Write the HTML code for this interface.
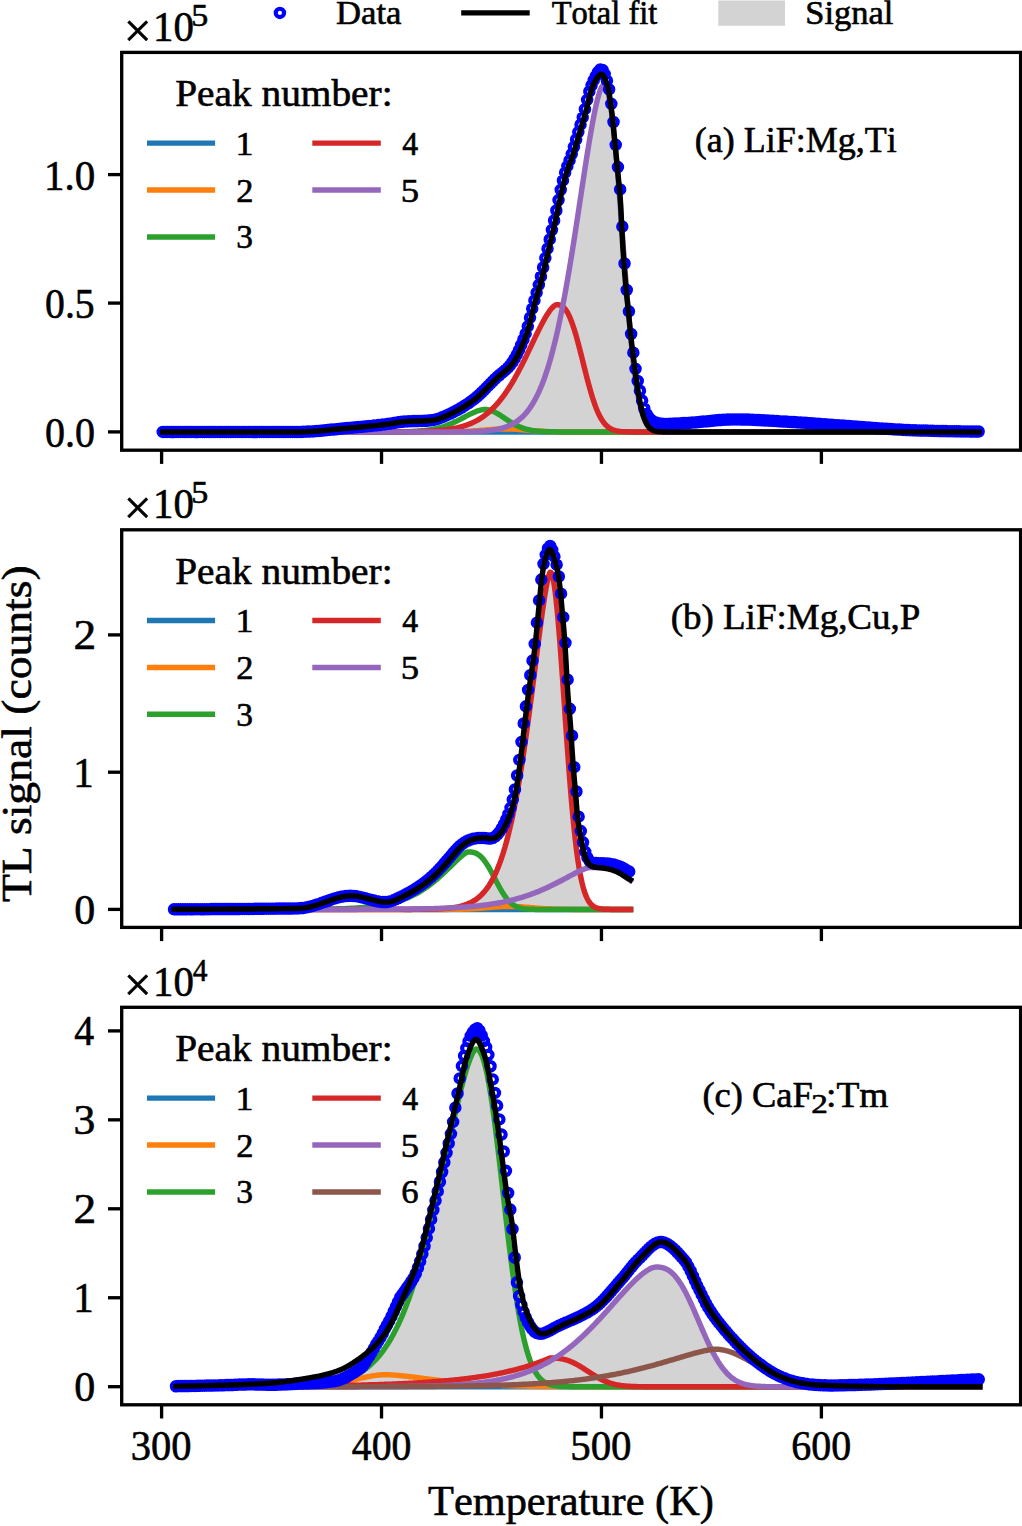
<!DOCTYPE html><html><head><meta charset="utf-8"><style>html,body{margin:0;padding:0;background:#fff;width:1022px;height:1526px;overflow:hidden;position:relative}</style></head><body><svg width="1022" height="1526" viewBox="0 0 1022 1526" style="position:absolute;left:0;top:0;font-family:'Liberation Serif',serif;font-kerning:none">
<style>text{stroke:#000;stroke-width:0.6px;stroke-linejoin:round}</style>
<rect width="1022" height="1526" fill="#fff"/>
<clipPath id="clipa"><rect x="121.7" y="52.4" width="898.9" height="397.8"/></clipPath>
<g clip-path="url(#clipa)">
<path d="M162.7,431.9 L163.7,431.9 L164.7,431.9 L165.7,431.9 L166.7,431.9 L167.7,431.9 L168.7,431.9 L169.7,431.9 L170.7,431.9 L171.7,431.9 L172.7,431.9 L173.7,431.9 L174.7,431.9 L175.7,431.9 L176.7,431.9 L177.7,431.9 L178.7,431.9 L179.7,431.9 L180.7,431.9 L181.7,431.9 L182.7,431.9 L183.7,431.9 L184.7,431.9 L185.7,431.9 L186.7,431.9 L187.7,431.9 L188.7,431.9 L189.7,431.9 L190.7,431.9 L191.7,431.9 L192.7,431.9 L193.7,431.9 L194.7,431.9 L195.7,431.9 L196.7,431.9 L197.7,431.9 L198.7,431.9 L199.7,431.9 L200.7,431.9 L201.7,431.9 L202.7,431.9 L203.7,431.9 L204.7,431.9 L205.7,431.9 L206.7,431.9 L207.7,431.9 L208.7,431.9 L209.7,431.9 L210.7,431.9 L211.7,431.9 L212.7,431.9 L213.7,431.9 L214.7,431.9 L215.7,431.9 L216.7,431.9 L217.7,431.9 L218.7,431.9 L219.7,431.9 L220.7,431.9 L221.7,431.9 L222.7,431.9 L223.7,431.9 L224.7,431.9 L225.7,431.9 L226.7,431.9 L227.7,431.9 L228.7,431.9 L229.7,431.9 L230.7,431.9 L231.7,431.9 L232.7,431.9 L233.7,431.9 L234.7,431.9 L235.7,431.9 L236.7,431.9 L237.7,431.9 L238.7,431.9 L239.7,431.9 L240.7,431.9 L241.7,431.9 L242.7,431.9 L243.7,431.9 L244.7,431.9 L245.7,431.9 L246.7,431.9 L247.7,431.9 L248.7,431.9 L249.7,431.9 L250.7,431.9 L251.7,431.9 L252.7,431.9 L253.7,431.9 L254.7,431.9 L255.7,431.9 L256.7,431.9 L257.7,431.9 L258.7,431.9 L259.7,431.9 L260.7,431.9 L261.7,431.9 L262.7,431.9 L263.7,431.9 L264.7,431.9 L265.7,431.9 L266.7,431.9 L267.7,431.9 L268.7,431.9 L269.7,431.9 L270.7,431.9 L271.7,431.9 L272.7,431.9 L273.7,431.9 L274.7,431.9 L275.7,431.9 L276.7,431.9 L277.7,431.9 L278.7,431.9 L279.7,431.9 L280.7,431.9 L281.7,431.9 L282.7,431.9 L283.7,431.9 L284.7,431.9 L285.7,431.9 L286.7,431.9 L287.7,431.9 L288.7,431.9 L289.7,431.9 L290.7,431.9 L291.7,431.9 L292.7,431.9 L293.7,431.9 L294.7,431.9 L295.7,431.9 L296.7,431.9 L297.7,431.9 L298.7,431.9 L299.7,431.9 L300.7,431.9 L301.7,431.9 L302.7,431.9 L303.7,431.9 L304.7,431.9 L305.7,431.9 L306.7,431.9 L307.7,431.9 L308.7,431.9 L309.7,431.9 L310.7,431.9 L311.7,431.9 L312.7,431.9 L313.7,431.9 L314.7,431.9 L315.7,431.9 L316.7,431.9 L317.7,431.9 L318.7,431.9 L319.7,431.9 L320.7,431.9 L321.7,431.9 L322.7,431.9 L323.7,431.9 L324.7,431.9 L325.7,431.9 L326.7,431.9 L327.7,431.9 L328.7,431.9 L329.7,431.9 L330.7,431.9 L331.7,431.9 L332.7,431.9 L333.7,431.9 L334.7,431.9 L335.7,431.9 L336.7,431.9 L337.7,431.9 L338.7,431.9 L339.7,431.9 L340.7,431.9 L341.7,431.9 L342.7,431.9 L343.7,431.9 L344.7,431.9 L345.7,431.9 L346.7,431.9 L347.7,431.9 L348.7,431.9 L349.7,431.9 L350.7,431.9 L351.7,431.9 L352.7,431.9 L353.7,431.9 L354.7,431.9 L355.7,431.9 L356.7,431.9 L357.7,431.9 L358.7,431.9 L359.7,431.9 L360.7,431.9 L361.7,431.9 L362.7,431.9 L363.7,431.9 L364.7,431.9 L365.7,431.9 L366.7,431.9 L367.7,431.9 L368.7,431.9 L369.7,431.9 L370.7,431.9 L371.7,431.9 L372.7,431.9 L373.7,431.9 L374.7,431.9 L375.7,431.9 L376.7,431.9 L377.7,431.9 L378.7,431.9 L379.7,431.9 L380.7,431.9 L381.7,431.9 L382.7,431.9 L383.7,431.9 L384.7,431.9 L385.7,431.9 L386.7,431.9 L387.7,431.9 L388.7,431.9 L389.7,431.8 L390.7,431.8 L391.7,431.8 L392.7,431.8 L393.7,431.8 L394.7,431.8 L395.7,431.8 L396.7,431.8 L397.7,431.8 L398.7,431.8 L399.7,431.8 L400.7,431.8 L401.7,431.8 L402.7,431.8 L403.7,431.8 L404.7,431.8 L405.7,431.7 L406.7,431.7 L407.7,431.7 L408.7,431.7 L409.7,431.7 L410.7,431.7 L411.7,431.7 L412.7,431.6 L413.7,431.6 L414.7,431.6 L415.7,431.6 L416.7,431.6 L417.7,431.5 L418.7,431.5 L419.7,431.5 L420.7,431.5 L421.7,431.4 L422.7,431.4 L423.7,431.4 L424.7,431.3 L425.7,431.3 L426.7,431.2 L427.7,431.2 L428.7,431.1 L429.7,431.1 L430.7,431.0 L431.7,431.0 L432.7,430.9 L433.7,430.9 L434.7,430.8 L435.7,430.7 L436.7,430.7 L437.7,430.6 L438.7,430.5 L439.7,430.4 L440.7,430.3 L441.7,430.2 L442.7,430.1 L443.7,430.0 L444.7,429.9 L445.7,429.8 L446.7,429.6 L447.7,429.5 L448.7,429.3 L449.7,429.2 L450.7,429.0 L451.7,428.9 L452.7,428.7 L453.7,428.5 L454.7,428.3 L455.7,428.1 L456.7,427.9 L457.7,427.7 L458.7,427.4 L459.7,427.2 L460.7,426.9 L461.7,426.6 L462.7,426.3 L463.7,426.0 L464.7,425.7 L465.7,425.4 L466.7,425.0 L467.7,424.7 L468.7,424.3 L469.7,423.9 L470.7,423.5 L471.7,423.1 L472.7,422.6 L473.7,422.1 L474.7,421.6 L475.7,421.1 L476.7,420.6 L477.7,420.0 L478.7,419.5 L479.7,418.9 L480.7,418.2 L481.7,417.6 L482.7,416.9 L483.7,416.2 L484.7,415.5 L485.7,414.7 L486.7,413.9 L487.7,413.1 L488.7,412.2 L489.7,411.4 L490.7,410.5 L491.7,409.5 L492.7,408.5 L493.7,407.5 L494.7,406.5 L495.7,405.4 L496.7,404.3 L497.7,403.2 L498.7,402.0 L499.7,400.8 L500.7,399.5 L501.7,398.3 L502.7,396.9 L503.7,395.6 L504.7,394.2 L505.7,392.8 L506.7,391.3 L507.7,389.8 L508.7,388.3 L509.7,386.7 L510.7,385.1 L511.7,383.5 L512.7,381.8 L513.7,380.1 L514.7,378.3 L515.7,376.5 L516.7,374.7 L517.7,372.9 L518.7,371.0 L519.7,369.1 L520.7,367.2 L521.7,365.2 L522.7,363.2 L523.7,361.2 L524.7,359.2 L525.7,357.2 L526.7,355.1 L527.7,353.0 L528.7,350.9 L529.7,348.9 L530.7,346.8 L531.7,344.6 L532.7,342.5 L533.7,340.4 L534.7,338.3 L535.7,336.2 L536.7,334.2 L537.7,332.1 L538.7,330.1 L539.7,328.1 L540.7,326.1 L541.7,324.2 L542.7,322.3 L543.7,320.4 L544.7,318.6 L545.7,316.9 L546.7,315.2 L547.7,313.7 L548.7,312.2 L549.7,310.7 L550.7,309.4 L551.7,308.2 L552.7,307.2 L553.7,306.2 L554.7,305.5 L555.7,304.9 L556.7,304.7 L557.7,304.7 L558.7,304.8 L559.7,305.0 L560.7,305.4 L561.7,305.9 L562.7,306.6 L563.7,307.4 L564.7,308.5 L565.7,309.7 L566.7,311.2 L567.7,312.9 L568.7,314.9 L569.7,317.0 L570.7,319.4 L571.7,322.0 L572.7,324.8 L573.7,327.8 L574.7,330.9 L575.7,334.3 L576.7,337.8 L577.7,341.4 L578.7,345.2 L579.7,349.0 L580.7,353.0 L581.7,356.9 L582.7,360.9 L583.7,365.0 L584.7,369.0 L585.7,372.9 L586.7,376.9 L587.7,380.7 L588.7,384.5 L589.7,388.1 L590.7,391.6 L591.7,395.0 L592.7,398.2 L593.7,401.2 L594.7,404.1 L595.7,406.9 L596.7,409.4 L597.7,411.8 L598.7,414.0 L599.7,416.0 L600.7,417.9 L601.7,419.6 L602.7,421.1 L603.7,422.5 L604.7,423.7 L605.7,424.9 L606.7,425.9 L607.7,426.7 L608.7,427.5 L609.7,428.2 L610.7,428.8 L611.7,429.3 L612.7,429.7 L613.7,430.1 L614.7,430.4 L615.7,430.7 L616.7,430.9 L617.7,431.1 L618.7,431.2 L619.7,431.4 L620.7,431.5 L621.7,431.6 L622.7,431.6 L623.7,431.7 L624.7,431.7 L625.7,431.8 L626.7,431.8 L627.7,431.8 L628.7,431.8 L629.7,431.9 L630.7,431.9 L631.7,431.9 L632.7,431.9 L633.7,431.9 L634.7,431.9 L635.7,431.9 L636.7,431.9 L637.7,431.9 L638.7,431.9 L639.7,431.9 L640.7,431.9 L641.7,431.9 L642.7,431.9 L643.7,431.9 L644.7,431.9 L645.7,431.9 L646.7,431.9 L647.7,431.9 L648.7,431.9 L649.7,431.9 L650.7,431.9 L651.7,431.9 L652.7,431.9 L653.7,431.9 L654.7,431.9 L655.7,431.9 L656.7,431.9 L657.7,431.9 L658.7,431.9 L659.7,431.9 L660.7,431.9 L661.7,431.9 L662.7,431.9 L663.7,431.9 L664.7,431.9 L665.7,431.9 L666.7,431.9 L667.7,431.9 L668.7,431.9 L669.7,431.9 L670.7,431.9 L671.7,431.9 L672.7,431.9 L673.7,431.9 L674.7,431.9 L675.7,431.9 L676.7,431.9 L677.7,431.9 L678.7,431.9 L679.7,431.9 L680.7,431.9 L681.7,431.9 L682.7,431.9 L683.7,431.9 L684.7,431.9 L685.7,431.9 L686.7,431.9 L687.7,431.9 L688.7,431.9 L689.7,431.9 L690.7,431.9 L691.7,431.9 L692.7,431.9 L693.7,431.9 L694.7,431.9 L695.7,431.9 L696.7,431.9 L697.7,431.9 L698.7,431.9 L699.7,431.9 L700.7,431.9 L701.7,431.9 L702.7,431.9 L703.7,431.9 L704.7,431.9 L705.7,431.9 L706.7,431.9 L707.7,431.9 L708.7,431.9 L709.7,431.9 L710.7,431.9 L711.7,431.9 L712.7,431.9 L713.7,431.9 L714.7,431.9 L715.7,431.9 L716.7,431.9 L717.7,431.9 L718.7,431.9 L719.7,431.9 L720.7,431.9 L721.7,431.9 L722.7,431.9 L723.7,431.9 L724.7,431.9 L725.7,431.9 L726.7,431.9 L727.7,431.9 L728.7,431.9 L729.7,431.9 L730.7,431.9 L731.7,431.9 L732.7,431.9 L733.7,431.9 L734.7,431.9 L735.7,431.9 L736.7,431.9 L737.7,431.9 L738.7,431.9 L739.7,431.9 L740.7,431.9 L741.7,431.9 L742.7,431.9 L743.7,431.9 L744.7,431.9 L745.7,431.9 L746.7,431.9 L747.7,431.9 L748.7,431.9 L749.7,431.9 L750.7,431.9 L751.7,431.9 L752.7,431.9 L753.7,431.9 L754.7,431.9 L755.7,431.9 L756.7,431.9 L757.7,431.9 L758.7,431.9 L759.7,431.9 L760.7,431.9 L761.7,431.9 L762.7,431.9 L763.7,431.9 L764.7,431.9 L765.7,431.9 L766.7,431.9 L767.7,431.9 L768.7,431.9 L769.7,431.9 L770.7,431.9 L771.7,431.9 L772.7,431.9 L773.7,431.9 L774.7,431.9 L775.7,431.9 L776.7,431.9 L777.7,431.9 L778.7,431.9 L779.7,431.9 L780.7,431.9 L781.7,431.9 L782.7,431.9 L783.7,431.9 L784.7,431.9 L785.7,431.9 L786.7,431.9 L787.7,431.9 L788.7,431.9 L789.7,431.9 L790.7,431.9 L791.7,431.9 L792.7,431.9 L793.7,431.9 L794.7,431.9 L795.7,431.9 L796.7,431.9 L797.7,431.9 L798.7,431.9 L799.7,431.9 L800.7,431.9 L801.7,431.9 L802.7,431.9 L803.7,431.9 L804.7,431.9 L805.7,431.9 L806.7,431.9 L807.7,431.9 L808.7,431.9 L809.7,431.9 L810.7,431.9 L811.7,431.9 L812.7,431.9 L813.7,431.9 L814.7,431.9 L815.7,431.9 L816.7,431.9 L817.7,431.9 L818.7,431.9 L819.7,431.9 L820.7,431.9 L821.7,431.9 L822.7,431.9 L823.7,431.9 L824.7,431.9 L825.7,431.9 L826.7,431.9 L827.7,431.9 L828.7,431.9 L829.7,431.9 L830.7,431.9 L831.7,431.9 L832.7,431.9 L833.7,431.9 L834.7,431.9 L835.7,431.9 L836.7,431.9 L837.7,431.9 L838.7,431.9 L839.7,431.9 L840.7,431.9 L841.7,431.9 L842.7,431.9 L843.7,431.9 L844.7,431.9 L845.7,431.9 L846.7,431.9 L847.7,431.9 L848.7,431.9 L849.7,431.9 L850.7,431.9 L851.7,431.9 L852.7,431.9 L853.7,431.9 L854.7,431.9 L855.7,431.9 L856.7,431.9 L857.7,431.9 L858.7,431.9 L859.7,431.9 L860.7,431.9 L861.7,431.9 L862.7,431.9 L863.7,431.9 L864.7,431.9 L865.7,431.9 L866.7,431.9 L867.7,431.9 L868.7,431.9 L869.7,431.9 L870.7,431.9 L871.7,431.9 L872.7,431.9 L873.7,431.9 L874.7,431.9 L875.7,431.9 L876.7,431.9 L877.7,431.9 L878.7,431.9 L879.7,431.9 L880.7,431.9 L881.7,431.9 L882.7,431.9 L883.7,431.9 L884.7,431.9 L885.7,431.9 L886.7,431.9 L887.7,431.9 L888.7,431.9 L889.7,431.9 L890.7,431.9 L891.7,431.9 L892.7,431.9 L893.7,431.9 L894.7,431.9 L895.7,431.9 L896.7,431.9 L897.7,431.9 L898.7,431.9 L899.7,431.9 L900.7,431.9 L901.7,431.9 L902.7,431.9 L903.7,431.9 L904.7,431.9 L905.7,431.9 L906.7,431.9 L907.7,431.9 L908.7,431.9 L909.7,431.9 L910.7,431.9 L911.7,431.9 L912.7,431.9 L913.7,431.9 L914.7,431.9 L915.7,431.9 L916.7,431.9 L917.7,431.9 L918.7,431.9 L919.7,431.9 L920.7,431.9 L921.7,431.9 L922.7,431.9 L923.7,431.9 L924.7,431.9 L925.7,431.9 L926.7,431.9 L927.7,431.9 L928.7,431.9 L929.7,431.9 L930.7,431.9 L931.7,431.9 L932.7,431.9 L933.7,431.9 L934.7,431.9 L935.7,431.9 L936.7,431.9 L937.7,431.9 L938.7,431.9 L939.7,431.9 L940.7,431.9 L941.7,431.9 L942.7,431.9 L943.7,431.9 L944.7,431.9 L945.7,431.9 L946.7,431.9 L947.7,431.9 L948.7,431.9 L949.7,431.9 L950.7,431.9 L951.7,431.9 L952.7,431.9 L953.7,431.9 L954.7,431.9 L955.7,431.9 L956.7,431.9 L957.7,431.9 L958.7,431.9 L959.7,431.9 L960.7,431.9 L961.7,431.9 L962.7,431.9 L963.7,431.9 L964.7,431.9 L965.7,431.9 L966.7,431.9 L967.7,431.9 L968.7,431.9 L969.7,431.9 L970.7,431.9 L971.7,431.9 L972.7,431.9 L973.7,431.9 L974.7,431.9 L975.7,431.9 L976.7,431.9 L977.7,431.9 L978.7,431.9 L979.0,431.9 L979.0,431.9 L162.7,431.9 Z" fill="#d3d3d3" stroke="none"/>
<path d="M162.7,431.9 L163.7,431.9 L164.7,431.9 L165.7,431.9 L166.7,431.9 L167.7,431.9 L168.7,431.9 L169.7,431.9 L170.7,431.9 L171.7,431.9 L172.7,431.9 L173.7,431.9 L174.7,431.9 L175.7,431.9 L176.7,431.9 L177.7,431.9 L178.7,431.9 L179.7,431.9 L180.7,431.9 L181.7,431.9 L182.7,431.9 L183.7,431.9 L184.7,431.9 L185.7,431.9 L186.7,431.9 L187.7,431.9 L188.7,431.9 L189.7,431.9 L190.7,431.9 L191.7,431.9 L192.7,431.9 L193.7,431.9 L194.7,431.9 L195.7,431.9 L196.7,431.9 L197.7,431.9 L198.7,431.9 L199.7,431.9 L200.7,431.9 L201.7,431.9 L202.7,431.9 L203.7,431.9 L204.7,431.9 L205.7,431.9 L206.7,431.9 L207.7,431.9 L208.7,431.9 L209.7,431.9 L210.7,431.9 L211.7,431.9 L212.7,431.9 L213.7,431.9 L214.7,431.9 L215.7,431.9 L216.7,431.9 L217.7,431.9 L218.7,431.9 L219.7,431.9 L220.7,431.9 L221.7,431.9 L222.7,431.9 L223.7,431.9 L224.7,431.9 L225.7,431.9 L226.7,431.9 L227.7,431.9 L228.7,431.9 L229.7,431.9 L230.7,431.9 L231.7,431.9 L232.7,431.9 L233.7,431.9 L234.7,431.9 L235.7,431.9 L236.7,431.9 L237.7,431.9 L238.7,431.9 L239.7,431.9 L240.7,431.9 L241.7,431.9 L242.7,431.9 L243.7,431.9 L244.7,431.9 L245.7,431.9 L246.7,431.9 L247.7,431.9 L248.7,431.9 L249.7,431.9 L250.7,431.9 L251.7,431.9 L252.7,431.9 L253.7,431.9 L254.7,431.9 L255.7,431.9 L256.7,431.9 L257.7,431.9 L258.7,431.9 L259.7,431.9 L260.7,431.9 L261.7,431.9 L262.7,431.9 L263.7,431.9 L264.7,431.9 L265.7,431.9 L266.7,431.9 L267.7,431.9 L268.7,431.9 L269.7,431.9 L270.7,431.9 L271.7,431.9 L272.7,431.9 L273.7,431.9 L274.7,431.9 L275.7,431.9 L276.7,431.9 L277.7,431.9 L278.7,431.9 L279.7,431.9 L280.7,431.9 L281.7,431.9 L282.7,431.9 L283.7,431.9 L284.7,431.9 L285.7,431.9 L286.7,431.9 L287.7,431.9 L288.7,431.9 L289.7,431.9 L290.7,431.9 L291.7,431.9 L292.7,431.9 L293.7,431.9 L294.7,431.9 L295.7,431.9 L296.7,431.9 L297.7,431.9 L298.7,431.9 L299.7,431.9 L300.7,431.9 L301.7,431.9 L302.7,431.9 L303.7,431.9 L304.7,431.9 L305.7,431.9 L306.7,431.9 L307.7,431.9 L308.7,431.9 L309.7,431.9 L310.7,431.9 L311.7,431.9 L312.7,431.9 L313.7,431.9 L314.7,431.9 L315.7,431.9 L316.7,431.9 L317.7,431.9 L318.7,431.9 L319.7,431.9 L320.7,431.9 L321.7,431.9 L322.7,431.9 L323.7,431.9 L324.7,431.9 L325.7,431.9 L326.7,431.9 L327.7,431.9 L328.7,431.9 L329.7,431.9 L330.7,431.9 L331.7,431.9 L332.7,431.9 L333.7,431.9 L334.7,431.9 L335.7,431.9 L336.7,431.9 L337.7,431.9 L338.7,431.9 L339.7,431.9 L340.7,431.9 L341.7,431.9 L342.7,431.9 L343.7,431.9 L344.7,431.9 L345.7,431.9 L346.7,431.9 L347.7,431.9 L348.7,431.9 L349.7,431.9 L350.7,431.9 L351.7,431.9 L352.7,431.9 L353.7,431.9 L354.7,431.9 L355.7,431.9 L356.7,431.9 L357.7,431.9 L358.7,431.9 L359.7,431.9 L360.7,431.9 L361.7,431.9 L362.7,431.9 L363.7,431.9 L364.7,431.9 L365.7,431.9 L366.7,431.9 L367.7,431.9 L368.7,431.9 L369.7,431.9 L370.7,431.9 L371.7,431.9 L372.7,431.9 L373.7,431.9 L374.7,431.9 L375.7,431.9 L376.7,431.9 L377.7,431.9 L378.7,431.9 L379.7,431.9 L380.7,431.9 L381.7,431.9 L382.7,431.9 L383.7,431.9 L384.7,431.9 L385.7,431.9 L386.7,431.9 L387.7,431.9 L388.7,431.9 L389.7,431.9 L390.7,431.9 L391.7,431.9 L392.7,431.9 L393.7,431.9 L394.7,431.9 L395.7,431.9 L396.7,431.9 L397.7,431.9 L398.7,431.9 L399.7,431.9 L400.7,431.9 L401.7,431.9 L402.7,431.9 L403.7,431.9 L404.7,431.9 L405.7,431.9 L406.7,431.9 L407.7,431.9 L408.7,431.9 L409.7,431.9 L410.7,431.9 L411.7,431.9 L412.7,431.9 L413.7,431.9 L414.7,431.9 L415.7,431.9 L416.7,431.9 L417.7,431.9 L418.7,431.9 L419.7,431.9 L420.7,431.9 L421.7,431.9 L422.7,431.9 L423.7,431.9 L424.7,431.9 L425.7,431.9 L426.7,431.9 L427.7,431.9 L428.7,431.9 L429.7,431.9 L430.7,431.9 L431.7,431.9 L432.7,431.9 L433.7,431.9 L434.7,431.9 L435.7,431.9 L436.7,431.9 L437.7,431.9 L438.7,431.9 L439.7,431.9 L440.7,431.9 L441.7,431.9 L442.7,431.9 L443.7,431.9 L444.7,431.9 L445.7,431.9 L446.7,431.9 L447.7,431.9 L448.7,431.9 L449.7,431.9 L450.7,431.9 L451.7,431.8 L452.7,431.8 L453.7,431.8 L454.7,431.8 L455.7,431.8 L456.7,431.8 L457.7,431.8 L458.7,431.8 L459.7,431.8 L460.7,431.8 L461.7,431.8 L462.7,431.8 L463.7,431.7 L464.7,431.7 L465.7,431.7 L466.7,431.7 L467.7,431.7 L468.7,431.6 L469.7,431.6 L470.7,431.6 L471.7,431.6 L472.7,431.5 L473.7,431.5 L474.7,431.5 L475.7,431.4 L476.7,431.4 L477.7,431.4 L478.7,431.3 L479.7,431.3 L480.7,431.2 L481.7,431.1 L482.7,431.1 L483.7,431.0 L484.7,430.9 L485.7,430.8 L486.7,430.8 L487.7,430.7 L488.7,430.6 L489.7,430.4 L490.7,430.3 L491.7,430.2 L492.7,430.1 L493.7,429.9 L494.7,429.8 L495.7,429.6 L496.7,429.4 L497.7,429.2 L498.7,429.0 L499.7,428.8 L500.7,428.5 L501.7,428.3 L502.7,428.0 L503.7,427.7 L504.7,427.4 L505.7,427.0 L506.7,426.7 L507.7,426.3 L508.7,425.9 L509.7,425.4 L510.7,425.0 L511.7,424.5 L512.7,424.0 L513.7,423.4 L514.7,422.8 L515.7,422.2 L516.7,421.5 L517.7,420.8 L518.7,420.0 L519.7,419.2 L520.7,418.4 L521.7,417.5 L522.7,416.6 L523.7,415.6 L524.7,414.5 L525.7,413.4 L526.7,412.2 L527.7,411.0 L528.7,409.6 L529.7,408.3 L530.7,406.8 L531.7,405.3 L532.7,403.7 L533.7,402.0 L534.7,400.2 L535.7,398.4 L536.7,396.4 L537.7,394.4 L538.7,392.3 L539.7,390.0 L540.7,387.7 L541.7,385.3 L542.7,382.7 L543.7,380.1 L544.7,377.3 L545.7,374.4 L546.7,371.4 L547.7,368.3 L548.7,365.0 L549.7,361.7 L550.7,358.2 L551.7,354.6 L552.7,350.8 L553.7,346.9 L554.7,342.9 L555.7,338.8 L556.7,334.5 L557.7,330.1 L558.7,325.5 L559.7,320.8 L560.7,316.0 L561.7,311.0 L562.7,306.0 L563.7,300.7 L564.7,295.4 L565.7,289.9 L566.7,284.3 L567.7,278.6 L568.7,272.8 L569.7,266.9 L570.7,260.9 L571.7,254.8 L572.7,248.5 L573.7,242.2 L574.7,235.9 L575.7,229.4 L576.7,222.9 L577.7,216.4 L578.7,209.8 L579.7,203.2 L580.7,196.6 L581.7,190.0 L582.7,183.4 L583.7,176.9 L584.7,170.3 L585.7,163.9 L586.7,157.5 L587.7,151.2 L588.7,145.1 L589.7,139.0 L590.7,133.2 L591.7,127.5 L592.7,122.0 L593.7,116.8 L594.7,111.8 L595.7,107.1 L596.7,102.7 L597.7,98.7 L598.7,95.0 L599.7,91.8 L600.7,89.1 L601.7,87.0 L602.7,85.6 L603.7,85.2 L604.7,85.6 L605.7,86.8 L606.7,88.7 L607.7,91.7 L608.7,95.5 L609.7,100.4 L610.7,106.4 L611.7,113.3 L612.7,121.2 L613.7,130.1 L614.7,139.8 L615.7,150.4 L616.7,161.7 L617.7,173.6 L618.7,186.1 L619.7,199.0 L620.7,212.1 L621.7,225.5 L622.7,239.0 L623.7,252.4 L624.7,265.7 L625.7,278.8 L626.7,291.5 L627.7,303.8 L628.7,315.6 L629.7,326.9 L630.7,337.5 L631.7,347.6 L632.7,356.9 L633.7,365.6 L634.7,373.6 L635.7,380.9 L636.7,387.5 L637.7,393.5 L638.7,398.9 L639.7,403.6 L640.7,407.9 L641.7,411.6 L642.7,414.8 L643.7,417.6 L644.7,420.0 L645.7,422.1 L646.7,423.8 L647.7,425.3 L648.7,426.6 L649.7,427.6 L650.7,428.5 L651.7,429.2 L652.7,429.7 L653.7,430.2 L654.7,430.6 L655.7,430.9 L656.7,431.1 L657.7,431.3 L658.7,431.4 L659.7,431.5 L660.7,431.6 L661.7,431.7 L662.7,431.8 L663.7,431.8 L664.7,431.8 L665.7,431.8 L666.7,431.9 L667.7,431.9 L668.7,431.9 L669.7,431.9 L670.7,431.9 L671.7,431.9 L672.7,431.9 L673.7,431.9 L674.7,431.9 L675.7,431.9 L676.7,431.9 L677.7,431.9 L678.7,431.9 L679.7,431.9 L680.7,431.9 L681.7,431.9 L682.7,431.9 L683.7,431.9 L684.7,431.9 L685.7,431.9 L686.7,431.9 L687.7,431.9 L688.7,431.9 L689.7,431.9 L690.7,431.9 L691.7,431.9 L692.7,431.9 L693.7,431.9 L694.7,431.9 L695.7,431.9 L696.7,431.9 L697.7,431.9 L698.7,431.9 L699.7,431.9 L700.7,431.9 L701.7,431.9 L702.7,431.9 L703.7,431.9 L704.7,431.9 L705.7,431.9 L706.7,431.9 L707.7,431.9 L708.7,431.9 L709.7,431.9 L710.7,431.9 L711.7,431.9 L712.7,431.9 L713.7,431.9 L714.7,431.9 L715.7,431.9 L716.7,431.9 L717.7,431.9 L718.7,431.9 L719.7,431.9 L720.7,431.9 L721.7,431.9 L722.7,431.9 L723.7,431.9 L724.7,431.9 L725.7,431.9 L726.7,431.9 L727.7,431.9 L728.7,431.9 L729.7,431.9 L730.7,431.9 L731.7,431.9 L732.7,431.9 L733.7,431.9 L734.7,431.9 L735.7,431.9 L736.7,431.9 L737.7,431.9 L738.7,431.9 L739.7,431.9 L740.7,431.9 L741.7,431.9 L742.7,431.9 L743.7,431.9 L744.7,431.9 L745.7,431.9 L746.7,431.9 L747.7,431.9 L748.7,431.9 L749.7,431.9 L750.7,431.9 L751.7,431.9 L752.7,431.9 L753.7,431.9 L754.7,431.9 L755.7,431.9 L756.7,431.9 L757.7,431.9 L758.7,431.9 L759.7,431.9 L760.7,431.9 L761.7,431.9 L762.7,431.9 L763.7,431.9 L764.7,431.9 L765.7,431.9 L766.7,431.9 L767.7,431.9 L768.7,431.9 L769.7,431.9 L770.7,431.9 L771.7,431.9 L772.7,431.9 L773.7,431.9 L774.7,431.9 L775.7,431.9 L776.7,431.9 L777.7,431.9 L778.7,431.9 L779.7,431.9 L780.7,431.9 L781.7,431.9 L782.7,431.9 L783.7,431.9 L784.7,431.9 L785.7,431.9 L786.7,431.9 L787.7,431.9 L788.7,431.9 L789.7,431.9 L790.7,431.9 L791.7,431.9 L792.7,431.9 L793.7,431.9 L794.7,431.9 L795.7,431.9 L796.7,431.9 L797.7,431.9 L798.7,431.9 L799.7,431.9 L800.7,431.9 L801.7,431.9 L802.7,431.9 L803.7,431.9 L804.7,431.9 L805.7,431.9 L806.7,431.9 L807.7,431.9 L808.7,431.9 L809.7,431.9 L810.7,431.9 L811.7,431.9 L812.7,431.9 L813.7,431.9 L814.7,431.9 L815.7,431.9 L816.7,431.9 L817.7,431.9 L818.7,431.9 L819.7,431.9 L820.7,431.9 L821.7,431.9 L822.7,431.9 L823.7,431.9 L824.7,431.9 L825.7,431.9 L826.7,431.9 L827.7,431.9 L828.7,431.9 L829.7,431.9 L830.7,431.9 L831.7,431.9 L832.7,431.9 L833.7,431.9 L834.7,431.9 L835.7,431.9 L836.7,431.9 L837.7,431.9 L838.7,431.9 L839.7,431.9 L840.7,431.9 L841.7,431.9 L842.7,431.9 L843.7,431.9 L844.7,431.9 L845.7,431.9 L846.7,431.9 L847.7,431.9 L848.7,431.9 L849.7,431.9 L850.7,431.9 L851.7,431.9 L852.7,431.9 L853.7,431.9 L854.7,431.9 L855.7,431.9 L856.7,431.9 L857.7,431.9 L858.7,431.9 L859.7,431.9 L860.7,431.9 L861.7,431.9 L862.7,431.9 L863.7,431.9 L864.7,431.9 L865.7,431.9 L866.7,431.9 L867.7,431.9 L868.7,431.9 L869.7,431.9 L870.7,431.9 L871.7,431.9 L872.7,431.9 L873.7,431.9 L874.7,431.9 L875.7,431.9 L876.7,431.9 L877.7,431.9 L878.7,431.9 L879.7,431.9 L880.7,431.9 L881.7,431.9 L882.7,431.9 L883.7,431.9 L884.7,431.9 L885.7,431.9 L886.7,431.9 L887.7,431.9 L888.7,431.9 L889.7,431.9 L890.7,431.9 L891.7,431.9 L892.7,431.9 L893.7,431.9 L894.7,431.9 L895.7,431.9 L896.7,431.9 L897.7,431.9 L898.7,431.9 L899.7,431.9 L900.7,431.9 L901.7,431.9 L902.7,431.9 L903.7,431.9 L904.7,431.9 L905.7,431.9 L906.7,431.9 L907.7,431.9 L908.7,431.9 L909.7,431.9 L910.7,431.9 L911.7,431.9 L912.7,431.9 L913.7,431.9 L914.7,431.9 L915.7,431.9 L916.7,431.9 L917.7,431.9 L918.7,431.9 L919.7,431.9 L920.7,431.9 L921.7,431.9 L922.7,431.9 L923.7,431.9 L924.7,431.9 L925.7,431.9 L926.7,431.9 L927.7,431.9 L928.7,431.9 L929.7,431.9 L930.7,431.9 L931.7,431.9 L932.7,431.9 L933.7,431.9 L934.7,431.9 L935.7,431.9 L936.7,431.9 L937.7,431.9 L938.7,431.9 L939.7,431.9 L940.7,431.9 L941.7,431.9 L942.7,431.9 L943.7,431.9 L944.7,431.9 L945.7,431.9 L946.7,431.9 L947.7,431.9 L948.7,431.9 L949.7,431.9 L950.7,431.9 L951.7,431.9 L952.7,431.9 L953.7,431.9 L954.7,431.9 L955.7,431.9 L956.7,431.9 L957.7,431.9 L958.7,431.9 L959.7,431.9 L960.7,431.9 L961.7,431.9 L962.7,431.9 L963.7,431.9 L964.7,431.9 L965.7,431.9 L966.7,431.9 L967.7,431.9 L968.7,431.9 L969.7,431.9 L970.7,431.9 L971.7,431.9 L972.7,431.9 L973.7,431.9 L974.7,431.9 L975.7,431.9 L976.7,431.9 L977.7,431.9 L978.7,431.9 L979.0,431.9 L979.0,431.9 L162.7,431.9 Z" fill="#d3d3d3" stroke="none"/>
<path d="M162.7,431.9 L163.7,431.9 L164.7,431.9 L165.7,431.9 L166.7,431.9 L167.7,431.9 L168.7,431.9 L169.7,431.9 L170.7,431.9 L171.7,431.9 L172.7,431.9 L173.7,431.9 L174.7,431.9 L175.7,431.9 L176.7,431.9 L177.7,431.9 L178.7,431.9 L179.7,431.9 L180.7,431.9 L181.7,431.9 L182.7,431.9 L183.7,431.9 L184.7,431.9 L185.7,431.9 L186.7,431.9 L187.7,431.9 L188.7,431.9 L189.7,431.9 L190.7,431.9 L191.7,431.9 L192.7,431.9 L193.7,431.9 L194.7,431.9 L195.7,431.9 L196.7,431.9 L197.7,431.9 L198.7,431.9 L199.7,431.9 L200.7,431.9 L201.7,431.9 L202.7,431.9 L203.7,431.9 L204.7,431.9 L205.7,431.9 L206.7,431.9 L207.7,431.9 L208.7,431.9 L209.7,431.9 L210.7,431.9 L211.7,431.9 L212.7,431.9 L213.7,431.9 L214.7,431.9 L215.7,431.9 L216.7,431.9 L217.7,431.9 L218.7,431.9 L219.7,431.9 L220.7,431.9 L221.7,431.9 L222.7,431.9 L223.7,431.9 L224.7,431.9 L225.7,431.9 L226.7,431.9 L227.7,431.9 L228.7,431.9 L229.7,431.9 L230.7,431.9 L231.7,431.9 L232.7,431.9 L233.7,431.9 L234.7,431.9 L235.7,431.9 L236.7,431.9 L237.7,431.9 L238.7,431.9 L239.7,431.9 L240.7,431.9 L241.7,431.9 L242.7,431.9 L243.7,431.9 L244.7,431.9 L245.7,431.9 L246.7,431.9 L247.7,431.9 L248.7,431.9 L249.7,431.9 L250.7,431.9 L251.7,431.9 L252.7,431.9 L253.7,431.9 L254.7,431.9 L255.7,431.9 L256.7,431.9 L257.7,431.9 L258.7,431.9 L259.7,431.9 L260.7,431.9 L261.7,431.9 L262.7,431.9 L263.7,431.9 L264.7,431.9 L265.7,431.9 L266.7,431.9 L267.7,431.9 L268.7,431.9 L269.7,431.9 L270.7,431.9 L271.7,431.9 L272.7,431.9 L273.7,431.9 L274.7,431.9 L275.7,431.9 L276.7,431.9 L277.7,431.9 L278.7,431.9 L279.7,431.9 L280.7,431.9 L281.7,431.9 L282.7,431.9 L283.7,431.9 L284.7,431.9 L285.7,431.9 L286.7,431.9 L287.7,431.9 L288.7,431.9 L289.7,431.9 L290.7,431.9 L291.7,431.9 L292.7,431.9 L293.7,431.9 L294.7,431.9 L295.7,431.9 L296.7,431.9 L297.7,431.9 L298.7,431.9 L299.7,431.9 L300.7,431.9 L301.7,431.9 L302.7,431.9 L303.7,431.9 L304.7,431.9 L305.7,431.9 L306.7,431.9 L307.7,431.9 L308.7,431.9 L309.7,431.9 L310.7,431.9 L311.7,431.9 L312.7,431.9 L313.7,431.9 L314.7,431.9 L315.7,431.9 L316.7,431.9 L317.7,431.9 L318.7,431.9 L319.7,431.9 L320.7,431.9 L321.7,431.9 L322.7,431.9 L323.7,431.9 L324.7,431.9 L325.7,431.9 L326.7,431.9 L327.7,431.9 L328.7,431.9 L329.7,431.9 L330.7,431.9 L331.7,431.9 L332.7,431.9 L333.7,431.9 L334.7,431.9 L335.7,431.9 L336.7,431.9 L337.7,431.9 L338.7,431.9 L339.7,431.9 L340.7,431.9 L341.7,431.9 L342.7,431.9 L343.7,431.9 L344.7,431.9 L345.7,431.9 L346.7,431.9 L347.7,431.9 L348.7,431.9 L349.7,431.9 L350.7,431.9 L351.7,431.9 L352.7,431.9 L353.7,431.9 L354.7,431.9 L355.7,431.9 L356.7,431.9 L357.7,431.9 L358.7,431.9 L359.7,431.9 L360.7,431.9 L361.7,431.9 L362.7,431.9 L363.7,431.9 L364.7,431.9 L365.7,431.9 L366.7,431.9 L367.7,431.9 L368.7,431.9 L369.7,431.9 L370.7,431.9 L371.7,431.9 L372.7,431.9 L373.7,431.9 L374.7,431.9 L375.7,431.9 L376.7,431.9 L377.7,431.9 L378.7,431.9 L379.7,431.9 L380.7,431.9 L381.7,431.9 L382.7,431.9 L383.7,431.9 L384.7,431.9 L385.7,431.9 L386.7,431.9 L387.7,431.9 L388.7,431.9 L389.7,431.9 L390.7,431.9 L391.7,431.9 L392.7,431.9 L393.7,431.9 L394.7,431.9 L395.7,431.9 L396.7,431.9 L397.7,431.9 L398.7,431.9 L399.7,431.9 L400.7,431.9 L401.7,431.9 L402.7,431.9 L403.7,431.9 L404.7,431.9 L405.7,431.9 L406.7,431.9 L407.7,431.9 L408.7,431.9 L409.7,431.9 L410.7,431.9 L411.7,431.9 L412.7,431.9 L413.7,431.9 L414.7,431.9 L415.7,431.9 L416.7,431.9 L417.7,431.9 L418.7,431.9 L419.7,431.9 L420.7,431.9 L421.7,431.9 L422.7,431.9 L423.7,431.9 L424.7,431.9 L425.7,431.9 L426.7,431.9 L427.7,431.9 L428.7,431.9 L429.7,431.9 L430.7,431.9 L431.7,431.9 L432.7,431.9 L433.7,431.9 L434.7,431.9 L435.7,431.9 L436.7,431.9 L437.7,431.9 L438.7,431.9 L439.7,431.9 L440.7,431.9 L441.7,431.9 L442.7,431.9 L443.7,431.9 L444.7,431.9 L445.7,431.9 L446.7,431.9 L447.7,431.9 L448.7,431.9 L449.7,431.9 L450.7,431.9 L451.7,431.9 L452.7,431.9 L453.7,431.9 L454.7,431.9 L455.7,431.9 L456.7,431.9 L457.7,431.9 L458.7,431.9 L459.7,431.9 L460.7,431.9 L461.7,431.9 L462.7,431.9 L463.7,431.9 L464.7,431.9 L465.7,431.9 L466.7,431.9 L467.7,431.9 L468.7,431.9 L469.7,431.9 L470.7,431.9 L471.7,431.9 L472.7,431.9 L473.7,431.9 L474.7,431.9 L475.7,431.9 L476.7,431.9 L477.7,431.9 L478.7,431.9 L479.7,431.9 L480.7,431.9 L481.7,431.9 L482.7,431.9 L483.7,431.9 L484.7,431.9 L485.7,431.9 L486.7,431.9 L487.7,431.9 L488.7,431.9 L489.7,431.9 L490.7,431.9 L491.7,431.9 L492.7,431.9 L493.7,431.9 L494.7,431.9 L495.7,431.9 L496.7,431.9 L497.7,431.9 L498.7,431.9 L499.7,431.9 L500.7,431.9 L501.7,431.9 L502.7,431.9 L503.7,431.9 L504.7,431.9 L505.7,431.9 L506.7,431.9 L507.7,431.9 L508.7,431.9 L509.7,431.9 L510.7,431.9 L511.7,431.9 L512.7,431.9 L513.7,431.9 L514.7,431.9 L515.7,431.9 L516.7,431.9 L517.7,431.9 L518.7,431.9 L519.7,431.9 L520.7,431.9 L521.7,431.9 L522.7,431.9 L523.7,431.9 L524.7,431.9 L525.7,431.9 L526.7,431.9 L527.7,431.9 L528.7,431.9 L529.7,431.9 L530.7,431.9 L531.7,431.9 L532.7,431.9 L533.7,431.9 L534.7,431.9 L535.7,431.9 L536.7,431.9 L537.7,431.9 L538.7,431.9 L539.7,431.9 L540.7,431.9 L541.7,431.9 L542.7,431.9 L543.7,431.9 L544.7,431.9 L545.7,431.9 L546.7,431.9 L547.7,431.9 L548.7,431.9 L549.7,431.9 L550.7,431.9 L551.7,431.9 L552.7,431.9 L553.7,431.9 L554.7,431.9 L555.7,431.9 L556.7,431.9 L557.7,431.9 L558.7,431.9 L559.7,431.9 L560.7,431.9 L561.7,431.9 L562.7,431.9 L563.7,431.9 L564.7,431.9 L565.7,431.9 L566.7,431.9 L567.7,431.9 L568.7,431.9 L569.7,431.9 L570.7,431.9 L571.7,431.9 L572.7,431.9 L573.7,431.9 L574.7,431.9 L575.7,431.9 L576.7,431.9 L577.7,431.9 L578.7,431.9 L579.7,431.9 L580.7,431.9 L581.7,431.9 L582.7,431.9 L583.7,431.9 L584.7,431.9 L585.7,431.9 L586.7,431.9 L587.7,431.9 L588.7,431.9 L589.7,431.9 L590.7,431.9 L591.7,431.9 L592.7,431.9 L593.7,431.9 L594.7,431.9 L595.7,431.9 L596.7,431.9 L597.7,431.9 L598.7,431.9 L599.7,431.9 L600.7,431.9 L601.7,431.9 L602.7,431.9 L603.7,431.9 L604.7,431.9 L605.7,431.9 L606.7,431.9 L607.7,431.9 L608.7,431.9 L609.7,431.9 L610.7,431.9 L611.7,431.9 L612.7,431.9 L613.7,431.9 L614.7,431.9 L615.7,431.9 L616.7,431.9 L617.7,431.9 L618.7,431.9 L619.7,431.9 L620.7,431.9 L621.7,431.9 L622.7,431.9 L623.7,431.9 L624.7,431.9 L625.7,431.9 L626.7,431.9 L627.7,431.9 L628.7,431.9 L629.7,431.9 L630.7,431.9 L631.7,431.9 L632.7,431.9 L633.7,431.9 L634.7,431.9 L635.7,431.9 L636.7,431.9 L637.7,431.9 L638.7,431.9 L639.7,431.9 L640.7,431.9 L641.7,431.9 L642.7,431.9 L643.7,431.9 L644.7,431.9 L645.7,431.9 L646.7,431.9 L647.7,431.9 L648.7,431.9 L649.7,431.9 L650.7,431.9 L651.7,431.9 L652.7,431.9 L653.7,431.9 L654.7,431.9 L655.7,431.9 L656.7,431.9 L657.7,431.9 L658.7,431.9 L659.7,431.9 L660.7,431.9 L661.7,431.9 L662.7,431.9 L663.7,431.9 L664.7,431.9 L665.7,431.9 L666.7,431.9 L667.7,431.9 L668.7,431.9 L669.7,431.9 L670.7,431.9 L671.7,431.9 L672.7,431.9 L673.7,431.9 L674.7,431.9 L675.7,431.9 L676.7,431.9 L677.7,431.9 L678.7,431.9 L679.7,431.9 L680.7,431.9 L681.7,431.9 L682.7,431.9 L683.7,431.9 L684.7,431.9 L685.7,431.9 L686.7,431.9 L687.7,431.9 L688.7,431.9 L689.7,431.9 L690.7,431.9 L691.7,431.9 L692.7,431.9 L693.7,431.9 L694.7,431.9 L695.7,431.9 L696.7,431.9 L697.7,431.9 L698.7,431.9 L699.7,431.9 L700.7,431.9 L701.7,431.9 L702.7,431.9 L703.7,431.9 L704.7,431.9 L705.7,431.9 L706.7,431.9 L707.7,431.9 L708.7,431.9 L709.7,431.9 L710.7,431.9 L711.7,431.9 L712.7,431.9 L713.7,431.9 L714.7,431.9 L715.7,431.9 L716.7,431.9 L717.7,431.9 L718.7,431.9 L719.7,431.9 L720.7,431.9 L721.7,431.9 L722.7,431.9 L723.7,431.9 L724.7,431.9 L725.7,431.9 L726.7,431.9 L727.7,431.9 L728.7,431.9 L729.7,431.9 L730.7,431.9 L731.7,431.9 L732.7,431.9 L733.7,431.9 L734.7,431.9 L735.7,431.9 L736.7,431.9 L737.7,431.9 L738.7,431.9 L739.7,431.9 L740.7,431.9 L741.7,431.9 L742.7,431.9 L743.7,431.9 L744.7,431.9 L745.7,431.9 L746.7,431.9 L747.7,431.9 L748.7,431.9 L749.7,431.9 L750.7,431.9 L751.7,431.9 L752.7,431.9 L753.7,431.9 L754.7,431.9 L755.7,431.9 L756.7,431.9 L757.7,431.9 L758.7,431.9 L759.7,431.9 L760.7,431.9 L761.7,431.9 L762.7,431.9 L763.7,431.9 L764.7,431.9 L765.7,431.9 L766.7,431.9 L767.7,431.9 L768.7,431.9 L769.7,431.9 L770.7,431.9 L771.7,431.9 L772.7,431.9 L773.7,431.9 L774.7,431.9 L775.7,431.9 L776.7,431.9 L777.7,431.9 L778.7,431.9 L779.7,431.9 L780.7,431.9 L781.7,431.9 L782.7,431.9 L783.7,431.9 L784.7,431.9 L785.7,431.9 L786.7,431.9 L787.7,431.9 L788.7,431.9 L789.7,431.9 L790.7,431.9 L791.7,431.9 L792.7,431.9 L793.7,431.9 L794.7,431.9 L795.7,431.9 L796.7,431.9 L797.7,431.9 L798.7,431.9 L799.7,431.9 L800.7,431.9 L801.7,431.9 L802.7,431.9 L803.7,431.9 L804.7,431.9 L805.7,431.9 L806.7,431.9 L807.7,431.9 L808.7,431.9 L809.7,431.9 L810.7,431.9 L811.7,431.9 L812.7,431.9 L813.7,431.9 L814.7,431.9 L815.7,431.9 L816.7,431.9 L817.7,431.9 L818.7,431.9 L819.7,431.9 L820.7,431.9 L821.7,431.9 L822.7,431.9 L823.7,431.9 L824.7,431.9 L825.7,431.9 L826.7,431.9 L827.7,431.9 L828.7,431.9 L829.7,431.9 L830.7,431.9 L831.7,431.9 L832.7,431.9 L833.7,431.9 L834.7,431.9 L835.7,431.9 L836.7,431.9 L837.7,431.9 L838.7,431.9 L839.7,431.9 L840.7,431.9 L841.7,431.9 L842.7,431.9 L843.7,431.9 L844.7,431.9 L845.7,431.9 L846.7,431.9 L847.7,431.9 L848.7,431.9 L849.7,431.9 L850.7,431.9 L851.7,431.9 L852.7,431.9 L853.7,431.9 L854.7,431.9 L855.7,431.9 L856.7,431.9 L857.7,431.9 L858.7,431.9 L859.7,431.9 L860.7,431.9 L861.7,431.9 L862.7,431.9 L863.7,431.9 L864.7,431.9 L865.7,431.9 L866.7,431.9 L867.7,431.9 L868.7,431.9 L869.7,431.9 L870.7,431.9 L871.7,431.9 L872.7,431.9 L873.7,431.9 L874.7,431.9 L875.7,431.9 L876.7,431.9 L877.7,431.9 L878.7,431.9 L879.7,431.9 L880.7,431.9 L881.7,431.9 L882.7,431.9 L883.7,431.9 L884.7,431.9 L885.7,431.9 L886.7,431.9 L887.7,431.9 L888.7,431.9 L889.7,431.9 L890.7,431.9 L891.7,431.9 L892.7,431.9 L893.7,431.9 L894.7,431.9 L895.7,431.9 L896.7,431.9 L897.7,431.9 L898.7,431.9 L899.7,431.9 L900.7,431.9 L901.7,431.9 L902.7,431.9 L903.7,431.9 L904.7,431.9 L905.7,431.9 L906.7,431.9 L907.7,431.9 L908.7,431.9 L909.7,431.9 L910.7,431.9 L911.7,431.9 L912.7,431.9 L913.7,431.9 L914.7,431.9 L915.7,431.9 L916.7,431.9 L917.7,431.9 L918.7,431.9 L919.7,431.9 L920.7,431.9 L921.7,431.9 L922.7,431.9 L923.7,431.9 L924.7,431.9 L925.7,431.9 L926.7,431.9 L927.7,431.9 L928.7,431.9 L929.7,431.9 L930.7,431.9 L931.7,431.9 L932.7,431.9 L933.7,431.9 L934.7,431.9 L935.7,431.9 L936.7,431.9 L937.7,431.9 L938.7,431.9 L939.7,431.9 L940.7,431.9 L941.7,431.9 L942.7,431.9 L943.7,431.9 L944.7,431.9 L945.7,431.9 L946.7,431.9 L947.7,431.9 L948.7,431.9 L949.7,431.9 L950.7,431.9 L951.7,431.9 L952.7,431.9 L953.7,431.9 L954.7,431.9 L955.7,431.9 L956.7,431.9 L957.7,431.9 L958.7,431.9 L959.7,431.9 L960.7,431.9 L961.7,431.9 L962.7,431.9 L963.7,431.9 L964.7,431.9 L965.7,431.9 L966.7,431.9 L967.7,431.9 L968.7,431.9 L969.7,431.9 L970.7,431.9 L971.7,431.9 L972.7,431.9 L973.7,431.9 L974.7,431.9 L975.7,431.9 L976.7,431.9 L977.7,431.9 L978.7,431.9 L979.0,431.9" fill="none" stroke="#1f77b4" stroke-width="5.45" stroke-linejoin="round" stroke-linecap="square"/>
<path d="M162.7,431.9 L163.7,431.9 L164.7,431.9 L165.7,431.9 L166.7,431.9 L167.7,431.9 L168.7,431.9 L169.7,431.9 L170.7,431.9 L171.7,431.9 L172.7,431.9 L173.7,431.9 L174.7,431.9 L175.7,431.9 L176.7,431.9 L177.7,431.9 L178.7,431.9 L179.7,431.9 L180.7,431.9 L181.7,431.9 L182.7,431.9 L183.7,431.9 L184.7,431.9 L185.7,431.9 L186.7,431.9 L187.7,431.9 L188.7,431.9 L189.7,431.9 L190.7,431.9 L191.7,431.9 L192.7,431.9 L193.7,431.9 L194.7,431.9 L195.7,431.9 L196.7,431.9 L197.7,431.9 L198.7,431.9 L199.7,431.9 L200.7,431.9 L201.7,431.9 L202.7,431.9 L203.7,431.9 L204.7,431.9 L205.7,431.9 L206.7,431.9 L207.7,431.9 L208.7,431.9 L209.7,431.9 L210.7,431.9 L211.7,431.9 L212.7,431.9 L213.7,431.9 L214.7,431.9 L215.7,431.9 L216.7,431.9 L217.7,431.9 L218.7,431.9 L219.7,431.9 L220.7,431.9 L221.7,431.9 L222.7,431.9 L223.7,431.9 L224.7,431.9 L225.7,431.9 L226.7,431.9 L227.7,431.9 L228.7,431.9 L229.7,431.9 L230.7,431.9 L231.7,431.9 L232.7,431.9 L233.7,431.9 L234.7,431.9 L235.7,431.9 L236.7,431.9 L237.7,431.9 L238.7,431.9 L239.7,431.9 L240.7,431.9 L241.7,431.9 L242.7,431.9 L243.7,431.9 L244.7,431.9 L245.7,431.9 L246.7,431.9 L247.7,431.9 L248.7,431.9 L249.7,431.9 L250.7,431.9 L251.7,431.9 L252.7,431.9 L253.7,431.9 L254.7,431.9 L255.7,431.9 L256.7,431.9 L257.7,431.9 L258.7,431.9 L259.7,431.9 L260.7,431.9 L261.7,431.9 L262.7,431.9 L263.7,431.9 L264.7,431.9 L265.7,431.9 L266.7,431.9 L267.7,431.9 L268.7,431.9 L269.7,431.9 L270.7,431.9 L271.7,431.9 L272.7,431.9 L273.7,431.9 L274.7,431.9 L275.7,431.9 L276.7,431.9 L277.7,431.9 L278.7,431.9 L279.7,431.9 L280.7,431.9 L281.7,431.9 L282.7,431.9 L283.7,431.9 L284.7,431.9 L285.7,431.9 L286.7,431.9 L287.7,431.9 L288.7,431.9 L289.7,431.9 L290.7,431.9 L291.7,431.9 L292.7,431.9 L293.7,431.9 L294.7,431.9 L295.7,431.9 L296.7,431.9 L297.7,431.9 L298.7,431.9 L299.7,431.9 L300.7,431.9 L301.7,431.9 L302.7,431.9 L303.7,431.9 L304.7,431.9 L305.7,431.9 L306.7,431.9 L307.7,431.9 L308.7,431.9 L309.7,431.9 L310.7,431.9 L311.7,431.9 L312.7,431.9 L313.7,431.9 L314.7,431.9 L315.7,431.9 L316.7,431.9 L317.7,431.9 L318.7,431.9 L319.7,431.9 L320.7,431.9 L321.7,431.9 L322.7,431.9 L323.7,431.9 L324.7,431.9 L325.7,431.9 L326.7,431.9 L327.7,431.9 L328.7,431.9 L329.7,431.9 L330.7,431.9 L331.7,431.9 L332.7,431.9 L333.7,431.9 L334.7,431.9 L335.7,431.9 L336.7,431.9 L337.7,431.9 L338.7,431.9 L339.7,431.9 L340.7,431.9 L341.7,431.9 L342.7,431.9 L343.7,431.9 L344.7,431.9 L345.7,431.9 L346.7,431.9 L347.7,431.9 L348.7,431.9 L349.7,431.9 L350.7,431.9 L351.7,431.9 L352.7,431.9 L353.7,431.9 L354.7,431.9 L355.7,431.9 L356.7,431.9 L357.7,431.9 L358.7,431.9 L359.7,431.9 L360.7,431.9 L361.7,431.9 L362.7,431.9 L363.7,431.9 L364.7,431.9 L365.7,431.9 L366.7,431.9 L367.7,431.9 L368.7,431.9 L369.7,431.9 L370.7,431.9 L371.7,431.9 L372.7,431.9 L373.7,431.9 L374.7,431.9 L375.7,431.9 L376.7,431.9 L377.7,431.9 L378.7,431.9 L379.7,431.9 L380.7,431.9 L381.7,431.9 L382.7,431.9 L383.7,431.9 L384.7,431.9 L385.7,431.9 L386.7,431.9 L387.7,431.9 L388.7,431.9 L389.7,431.9 L390.7,431.9 L391.7,431.9 L392.7,431.9 L393.7,431.9 L394.7,431.9 L395.7,431.9 L396.7,431.9 L397.7,431.9 L398.7,431.9 L399.7,431.9 L400.7,431.9 L401.7,431.9 L402.7,431.9 L403.7,431.9 L404.7,431.9 L405.7,431.9 L406.7,431.9 L407.7,431.9 L408.7,431.9 L409.7,431.9 L410.7,431.9 L411.7,431.9 L412.7,431.9 L413.7,431.9 L414.7,431.9 L415.7,431.9 L416.7,431.9 L417.7,431.9 L418.7,431.9 L419.7,431.9 L420.7,431.9 L421.7,431.9 L422.7,431.9 L423.7,431.9 L424.7,431.9 L425.7,431.9 L426.7,431.9 L427.7,431.9 L428.7,431.9 L429.7,431.9 L430.7,431.9 L431.7,431.9 L432.7,431.9 L433.7,431.9 L434.7,431.9 L435.7,431.9 L436.7,431.9 L437.7,431.9 L438.7,431.9 L439.7,431.9 L440.7,431.9 L441.7,431.9 L442.7,431.9 L443.7,431.9 L444.7,431.8 L445.7,431.8 L446.7,431.8 L447.7,431.8 L448.7,431.8 L449.7,431.8 L450.7,431.8 L451.7,431.8 L452.7,431.8 L453.7,431.7 L454.7,431.7 L455.7,431.7 L456.7,431.7 L457.7,431.6 L458.7,431.6 L459.7,431.6 L460.7,431.6 L461.7,431.5 L462.7,431.5 L463.7,431.4 L464.7,431.4 L465.7,431.4 L466.7,431.3 L467.7,431.3 L468.7,431.2 L469.7,431.1 L470.7,431.1 L471.7,431.0 L472.7,431.0 L473.7,430.9 L474.7,430.8 L475.7,430.7 L476.7,430.7 L477.7,430.6 L478.7,430.5 L479.7,430.4 L480.7,430.3 L481.7,430.3 L482.7,430.2 L483.7,430.1 L484.7,430.0 L485.7,429.9 L486.7,429.8 L487.7,429.7 L488.7,429.7 L489.7,429.6 L490.7,429.5 L491.7,429.4 L492.7,429.4 L493.7,429.3 L494.7,429.2 L495.7,429.2 L496.7,429.1 L497.7,429.1 L498.7,429.0 L499.7,429.0 L500.7,429.0 L501.7,428.9 L502.7,428.9 L503.7,428.9 L504.7,428.9 L505.7,428.9 L506.7,428.9 L507.7,428.9 L508.7,428.9 L509.7,429.0 L510.7,429.0 L511.7,429.0 L512.7,429.1 L513.7,429.1 L514.7,429.2 L515.7,429.3 L516.7,429.3 L517.7,429.4 L518.7,429.5 L519.7,429.5 L520.7,429.6 L521.7,429.7 L522.7,429.8 L523.7,429.9 L524.7,429.9 L525.7,430.0 L526.7,430.1 L527.7,430.2 L528.7,430.3 L529.7,430.4 L530.7,430.5 L531.7,430.5 L532.7,430.6 L533.7,430.7 L534.7,430.8 L535.7,430.8 L536.7,430.9 L537.7,431.0 L538.7,431.0 L539.7,431.1 L540.7,431.2 L541.7,431.2 L542.7,431.3 L543.7,431.3 L544.7,431.4 L545.7,431.4 L546.7,431.5 L547.7,431.5 L548.7,431.5 L549.7,431.6 L550.7,431.6 L551.7,431.6 L552.7,431.7 L553.7,431.7 L554.7,431.7 L555.7,431.7 L556.7,431.7 L557.7,431.8 L558.7,431.8 L559.7,431.8 L560.7,431.8 L561.7,431.8 L562.7,431.8 L563.7,431.8 L564.7,431.8 L565.7,431.8 L566.7,431.9 L567.7,431.9 L568.7,431.9 L569.7,431.9 L570.7,431.9 L571.7,431.9 L572.7,431.9 L573.7,431.9 L574.7,431.9 L575.7,431.9 L576.7,431.9 L577.7,431.9 L578.7,431.9 L579.7,431.9 L580.7,431.9 L581.7,431.9 L582.7,431.9 L583.7,431.9 L584.7,431.9 L585.7,431.9 L586.7,431.9 L587.7,431.9 L588.7,431.9 L589.7,431.9 L590.7,431.9 L591.7,431.9 L592.7,431.9 L593.7,431.9 L594.7,431.9 L595.7,431.9 L596.7,431.9 L597.7,431.9 L598.7,431.9 L599.7,431.9 L600.7,431.9 L601.7,431.9 L602.7,431.9 L603.7,431.9 L604.7,431.9 L605.7,431.9 L606.7,431.9 L607.7,431.9 L608.7,431.9 L609.7,431.9 L610.7,431.9 L611.7,431.9 L612.7,431.9 L613.7,431.9 L614.7,431.9 L615.7,431.9 L616.7,431.9 L617.7,431.9 L618.7,431.9 L619.7,431.9 L620.7,431.9 L621.7,431.9 L622.7,431.9 L623.7,431.9 L624.7,431.9 L625.7,431.9 L626.7,431.9 L627.7,431.9 L628.7,431.9 L629.7,431.9 L630.7,431.9 L631.7,431.9 L632.7,431.9 L633.7,431.9 L634.7,431.9 L635.7,431.9 L636.7,431.9 L637.7,431.9 L638.7,431.9 L639.7,431.9 L640.7,431.9 L641.7,431.9 L642.7,431.9 L643.7,431.9 L644.7,431.9 L645.7,431.9 L646.7,431.9 L647.7,431.9 L648.7,431.9 L649.7,431.9 L650.7,431.9 L651.7,431.9 L652.7,431.9 L653.7,431.9 L654.7,431.9 L655.7,431.9 L656.7,431.9 L657.7,431.9 L658.7,431.9 L659.7,431.9 L660.7,431.9 L661.7,431.9 L662.7,431.9 L663.7,431.9 L664.7,431.9 L665.7,431.9 L666.7,431.9 L667.7,431.9 L668.7,431.9 L669.7,431.9 L670.7,431.9 L671.7,431.9 L672.7,431.9 L673.7,431.9 L674.7,431.9 L675.7,431.9 L676.7,431.9 L677.7,431.9 L678.7,431.9 L679.7,431.9 L680.7,431.9 L681.7,431.9 L682.7,431.9 L683.7,431.9 L684.7,431.9 L685.7,431.9 L686.7,431.9 L687.7,431.9 L688.7,431.9 L689.7,431.9 L690.7,431.9 L691.7,431.9 L692.7,431.9 L693.7,431.9 L694.7,431.9 L695.7,431.9 L696.7,431.9 L697.7,431.9 L698.7,431.9 L699.7,431.9 L700.7,431.9 L701.7,431.9 L702.7,431.9 L703.7,431.9 L704.7,431.9 L705.7,431.9 L706.7,431.9 L707.7,431.9 L708.7,431.9 L709.7,431.9 L710.7,431.9 L711.7,431.9 L712.7,431.9 L713.7,431.9 L714.7,431.9 L715.7,431.9 L716.7,431.9 L717.7,431.9 L718.7,431.9 L719.7,431.9 L720.7,431.9 L721.7,431.9 L722.7,431.9 L723.7,431.9 L724.7,431.9 L725.7,431.9 L726.7,431.9 L727.7,431.9 L728.7,431.9 L729.7,431.9 L730.7,431.9 L731.7,431.9 L732.7,431.9 L733.7,431.9 L734.7,431.9 L735.7,431.9 L736.7,431.9 L737.7,431.9 L738.7,431.9 L739.7,431.9 L740.7,431.9 L741.7,431.9 L742.7,431.9 L743.7,431.9 L744.7,431.9 L745.7,431.9 L746.7,431.9 L747.7,431.9 L748.7,431.9 L749.7,431.9 L750.7,431.9 L751.7,431.9 L752.7,431.9 L753.7,431.9 L754.7,431.9 L755.7,431.9 L756.7,431.9 L757.7,431.9 L758.7,431.9 L759.7,431.9 L760.7,431.9 L761.7,431.9 L762.7,431.9 L763.7,431.9 L764.7,431.9 L765.7,431.9 L766.7,431.9 L767.7,431.9 L768.7,431.9 L769.7,431.9 L770.7,431.9 L771.7,431.9 L772.7,431.9 L773.7,431.9 L774.7,431.9 L775.7,431.9 L776.7,431.9 L777.7,431.9 L778.7,431.9 L779.7,431.9 L780.7,431.9 L781.7,431.9 L782.7,431.9 L783.7,431.9 L784.7,431.9 L785.7,431.9 L786.7,431.9 L787.7,431.9 L788.7,431.9 L789.7,431.9 L790.7,431.9 L791.7,431.9 L792.7,431.9 L793.7,431.9 L794.7,431.9 L795.7,431.9 L796.7,431.9 L797.7,431.9 L798.7,431.9 L799.7,431.9 L800.7,431.9 L801.7,431.9 L802.7,431.9 L803.7,431.9 L804.7,431.9 L805.7,431.9 L806.7,431.9 L807.7,431.9 L808.7,431.9 L809.7,431.9 L810.7,431.9 L811.7,431.9 L812.7,431.9 L813.7,431.9 L814.7,431.9 L815.7,431.9 L816.7,431.9 L817.7,431.9 L818.7,431.9 L819.7,431.9 L820.7,431.9 L821.7,431.9 L822.7,431.9 L823.7,431.9 L824.7,431.9 L825.7,431.9 L826.7,431.9 L827.7,431.9 L828.7,431.9 L829.7,431.9 L830.7,431.9 L831.7,431.9 L832.7,431.9 L833.7,431.9 L834.7,431.9 L835.7,431.9 L836.7,431.9 L837.7,431.9 L838.7,431.9 L839.7,431.9 L840.7,431.9 L841.7,431.9 L842.7,431.9 L843.7,431.9 L844.7,431.9 L845.7,431.9 L846.7,431.9 L847.7,431.9 L848.7,431.9 L849.7,431.9 L850.7,431.9 L851.7,431.9 L852.7,431.9 L853.7,431.9 L854.7,431.9 L855.7,431.9 L856.7,431.9 L857.7,431.9 L858.7,431.9 L859.7,431.9 L860.7,431.9 L861.7,431.9 L862.7,431.9 L863.7,431.9 L864.7,431.9 L865.7,431.9 L866.7,431.9 L867.7,431.9 L868.7,431.9 L869.7,431.9 L870.7,431.9 L871.7,431.9 L872.7,431.9 L873.7,431.9 L874.7,431.9 L875.7,431.9 L876.7,431.9 L877.7,431.9 L878.7,431.9 L879.7,431.9 L880.7,431.9 L881.7,431.9 L882.7,431.9 L883.7,431.9 L884.7,431.9 L885.7,431.9 L886.7,431.9 L887.7,431.9 L888.7,431.9 L889.7,431.9 L890.7,431.9 L891.7,431.9 L892.7,431.9 L893.7,431.9 L894.7,431.9 L895.7,431.9 L896.7,431.9 L897.7,431.9 L898.7,431.9 L899.7,431.9 L900.7,431.9 L901.7,431.9 L902.7,431.9 L903.7,431.9 L904.7,431.9 L905.7,431.9 L906.7,431.9 L907.7,431.9 L908.7,431.9 L909.7,431.9 L910.7,431.9 L911.7,431.9 L912.7,431.9 L913.7,431.9 L914.7,431.9 L915.7,431.9 L916.7,431.9 L917.7,431.9 L918.7,431.9 L919.7,431.9 L920.7,431.9 L921.7,431.9 L922.7,431.9 L923.7,431.9 L924.7,431.9 L925.7,431.9 L926.7,431.9 L927.7,431.9 L928.7,431.9 L929.7,431.9 L930.7,431.9 L931.7,431.9 L932.7,431.9 L933.7,431.9 L934.7,431.9 L935.7,431.9 L936.7,431.9 L937.7,431.9 L938.7,431.9 L939.7,431.9 L940.7,431.9 L941.7,431.9 L942.7,431.9 L943.7,431.9 L944.7,431.9 L945.7,431.9 L946.7,431.9 L947.7,431.9 L948.7,431.9 L949.7,431.9 L950.7,431.9 L951.7,431.9 L952.7,431.9 L953.7,431.9 L954.7,431.9 L955.7,431.9 L956.7,431.9 L957.7,431.9 L958.7,431.9 L959.7,431.9 L960.7,431.9 L961.7,431.9 L962.7,431.9 L963.7,431.9 L964.7,431.9 L965.7,431.9 L966.7,431.9 L967.7,431.9 L968.7,431.9 L969.7,431.9 L970.7,431.9 L971.7,431.9 L972.7,431.9 L973.7,431.9 L974.7,431.9 L975.7,431.9 L976.7,431.9 L977.7,431.9 L978.7,431.9 L979.0,431.9" fill="none" stroke="#ff7f0e" stroke-width="5.45" stroke-linejoin="round" stroke-linecap="square"/>
<path d="M162.7,431.9 L163.7,431.9 L164.7,431.9 L165.7,431.9 L166.7,431.9 L167.7,431.9 L168.7,431.9 L169.7,431.9 L170.7,431.9 L171.7,431.9 L172.7,431.9 L173.7,431.9 L174.7,431.9 L175.7,431.9 L176.7,431.9 L177.7,431.9 L178.7,431.9 L179.7,431.9 L180.7,431.9 L181.7,431.9 L182.7,431.9 L183.7,431.9 L184.7,431.9 L185.7,431.9 L186.7,431.9 L187.7,431.9 L188.7,431.9 L189.7,431.9 L190.7,431.9 L191.7,431.9 L192.7,431.9 L193.7,431.9 L194.7,431.9 L195.7,431.9 L196.7,431.9 L197.7,431.9 L198.7,431.9 L199.7,431.9 L200.7,431.9 L201.7,431.9 L202.7,431.9 L203.7,431.9 L204.7,431.9 L205.7,431.9 L206.7,431.9 L207.7,431.9 L208.7,431.9 L209.7,431.9 L210.7,431.9 L211.7,431.9 L212.7,431.9 L213.7,431.9 L214.7,431.9 L215.7,431.9 L216.7,431.9 L217.7,431.9 L218.7,431.9 L219.7,431.9 L220.7,431.9 L221.7,431.9 L222.7,431.9 L223.7,431.9 L224.7,431.9 L225.7,431.9 L226.7,431.9 L227.7,431.9 L228.7,431.9 L229.7,431.9 L230.7,431.9 L231.7,431.9 L232.7,431.9 L233.7,431.9 L234.7,431.9 L235.7,431.9 L236.7,431.9 L237.7,431.9 L238.7,431.9 L239.7,431.9 L240.7,431.9 L241.7,431.9 L242.7,431.9 L243.7,431.9 L244.7,431.9 L245.7,431.9 L246.7,431.9 L247.7,431.9 L248.7,431.9 L249.7,431.9 L250.7,431.9 L251.7,431.9 L252.7,431.9 L253.7,431.9 L254.7,431.9 L255.7,431.9 L256.7,431.9 L257.7,431.9 L258.7,431.9 L259.7,431.9 L260.7,431.9 L261.7,431.9 L262.7,431.9 L263.7,431.9 L264.7,431.9 L265.7,431.9 L266.7,431.9 L267.7,431.9 L268.7,431.9 L269.7,431.9 L270.7,431.9 L271.7,431.9 L272.7,431.9 L273.7,431.9 L274.7,431.9 L275.7,431.9 L276.7,431.9 L277.7,431.9 L278.7,431.9 L279.7,431.9 L280.7,431.9 L281.7,431.9 L282.7,431.9 L283.7,431.9 L284.7,431.9 L285.7,431.9 L286.7,431.9 L287.7,431.9 L288.7,431.9 L289.7,431.9 L290.7,431.9 L291.7,431.9 L292.7,431.9 L293.7,431.9 L294.7,431.9 L295.7,431.9 L296.7,431.9 L297.7,431.9 L298.7,431.9 L299.7,431.9 L300.7,431.9 L301.7,431.9 L302.7,431.9 L303.7,431.9 L304.7,431.9 L305.7,431.9 L306.7,431.9 L307.7,431.9 L308.7,431.9 L309.7,431.9 L310.7,431.9 L311.7,431.9 L312.7,431.9 L313.7,431.9 L314.7,431.9 L315.7,431.9 L316.7,431.9 L317.7,431.9 L318.7,431.9 L319.7,431.9 L320.7,431.9 L321.7,431.9 L322.7,431.9 L323.7,431.9 L324.7,431.9 L325.7,431.9 L326.7,431.9 L327.7,431.9 L328.7,431.9 L329.7,431.9 L330.7,431.9 L331.7,431.9 L332.7,431.9 L333.7,431.9 L334.7,431.9 L335.7,431.9 L336.7,431.9 L337.7,431.9 L338.7,431.9 L339.7,431.9 L340.7,431.9 L341.7,431.9 L342.7,431.9 L343.7,431.9 L344.7,431.9 L345.7,431.9 L346.7,431.9 L347.7,431.9 L348.7,431.9 L349.7,431.9 L350.7,431.9 L351.7,431.9 L352.7,431.9 L353.7,431.9 L354.7,431.9 L355.7,431.9 L356.7,431.9 L357.7,431.9 L358.7,431.9 L359.7,431.9 L360.7,431.9 L361.7,431.9 L362.7,431.9 L363.7,431.9 L364.7,431.9 L365.7,431.9 L366.7,431.9 L367.7,431.9 L368.7,431.9 L369.7,431.9 L370.7,431.9 L371.7,431.9 L372.7,431.9 L373.7,431.9 L374.7,431.9 L375.7,431.9 L376.7,431.9 L377.7,431.9 L378.7,431.9 L379.7,431.9 L380.7,431.9 L381.7,431.9 L382.7,431.9 L383.7,431.9 L384.7,431.9 L385.7,431.9 L386.7,431.9 L387.7,431.9 L388.7,431.9 L389.7,431.9 L390.7,431.8 L391.7,431.8 L392.7,431.8 L393.7,431.8 L394.7,431.8 L395.7,431.8 L396.7,431.8 L397.7,431.8 L398.7,431.8 L399.7,431.8 L400.7,431.7 L401.7,431.7 L402.7,431.7 L403.7,431.7 L404.7,431.7 L405.7,431.6 L406.7,431.6 L407.7,431.6 L408.7,431.6 L409.7,431.5 L410.7,431.5 L411.7,431.4 L412.7,431.4 L413.7,431.3 L414.7,431.3 L415.7,431.2 L416.7,431.2 L417.7,431.1 L418.7,431.0 L419.7,431.0 L420.7,430.9 L421.7,430.8 L422.7,430.7 L423.7,430.6 L424.7,430.5 L425.7,430.4 L426.7,430.2 L427.7,430.1 L428.7,430.0 L429.7,429.8 L430.7,429.6 L431.7,429.5 L432.7,429.3 L433.7,429.1 L434.7,428.9 L435.7,428.7 L436.7,428.4 L437.7,428.2 L438.7,427.9 L439.7,427.7 L440.7,427.4 L441.7,427.1 L442.7,426.8 L443.7,426.5 L444.7,426.1 L445.7,425.8 L446.7,425.4 L447.7,425.0 L448.7,424.6 L449.7,424.2 L450.7,423.8 L451.7,423.4 L452.7,423.0 L453.7,422.5 L454.7,422.0 L455.7,421.6 L456.7,421.1 L457.7,420.6 L458.7,420.1 L459.7,419.6 L460.7,419.1 L461.7,418.5 L462.7,418.0 L463.7,417.5 L464.7,417.0 L465.7,416.4 L466.7,415.9 L467.7,415.4 L468.7,414.9 L469.7,414.4 L470.7,413.9 L471.7,413.4 L472.7,413.0 L473.7,412.5 L474.7,412.1 L475.7,411.7 L476.7,411.3 L477.7,410.9 L478.7,410.6 L479.7,410.3 L480.7,410.0 L481.7,409.8 L482.7,409.6 L483.7,409.5 L484.7,409.4 L485.7,409.4 L486.7,409.5 L487.7,409.6 L488.7,409.8 L489.7,410.0 L490.7,410.4 L491.7,410.7 L492.7,411.1 L493.7,411.6 L494.7,412.0 L495.7,412.6 L496.7,413.1 L497.7,413.7 L498.7,414.3 L499.7,414.9 L500.7,415.6 L501.7,416.3 L502.7,416.9 L503.7,417.6 L504.7,418.3 L505.7,418.9 L506.7,419.6 L507.7,420.3 L508.7,420.9 L509.7,421.6 L510.7,422.2 L511.7,422.8 L512.7,423.4 L513.7,423.9 L514.7,424.5 L515.7,425.0 L516.7,425.5 L517.7,426.0 L518.7,426.5 L519.7,426.9 L520.7,427.3 L521.7,427.7 L522.7,428.0 L523.7,428.4 L524.7,428.7 L525.7,429.0 L526.7,429.3 L527.7,429.5 L528.7,429.7 L529.7,430.0 L530.7,430.1 L531.7,430.3 L532.7,430.5 L533.7,430.6 L534.7,430.8 L535.7,430.9 L536.7,431.0 L537.7,431.1 L538.7,431.2 L539.7,431.3 L540.7,431.4 L541.7,431.4 L542.7,431.5 L543.7,431.5 L544.7,431.6 L545.7,431.6 L546.7,431.7 L547.7,431.7 L548.7,431.7 L549.7,431.7 L550.7,431.8 L551.7,431.8 L552.7,431.8 L553.7,431.8 L554.7,431.8 L555.7,431.8 L556.7,431.8 L557.7,431.9 L558.7,431.9 L559.7,431.9 L560.7,431.9 L561.7,431.9 L562.7,431.9 L563.7,431.9 L564.7,431.9 L565.7,431.9 L566.7,431.9 L567.7,431.9 L568.7,431.9 L569.7,431.9 L570.7,431.9 L571.7,431.9 L572.7,431.9 L573.7,431.9 L574.7,431.9 L575.7,431.9 L576.7,431.9 L577.7,431.9 L578.7,431.9 L579.7,431.9 L580.7,431.9 L581.7,431.9 L582.7,431.9 L583.7,431.9 L584.7,431.9 L585.7,431.9 L586.7,431.9 L587.7,431.9 L588.7,431.9 L589.7,431.9 L590.7,431.9 L591.7,431.9 L592.7,431.9 L593.7,431.9 L594.7,431.9 L595.7,431.9 L596.7,431.9 L597.7,431.9 L598.7,431.9 L599.7,431.9 L600.7,431.9 L601.7,431.9 L602.7,431.9 L603.7,431.9 L604.7,431.9 L605.7,431.9 L606.7,431.9 L607.7,431.9 L608.7,431.9 L609.7,431.9 L610.7,431.9 L611.7,431.9 L612.7,431.9 L613.7,431.9 L614.7,431.9 L615.7,431.9 L616.7,431.9 L617.7,431.9 L618.7,431.9 L619.7,431.9 L620.7,431.9 L621.7,431.9 L622.7,431.9 L623.7,431.9 L624.7,431.9 L625.7,431.9 L626.7,431.9 L627.7,431.9 L628.7,431.9 L629.7,431.9 L630.7,431.9 L631.7,431.9 L632.7,431.9 L633.7,431.9 L634.7,431.9 L635.7,431.9 L636.7,431.9 L637.7,431.9 L638.7,431.9 L639.7,431.9 L640.7,431.9 L641.7,431.9 L642.7,431.9 L643.7,431.9 L644.7,431.9 L645.7,431.9 L646.7,431.9 L647.7,431.9 L648.7,431.9 L649.7,431.9 L650.7,431.9 L651.7,431.9 L652.7,431.9 L653.7,431.9 L654.7,431.9 L655.7,431.9 L656.7,431.9 L657.7,431.9 L658.7,431.9 L659.7,431.9 L660.7,431.9 L661.7,431.9 L662.7,431.9 L663.7,431.9 L664.7,431.9 L665.7,431.9 L666.7,431.9 L667.7,431.9 L668.7,431.9 L669.7,431.9 L670.7,431.9 L671.7,431.9 L672.7,431.9 L673.7,431.9 L674.7,431.9 L675.7,431.9 L676.7,431.9 L677.7,431.9 L678.7,431.9 L679.7,431.9 L680.7,431.9 L681.7,431.9 L682.7,431.9 L683.7,431.9 L684.7,431.9 L685.7,431.9 L686.7,431.9 L687.7,431.9 L688.7,431.9 L689.7,431.9 L690.7,431.9 L691.7,431.9 L692.7,431.9 L693.7,431.9 L694.7,431.9 L695.7,431.9 L696.7,431.9 L697.7,431.9 L698.7,431.9 L699.7,431.9 L700.7,431.9 L701.7,431.9 L702.7,431.9 L703.7,431.9 L704.7,431.9 L705.7,431.9 L706.7,431.9 L707.7,431.9 L708.7,431.9 L709.7,431.9 L710.7,431.9 L711.7,431.9 L712.7,431.9 L713.7,431.9 L714.7,431.9 L715.7,431.9 L716.7,431.9 L717.7,431.9 L718.7,431.9 L719.7,431.9 L720.7,431.9 L721.7,431.9 L722.7,431.9 L723.7,431.9 L724.7,431.9 L725.7,431.9 L726.7,431.9 L727.7,431.9 L728.7,431.9 L729.7,431.9 L730.7,431.9 L731.7,431.9 L732.7,431.9 L733.7,431.9 L734.7,431.9 L735.7,431.9 L736.7,431.9 L737.7,431.9 L738.7,431.9 L739.7,431.9 L740.7,431.9 L741.7,431.9 L742.7,431.9 L743.7,431.9 L744.7,431.9 L745.7,431.9 L746.7,431.9 L747.7,431.9 L748.7,431.9 L749.7,431.9 L750.7,431.9 L751.7,431.9 L752.7,431.9 L753.7,431.9 L754.7,431.9 L755.7,431.9 L756.7,431.9 L757.7,431.9 L758.7,431.9 L759.7,431.9 L760.7,431.9 L761.7,431.9 L762.7,431.9 L763.7,431.9 L764.7,431.9 L765.7,431.9 L766.7,431.9 L767.7,431.9 L768.7,431.9 L769.7,431.9 L770.7,431.9 L771.7,431.9 L772.7,431.9 L773.7,431.9 L774.7,431.9 L775.7,431.9 L776.7,431.9 L777.7,431.9 L778.7,431.9 L779.7,431.9 L780.7,431.9 L781.7,431.9 L782.7,431.9 L783.7,431.9 L784.7,431.9 L785.7,431.9 L786.7,431.9 L787.7,431.9 L788.7,431.9 L789.7,431.9 L790.7,431.9 L791.7,431.9 L792.7,431.9 L793.7,431.9 L794.7,431.9 L795.7,431.9 L796.7,431.9 L797.7,431.9 L798.7,431.9 L799.7,431.9 L800.7,431.9 L801.7,431.9 L802.7,431.9 L803.7,431.9 L804.7,431.9 L805.7,431.9 L806.7,431.9 L807.7,431.9 L808.7,431.9 L809.7,431.9 L810.7,431.9 L811.7,431.9 L812.7,431.9 L813.7,431.9 L814.7,431.9 L815.7,431.9 L816.7,431.9 L817.7,431.9 L818.7,431.9 L819.7,431.9 L820.7,431.9 L821.7,431.9 L822.7,431.9 L823.7,431.9 L824.7,431.9 L825.7,431.9 L826.7,431.9 L827.7,431.9 L828.7,431.9 L829.7,431.9 L830.7,431.9 L831.7,431.9 L832.7,431.9 L833.7,431.9 L834.7,431.9 L835.7,431.9 L836.7,431.9 L837.7,431.9 L838.7,431.9 L839.7,431.9 L840.7,431.9 L841.7,431.9 L842.7,431.9 L843.7,431.9 L844.7,431.9 L845.7,431.9 L846.7,431.9 L847.7,431.9 L848.7,431.9 L849.7,431.9 L850.7,431.9 L851.7,431.9 L852.7,431.9 L853.7,431.9 L854.7,431.9 L855.7,431.9 L856.7,431.9 L857.7,431.9 L858.7,431.9 L859.7,431.9 L860.7,431.9 L861.7,431.9 L862.7,431.9 L863.7,431.9 L864.7,431.9 L865.7,431.9 L866.7,431.9 L867.7,431.9 L868.7,431.9 L869.7,431.9 L870.7,431.9 L871.7,431.9 L872.7,431.9 L873.7,431.9 L874.7,431.9 L875.7,431.9 L876.7,431.9 L877.7,431.9 L878.7,431.9 L879.7,431.9 L880.7,431.9 L881.7,431.9 L882.7,431.9 L883.7,431.9 L884.7,431.9 L885.7,431.9 L886.7,431.9 L887.7,431.9 L888.7,431.9 L889.7,431.9 L890.7,431.9 L891.7,431.9 L892.7,431.9 L893.7,431.9 L894.7,431.9 L895.7,431.9 L896.7,431.9 L897.7,431.9 L898.7,431.9 L899.7,431.9 L900.7,431.9 L901.7,431.9 L902.7,431.9 L903.7,431.9 L904.7,431.9 L905.7,431.9 L906.7,431.9 L907.7,431.9 L908.7,431.9 L909.7,431.9 L910.7,431.9 L911.7,431.9 L912.7,431.9 L913.7,431.9 L914.7,431.9 L915.7,431.9 L916.7,431.9 L917.7,431.9 L918.7,431.9 L919.7,431.9 L920.7,431.9 L921.7,431.9 L922.7,431.9 L923.7,431.9 L924.7,431.9 L925.7,431.9 L926.7,431.9 L927.7,431.9 L928.7,431.9 L929.7,431.9 L930.7,431.9 L931.7,431.9 L932.7,431.9 L933.7,431.9 L934.7,431.9 L935.7,431.9 L936.7,431.9 L937.7,431.9 L938.7,431.9 L939.7,431.9 L940.7,431.9 L941.7,431.9 L942.7,431.9 L943.7,431.9 L944.7,431.9 L945.7,431.9 L946.7,431.9 L947.7,431.9 L948.7,431.9 L949.7,431.9 L950.7,431.9 L951.7,431.9 L952.7,431.9 L953.7,431.9 L954.7,431.9 L955.7,431.9 L956.7,431.9 L957.7,431.9 L958.7,431.9 L959.7,431.9 L960.7,431.9 L961.7,431.9 L962.7,431.9 L963.7,431.9 L964.7,431.9 L965.7,431.9 L966.7,431.9 L967.7,431.9 L968.7,431.9 L969.7,431.9 L970.7,431.9 L971.7,431.9 L972.7,431.9 L973.7,431.9 L974.7,431.9 L975.7,431.9 L976.7,431.9 L977.7,431.9 L978.7,431.9 L979.0,431.9" fill="none" stroke="#2ca02c" stroke-width="5.45" stroke-linejoin="round" stroke-linecap="square"/>
<path d="M162.7,431.9 L163.7,431.9 L164.7,431.9 L165.7,431.9 L166.7,431.9 L167.7,431.9 L168.7,431.9 L169.7,431.9 L170.7,431.9 L171.7,431.9 L172.7,431.9 L173.7,431.9 L174.7,431.9 L175.7,431.9 L176.7,431.9 L177.7,431.9 L178.7,431.9 L179.7,431.9 L180.7,431.9 L181.7,431.9 L182.7,431.9 L183.7,431.9 L184.7,431.9 L185.7,431.9 L186.7,431.9 L187.7,431.9 L188.7,431.9 L189.7,431.9 L190.7,431.9 L191.7,431.9 L192.7,431.9 L193.7,431.9 L194.7,431.9 L195.7,431.9 L196.7,431.9 L197.7,431.9 L198.7,431.9 L199.7,431.9 L200.7,431.9 L201.7,431.9 L202.7,431.9 L203.7,431.9 L204.7,431.9 L205.7,431.9 L206.7,431.9 L207.7,431.9 L208.7,431.9 L209.7,431.9 L210.7,431.9 L211.7,431.9 L212.7,431.9 L213.7,431.9 L214.7,431.9 L215.7,431.9 L216.7,431.9 L217.7,431.9 L218.7,431.9 L219.7,431.9 L220.7,431.9 L221.7,431.9 L222.7,431.9 L223.7,431.9 L224.7,431.9 L225.7,431.9 L226.7,431.9 L227.7,431.9 L228.7,431.9 L229.7,431.9 L230.7,431.9 L231.7,431.9 L232.7,431.9 L233.7,431.9 L234.7,431.9 L235.7,431.9 L236.7,431.9 L237.7,431.9 L238.7,431.9 L239.7,431.9 L240.7,431.9 L241.7,431.9 L242.7,431.9 L243.7,431.9 L244.7,431.9 L245.7,431.9 L246.7,431.9 L247.7,431.9 L248.7,431.9 L249.7,431.9 L250.7,431.9 L251.7,431.9 L252.7,431.9 L253.7,431.9 L254.7,431.9 L255.7,431.9 L256.7,431.9 L257.7,431.9 L258.7,431.9 L259.7,431.9 L260.7,431.9 L261.7,431.9 L262.7,431.9 L263.7,431.9 L264.7,431.9 L265.7,431.9 L266.7,431.9 L267.7,431.9 L268.7,431.9 L269.7,431.9 L270.7,431.9 L271.7,431.9 L272.7,431.9 L273.7,431.9 L274.7,431.9 L275.7,431.9 L276.7,431.9 L277.7,431.9 L278.7,431.9 L279.7,431.9 L280.7,431.9 L281.7,431.9 L282.7,431.9 L283.7,431.9 L284.7,431.9 L285.7,431.9 L286.7,431.9 L287.7,431.9 L288.7,431.9 L289.7,431.9 L290.7,431.9 L291.7,431.9 L292.7,431.9 L293.7,431.9 L294.7,431.9 L295.7,431.9 L296.7,431.9 L297.7,431.9 L298.7,431.9 L299.7,431.9 L300.7,431.9 L301.7,431.9 L302.7,431.9 L303.7,431.9 L304.7,431.9 L305.7,431.9 L306.7,431.9 L307.7,431.9 L308.7,431.9 L309.7,431.9 L310.7,431.9 L311.7,431.9 L312.7,431.9 L313.7,431.9 L314.7,431.9 L315.7,431.9 L316.7,431.9 L317.7,431.9 L318.7,431.9 L319.7,431.9 L320.7,431.9 L321.7,431.9 L322.7,431.9 L323.7,431.9 L324.7,431.9 L325.7,431.9 L326.7,431.9 L327.7,431.9 L328.7,431.9 L329.7,431.9 L330.7,431.9 L331.7,431.9 L332.7,431.9 L333.7,431.9 L334.7,431.9 L335.7,431.9 L336.7,431.9 L337.7,431.9 L338.7,431.9 L339.7,431.9 L340.7,431.9 L341.7,431.9 L342.7,431.9 L343.7,431.9 L344.7,431.9 L345.7,431.9 L346.7,431.9 L347.7,431.9 L348.7,431.9 L349.7,431.9 L350.7,431.9 L351.7,431.9 L352.7,431.9 L353.7,431.9 L354.7,431.9 L355.7,431.9 L356.7,431.9 L357.7,431.9 L358.7,431.9 L359.7,431.9 L360.7,431.9 L361.7,431.9 L362.7,431.9 L363.7,431.9 L364.7,431.9 L365.7,431.9 L366.7,431.9 L367.7,431.9 L368.7,431.9 L369.7,431.9 L370.7,431.9 L371.7,431.9 L372.7,431.9 L373.7,431.9 L374.7,431.9 L375.7,431.9 L376.7,431.9 L377.7,431.9 L378.7,431.9 L379.7,431.9 L380.7,431.9 L381.7,431.9 L382.7,431.9 L383.7,431.9 L384.7,431.9 L385.7,431.9 L386.7,431.9 L387.7,431.9 L388.7,431.9 L389.7,431.8 L390.7,431.8 L391.7,431.8 L392.7,431.8 L393.7,431.8 L394.7,431.8 L395.7,431.8 L396.7,431.8 L397.7,431.8 L398.7,431.8 L399.7,431.8 L400.7,431.8 L401.7,431.8 L402.7,431.8 L403.7,431.8 L404.7,431.8 L405.7,431.7 L406.7,431.7 L407.7,431.7 L408.7,431.7 L409.7,431.7 L410.7,431.7 L411.7,431.7 L412.7,431.6 L413.7,431.6 L414.7,431.6 L415.7,431.6 L416.7,431.6 L417.7,431.5 L418.7,431.5 L419.7,431.5 L420.7,431.5 L421.7,431.4 L422.7,431.4 L423.7,431.4 L424.7,431.3 L425.7,431.3 L426.7,431.2 L427.7,431.2 L428.7,431.1 L429.7,431.1 L430.7,431.0 L431.7,431.0 L432.7,430.9 L433.7,430.9 L434.7,430.8 L435.7,430.7 L436.7,430.7 L437.7,430.6 L438.7,430.5 L439.7,430.4 L440.7,430.3 L441.7,430.2 L442.7,430.1 L443.7,430.0 L444.7,429.9 L445.7,429.8 L446.7,429.6 L447.7,429.5 L448.7,429.3 L449.7,429.2 L450.7,429.0 L451.7,428.9 L452.7,428.7 L453.7,428.5 L454.7,428.3 L455.7,428.1 L456.7,427.9 L457.7,427.7 L458.7,427.4 L459.7,427.2 L460.7,426.9 L461.7,426.6 L462.7,426.3 L463.7,426.0 L464.7,425.7 L465.7,425.4 L466.7,425.0 L467.7,424.7 L468.7,424.3 L469.7,423.9 L470.7,423.5 L471.7,423.1 L472.7,422.6 L473.7,422.1 L474.7,421.6 L475.7,421.1 L476.7,420.6 L477.7,420.0 L478.7,419.5 L479.7,418.9 L480.7,418.2 L481.7,417.6 L482.7,416.9 L483.7,416.2 L484.7,415.5 L485.7,414.7 L486.7,413.9 L487.7,413.1 L488.7,412.2 L489.7,411.4 L490.7,410.5 L491.7,409.5 L492.7,408.5 L493.7,407.5 L494.7,406.5 L495.7,405.4 L496.7,404.3 L497.7,403.2 L498.7,402.0 L499.7,400.8 L500.7,399.5 L501.7,398.3 L502.7,396.9 L503.7,395.6 L504.7,394.2 L505.7,392.8 L506.7,391.3 L507.7,389.8 L508.7,388.3 L509.7,386.7 L510.7,385.1 L511.7,383.5 L512.7,381.8 L513.7,380.1 L514.7,378.3 L515.7,376.5 L516.7,374.7 L517.7,372.9 L518.7,371.0 L519.7,369.1 L520.7,367.2 L521.7,365.2 L522.7,363.2 L523.7,361.2 L524.7,359.2 L525.7,357.2 L526.7,355.1 L527.7,353.0 L528.7,350.9 L529.7,348.9 L530.7,346.8 L531.7,344.6 L532.7,342.5 L533.7,340.4 L534.7,338.3 L535.7,336.2 L536.7,334.2 L537.7,332.1 L538.7,330.1 L539.7,328.1 L540.7,326.1 L541.7,324.2 L542.7,322.3 L543.7,320.4 L544.7,318.6 L545.7,316.9 L546.7,315.2 L547.7,313.7 L548.7,312.2 L549.7,310.7 L550.7,309.4 L551.7,308.2 L552.7,307.2 L553.7,306.2 L554.7,305.5 L555.7,304.9 L556.7,304.7 L557.7,304.7 L558.7,304.8 L559.7,305.0 L560.7,305.4 L561.7,305.9 L562.7,306.6 L563.7,307.4 L564.7,308.5 L565.7,309.7 L566.7,311.2 L567.7,312.9 L568.7,314.9 L569.7,317.0 L570.7,319.4 L571.7,322.0 L572.7,324.8 L573.7,327.8 L574.7,330.9 L575.7,334.3 L576.7,337.8 L577.7,341.4 L578.7,345.2 L579.7,349.0 L580.7,353.0 L581.7,356.9 L582.7,360.9 L583.7,365.0 L584.7,369.0 L585.7,372.9 L586.7,376.9 L587.7,380.7 L588.7,384.5 L589.7,388.1 L590.7,391.6 L591.7,395.0 L592.7,398.2 L593.7,401.2 L594.7,404.1 L595.7,406.9 L596.7,409.4 L597.7,411.8 L598.7,414.0 L599.7,416.0 L600.7,417.9 L601.7,419.6 L602.7,421.1 L603.7,422.5 L604.7,423.7 L605.7,424.9 L606.7,425.9 L607.7,426.7 L608.7,427.5 L609.7,428.2 L610.7,428.8 L611.7,429.3 L612.7,429.7 L613.7,430.1 L614.7,430.4 L615.7,430.7 L616.7,430.9 L617.7,431.1 L618.7,431.2 L619.7,431.4 L620.7,431.5 L621.7,431.6 L622.7,431.6 L623.7,431.7 L624.7,431.7 L625.7,431.8 L626.7,431.8 L627.7,431.8 L628.7,431.8 L629.7,431.9 L630.7,431.9 L631.7,431.9 L632.7,431.9 L633.7,431.9 L634.7,431.9 L635.7,431.9 L636.7,431.9 L637.7,431.9 L638.7,431.9 L639.7,431.9 L640.7,431.9 L641.7,431.9 L642.7,431.9 L643.7,431.9 L644.7,431.9 L645.7,431.9 L646.7,431.9 L647.7,431.9 L648.7,431.9 L649.7,431.9 L650.7,431.9 L651.7,431.9 L652.7,431.9 L653.7,431.9 L654.7,431.9 L655.7,431.9 L656.7,431.9 L657.7,431.9 L658.7,431.9 L659.7,431.9 L660.7,431.9 L661.7,431.9 L662.7,431.9 L663.7,431.9 L664.7,431.9 L665.7,431.9 L666.7,431.9 L667.7,431.9 L668.7,431.9 L669.7,431.9 L670.7,431.9 L671.7,431.9 L672.7,431.9 L673.7,431.9 L674.7,431.9 L675.7,431.9 L676.7,431.9 L677.7,431.9 L678.7,431.9 L679.7,431.9 L680.7,431.9 L681.7,431.9 L682.7,431.9 L683.7,431.9 L684.7,431.9 L685.7,431.9 L686.7,431.9 L687.7,431.9 L688.7,431.9 L689.7,431.9 L690.7,431.9 L691.7,431.9 L692.7,431.9 L693.7,431.9 L694.7,431.9 L695.7,431.9 L696.7,431.9 L697.7,431.9 L698.7,431.9 L699.7,431.9 L700.7,431.9 L701.7,431.9 L702.7,431.9 L703.7,431.9 L704.7,431.9 L705.7,431.9 L706.7,431.9 L707.7,431.9 L708.7,431.9 L709.7,431.9 L710.7,431.9 L711.7,431.9 L712.7,431.9 L713.7,431.9 L714.7,431.9 L715.7,431.9 L716.7,431.9 L717.7,431.9 L718.7,431.9 L719.7,431.9 L720.7,431.9 L721.7,431.9 L722.7,431.9 L723.7,431.9 L724.7,431.9 L725.7,431.9 L726.7,431.9 L727.7,431.9 L728.7,431.9 L729.7,431.9 L730.7,431.9 L731.7,431.9 L732.7,431.9 L733.7,431.9 L734.7,431.9 L735.7,431.9 L736.7,431.9 L737.7,431.9 L738.7,431.9 L739.7,431.9 L740.7,431.9 L741.7,431.9 L742.7,431.9 L743.7,431.9 L744.7,431.9 L745.7,431.9 L746.7,431.9 L747.7,431.9 L748.7,431.9 L749.7,431.9 L750.7,431.9 L751.7,431.9 L752.7,431.9 L753.7,431.9 L754.7,431.9 L755.7,431.9 L756.7,431.9 L757.7,431.9 L758.7,431.9 L759.7,431.9 L760.7,431.9 L761.7,431.9 L762.7,431.9 L763.7,431.9 L764.7,431.9 L765.7,431.9 L766.7,431.9 L767.7,431.9 L768.7,431.9 L769.7,431.9 L770.7,431.9 L771.7,431.9 L772.7,431.9 L773.7,431.9 L774.7,431.9 L775.7,431.9 L776.7,431.9 L777.7,431.9 L778.7,431.9 L779.7,431.9 L780.7,431.9 L781.7,431.9 L782.7,431.9 L783.7,431.9 L784.7,431.9 L785.7,431.9 L786.7,431.9 L787.7,431.9 L788.7,431.9 L789.7,431.9 L790.7,431.9 L791.7,431.9 L792.7,431.9 L793.7,431.9 L794.7,431.9 L795.7,431.9 L796.7,431.9 L797.7,431.9 L798.7,431.9 L799.7,431.9 L800.7,431.9 L801.7,431.9 L802.7,431.9 L803.7,431.9 L804.7,431.9 L805.7,431.9 L806.7,431.9 L807.7,431.9 L808.7,431.9 L809.7,431.9 L810.7,431.9 L811.7,431.9 L812.7,431.9 L813.7,431.9 L814.7,431.9 L815.7,431.9 L816.7,431.9 L817.7,431.9 L818.7,431.9 L819.7,431.9 L820.7,431.9 L821.7,431.9 L822.7,431.9 L823.7,431.9 L824.7,431.9 L825.7,431.9 L826.7,431.9 L827.7,431.9 L828.7,431.9 L829.7,431.9 L830.7,431.9 L831.7,431.9 L832.7,431.9 L833.7,431.9 L834.7,431.9 L835.7,431.9 L836.7,431.9 L837.7,431.9 L838.7,431.9 L839.7,431.9 L840.7,431.9 L841.7,431.9 L842.7,431.9 L843.7,431.9 L844.7,431.9 L845.7,431.9 L846.7,431.9 L847.7,431.9 L848.7,431.9 L849.7,431.9 L850.7,431.9 L851.7,431.9 L852.7,431.9 L853.7,431.9 L854.7,431.9 L855.7,431.9 L856.7,431.9 L857.7,431.9 L858.7,431.9 L859.7,431.9 L860.7,431.9 L861.7,431.9 L862.7,431.9 L863.7,431.9 L864.7,431.9 L865.7,431.9 L866.7,431.9 L867.7,431.9 L868.7,431.9 L869.7,431.9 L870.7,431.9 L871.7,431.9 L872.7,431.9 L873.7,431.9 L874.7,431.9 L875.7,431.9 L876.7,431.9 L877.7,431.9 L878.7,431.9 L879.7,431.9 L880.7,431.9 L881.7,431.9 L882.7,431.9 L883.7,431.9 L884.7,431.9 L885.7,431.9 L886.7,431.9 L887.7,431.9 L888.7,431.9 L889.7,431.9 L890.7,431.9 L891.7,431.9 L892.7,431.9 L893.7,431.9 L894.7,431.9 L895.7,431.9 L896.7,431.9 L897.7,431.9 L898.7,431.9 L899.7,431.9 L900.7,431.9 L901.7,431.9 L902.7,431.9 L903.7,431.9 L904.7,431.9 L905.7,431.9 L906.7,431.9 L907.7,431.9 L908.7,431.9 L909.7,431.9 L910.7,431.9 L911.7,431.9 L912.7,431.9 L913.7,431.9 L914.7,431.9 L915.7,431.9 L916.7,431.9 L917.7,431.9 L918.7,431.9 L919.7,431.9 L920.7,431.9 L921.7,431.9 L922.7,431.9 L923.7,431.9 L924.7,431.9 L925.7,431.9 L926.7,431.9 L927.7,431.9 L928.7,431.9 L929.7,431.9 L930.7,431.9 L931.7,431.9 L932.7,431.9 L933.7,431.9 L934.7,431.9 L935.7,431.9 L936.7,431.9 L937.7,431.9 L938.7,431.9 L939.7,431.9 L940.7,431.9 L941.7,431.9 L942.7,431.9 L943.7,431.9 L944.7,431.9 L945.7,431.9 L946.7,431.9 L947.7,431.9 L948.7,431.9 L949.7,431.9 L950.7,431.9 L951.7,431.9 L952.7,431.9 L953.7,431.9 L954.7,431.9 L955.7,431.9 L956.7,431.9 L957.7,431.9 L958.7,431.9 L959.7,431.9 L960.7,431.9 L961.7,431.9 L962.7,431.9 L963.7,431.9 L964.7,431.9 L965.7,431.9 L966.7,431.9 L967.7,431.9 L968.7,431.9 L969.7,431.9 L970.7,431.9 L971.7,431.9 L972.7,431.9 L973.7,431.9 L974.7,431.9 L975.7,431.9 L976.7,431.9 L977.7,431.9 L978.7,431.9 L979.0,431.9" fill="none" stroke="#d62728" stroke-width="5.45" stroke-linejoin="round" stroke-linecap="square"/>
<path d="M162.7,431.9 L163.7,431.9 L164.7,431.9 L165.7,431.9 L166.7,431.9 L167.7,431.9 L168.7,431.9 L169.7,431.9 L170.7,431.9 L171.7,431.9 L172.7,431.9 L173.7,431.9 L174.7,431.9 L175.7,431.9 L176.7,431.9 L177.7,431.9 L178.7,431.9 L179.7,431.9 L180.7,431.9 L181.7,431.9 L182.7,431.9 L183.7,431.9 L184.7,431.9 L185.7,431.9 L186.7,431.9 L187.7,431.9 L188.7,431.9 L189.7,431.9 L190.7,431.9 L191.7,431.9 L192.7,431.9 L193.7,431.9 L194.7,431.9 L195.7,431.9 L196.7,431.9 L197.7,431.9 L198.7,431.9 L199.7,431.9 L200.7,431.9 L201.7,431.9 L202.7,431.9 L203.7,431.9 L204.7,431.9 L205.7,431.9 L206.7,431.9 L207.7,431.9 L208.7,431.9 L209.7,431.9 L210.7,431.9 L211.7,431.9 L212.7,431.9 L213.7,431.9 L214.7,431.9 L215.7,431.9 L216.7,431.9 L217.7,431.9 L218.7,431.9 L219.7,431.9 L220.7,431.9 L221.7,431.9 L222.7,431.9 L223.7,431.9 L224.7,431.9 L225.7,431.9 L226.7,431.9 L227.7,431.9 L228.7,431.9 L229.7,431.9 L230.7,431.9 L231.7,431.9 L232.7,431.9 L233.7,431.9 L234.7,431.9 L235.7,431.9 L236.7,431.9 L237.7,431.9 L238.7,431.9 L239.7,431.9 L240.7,431.9 L241.7,431.9 L242.7,431.9 L243.7,431.9 L244.7,431.9 L245.7,431.9 L246.7,431.9 L247.7,431.9 L248.7,431.9 L249.7,431.9 L250.7,431.9 L251.7,431.9 L252.7,431.9 L253.7,431.9 L254.7,431.9 L255.7,431.9 L256.7,431.9 L257.7,431.9 L258.7,431.9 L259.7,431.9 L260.7,431.9 L261.7,431.9 L262.7,431.9 L263.7,431.9 L264.7,431.9 L265.7,431.9 L266.7,431.9 L267.7,431.9 L268.7,431.9 L269.7,431.9 L270.7,431.9 L271.7,431.9 L272.7,431.9 L273.7,431.9 L274.7,431.9 L275.7,431.9 L276.7,431.9 L277.7,431.9 L278.7,431.9 L279.7,431.9 L280.7,431.9 L281.7,431.9 L282.7,431.9 L283.7,431.9 L284.7,431.9 L285.7,431.9 L286.7,431.9 L287.7,431.9 L288.7,431.9 L289.7,431.9 L290.7,431.9 L291.7,431.9 L292.7,431.9 L293.7,431.9 L294.7,431.9 L295.7,431.9 L296.7,431.9 L297.7,431.9 L298.7,431.9 L299.7,431.9 L300.7,431.9 L301.7,431.9 L302.7,431.9 L303.7,431.9 L304.7,431.9 L305.7,431.9 L306.7,431.9 L307.7,431.9 L308.7,431.9 L309.7,431.9 L310.7,431.9 L311.7,431.9 L312.7,431.9 L313.7,431.9 L314.7,431.9 L315.7,431.9 L316.7,431.9 L317.7,431.9 L318.7,431.9 L319.7,431.9 L320.7,431.9 L321.7,431.9 L322.7,431.9 L323.7,431.9 L324.7,431.9 L325.7,431.9 L326.7,431.9 L327.7,431.9 L328.7,431.9 L329.7,431.9 L330.7,431.9 L331.7,431.9 L332.7,431.9 L333.7,431.9 L334.7,431.9 L335.7,431.9 L336.7,431.9 L337.7,431.9 L338.7,431.9 L339.7,431.9 L340.7,431.9 L341.7,431.9 L342.7,431.9 L343.7,431.9 L344.7,431.9 L345.7,431.9 L346.7,431.9 L347.7,431.9 L348.7,431.9 L349.7,431.9 L350.7,431.9 L351.7,431.9 L352.7,431.9 L353.7,431.9 L354.7,431.9 L355.7,431.9 L356.7,431.9 L357.7,431.9 L358.7,431.9 L359.7,431.9 L360.7,431.9 L361.7,431.9 L362.7,431.9 L363.7,431.9 L364.7,431.9 L365.7,431.9 L366.7,431.9 L367.7,431.9 L368.7,431.9 L369.7,431.9 L370.7,431.9 L371.7,431.9 L372.7,431.9 L373.7,431.9 L374.7,431.9 L375.7,431.9 L376.7,431.9 L377.7,431.9 L378.7,431.9 L379.7,431.9 L380.7,431.9 L381.7,431.9 L382.7,431.9 L383.7,431.9 L384.7,431.9 L385.7,431.9 L386.7,431.9 L387.7,431.9 L388.7,431.9 L389.7,431.9 L390.7,431.9 L391.7,431.9 L392.7,431.9 L393.7,431.9 L394.7,431.9 L395.7,431.9 L396.7,431.9 L397.7,431.9 L398.7,431.9 L399.7,431.9 L400.7,431.9 L401.7,431.9 L402.7,431.9 L403.7,431.9 L404.7,431.9 L405.7,431.9 L406.7,431.9 L407.7,431.9 L408.7,431.9 L409.7,431.9 L410.7,431.9 L411.7,431.9 L412.7,431.9 L413.7,431.9 L414.7,431.9 L415.7,431.9 L416.7,431.9 L417.7,431.9 L418.7,431.9 L419.7,431.9 L420.7,431.9 L421.7,431.9 L422.7,431.9 L423.7,431.9 L424.7,431.9 L425.7,431.9 L426.7,431.9 L427.7,431.9 L428.7,431.9 L429.7,431.9 L430.7,431.9 L431.7,431.9 L432.7,431.9 L433.7,431.9 L434.7,431.9 L435.7,431.9 L436.7,431.9 L437.7,431.9 L438.7,431.9 L439.7,431.9 L440.7,431.9 L441.7,431.9 L442.7,431.9 L443.7,431.9 L444.7,431.9 L445.7,431.9 L446.7,431.9 L447.7,431.9 L448.7,431.9 L449.7,431.9 L450.7,431.9 L451.7,431.8 L452.7,431.8 L453.7,431.8 L454.7,431.8 L455.7,431.8 L456.7,431.8 L457.7,431.8 L458.7,431.8 L459.7,431.8 L460.7,431.8 L461.7,431.8 L462.7,431.8 L463.7,431.7 L464.7,431.7 L465.7,431.7 L466.7,431.7 L467.7,431.7 L468.7,431.6 L469.7,431.6 L470.7,431.6 L471.7,431.6 L472.7,431.5 L473.7,431.5 L474.7,431.5 L475.7,431.4 L476.7,431.4 L477.7,431.4 L478.7,431.3 L479.7,431.3 L480.7,431.2 L481.7,431.1 L482.7,431.1 L483.7,431.0 L484.7,430.9 L485.7,430.8 L486.7,430.8 L487.7,430.7 L488.7,430.6 L489.7,430.4 L490.7,430.3 L491.7,430.2 L492.7,430.1 L493.7,429.9 L494.7,429.8 L495.7,429.6 L496.7,429.4 L497.7,429.2 L498.7,429.0 L499.7,428.8 L500.7,428.5 L501.7,428.3 L502.7,428.0 L503.7,427.7 L504.7,427.4 L505.7,427.0 L506.7,426.7 L507.7,426.3 L508.7,425.9 L509.7,425.4 L510.7,425.0 L511.7,424.5 L512.7,424.0 L513.7,423.4 L514.7,422.8 L515.7,422.2 L516.7,421.5 L517.7,420.8 L518.7,420.0 L519.7,419.2 L520.7,418.4 L521.7,417.5 L522.7,416.6 L523.7,415.6 L524.7,414.5 L525.7,413.4 L526.7,412.2 L527.7,411.0 L528.7,409.6 L529.7,408.3 L530.7,406.8 L531.7,405.3 L532.7,403.7 L533.7,402.0 L534.7,400.2 L535.7,398.4 L536.7,396.4 L537.7,394.4 L538.7,392.3 L539.7,390.0 L540.7,387.7 L541.7,385.3 L542.7,382.7 L543.7,380.1 L544.7,377.3 L545.7,374.4 L546.7,371.4 L547.7,368.3 L548.7,365.0 L549.7,361.7 L550.7,358.2 L551.7,354.6 L552.7,350.8 L553.7,346.9 L554.7,342.9 L555.7,338.8 L556.7,334.5 L557.7,330.1 L558.7,325.5 L559.7,320.8 L560.7,316.0 L561.7,311.0 L562.7,306.0 L563.7,300.7 L564.7,295.4 L565.7,289.9 L566.7,284.3 L567.7,278.6 L568.7,272.8 L569.7,266.9 L570.7,260.9 L571.7,254.8 L572.7,248.5 L573.7,242.2 L574.7,235.9 L575.7,229.4 L576.7,222.9 L577.7,216.4 L578.7,209.8 L579.7,203.2 L580.7,196.6 L581.7,190.0 L582.7,183.4 L583.7,176.9 L584.7,170.3 L585.7,163.9 L586.7,157.5 L587.7,151.2 L588.7,145.1 L589.7,139.0 L590.7,133.2 L591.7,127.5 L592.7,122.0 L593.7,116.8 L594.7,111.8 L595.7,107.1 L596.7,102.7 L597.7,98.7 L598.7,95.0 L599.7,91.8 L600.7,89.1 L601.7,87.0 L602.7,85.6 L603.7,85.2 L604.7,85.6 L605.7,86.8 L606.7,88.7 L607.7,91.7 L608.7,95.5 L609.7,100.4 L610.7,106.4 L611.7,113.3 L612.7,121.2 L613.7,130.1 L614.7,139.8 L615.7,150.4 L616.7,161.7 L617.7,173.6 L618.7,186.1 L619.7,199.0 L620.7,212.1 L621.7,225.5 L622.7,239.0 L623.7,252.4 L624.7,265.7 L625.7,278.8 L626.7,291.5 L627.7,303.8 L628.7,315.6 L629.7,326.9 L630.7,337.5 L631.7,347.6 L632.7,356.9 L633.7,365.6 L634.7,373.6 L635.7,380.9 L636.7,387.5 L637.7,393.5 L638.7,398.9 L639.7,403.6 L640.7,407.9 L641.7,411.6 L642.7,414.8 L643.7,417.6 L644.7,420.0 L645.7,422.1 L646.7,423.8 L647.7,425.3 L648.7,426.6 L649.7,427.6 L650.7,428.5 L651.7,429.2 L652.7,429.7 L653.7,430.2 L654.7,430.6 L655.7,430.9 L656.7,431.1 L657.7,431.3 L658.7,431.4 L659.7,431.5 L660.7,431.6 L661.7,431.7 L662.7,431.8 L663.7,431.8 L664.7,431.8 L665.7,431.8 L666.7,431.9 L667.7,431.9 L668.7,431.9 L669.7,431.9 L670.7,431.9 L671.7,431.9 L672.7,431.9 L673.7,431.9 L674.7,431.9 L675.7,431.9 L676.7,431.9 L677.7,431.9 L678.7,431.9 L679.7,431.9 L680.7,431.9 L681.7,431.9 L682.7,431.9 L683.7,431.9 L684.7,431.9 L685.7,431.9 L686.7,431.9 L687.7,431.9 L688.7,431.9 L689.7,431.9 L690.7,431.9 L691.7,431.9 L692.7,431.9 L693.7,431.9 L694.7,431.9 L695.7,431.9 L696.7,431.9 L697.7,431.9 L698.7,431.9 L699.7,431.9 L700.7,431.9 L701.7,431.9 L702.7,431.9 L703.7,431.9 L704.7,431.9 L705.7,431.9 L706.7,431.9 L707.7,431.9 L708.7,431.9 L709.7,431.9 L710.7,431.9 L711.7,431.9 L712.7,431.9 L713.7,431.9 L714.7,431.9 L715.7,431.9 L716.7,431.9 L717.7,431.9 L718.7,431.9 L719.7,431.9 L720.7,431.9 L721.7,431.9 L722.7,431.9 L723.7,431.9 L724.7,431.9 L725.7,431.9 L726.7,431.9 L727.7,431.9 L728.7,431.9 L729.7,431.9 L730.7,431.9 L731.7,431.9 L732.7,431.9 L733.7,431.9 L734.7,431.9 L735.7,431.9 L736.7,431.9 L737.7,431.9 L738.7,431.9 L739.7,431.9 L740.7,431.9 L741.7,431.9 L742.7,431.9 L743.7,431.9 L744.7,431.9 L745.7,431.9 L746.7,431.9 L747.7,431.9 L748.7,431.9 L749.7,431.9 L750.7,431.9 L751.7,431.9 L752.7,431.9 L753.7,431.9 L754.7,431.9 L755.7,431.9 L756.7,431.9 L757.7,431.9 L758.7,431.9 L759.7,431.9 L760.7,431.9 L761.7,431.9 L762.7,431.9 L763.7,431.9 L764.7,431.9 L765.7,431.9 L766.7,431.9 L767.7,431.9 L768.7,431.9 L769.7,431.9 L770.7,431.9 L771.7,431.9 L772.7,431.9 L773.7,431.9 L774.7,431.9 L775.7,431.9 L776.7,431.9 L777.7,431.9 L778.7,431.9 L779.7,431.9 L780.7,431.9 L781.7,431.9 L782.7,431.9 L783.7,431.9 L784.7,431.9 L785.7,431.9 L786.7,431.9 L787.7,431.9 L788.7,431.9 L789.7,431.9 L790.7,431.9 L791.7,431.9 L792.7,431.9 L793.7,431.9 L794.7,431.9 L795.7,431.9 L796.7,431.9 L797.7,431.9 L798.7,431.9 L799.7,431.9 L800.7,431.9 L801.7,431.9 L802.7,431.9 L803.7,431.9 L804.7,431.9 L805.7,431.9 L806.7,431.9 L807.7,431.9 L808.7,431.9 L809.7,431.9 L810.7,431.9 L811.7,431.9 L812.7,431.9 L813.7,431.9 L814.7,431.9 L815.7,431.9 L816.7,431.9 L817.7,431.9 L818.7,431.9 L819.7,431.9 L820.7,431.9 L821.7,431.9 L822.7,431.9 L823.7,431.9 L824.7,431.9 L825.7,431.9 L826.7,431.9 L827.7,431.9 L828.7,431.9 L829.7,431.9 L830.7,431.9 L831.7,431.9 L832.7,431.9 L833.7,431.9 L834.7,431.9 L835.7,431.9 L836.7,431.9 L837.7,431.9 L838.7,431.9 L839.7,431.9 L840.7,431.9 L841.7,431.9 L842.7,431.9 L843.7,431.9 L844.7,431.9 L845.7,431.9 L846.7,431.9 L847.7,431.9 L848.7,431.9 L849.7,431.9 L850.7,431.9 L851.7,431.9 L852.7,431.9 L853.7,431.9 L854.7,431.9 L855.7,431.9 L856.7,431.9 L857.7,431.9 L858.7,431.9 L859.7,431.9 L860.7,431.9 L861.7,431.9 L862.7,431.9 L863.7,431.9 L864.7,431.9 L865.7,431.9 L866.7,431.9 L867.7,431.9 L868.7,431.9 L869.7,431.9 L870.7,431.9 L871.7,431.9 L872.7,431.9 L873.7,431.9 L874.7,431.9 L875.7,431.9 L876.7,431.9 L877.7,431.9 L878.7,431.9 L879.7,431.9 L880.7,431.9 L881.7,431.9 L882.7,431.9 L883.7,431.9 L884.7,431.9 L885.7,431.9 L886.7,431.9 L887.7,431.9 L888.7,431.9 L889.7,431.9 L890.7,431.9 L891.7,431.9 L892.7,431.9 L893.7,431.9 L894.7,431.9 L895.7,431.9 L896.7,431.9 L897.7,431.9 L898.7,431.9 L899.7,431.9 L900.7,431.9 L901.7,431.9 L902.7,431.9 L903.7,431.9 L904.7,431.9 L905.7,431.9 L906.7,431.9 L907.7,431.9 L908.7,431.9 L909.7,431.9 L910.7,431.9 L911.7,431.9 L912.7,431.9 L913.7,431.9 L914.7,431.9 L915.7,431.9 L916.7,431.9 L917.7,431.9 L918.7,431.9 L919.7,431.9 L920.7,431.9 L921.7,431.9 L922.7,431.9 L923.7,431.9 L924.7,431.9 L925.7,431.9 L926.7,431.9 L927.7,431.9 L928.7,431.9 L929.7,431.9 L930.7,431.9 L931.7,431.9 L932.7,431.9 L933.7,431.9 L934.7,431.9 L935.7,431.9 L936.7,431.9 L937.7,431.9 L938.7,431.9 L939.7,431.9 L940.7,431.9 L941.7,431.9 L942.7,431.9 L943.7,431.9 L944.7,431.9 L945.7,431.9 L946.7,431.9 L947.7,431.9 L948.7,431.9 L949.7,431.9 L950.7,431.9 L951.7,431.9 L952.7,431.9 L953.7,431.9 L954.7,431.9 L955.7,431.9 L956.7,431.9 L957.7,431.9 L958.7,431.9 L959.7,431.9 L960.7,431.9 L961.7,431.9 L962.7,431.9 L963.7,431.9 L964.7,431.9 L965.7,431.9 L966.7,431.9 L967.7,431.9 L968.7,431.9 L969.7,431.9 L970.7,431.9 L971.7,431.9 L972.7,431.9 L973.7,431.9 L974.7,431.9 L975.7,431.9 L976.7,431.9 L977.7,431.9 L978.7,431.9 L979.0,431.9" fill="none" stroke="#9467bd" stroke-width="5.45" stroke-linejoin="round" stroke-linecap="square"/>
<path d="M166.9,431.9a4.17,4.17 0 1,0 -8.34,0a4.17,4.17 0 1,0 8.34,0M169.1,431.9a4.17,4.17 0 1,0 -8.34,0a4.17,4.17 0 1,0 8.34,0M171.3,431.9a4.17,4.17 0 1,0 -8.34,0a4.17,4.17 0 1,0 8.34,0M173.5,431.9a4.17,4.17 0 1,0 -8.34,0a4.17,4.17 0 1,0 8.34,0M175.7,431.9a4.17,4.17 0 1,0 -8.34,0a4.17,4.17 0 1,0 8.34,0M177.9,431.9a4.17,4.17 0 1,0 -8.34,0a4.17,4.17 0 1,0 8.34,0M180.1,431.9a4.17,4.17 0 1,0 -8.34,0a4.17,4.17 0 1,0 8.34,0M182.3,431.9a4.17,4.17 0 1,0 -8.34,0a4.17,4.17 0 1,0 8.34,0M184.5,431.9a4.17,4.17 0 1,0 -8.34,0a4.17,4.17 0 1,0 8.34,0M186.7,431.9a4.17,4.17 0 1,0 -8.34,0a4.17,4.17 0 1,0 8.34,0M188.9,431.9a4.17,4.17 0 1,0 -8.34,0a4.17,4.17 0 1,0 8.34,0M191.1,431.9a4.17,4.17 0 1,0 -8.34,0a4.17,4.17 0 1,0 8.34,0M193.3,431.9a4.17,4.17 0 1,0 -8.34,0a4.17,4.17 0 1,0 8.34,0M195.5,431.9a4.17,4.17 0 1,0 -8.34,0a4.17,4.17 0 1,0 8.34,0M197.7,431.9a4.17,4.17 0 1,0 -8.34,0a4.17,4.17 0 1,0 8.34,0M199.9,431.9a4.17,4.17 0 1,0 -8.34,0a4.17,4.17 0 1,0 8.34,0M202.1,431.9a4.17,4.17 0 1,0 -8.34,0a4.17,4.17 0 1,0 8.34,0M204.3,431.9a4.17,4.17 0 1,0 -8.34,0a4.17,4.17 0 1,0 8.34,0M206.5,431.9a4.17,4.17 0 1,0 -8.34,0a4.17,4.17 0 1,0 8.34,0M208.7,431.9a4.17,4.17 0 1,0 -8.34,0a4.17,4.17 0 1,0 8.34,0M210.9,431.9a4.17,4.17 0 1,0 -8.34,0a4.17,4.17 0 1,0 8.34,0M213.1,431.9a4.17,4.17 0 1,0 -8.34,0a4.17,4.17 0 1,0 8.34,0M215.3,431.9a4.17,4.17 0 1,0 -8.34,0a4.17,4.17 0 1,0 8.34,0M217.5,431.9a4.17,4.17 0 1,0 -8.34,0a4.17,4.17 0 1,0 8.34,0M219.7,431.9a4.17,4.17 0 1,0 -8.34,0a4.17,4.17 0 1,0 8.34,0M221.9,431.9a4.17,4.17 0 1,0 -8.34,0a4.17,4.17 0 1,0 8.34,0M224.1,431.9a4.17,4.17 0 1,0 -8.34,0a4.17,4.17 0 1,0 8.34,0M226.3,431.9a4.17,4.17 0 1,0 -8.34,0a4.17,4.17 0 1,0 8.34,0M228.5,431.9a4.17,4.17 0 1,0 -8.34,0a4.17,4.17 0 1,0 8.34,0M230.6,431.9a4.17,4.17 0 1,0 -8.34,0a4.17,4.17 0 1,0 8.34,0M232.8,431.9a4.17,4.17 0 1,0 -8.34,0a4.17,4.17 0 1,0 8.34,0M235.0,431.9a4.17,4.17 0 1,0 -8.34,0a4.17,4.17 0 1,0 8.34,0M237.2,431.9a4.17,4.17 0 1,0 -8.34,0a4.17,4.17 0 1,0 8.34,0M239.4,431.9a4.17,4.17 0 1,0 -8.34,0a4.17,4.17 0 1,0 8.34,0M241.6,431.9a4.17,4.17 0 1,0 -8.34,0a4.17,4.17 0 1,0 8.34,0M243.8,431.9a4.17,4.17 0 1,0 -8.34,0a4.17,4.17 0 1,0 8.34,0M246.0,431.9a4.17,4.17 0 1,0 -8.34,0a4.17,4.17 0 1,0 8.34,0M248.2,431.9a4.17,4.17 0 1,0 -8.34,0a4.17,4.17 0 1,0 8.34,0M250.4,431.9a4.17,4.17 0 1,0 -8.34,0a4.17,4.17 0 1,0 8.34,0M252.6,431.9a4.17,4.17 0 1,0 -8.34,0a4.17,4.17 0 1,0 8.34,0M254.8,431.9a4.17,4.17 0 1,0 -8.34,0a4.17,4.17 0 1,0 8.34,0M257.0,431.9a4.17,4.17 0 1,0 -8.34,0a4.17,4.17 0 1,0 8.34,0M259.2,431.9a4.17,4.17 0 1,0 -8.34,0a4.17,4.17 0 1,0 8.34,0M261.4,431.9a4.17,4.17 0 1,0 -8.34,0a4.17,4.17 0 1,0 8.34,0M263.6,431.9a4.17,4.17 0 1,0 -8.34,0a4.17,4.17 0 1,0 8.34,0M265.8,431.9a4.17,4.17 0 1,0 -8.34,0a4.17,4.17 0 1,0 8.34,0M268.0,431.9a4.17,4.17 0 1,0 -8.34,0a4.17,4.17 0 1,0 8.34,0M270.2,431.9a4.17,4.17 0 1,0 -8.34,0a4.17,4.17 0 1,0 8.34,0M272.4,431.9a4.17,4.17 0 1,0 -8.34,0a4.17,4.17 0 1,0 8.34,0M274.6,431.9a4.17,4.17 0 1,0 -8.34,0a4.17,4.17 0 1,0 8.34,0M276.8,431.9a4.17,4.17 0 1,0 -8.34,0a4.17,4.17 0 1,0 8.34,0M279.0,431.9a4.17,4.17 0 1,0 -8.34,0a4.17,4.17 0 1,0 8.34,0M281.2,431.9a4.17,4.17 0 1,0 -8.34,0a4.17,4.17 0 1,0 8.34,0M283.4,431.9a4.17,4.17 0 1,0 -8.34,0a4.17,4.17 0 1,0 8.34,0M285.6,431.9a4.17,4.17 0 1,0 -8.34,0a4.17,4.17 0 1,0 8.34,0M287.8,431.9a4.17,4.17 0 1,0 -8.34,0a4.17,4.17 0 1,0 8.34,0M290.0,431.9a4.17,4.17 0 1,0 -8.34,0a4.17,4.17 0 1,0 8.34,0M292.2,431.9a4.17,4.17 0 1,0 -8.34,0a4.17,4.17 0 1,0 8.34,0M294.4,431.9a4.17,4.17 0 1,0 -8.34,0a4.17,4.17 0 1,0 8.34,0M296.6,431.9a4.17,4.17 0 1,0 -8.34,0a4.17,4.17 0 1,0 8.34,0M298.8,431.9a4.17,4.17 0 1,0 -8.34,0a4.17,4.17 0 1,0 8.34,0M301.0,431.9a4.17,4.17 0 1,0 -8.34,0a4.17,4.17 0 1,0 8.34,0M303.2,431.9a4.17,4.17 0 1,0 -8.34,0a4.17,4.17 0 1,0 8.34,0M305.4,431.9a4.17,4.17 0 1,0 -8.34,0a4.17,4.17 0 1,0 8.34,0M307.6,431.8a4.17,4.17 0 1,0 -8.34,0a4.17,4.17 0 1,0 8.34,0M309.8,431.7a4.17,4.17 0 1,0 -8.34,0a4.17,4.17 0 1,0 8.34,0M312.0,431.6a4.17,4.17 0 1,0 -8.34,0a4.17,4.17 0 1,0 8.34,0M314.2,431.5a4.17,4.17 0 1,0 -8.34,0a4.17,4.17 0 1,0 8.34,0M316.4,431.4a4.17,4.17 0 1,0 -8.34,0a4.17,4.17 0 1,0 8.34,0M318.6,431.2a4.17,4.17 0 1,0 -8.34,0a4.17,4.17 0 1,0 8.34,0M320.8,431.1a4.17,4.17 0 1,0 -8.34,0a4.17,4.17 0 1,0 8.34,0M323.0,430.9a4.17,4.17 0 1,0 -8.34,0a4.17,4.17 0 1,0 8.34,0M325.2,430.7a4.17,4.17 0 1,0 -8.34,0a4.17,4.17 0 1,0 8.34,0M327.4,430.5a4.17,4.17 0 1,0 -8.34,0a4.17,4.17 0 1,0 8.34,0M329.6,430.3a4.17,4.17 0 1,0 -8.34,0a4.17,4.17 0 1,0 8.34,0M331.8,430.1a4.17,4.17 0 1,0 -8.34,0a4.17,4.17 0 1,0 8.34,0M334.0,429.8a4.17,4.17 0 1,0 -8.34,0a4.17,4.17 0 1,0 8.34,0M336.2,429.6a4.17,4.17 0 1,0 -8.34,0a4.17,4.17 0 1,0 8.34,0M338.4,429.4a4.17,4.17 0 1,0 -8.34,0a4.17,4.17 0 1,0 8.34,0M340.6,429.2a4.17,4.17 0 1,0 -8.34,0a4.17,4.17 0 1,0 8.34,0M342.8,428.9a4.17,4.17 0 1,0 -8.34,0a4.17,4.17 0 1,0 8.34,0M345.0,428.7a4.17,4.17 0 1,0 -8.34,0a4.17,4.17 0 1,0 8.34,0M347.2,428.5a4.17,4.17 0 1,0 -8.34,0a4.17,4.17 0 1,0 8.34,0M349.4,428.3a4.17,4.17 0 1,0 -8.34,0a4.17,4.17 0 1,0 8.34,0M351.6,428.1a4.17,4.17 0 1,0 -8.34,0a4.17,4.17 0 1,0 8.34,0M353.8,427.9a4.17,4.17 0 1,0 -8.34,0a4.17,4.17 0 1,0 8.34,0M356.0,427.7a4.17,4.17 0 1,0 -8.34,0a4.17,4.17 0 1,0 8.34,0M358.2,427.5a4.17,4.17 0 1,0 -8.34,0a4.17,4.17 0 1,0 8.34,0M360.4,427.3a4.17,4.17 0 1,0 -8.34,0a4.17,4.17 0 1,0 8.34,0M362.6,427.1a4.17,4.17 0 1,0 -8.34,0a4.17,4.17 0 1,0 8.34,0M364.8,426.9a4.17,4.17 0 1,0 -8.34,0a4.17,4.17 0 1,0 8.34,0M367.0,426.7a4.17,4.17 0 1,0 -8.34,0a4.17,4.17 0 1,0 8.34,0M369.2,426.5a4.17,4.17 0 1,0 -8.34,0a4.17,4.17 0 1,0 8.34,0M371.4,426.3a4.17,4.17 0 1,0 -8.34,0a4.17,4.17 0 1,0 8.34,0M373.6,426.1a4.17,4.17 0 1,0 -8.34,0a4.17,4.17 0 1,0 8.34,0M375.8,425.9a4.17,4.17 0 1,0 -8.34,0a4.17,4.17 0 1,0 8.34,0M378.0,425.6a4.17,4.17 0 1,0 -8.34,0a4.17,4.17 0 1,0 8.34,0M380.2,425.4a4.17,4.17 0 1,0 -8.34,0a4.17,4.17 0 1,0 8.34,0M382.4,425.1a4.17,4.17 0 1,0 -8.34,0a4.17,4.17 0 1,0 8.34,0M384.6,424.9a4.17,4.17 0 1,0 -8.34,0a4.17,4.17 0 1,0 8.34,0M386.8,424.6a4.17,4.17 0 1,0 -8.34,0a4.17,4.17 0 1,0 8.34,0M389.0,424.4a4.17,4.17 0 1,0 -8.34,0a4.17,4.17 0 1,0 8.34,0M391.2,424.1a4.17,4.17 0 1,0 -8.34,0a4.17,4.17 0 1,0 8.34,0M393.4,423.8a4.17,4.17 0 1,0 -8.34,0a4.17,4.17 0 1,0 8.34,0M395.6,423.4a4.17,4.17 0 1,0 -8.34,0a4.17,4.17 0 1,0 8.34,0M397.8,423.0a4.17,4.17 0 1,0 -8.34,0a4.17,4.17 0 1,0 8.34,0M400.0,422.7a4.17,4.17 0 1,0 -8.34,0a4.17,4.17 0 1,0 8.34,0M402.2,422.3a4.17,4.17 0 1,0 -8.34,0a4.17,4.17 0 1,0 8.34,0M404.4,422.0a4.17,4.17 0 1,0 -8.34,0a4.17,4.17 0 1,0 8.34,0M406.6,421.7a4.17,4.17 0 1,0 -8.34,0a4.17,4.17 0 1,0 8.34,0M408.8,421.5a4.17,4.17 0 1,0 -8.34,0a4.17,4.17 0 1,0 8.34,0M411.0,421.4a4.17,4.17 0 1,0 -8.34,0a4.17,4.17 0 1,0 8.34,0M413.2,421.2a4.17,4.17 0 1,0 -8.34,0a4.17,4.17 0 1,0 8.34,0M415.4,421.2a4.17,4.17 0 1,0 -8.34,0a4.17,4.17 0 1,0 8.34,0M417.6,421.1a4.17,4.17 0 1,0 -8.34,0a4.17,4.17 0 1,0 8.34,0M419.8,421.0a4.17,4.17 0 1,0 -8.34,0a4.17,4.17 0 1,0 8.34,0M422.0,421.0a4.17,4.17 0 1,0 -8.34,0a4.17,4.17 0 1,0 8.34,0M424.2,420.9a4.17,4.17 0 1,0 -8.34,0a4.17,4.17 0 1,0 8.34,0M426.4,420.9a4.17,4.17 0 1,0 -8.34,0a4.17,4.17 0 1,0 8.34,0M428.6,420.8a4.17,4.17 0 1,0 -8.34,0a4.17,4.17 0 1,0 8.34,0M430.8,420.7a4.17,4.17 0 1,0 -8.34,0a4.17,4.17 0 1,0 8.34,0M433.0,420.5a4.17,4.17 0 1,0 -8.34,0a4.17,4.17 0 1,0 8.34,0M435.2,420.3a4.17,4.17 0 1,0 -8.34,0a4.17,4.17 0 1,0 8.34,0M437.4,420.0a4.17,4.17 0 1,0 -8.34,0a4.17,4.17 0 1,0 8.34,0M439.6,419.5a4.17,4.17 0 1,0 -8.34,0a4.17,4.17 0 1,0 8.34,0M441.8,418.9a4.17,4.17 0 1,0 -8.34,0a4.17,4.17 0 1,0 8.34,0M444.0,418.2a4.17,4.17 0 1,0 -8.34,0a4.17,4.17 0 1,0 8.34,0M446.2,417.3a4.17,4.17 0 1,0 -8.34,0a4.17,4.17 0 1,0 8.34,0M448.4,416.4a4.17,4.17 0 1,0 -8.34,0a4.17,4.17 0 1,0 8.34,0M450.6,415.4a4.17,4.17 0 1,0 -8.34,0a4.17,4.17 0 1,0 8.34,0M452.8,414.4a4.17,4.17 0 1,0 -8.34,0a4.17,4.17 0 1,0 8.34,0M455.0,413.4a4.17,4.17 0 1,0 -8.34,0a4.17,4.17 0 1,0 8.34,0M457.2,412.3a4.17,4.17 0 1,0 -8.34,0a4.17,4.17 0 1,0 8.34,0M459.4,411.2a4.17,4.17 0 1,0 -8.34,0a4.17,4.17 0 1,0 8.34,0M461.6,410.0a4.17,4.17 0 1,0 -8.34,0a4.17,4.17 0 1,0 8.34,0M463.8,408.8a4.17,4.17 0 1,0 -8.34,0a4.17,4.17 0 1,0 8.34,0M466.0,407.5a4.17,4.17 0 1,0 -8.34,0a4.17,4.17 0 1,0 8.34,0M468.2,406.1a4.17,4.17 0 1,0 -8.34,0a4.17,4.17 0 1,0 8.34,0M470.4,404.7a4.17,4.17 0 1,0 -8.34,0a4.17,4.17 0 1,0 8.34,0M472.6,403.3a4.17,4.17 0 1,0 -8.34,0a4.17,4.17 0 1,0 8.34,0M474.8,401.7a4.17,4.17 0 1,0 -8.34,0a4.17,4.17 0 1,0 8.34,0M477.0,400.1a4.17,4.17 0 1,0 -8.34,0a4.17,4.17 0 1,0 8.34,0M479.2,398.4a4.17,4.17 0 1,0 -8.34,0a4.17,4.17 0 1,0 8.34,0M481.4,396.5a4.17,4.17 0 1,0 -8.34,0a4.17,4.17 0 1,0 8.34,0M483.6,394.6a4.17,4.17 0 1,0 -8.34,0a4.17,4.17 0 1,0 8.34,0M485.8,392.5a4.17,4.17 0 1,0 -8.34,0a4.17,4.17 0 1,0 8.34,0M488.0,390.3a4.17,4.17 0 1,0 -8.34,0a4.17,4.17 0 1,0 8.34,0M490.2,388.1a4.17,4.17 0 1,0 -8.34,0a4.17,4.17 0 1,0 8.34,0M492.4,385.8a4.17,4.17 0 1,0 -8.34,0a4.17,4.17 0 1,0 8.34,0M494.6,383.6a4.17,4.17 0 1,0 -8.34,0a4.17,4.17 0 1,0 8.34,0M496.8,381.3a4.17,4.17 0 1,0 -8.34,0a4.17,4.17 0 1,0 8.34,0M499.0,379.2a4.17,4.17 0 1,0 -8.34,0a4.17,4.17 0 1,0 8.34,0M501.2,377.1a4.17,4.17 0 1,0 -8.34,0a4.17,4.17 0 1,0 8.34,0M503.4,375.2a4.17,4.17 0 1,0 -8.34,0a4.17,4.17 0 1,0 8.34,0M505.6,373.4a4.17,4.17 0 1,0 -8.34,0a4.17,4.17 0 1,0 8.34,0M507.8,371.6a4.17,4.17 0 1,0 -8.34,0a4.17,4.17 0 1,0 8.34,0M510.0,369.7a4.17,4.17 0 1,0 -8.34,0a4.17,4.17 0 1,0 8.34,0M512.2,367.6a4.17,4.17 0 1,0 -8.34,0a4.17,4.17 0 1,0 8.34,0M514.4,365.1a4.17,4.17 0 1,0 -8.34,0a4.17,4.17 0 1,0 8.34,0M516.6,362.2a4.17,4.17 0 1,0 -8.34,0a4.17,4.17 0 1,0 8.34,0M518.8,358.7a4.17,4.17 0 1,0 -8.34,0a4.17,4.17 0 1,0 8.34,0M521.0,354.6a4.17,4.17 0 1,0 -8.34,0a4.17,4.17 0 1,0 8.34,0M523.2,350.1a4.17,4.17 0 1,0 -8.34,0a4.17,4.17 0 1,0 8.34,0M525.4,345.0a4.17,4.17 0 1,0 -8.34,0a4.17,4.17 0 1,0 8.34,0M527.6,339.5a4.17,4.17 0 1,0 -8.34,0a4.17,4.17 0 1,0 8.34,0M529.8,333.7a4.17,4.17 0 1,0 -8.34,0a4.17,4.17 0 1,0 8.34,0M532.0,326.3a4.17,4.17 0 1,0 -8.34,0a4.17,4.17 0 1,0 8.34,0M534.2,317.6a4.17,4.17 0 1,0 -8.34,0a4.17,4.17 0 1,0 8.34,0M536.4,308.6a4.17,4.17 0 1,0 -8.34,0a4.17,4.17 0 1,0 8.34,0M538.6,300.4a4.17,4.17 0 1,0 -8.34,0a4.17,4.17 0 1,0 8.34,0M540.8,292.6a4.17,4.17 0 1,0 -8.34,0a4.17,4.17 0 1,0 8.34,0M543.0,284.8a4.17,4.17 0 1,0 -8.34,0a4.17,4.17 0 1,0 8.34,0M545.1,276.5a4.17,4.17 0 1,0 -8.34,0a4.17,4.17 0 1,0 8.34,0M547.3,267.5a4.17,4.17 0 1,0 -8.34,0a4.17,4.17 0 1,0 8.34,0M549.5,258.1a4.17,4.17 0 1,0 -8.34,0a4.17,4.17 0 1,0 8.34,0M551.7,248.7a4.17,4.17 0 1,0 -8.34,0a4.17,4.17 0 1,0 8.34,0M553.9,239.4a4.17,4.17 0 1,0 -8.34,0a4.17,4.17 0 1,0 8.34,0M556.1,230.0a4.17,4.17 0 1,0 -8.34,0a4.17,4.17 0 1,0 8.34,0M558.3,220.5a4.17,4.17 0 1,0 -8.34,0a4.17,4.17 0 1,0 8.34,0M560.5,210.5a4.17,4.17 0 1,0 -8.34,0a4.17,4.17 0 1,0 8.34,0M562.7,200.1a4.17,4.17 0 1,0 -8.34,0a4.17,4.17 0 1,0 8.34,0M564.9,189.8a4.17,4.17 0 1,0 -8.34,0a4.17,4.17 0 1,0 8.34,0M567.1,180.4a4.17,4.17 0 1,0 -8.34,0a4.17,4.17 0 1,0 8.34,0M569.3,172.6a4.17,4.17 0 1,0 -8.34,0a4.17,4.17 0 1,0 8.34,0M571.5,166.2a4.17,4.17 0 1,0 -8.34,0a4.17,4.17 0 1,0 8.34,0M573.7,160.4a4.17,4.17 0 1,0 -8.34,0a4.17,4.17 0 1,0 8.34,0M575.9,154.1a4.17,4.17 0 1,0 -8.34,0a4.17,4.17 0 1,0 8.34,0M578.1,147.0a4.17,4.17 0 1,0 -8.34,0a4.17,4.17 0 1,0 8.34,0M580.3,139.5a4.17,4.17 0 1,0 -8.34,0a4.17,4.17 0 1,0 8.34,0M582.5,132.1a4.17,4.17 0 1,0 -8.34,0a4.17,4.17 0 1,0 8.34,0M584.7,124.7a4.17,4.17 0 1,0 -8.34,0a4.17,4.17 0 1,0 8.34,0M586.9,117.3a4.17,4.17 0 1,0 -8.34,0a4.17,4.17 0 1,0 8.34,0M589.1,109.2a4.17,4.17 0 1,0 -8.34,0a4.17,4.17 0 1,0 8.34,0M591.3,99.8a4.17,4.17 0 1,0 -8.34,0a4.17,4.17 0 1,0 8.34,0M593.5,91.5a4.17,4.17 0 1,0 -8.34,0a4.17,4.17 0 1,0 8.34,0M595.7,85.5a4.17,4.17 0 1,0 -8.34,0a4.17,4.17 0 1,0 8.34,0M597.9,80.2a4.17,4.17 0 1,0 -8.34,0a4.17,4.17 0 1,0 8.34,0M600.1,75.8a4.17,4.17 0 1,0 -8.34,0a4.17,4.17 0 1,0 8.34,0M602.3,71.9a4.17,4.17 0 1,0 -8.34,0a4.17,4.17 0 1,0 8.34,0M604.5,69.5a4.17,4.17 0 1,0 -8.34,0a4.17,4.17 0 1,0 8.34,0M606.7,69.9a4.17,4.17 0 1,0 -8.34,0a4.17,4.17 0 1,0 8.34,0M608.9,74.1a4.17,4.17 0 1,0 -8.34,0a4.17,4.17 0 1,0 8.34,0M611.1,80.7a4.17,4.17 0 1,0 -8.34,0a4.17,4.17 0 1,0 8.34,0M613.3,89.3a4.17,4.17 0 1,0 -8.34,0a4.17,4.17 0 1,0 8.34,0M615.5,103.8a4.17,4.17 0 1,0 -8.34,0a4.17,4.17 0 1,0 8.34,0M617.7,122.0a4.17,4.17 0 1,0 -8.34,0a4.17,4.17 0 1,0 8.34,0M619.9,144.8a4.17,4.17 0 1,0 -8.34,0a4.17,4.17 0 1,0 8.34,0M622.1,167.1a4.17,4.17 0 1,0 -8.34,0a4.17,4.17 0 1,0 8.34,0M624.3,189.4a4.17,4.17 0 1,0 -8.34,0a4.17,4.17 0 1,0 8.34,0M626.5,226.6a4.17,4.17 0 1,0 -8.34,0a4.17,4.17 0 1,0 8.34,0M628.7,263.5a4.17,4.17 0 1,0 -8.34,0a4.17,4.17 0 1,0 8.34,0M630.9,290.0a4.17,4.17 0 1,0 -8.34,0a4.17,4.17 0 1,0 8.34,0M633.1,311.3a4.17,4.17 0 1,0 -8.34,0a4.17,4.17 0 1,0 8.34,0M635.3,334.0a4.17,4.17 0 1,0 -8.34,0a4.17,4.17 0 1,0 8.34,0M637.5,352.7a4.17,4.17 0 1,0 -8.34,0a4.17,4.17 0 1,0 8.34,0M639.7,368.8a4.17,4.17 0 1,0 -8.34,0a4.17,4.17 0 1,0 8.34,0M641.9,380.9a4.17,4.17 0 1,0 -8.34,0a4.17,4.17 0 1,0 8.34,0M644.1,390.7a4.17,4.17 0 1,0 -8.34,0a4.17,4.17 0 1,0 8.34,0M646.3,400.6a4.17,4.17 0 1,0 -8.34,0a4.17,4.17 0 1,0 8.34,0M648.5,408.4a4.17,4.17 0 1,0 -8.34,0a4.17,4.17 0 1,0 8.34,0M650.7,413.9a4.17,4.17 0 1,0 -8.34,0a4.17,4.17 0 1,0 8.34,0M652.9,417.5a4.17,4.17 0 1,0 -8.34,0a4.17,4.17 0 1,0 8.34,0M655.1,419.8a4.17,4.17 0 1,0 -8.34,0a4.17,4.17 0 1,0 8.34,0M657.3,421.3a4.17,4.17 0 1,0 -8.34,0a4.17,4.17 0 1,0 8.34,0M659.5,422.3a4.17,4.17 0 1,0 -8.34,0a4.17,4.17 0 1,0 8.34,0M661.7,423.0a4.17,4.17 0 1,0 -8.34,0a4.17,4.17 0 1,0 8.34,0M663.9,423.4a4.17,4.17 0 1,0 -8.34,0a4.17,4.17 0 1,0 8.34,0M666.1,423.7a4.17,4.17 0 1,0 -8.34,0a4.17,4.17 0 1,0 8.34,0M668.3,423.9a4.17,4.17 0 1,0 -8.34,0a4.17,4.17 0 1,0 8.34,0M670.5,423.9a4.17,4.17 0 1,0 -8.34,0a4.17,4.17 0 1,0 8.34,0M672.7,423.9a4.17,4.17 0 1,0 -8.34,0a4.17,4.17 0 1,0 8.34,0M674.9,423.8a4.17,4.17 0 1,0 -8.34,0a4.17,4.17 0 1,0 8.34,0M677.1,423.7a4.17,4.17 0 1,0 -8.34,0a4.17,4.17 0 1,0 8.34,0M679.3,423.6a4.17,4.17 0 1,0 -8.34,0a4.17,4.17 0 1,0 8.34,0M681.5,423.5a4.17,4.17 0 1,0 -8.34,0a4.17,4.17 0 1,0 8.34,0M683.7,423.4a4.17,4.17 0 1,0 -8.34,0a4.17,4.17 0 1,0 8.34,0M685.9,423.3a4.17,4.17 0 1,0 -8.34,0a4.17,4.17 0 1,0 8.34,0M688.1,423.1a4.17,4.17 0 1,0 -8.34,0a4.17,4.17 0 1,0 8.34,0M690.3,423.0a4.17,4.17 0 1,0 -8.34,0a4.17,4.17 0 1,0 8.34,0M692.5,422.9a4.17,4.17 0 1,0 -8.34,0a4.17,4.17 0 1,0 8.34,0M694.7,422.7a4.17,4.17 0 1,0 -8.34,0a4.17,4.17 0 1,0 8.34,0M696.9,422.6a4.17,4.17 0 1,0 -8.34,0a4.17,4.17 0 1,0 8.34,0M699.1,422.4a4.17,4.17 0 1,0 -8.34,0a4.17,4.17 0 1,0 8.34,0M701.3,422.2a4.17,4.17 0 1,0 -8.34,0a4.17,4.17 0 1,0 8.34,0M703.5,422.0a4.17,4.17 0 1,0 -8.34,0a4.17,4.17 0 1,0 8.34,0M705.7,421.8a4.17,4.17 0 1,0 -8.34,0a4.17,4.17 0 1,0 8.34,0M707.9,421.6a4.17,4.17 0 1,0 -8.34,0a4.17,4.17 0 1,0 8.34,0M710.1,421.4a4.17,4.17 0 1,0 -8.34,0a4.17,4.17 0 1,0 8.34,0M712.3,421.2a4.17,4.17 0 1,0 -8.34,0a4.17,4.17 0 1,0 8.34,0M714.5,421.0a4.17,4.17 0 1,0 -8.34,0a4.17,4.17 0 1,0 8.34,0M716.7,420.7a4.17,4.17 0 1,0 -8.34,0a4.17,4.17 0 1,0 8.34,0M718.9,420.5a4.17,4.17 0 1,0 -8.34,0a4.17,4.17 0 1,0 8.34,0M721.1,420.3a4.17,4.17 0 1,0 -8.34,0a4.17,4.17 0 1,0 8.34,0M723.3,420.1a4.17,4.17 0 1,0 -8.34,0a4.17,4.17 0 1,0 8.34,0M725.5,420.0a4.17,4.17 0 1,0 -8.34,0a4.17,4.17 0 1,0 8.34,0M727.7,419.8a4.17,4.17 0 1,0 -8.34,0a4.17,4.17 0 1,0 8.34,0M729.9,419.7a4.17,4.17 0 1,0 -8.34,0a4.17,4.17 0 1,0 8.34,0M732.1,419.6a4.17,4.17 0 1,0 -8.34,0a4.17,4.17 0 1,0 8.34,0M734.3,419.5a4.17,4.17 0 1,0 -8.34,0a4.17,4.17 0 1,0 8.34,0M736.5,419.4a4.17,4.17 0 1,0 -8.34,0a4.17,4.17 0 1,0 8.34,0M738.7,419.4a4.17,4.17 0 1,0 -8.34,0a4.17,4.17 0 1,0 8.34,0M740.9,419.4a4.17,4.17 0 1,0 -8.34,0a4.17,4.17 0 1,0 8.34,0M743.1,419.4a4.17,4.17 0 1,0 -8.34,0a4.17,4.17 0 1,0 8.34,0M745.3,419.5a4.17,4.17 0 1,0 -8.34,0a4.17,4.17 0 1,0 8.34,0M747.5,419.5a4.17,4.17 0 1,0 -8.34,0a4.17,4.17 0 1,0 8.34,0M749.7,419.5a4.17,4.17 0 1,0 -8.34,0a4.17,4.17 0 1,0 8.34,0M751.9,419.6a4.17,4.17 0 1,0 -8.34,0a4.17,4.17 0 1,0 8.34,0M754.1,419.7a4.17,4.17 0 1,0 -8.34,0a4.17,4.17 0 1,0 8.34,0M756.3,419.8a4.17,4.17 0 1,0 -8.34,0a4.17,4.17 0 1,0 8.34,0M758.5,419.9a4.17,4.17 0 1,0 -8.34,0a4.17,4.17 0 1,0 8.34,0M760.7,420.0a4.17,4.17 0 1,0 -8.34,0a4.17,4.17 0 1,0 8.34,0M762.9,420.1a4.17,4.17 0 1,0 -8.34,0a4.17,4.17 0 1,0 8.34,0M765.1,420.2a4.17,4.17 0 1,0 -8.34,0a4.17,4.17 0 1,0 8.34,0M767.3,420.3a4.17,4.17 0 1,0 -8.34,0a4.17,4.17 0 1,0 8.34,0M769.5,420.4a4.17,4.17 0 1,0 -8.34,0a4.17,4.17 0 1,0 8.34,0M771.7,420.5a4.17,4.17 0 1,0 -8.34,0a4.17,4.17 0 1,0 8.34,0M773.9,420.7a4.17,4.17 0 1,0 -8.34,0a4.17,4.17 0 1,0 8.34,0M776.1,420.8a4.17,4.17 0 1,0 -8.34,0a4.17,4.17 0 1,0 8.34,0M778.3,420.9a4.17,4.17 0 1,0 -8.34,0a4.17,4.17 0 1,0 8.34,0M780.5,421.1a4.17,4.17 0 1,0 -8.34,0a4.17,4.17 0 1,0 8.34,0M782.7,421.2a4.17,4.17 0 1,0 -8.34,0a4.17,4.17 0 1,0 8.34,0M784.9,421.4a4.17,4.17 0 1,0 -8.34,0a4.17,4.17 0 1,0 8.34,0M787.1,421.5a4.17,4.17 0 1,0 -8.34,0a4.17,4.17 0 1,0 8.34,0M789.3,421.6a4.17,4.17 0 1,0 -8.34,0a4.17,4.17 0 1,0 8.34,0M791.5,421.7a4.17,4.17 0 1,0 -8.34,0a4.17,4.17 0 1,0 8.34,0M793.7,421.9a4.17,4.17 0 1,0 -8.34,0a4.17,4.17 0 1,0 8.34,0M795.9,422.0a4.17,4.17 0 1,0 -8.34,0a4.17,4.17 0 1,0 8.34,0M798.1,422.1a4.17,4.17 0 1,0 -8.34,0a4.17,4.17 0 1,0 8.34,0M800.3,422.3a4.17,4.17 0 1,0 -8.34,0a4.17,4.17 0 1,0 8.34,0M802.5,422.4a4.17,4.17 0 1,0 -8.34,0a4.17,4.17 0 1,0 8.34,0M804.7,422.5a4.17,4.17 0 1,0 -8.34,0a4.17,4.17 0 1,0 8.34,0M806.9,422.7a4.17,4.17 0 1,0 -8.34,0a4.17,4.17 0 1,0 8.34,0M809.1,422.8a4.17,4.17 0 1,0 -8.34,0a4.17,4.17 0 1,0 8.34,0M811.3,423.0a4.17,4.17 0 1,0 -8.34,0a4.17,4.17 0 1,0 8.34,0M813.5,423.2a4.17,4.17 0 1,0 -8.34,0a4.17,4.17 0 1,0 8.34,0M815.7,423.3a4.17,4.17 0 1,0 -8.34,0a4.17,4.17 0 1,0 8.34,0M817.9,423.5a4.17,4.17 0 1,0 -8.34,0a4.17,4.17 0 1,0 8.34,0M820.1,423.7a4.17,4.17 0 1,0 -8.34,0a4.17,4.17 0 1,0 8.34,0M822.3,423.8a4.17,4.17 0 1,0 -8.34,0a4.17,4.17 0 1,0 8.34,0M824.5,424.0a4.17,4.17 0 1,0 -8.34,0a4.17,4.17 0 1,0 8.34,0M826.7,424.2a4.17,4.17 0 1,0 -8.34,0a4.17,4.17 0 1,0 8.34,0M828.9,424.3a4.17,4.17 0 1,0 -8.34,0a4.17,4.17 0 1,0 8.34,0M831.1,424.5a4.17,4.17 0 1,0 -8.34,0a4.17,4.17 0 1,0 8.34,0M833.3,424.7a4.17,4.17 0 1,0 -8.34,0a4.17,4.17 0 1,0 8.34,0M835.5,424.8a4.17,4.17 0 1,0 -8.34,0a4.17,4.17 0 1,0 8.34,0M837.7,425.0a4.17,4.17 0 1,0 -8.34,0a4.17,4.17 0 1,0 8.34,0M839.9,425.2a4.17,4.17 0 1,0 -8.34,0a4.17,4.17 0 1,0 8.34,0M842.1,425.3a4.17,4.17 0 1,0 -8.34,0a4.17,4.17 0 1,0 8.34,0M844.3,425.5a4.17,4.17 0 1,0 -8.34,0a4.17,4.17 0 1,0 8.34,0M846.5,425.6a4.17,4.17 0 1,0 -8.34,0a4.17,4.17 0 1,0 8.34,0M848.7,425.8a4.17,4.17 0 1,0 -8.34,0a4.17,4.17 0 1,0 8.34,0M850.9,426.0a4.17,4.17 0 1,0 -8.34,0a4.17,4.17 0 1,0 8.34,0M853.1,426.1a4.17,4.17 0 1,0 -8.34,0a4.17,4.17 0 1,0 8.34,0M855.3,426.3a4.17,4.17 0 1,0 -8.34,0a4.17,4.17 0 1,0 8.34,0M857.5,426.5a4.17,4.17 0 1,0 -8.34,0a4.17,4.17 0 1,0 8.34,0M859.6,426.6a4.17,4.17 0 1,0 -8.34,0a4.17,4.17 0 1,0 8.34,0M861.8,426.8a4.17,4.17 0 1,0 -8.34,0a4.17,4.17 0 1,0 8.34,0M864.0,427.0a4.17,4.17 0 1,0 -8.34,0a4.17,4.17 0 1,0 8.34,0M866.2,427.1a4.17,4.17 0 1,0 -8.34,0a4.17,4.17 0 1,0 8.34,0M868.4,427.3a4.17,4.17 0 1,0 -8.34,0a4.17,4.17 0 1,0 8.34,0M870.6,427.5a4.17,4.17 0 1,0 -8.34,0a4.17,4.17 0 1,0 8.34,0M872.8,427.6a4.17,4.17 0 1,0 -8.34,0a4.17,4.17 0 1,0 8.34,0M875.0,427.8a4.17,4.17 0 1,0 -8.34,0a4.17,4.17 0 1,0 8.34,0M877.2,427.9a4.17,4.17 0 1,0 -8.34,0a4.17,4.17 0 1,0 8.34,0M879.4,428.1a4.17,4.17 0 1,0 -8.34,0a4.17,4.17 0 1,0 8.34,0M881.6,428.2a4.17,4.17 0 1,0 -8.34,0a4.17,4.17 0 1,0 8.34,0M883.8,428.4a4.17,4.17 0 1,0 -8.34,0a4.17,4.17 0 1,0 8.34,0M886.0,428.5a4.17,4.17 0 1,0 -8.34,0a4.17,4.17 0 1,0 8.34,0M888.2,428.7a4.17,4.17 0 1,0 -8.34,0a4.17,4.17 0 1,0 8.34,0M890.4,428.8a4.17,4.17 0 1,0 -8.34,0a4.17,4.17 0 1,0 8.34,0M892.6,428.9a4.17,4.17 0 1,0 -8.34,0a4.17,4.17 0 1,0 8.34,0M894.8,429.1a4.17,4.17 0 1,0 -8.34,0a4.17,4.17 0 1,0 8.34,0M897.0,429.2a4.17,4.17 0 1,0 -8.34,0a4.17,4.17 0 1,0 8.34,0M899.2,429.4a4.17,4.17 0 1,0 -8.34,0a4.17,4.17 0 1,0 8.34,0M901.4,429.5a4.17,4.17 0 1,0 -8.34,0a4.17,4.17 0 1,0 8.34,0M903.6,429.6a4.17,4.17 0 1,0 -8.34,0a4.17,4.17 0 1,0 8.34,0M905.8,429.7a4.17,4.17 0 1,0 -8.34,0a4.17,4.17 0 1,0 8.34,0M908.0,429.9a4.17,4.17 0 1,0 -8.34,0a4.17,4.17 0 1,0 8.34,0M910.2,430.0a4.17,4.17 0 1,0 -8.34,0a4.17,4.17 0 1,0 8.34,0M912.4,430.1a4.17,4.17 0 1,0 -8.34,0a4.17,4.17 0 1,0 8.34,0M914.6,430.2a4.17,4.17 0 1,0 -8.34,0a4.17,4.17 0 1,0 8.34,0M916.8,430.3a4.17,4.17 0 1,0 -8.34,0a4.17,4.17 0 1,0 8.34,0M919.0,430.3a4.17,4.17 0 1,0 -8.34,0a4.17,4.17 0 1,0 8.34,0M921.2,430.4a4.17,4.17 0 1,0 -8.34,0a4.17,4.17 0 1,0 8.34,0M923.4,430.5a4.17,4.17 0 1,0 -8.34,0a4.17,4.17 0 1,0 8.34,0M925.6,430.5a4.17,4.17 0 1,0 -8.34,0a4.17,4.17 0 1,0 8.34,0M927.8,430.6a4.17,4.17 0 1,0 -8.34,0a4.17,4.17 0 1,0 8.34,0M930.0,430.6a4.17,4.17 0 1,0 -8.34,0a4.17,4.17 0 1,0 8.34,0M932.2,430.7a4.17,4.17 0 1,0 -8.34,0a4.17,4.17 0 1,0 8.34,0M934.4,430.8a4.17,4.17 0 1,0 -8.34,0a4.17,4.17 0 1,0 8.34,0M936.6,430.8a4.17,4.17 0 1,0 -8.34,0a4.17,4.17 0 1,0 8.34,0M938.8,430.9a4.17,4.17 0 1,0 -8.34,0a4.17,4.17 0 1,0 8.34,0M941.0,430.9a4.17,4.17 0 1,0 -8.34,0a4.17,4.17 0 1,0 8.34,0M943.2,431.0a4.17,4.17 0 1,0 -8.34,0a4.17,4.17 0 1,0 8.34,0M945.4,431.0a4.17,4.17 0 1,0 -8.34,0a4.17,4.17 0 1,0 8.34,0M947.6,431.1a4.17,4.17 0 1,0 -8.34,0a4.17,4.17 0 1,0 8.34,0M949.8,431.1a4.17,4.17 0 1,0 -8.34,0a4.17,4.17 0 1,0 8.34,0M952.0,431.2a4.17,4.17 0 1,0 -8.34,0a4.17,4.17 0 1,0 8.34,0M954.2,431.2a4.17,4.17 0 1,0 -8.34,0a4.17,4.17 0 1,0 8.34,0M956.4,431.2a4.17,4.17 0 1,0 -8.34,0a4.17,4.17 0 1,0 8.34,0M958.6,431.3a4.17,4.17 0 1,0 -8.34,0a4.17,4.17 0 1,0 8.34,0M960.8,431.3a4.17,4.17 0 1,0 -8.34,0a4.17,4.17 0 1,0 8.34,0M963.0,431.3a4.17,4.17 0 1,0 -8.34,0a4.17,4.17 0 1,0 8.34,0M965.2,431.4a4.17,4.17 0 1,0 -8.34,0a4.17,4.17 0 1,0 8.34,0M967.4,431.4a4.17,4.17 0 1,0 -8.34,0a4.17,4.17 0 1,0 8.34,0M969.6,431.4a4.17,4.17 0 1,0 -8.34,0a4.17,4.17 0 1,0 8.34,0M971.8,431.4a4.17,4.17 0 1,0 -8.34,0a4.17,4.17 0 1,0 8.34,0M974.0,431.5a4.17,4.17 0 1,0 -8.34,0a4.17,4.17 0 1,0 8.34,0M976.2,431.5a4.17,4.17 0 1,0 -8.34,0a4.17,4.17 0 1,0 8.34,0M978.4,431.5a4.17,4.17 0 1,0 -8.34,0a4.17,4.17 0 1,0 8.34,0M980.6,431.5a4.17,4.17 0 1,0 -8.34,0a4.17,4.17 0 1,0 8.34,0M982.8,431.5a4.17,4.17 0 1,0 -8.34,0a4.17,4.17 0 1,0 8.34,0" fill="none" stroke="#0000ff" stroke-width="4.17"/>
<path d="M162.7,431.9 L163.7,431.9 L164.7,431.9 L165.7,431.9 L166.7,431.9 L167.7,431.9 L168.7,431.9 L169.7,431.9 L170.7,431.9 L171.7,431.9 L172.7,431.9 L173.7,431.9 L174.7,431.9 L175.7,431.9 L176.7,431.9 L177.7,431.9 L178.7,431.9 L179.7,431.9 L180.7,431.9 L181.7,431.9 L182.7,431.9 L183.7,431.9 L184.7,431.9 L185.7,431.9 L186.7,431.9 L187.7,431.9 L188.7,431.9 L189.7,431.9 L190.7,431.9 L191.7,431.9 L192.7,431.9 L193.7,431.9 L194.7,431.9 L195.7,431.9 L196.7,431.9 L197.7,431.9 L198.7,431.9 L199.7,431.9 L200.7,431.9 L201.7,431.9 L202.7,431.9 L203.7,431.9 L204.7,431.9 L205.7,431.9 L206.7,431.9 L207.7,431.9 L208.7,431.9 L209.7,431.9 L210.7,431.9 L211.7,431.9 L212.7,431.9 L213.7,431.9 L214.7,431.9 L215.7,431.9 L216.7,431.9 L217.7,431.9 L218.7,431.9 L219.7,431.9 L220.7,431.9 L221.7,431.9 L222.7,431.9 L223.7,431.9 L224.7,431.9 L225.7,431.9 L226.7,431.9 L227.7,431.9 L228.7,431.9 L229.7,431.9 L230.7,431.9 L231.7,431.9 L232.7,431.9 L233.7,431.9 L234.7,431.9 L235.7,431.9 L236.7,431.9 L237.7,431.9 L238.7,431.9 L239.7,431.9 L240.7,431.9 L241.7,431.9 L242.7,431.9 L243.7,431.9 L244.7,431.9 L245.7,431.9 L246.7,431.9 L247.7,431.9 L248.7,431.9 L249.7,431.9 L250.7,431.9 L251.7,431.9 L252.7,431.9 L253.7,431.9 L254.7,431.9 L255.7,431.9 L256.7,431.9 L257.7,431.9 L258.7,431.9 L259.7,431.9 L260.7,431.9 L261.7,431.9 L262.7,431.9 L263.7,431.9 L264.7,431.9 L265.7,431.9 L266.7,431.9 L267.7,431.9 L268.7,431.9 L269.7,431.9 L270.7,431.9 L271.7,431.9 L272.7,431.9 L273.7,431.9 L274.7,431.9 L275.7,431.9 L276.7,431.9 L277.7,431.9 L278.7,431.9 L279.7,431.9 L280.7,431.9 L281.7,431.9 L282.7,431.9 L283.7,431.9 L284.7,431.9 L285.7,431.9 L286.7,431.9 L287.7,431.9 L288.7,431.9 L289.7,431.9 L290.7,431.9 L291.7,431.9 L292.7,431.9 L293.7,431.9 L294.7,431.9 L295.7,431.9 L296.7,431.9 L297.7,431.9 L298.7,431.9 L299.7,431.9 L300.7,431.9 L301.7,431.9 L302.7,431.8 L303.7,431.8 L304.7,431.8 L305.7,431.8 L306.7,431.7 L307.7,431.7 L308.7,431.6 L309.7,431.6 L310.7,431.5 L311.7,431.5 L312.7,431.4 L313.7,431.3 L314.7,431.3 L315.7,431.2 L316.7,431.1 L317.7,431.0 L318.7,431.0 L319.7,430.9 L320.7,430.8 L321.7,430.7 L322.7,430.6 L323.7,430.5 L324.7,430.4 L325.7,430.3 L326.7,430.2 L327.7,430.1 L328.7,430.0 L329.7,429.9 L330.7,429.8 L331.7,429.7 L332.7,429.6 L333.7,429.5 L334.7,429.4 L335.7,429.3 L336.7,429.2 L337.7,429.1 L338.7,429.0 L339.7,428.9 L340.7,428.8 L341.7,428.7 L342.7,428.6 L343.7,428.5 L344.7,428.4 L345.7,428.4 L346.7,428.3 L347.7,428.2 L348.7,428.1 L349.7,428.0 L350.7,427.9 L351.7,427.8 L352.7,427.7 L353.7,427.6 L354.7,427.6 L355.7,427.5 L356.7,427.4 L357.7,427.3 L358.7,427.2 L359.7,427.1 L360.7,427.0 L361.7,426.9 L362.7,426.8 L363.7,426.7 L364.7,426.6 L365.7,426.5 L366.7,426.4 L367.7,426.3 L368.7,426.2 L369.7,426.1 L370.7,426.0 L371.7,425.9 L372.7,425.8 L373.7,425.7 L374.7,425.6 L375.7,425.5 L376.7,425.4 L377.7,425.3 L378.7,425.2 L379.7,425.1 L380.7,425.0 L381.7,424.8 L382.7,424.7 L383.7,424.6 L384.7,424.5 L385.7,424.4 L386.7,424.2 L387.7,424.1 L388.7,423.9 L389.7,423.8 L390.7,423.6 L391.7,423.5 L392.7,423.3 L393.7,423.2 L394.7,423.0 L395.7,422.8 L396.7,422.7 L397.7,422.5 L398.7,422.3 L399.7,422.2 L400.7,422.0 L401.7,421.9 L402.7,421.8 L403.7,421.7 L404.7,421.6 L405.7,421.5 L406.7,421.4 L407.7,421.4 L408.7,421.3 L409.7,421.3 L410.7,421.2 L411.7,421.2 L412.7,421.1 L413.7,421.1 L414.7,421.1 L415.7,421.1 L416.7,421.0 L417.7,421.0 L418.7,421.0 L419.7,421.0 L420.7,420.9 L421.7,420.9 L422.7,420.9 L423.7,420.8 L424.7,420.8 L425.7,420.8 L426.7,420.7 L427.7,420.7 L428.7,420.6 L429.7,420.5 L430.7,420.4 L431.7,420.3 L432.7,420.2 L433.7,420.1 L434.7,419.9 L435.7,419.7 L436.7,419.4 L437.7,419.1 L438.7,418.8 L439.7,418.5 L440.7,418.2 L441.7,417.8 L442.7,417.4 L443.7,417.0 L444.7,416.6 L445.7,416.1 L446.7,415.7 L447.7,415.3 L448.7,414.8 L449.7,414.4 L450.7,413.9 L451.7,413.4 L452.7,412.9 L453.7,412.4 L454.7,411.9 L455.7,411.4 L456.7,410.9 L457.7,410.3 L458.7,409.8 L459.7,409.2 L460.7,408.7 L461.7,408.1 L462.7,407.5 L463.7,406.9 L464.7,406.3 L465.7,405.6 L466.7,405.0 L467.7,404.4 L468.7,403.7 L469.7,403.0 L470.7,402.3 L471.7,401.6 L472.7,400.9 L473.7,400.2 L474.7,399.4 L475.7,398.6 L476.7,397.8 L477.7,396.9 L478.7,396.1 L479.7,395.2 L480.7,394.3 L481.7,393.3 L482.7,392.4 L483.7,391.4 L484.7,390.4 L485.7,389.4 L486.7,388.4 L487.7,387.3 L488.7,386.3 L489.7,385.3 L490.7,384.2 L491.7,383.2 L492.7,382.2 L493.7,381.2 L494.7,380.2 L495.7,379.3 L496.7,378.3 L497.7,377.4 L498.7,376.5 L499.7,375.6 L500.7,374.8 L501.7,374.0 L502.7,373.2 L503.7,372.3 L504.7,371.5 L505.7,370.7 L506.7,369.8 L507.7,368.9 L508.7,368.0 L509.7,366.9 L510.7,365.8 L511.7,364.6 L512.7,363.3 L513.7,361.8 L514.7,360.3 L515.7,358.6 L516.7,356.9 L517.7,355.0 L518.7,353.0 L519.7,350.9 L520.7,348.7 L521.7,346.4 L522.7,344.0 L523.7,341.6 L524.7,339.1 L525.7,336.5 L526.7,333.8 L527.7,330.7 L528.7,327.2 L529.7,323.4 L530.7,319.4 L531.7,315.3 L532.7,311.3 L533.7,307.3 L534.7,303.5 L535.7,299.9 L536.7,296.4 L537.7,292.9 L538.7,289.4 L539.7,285.9 L540.7,282.2 L541.7,278.5 L542.7,274.5 L543.7,270.5 L544.7,266.3 L545.7,262.0 L546.7,257.8 L547.7,253.5 L548.7,249.3 L549.7,245.1 L550.7,240.9 L551.7,236.7 L552.7,232.4 L553.7,228.2 L554.7,223.9 L555.7,219.6 L556.7,215.1 L557.7,210.5 L558.7,205.8 L559.7,201.0 L560.7,196.3 L561.7,191.6 L562.7,187.2 L563.7,182.9 L564.7,178.9 L565.7,175.3 L566.7,172.1 L567.7,169.1 L568.7,166.3 L569.7,163.7 L570.7,161.1 L571.7,158.4 L572.7,155.5 L573.7,152.4 L574.7,149.2 L575.7,145.9 L576.7,142.6 L577.7,139.2 L578.7,135.8 L579.7,132.4 L580.7,129.1 L581.7,125.8 L582.7,122.5 L583.7,119.1 L584.7,115.6 L585.7,112.0 L586.7,108.1 L587.7,103.8 L588.7,99.6 L589.7,95.6 L590.7,92.0 L591.7,89.0 L592.7,86.2 L593.7,83.7 L594.7,81.7 L595.7,80.1 L596.7,78.5 L597.7,77.1 L598.7,75.9 L599.7,74.9 L600.7,74.3 L601.7,74.3 L602.7,74.9 L603.7,76.2 L604.7,78.1 L605.7,80.5 L606.7,83.2 L607.7,86.2 L608.7,90.5 L609.7,96.6 L610.7,103.8 L611.7,111.6 L612.7,120.3 L613.7,130.4 L614.7,140.8 L615.7,150.9 L616.7,160.9 L617.7,171.2 L618.7,181.3 L619.7,191.4 L620.7,205.1 L621.7,225.9 L622.7,245.1 L623.7,260.0 L624.7,273.2 L625.7,285.0 L626.7,295.4 L627.7,304.8 L628.7,314.3 L629.7,324.6 L630.7,334.9 L631.7,343.8 L632.7,351.8 L633.7,359.6 L634.7,367.4 L635.7,375.0 L636.7,382.2 L637.7,388.8 L638.7,394.9 L639.7,400.4 L640.7,405.3 L641.7,409.7 L642.7,413.5 L643.7,416.8 L644.7,419.6 L645.7,422.0 L646.7,424.0 L647.7,425.6 L648.7,427.0 L649.7,428.1 L650.7,428.9 L651.7,429.6 L652.7,430.2 L653.7,430.6 L654.7,430.9 L655.7,431.2 L656.7,431.4 L657.7,431.5 L658.7,431.6 L659.7,431.7 L660.7,431.8 L661.7,431.8 L662.7,431.9 L663.7,431.9 L664.7,431.9 L665.7,431.9 L666.7,431.9 L667.7,431.9 L668.7,431.9 L669.7,431.9 L670.7,431.9 L671.7,431.9 L672.7,431.9 L673.7,431.9 L674.7,431.9 L675.7,431.9 L676.7,431.9 L677.7,431.9 L678.7,431.9 L679.7,431.9 L680.7,431.9 L681.7,431.9 L682.7,431.9 L683.7,431.9 L684.7,431.9 L685.7,431.9 L686.7,431.9 L687.7,431.9 L688.7,431.9 L689.7,431.9 L690.7,431.9 L691.7,431.9 L692.7,431.9 L693.7,431.9 L694.7,431.9 L695.7,431.9 L696.7,431.9 L697.7,431.9 L698.7,431.9 L699.7,431.9 L700.7,431.9 L701.7,431.9 L702.7,431.9 L703.7,431.9 L704.7,431.9 L705.7,431.9 L706.7,431.9 L707.7,431.9 L708.7,431.9 L709.7,431.9 L710.7,431.9 L711.7,431.9 L712.7,431.9 L713.7,431.9 L714.7,431.9 L715.7,431.9 L716.7,431.9 L717.7,431.9 L718.7,431.9 L719.7,431.9 L720.7,431.9 L721.7,431.9 L722.7,431.9 L723.7,431.9 L724.7,431.9 L725.7,431.9 L726.7,431.9 L727.7,431.9 L728.7,431.9 L729.7,431.9 L730.7,431.9 L731.7,431.9 L732.7,431.9 L733.7,431.9 L734.7,431.9 L735.7,431.9 L736.7,431.9 L737.7,431.9 L738.7,431.9 L739.7,431.9 L740.7,431.9 L741.7,431.9 L742.7,431.9 L743.7,431.9 L744.7,431.9 L745.7,431.9 L746.7,431.9 L747.7,431.9 L748.7,431.9 L749.7,431.9 L750.7,431.9 L751.7,431.9 L752.7,431.9 L753.7,431.9 L754.7,431.9 L755.7,431.9 L756.7,431.9 L757.7,431.9 L758.7,431.9 L759.7,431.9 L760.7,431.9 L761.7,431.9 L762.7,431.9 L763.7,431.9 L764.7,431.9 L765.7,431.9 L766.7,431.9 L767.7,431.9 L768.7,431.9 L769.7,431.9 L770.7,431.9 L771.7,431.9 L772.7,431.9 L773.7,431.9 L774.7,431.9 L775.7,431.9 L776.7,431.9 L777.7,431.9 L778.7,431.9 L779.7,431.9 L780.7,431.9 L781.7,431.9 L782.7,431.9 L783.7,431.9 L784.7,431.9 L785.7,431.9 L786.7,431.9 L787.7,431.9 L788.7,431.9 L789.7,431.9 L790.7,431.9 L791.7,431.9 L792.7,431.9 L793.7,431.9 L794.7,431.9 L795.7,431.9 L796.7,431.9 L797.7,431.9 L798.7,431.9 L799.7,431.9 L800.7,431.9 L801.7,431.9 L802.7,431.9 L803.7,431.9 L804.7,431.9 L805.7,431.9 L806.7,431.9 L807.7,431.9 L808.7,431.9 L809.7,431.9 L810.7,431.9 L811.7,431.9 L812.7,431.9 L813.7,431.9 L814.7,431.9 L815.7,431.9 L816.7,431.9 L817.7,431.9 L818.7,431.9 L819.7,431.9 L820.7,431.9 L821.7,431.9 L822.7,431.9 L823.7,431.9 L824.7,431.9 L825.7,431.9 L826.7,431.9 L827.7,431.9 L828.7,431.9 L829.7,431.9 L830.7,431.9 L831.7,431.9 L832.7,431.9 L833.7,431.9 L834.7,431.9 L835.7,431.9 L836.7,431.9 L837.7,431.9 L838.7,431.9 L839.7,431.9 L840.7,431.9 L841.7,431.9 L842.7,431.9 L843.7,431.9 L844.7,431.9 L845.7,431.9 L846.7,431.9 L847.7,431.9 L848.7,431.9 L849.7,431.9 L850.7,431.9 L851.7,431.9 L852.7,431.9 L853.7,431.9 L854.7,431.9 L855.7,431.9 L856.7,431.9 L857.7,431.9 L858.7,431.9 L859.7,431.9 L860.7,431.9 L861.7,431.9 L862.7,431.9 L863.7,431.9 L864.7,431.9 L865.7,431.9 L866.7,431.9 L867.7,431.9 L868.7,431.9 L869.7,431.9 L870.7,431.9 L871.7,431.9 L872.7,431.9 L873.7,431.9 L874.7,431.9 L875.7,431.9 L876.7,431.9 L877.7,431.9 L878.7,431.9 L879.7,431.9 L880.7,431.9 L881.7,431.9 L882.7,431.9 L883.7,431.9 L884.7,431.9 L885.7,431.9 L886.7,431.9 L887.7,431.9 L888.7,431.9 L889.7,431.9 L890.7,431.9 L891.7,431.9 L892.7,431.9 L893.7,431.9 L894.7,431.9 L895.7,431.9 L896.7,431.9 L897.7,431.9 L898.7,431.9 L899.7,431.9 L900.7,431.9 L901.7,431.9 L902.7,431.9 L903.7,431.9 L904.7,431.9 L905.7,431.9 L906.7,431.9 L907.7,431.9 L908.7,431.9 L909.7,431.9 L910.7,431.9 L911.7,431.9 L912.7,431.9 L913.7,431.9 L914.7,431.9 L915.7,431.9 L916.7,431.9 L917.7,431.9 L918.7,431.9 L919.7,431.9 L920.7,431.9 L921.7,431.9 L922.7,431.9 L923.7,431.9 L924.7,431.9 L925.7,431.9 L926.7,431.9 L927.7,431.9 L928.7,431.9 L929.7,431.9 L930.7,431.9 L931.7,431.9 L932.7,431.9 L933.7,431.9 L934.7,431.9 L935.7,431.9 L936.7,431.9 L937.7,431.9 L938.7,431.9 L939.7,431.9 L940.7,431.9 L941.7,431.9 L942.7,431.9 L943.7,431.9 L944.7,431.9 L945.7,431.9 L946.7,431.9 L947.7,431.9 L948.7,431.9 L949.7,431.9 L950.7,431.9 L951.7,431.9 L952.7,431.9 L953.7,431.9 L954.7,431.9 L955.7,431.9 L956.7,431.9 L957.7,431.9 L958.7,431.9 L959.7,431.9 L960.7,431.9 L961.7,431.9 L962.7,431.9 L963.7,431.9 L964.7,431.9 L965.7,431.9 L966.7,431.9 L967.7,431.9 L968.7,431.9 L969.7,431.9 L970.7,431.9 L971.7,431.9 L972.7,431.9 L973.7,431.9 L974.7,431.9 L975.7,431.9 L976.7,431.9 L977.7,431.9 L978.7,431.9 L979.0,431.9" fill="none" stroke="#000" stroke-width="5.45" stroke-linejoin="round" stroke-linecap="square"/>
</g>
<rect x="121.7" y="52.4" width="898.9" height="397.8" fill="none" stroke="#000" stroke-width="3.33"/>
<line x1="161.60" y1="450.20" x2="161.60" y2="463.90" stroke="#000" stroke-width="3.33"/>
<line x1="381.53" y1="450.20" x2="381.53" y2="463.90" stroke="#000" stroke-width="3.33"/>
<line x1="601.46" y1="450.20" x2="601.46" y2="463.90" stroke="#000" stroke-width="3.33"/>
<line x1="821.39" y1="450.20" x2="821.39" y2="463.90" stroke="#000" stroke-width="3.33"/>
<clipPath id="clipb"><rect x="121.7" y="529.8" width="898.9" height="397.6"/></clipPath>
<g clip-path="url(#clipb)">
<path d="M174.0,909.4 L175.0,909.4 L176.0,909.4 L177.0,909.4 L178.0,909.4 L179.0,909.4 L180.0,909.4 L181.0,909.4 L182.0,909.4 L183.0,909.4 L184.0,909.4 L185.0,909.4 L186.0,909.4 L187.0,909.4 L188.0,909.4 L189.0,909.4 L190.0,909.4 L191.0,909.4 L192.0,909.4 L193.0,909.4 L194.0,909.4 L195.0,909.4 L196.0,909.4 L197.0,909.4 L198.0,909.4 L199.0,909.4 L200.0,909.4 L201.0,909.4 L202.0,909.4 L203.0,909.4 L204.0,909.4 L205.0,909.4 L206.0,909.4 L207.0,909.4 L208.0,909.4 L209.0,909.4 L210.0,909.4 L211.0,909.4 L212.0,909.4 L213.0,909.4 L214.0,909.4 L215.0,909.4 L216.0,909.4 L217.0,909.4 L218.0,909.4 L219.0,909.4 L220.0,909.4 L221.0,909.4 L222.0,909.4 L223.0,909.4 L224.0,909.4 L225.0,909.4 L226.0,909.4 L227.0,909.4 L228.0,909.4 L229.0,909.4 L230.0,909.4 L231.0,909.4 L232.0,909.4 L233.0,909.4 L234.0,909.4 L235.0,909.4 L236.0,909.4 L237.0,909.4 L238.0,909.4 L239.0,909.4 L240.0,909.4 L241.0,909.4 L242.0,909.4 L243.0,909.4 L244.0,909.4 L245.0,909.4 L246.0,909.4 L247.0,909.4 L248.0,909.4 L249.0,909.4 L250.0,909.4 L251.0,909.4 L252.0,909.4 L253.0,909.4 L254.0,909.4 L255.0,909.4 L256.0,909.4 L257.0,909.4 L258.0,909.4 L259.0,909.4 L260.0,909.4 L261.0,909.4 L262.0,909.4 L263.0,909.4 L264.0,909.4 L265.0,909.4 L266.0,909.4 L267.0,909.4 L268.0,909.4 L269.0,909.4 L270.0,909.4 L271.0,909.4 L272.0,909.4 L273.0,909.4 L274.0,909.4 L275.0,909.4 L276.0,909.4 L277.0,909.4 L278.0,909.4 L279.0,909.4 L280.0,909.4 L281.0,909.4 L282.0,909.4 L283.0,909.4 L284.0,909.4 L285.0,909.4 L286.0,909.4 L287.0,909.4 L288.0,909.4 L289.0,909.4 L290.0,909.4 L291.0,909.4 L292.0,909.4 L293.0,909.4 L294.0,909.4 L295.0,909.4 L296.0,909.4 L297.0,909.4 L298.0,909.4 L299.0,909.4 L300.0,909.4 L301.0,909.4 L302.0,909.4 L303.0,909.4 L304.0,909.4 L305.0,909.4 L306.0,909.4 L307.0,909.4 L308.0,909.4 L309.0,909.4 L310.0,909.4 L311.0,909.4 L312.0,909.4 L313.0,909.4 L314.0,909.4 L315.0,909.4 L316.0,909.4 L317.0,909.4 L318.0,909.4 L319.0,909.4 L320.0,909.4 L321.0,909.4 L322.0,909.4 L323.0,909.4 L324.0,909.4 L325.0,909.4 L326.0,909.4 L327.0,909.4 L328.0,909.4 L329.0,909.4 L330.0,909.4 L331.0,909.4 L332.0,909.4 L333.0,909.4 L334.0,909.4 L335.0,909.4 L336.0,909.4 L337.0,909.4 L338.0,909.4 L339.0,909.4 L340.0,909.4 L341.0,909.4 L342.0,909.4 L343.0,909.4 L344.0,909.4 L345.0,909.4 L346.0,909.4 L347.0,909.4 L348.0,909.4 L349.0,909.4 L350.0,909.4 L351.0,909.4 L352.0,909.4 L353.0,909.4 L354.0,909.4 L355.0,909.4 L356.0,909.4 L357.0,909.4 L358.0,909.4 L359.0,909.4 L360.0,909.4 L361.0,909.4 L362.0,909.4 L363.0,909.4 L364.0,909.4 L365.0,909.4 L366.0,909.4 L367.0,909.4 L368.0,909.4 L369.0,909.4 L370.0,909.4 L371.0,909.4 L372.0,909.4 L373.0,909.4 L374.0,909.4 L375.0,909.4 L376.0,909.4 L377.0,909.4 L378.0,909.4 L379.0,909.4 L380.0,909.4 L381.0,909.4 L382.0,909.4 L383.0,909.4 L384.0,909.4 L385.0,909.4 L386.0,909.4 L387.0,909.4 L388.0,909.4 L389.0,909.4 L390.0,909.4 L391.0,909.4 L392.0,909.4 L393.0,909.4 L394.0,909.4 L395.0,909.4 L396.0,909.4 L397.0,909.4 L398.0,909.4 L399.0,909.4 L400.0,909.4 L401.0,909.4 L402.0,909.4 L403.0,909.4 L404.0,909.4 L405.0,909.4 L406.0,909.4 L407.0,909.4 L408.0,909.4 L409.0,909.4 L410.0,909.4 L411.0,909.4 L412.0,909.4 L413.0,909.3 L414.0,909.3 L415.0,909.3 L416.0,909.3 L417.0,909.3 L418.0,909.3 L419.0,909.3 L420.0,909.3 L421.0,909.3 L422.0,909.3 L423.0,909.3 L424.0,909.3 L425.0,909.2 L426.0,909.2 L427.0,909.2 L428.0,909.2 L429.0,909.2 L430.0,909.1 L431.0,909.1 L432.0,909.1 L433.0,909.1 L434.0,909.0 L435.0,909.0 L436.0,909.0 L437.0,908.9 L438.0,908.9 L439.0,908.8 L440.0,908.8 L441.0,908.7 L442.0,908.7 L443.0,908.6 L444.0,908.6 L445.0,908.5 L446.0,908.4 L447.0,908.3 L448.0,908.2 L449.0,908.1 L450.0,908.0 L451.0,907.9 L452.0,907.8 L453.0,907.6 L454.0,907.5 L455.0,907.3 L456.0,907.1 L457.0,907.0 L458.0,906.8 L459.0,906.6 L460.0,906.3 L461.0,906.1 L462.0,905.8 L463.0,905.5 L464.0,905.2 L465.0,904.9 L466.0,904.5 L467.0,904.2 L468.0,903.8 L469.0,903.3 L470.0,902.9 L471.0,902.4 L472.0,901.9 L473.0,901.3 L474.0,900.7 L475.0,900.1 L476.0,899.4 L477.0,898.7 L478.0,897.9 L479.0,897.1 L480.0,896.2 L481.0,895.2 L482.0,894.3 L483.0,893.2 L484.0,892.1 L485.0,890.9 L486.0,889.6 L487.0,888.3 L488.0,886.9 L489.0,885.4 L490.0,883.8 L491.0,882.2 L492.0,880.4 L493.0,878.5 L494.0,876.6 L495.0,874.5 L496.0,872.3 L497.0,870.0 L498.0,867.6 L499.0,865.1 L500.0,862.4 L501.0,859.6 L502.0,856.6 L503.0,853.6 L504.0,850.3 L505.0,847.0 L506.0,843.4 L507.0,839.7 L508.0,835.9 L509.0,831.9 L510.0,827.7 L511.0,823.3 L512.0,818.8 L513.0,814.1 L514.0,809.2 L515.0,804.1 L516.0,798.9 L517.0,793.4 L518.0,787.8 L519.0,782.0 L520.0,776.0 L521.0,769.9 L522.0,763.5 L523.0,757.0 L524.0,750.3 L525.0,743.5 L526.0,736.5 L527.0,729.4 L528.0,722.1 L529.0,714.7 L530.0,707.1 L531.0,699.5 L532.0,691.8 L533.0,684.0 L534.0,676.1 L535.0,668.3 L536.0,660.4 L537.0,652.5 L538.0,644.7 L539.0,636.9 L540.0,629.3 L541.0,621.8 L542.0,614.6 L543.0,607.5 L544.0,600.8 L545.0,594.4 L546.0,588.5 L547.0,583.2 L548.0,578.5 L549.0,574.7 L550.0,572.2 L551.0,572.4 L552.0,574.5 L553.0,578.3 L554.0,583.7 L555.0,590.6 L556.0,599.0 L557.0,608.6 L558.0,619.4 L559.0,631.2 L560.0,643.9 L561.0,657.3 L562.0,671.2 L563.0,685.4 L564.0,699.9 L565.0,714.4 L566.0,728.8 L567.0,743.0 L568.0,756.9 L569.0,770.3 L570.0,783.1 L571.0,795.4 L572.0,806.9 L573.0,817.8 L574.0,827.9 L575.0,837.3 L576.0,845.9 L577.0,853.8 L578.0,860.9 L579.0,867.3 L580.0,873.1 L581.0,878.2 L582.0,882.7 L583.0,886.7 L584.0,890.2 L585.0,893.3 L586.0,895.9 L587.0,898.1 L588.0,900.1 L589.0,901.7 L590.0,903.1 L591.0,904.2 L592.0,905.2 L593.0,906.0 L594.0,906.7 L595.0,907.2 L596.0,907.7 L597.0,908.0 L598.0,908.3 L599.0,908.5 L600.0,908.7 L601.0,908.9 L602.0,909.0 L603.0,909.1 L604.0,909.2 L605.0,909.2 L606.0,909.3 L607.0,909.3 L608.0,909.3 L609.0,909.3 L610.0,909.4 L611.0,909.4 L612.0,909.4 L613.0,909.4 L614.0,909.4 L615.0,909.4 L616.0,909.4 L617.0,909.4 L618.0,909.4 L619.0,909.4 L620.0,909.4 L621.0,909.4 L622.0,909.4 L623.0,909.4 L624.0,909.4 L625.0,909.4 L626.0,909.4 L627.0,909.4 L628.0,909.4 L629.0,909.4 L630.0,909.4 L630.5,909.4 L630.5,909.4 L174.0,909.4 Z" fill="#d3d3d3" stroke="none"/>
<path d="M174.0,909.4 L175.0,909.4 L176.0,909.4 L177.0,909.4 L178.0,909.4 L179.0,909.4 L180.0,909.4 L181.0,909.4 L182.0,909.4 L183.0,909.4 L184.0,909.4 L185.0,909.4 L186.0,909.4 L187.0,909.4 L188.0,909.4 L189.0,909.4 L190.0,909.4 L191.0,909.4 L192.0,909.4 L193.0,909.4 L194.0,909.4 L195.0,909.4 L196.0,909.4 L197.0,909.4 L198.0,909.4 L199.0,909.4 L200.0,909.4 L201.0,909.4 L202.0,909.4 L203.0,909.4 L204.0,909.4 L205.0,909.4 L206.0,909.4 L207.0,909.4 L208.0,909.4 L209.0,909.4 L210.0,909.4 L211.0,909.4 L212.0,909.4 L213.0,909.4 L214.0,909.4 L215.0,909.4 L216.0,909.4 L217.0,909.4 L218.0,909.4 L219.0,909.4 L220.0,909.4 L221.0,909.4 L222.0,909.4 L223.0,909.4 L224.0,909.4 L225.0,909.4 L226.0,909.4 L227.0,909.4 L228.0,909.4 L229.0,909.4 L230.0,909.4 L231.0,909.4 L232.0,909.4 L233.0,909.4 L234.0,909.4 L235.0,909.4 L236.0,909.4 L237.0,909.4 L238.0,909.4 L239.0,909.4 L240.0,909.4 L241.0,909.4 L242.0,909.4 L243.0,909.4 L244.0,909.4 L245.0,909.4 L246.0,909.4 L247.0,909.4 L248.0,909.4 L249.0,909.4 L250.0,909.4 L251.0,909.4 L252.0,909.4 L253.0,909.4 L254.0,909.4 L255.0,909.4 L256.0,909.4 L257.0,909.4 L258.0,909.4 L259.0,909.4 L260.0,909.4 L261.0,909.4 L262.0,909.4 L263.0,909.4 L264.0,909.4 L265.0,909.4 L266.0,909.4 L267.0,909.4 L268.0,909.4 L269.0,909.4 L270.0,909.4 L271.0,909.4 L272.0,909.4 L273.0,909.4 L274.0,909.4 L275.0,909.4 L276.0,909.4 L277.0,909.4 L278.0,909.4 L279.0,909.4 L280.0,909.4 L281.0,909.3 L282.0,909.3 L283.0,909.3 L284.0,909.3 L285.0,909.3 L286.0,909.3 L287.0,909.3 L288.0,909.3 L289.0,909.2 L290.0,909.2 L291.0,909.2 L292.0,909.1 L293.0,909.1 L294.0,909.1 L295.0,909.0 L296.0,909.0 L297.0,908.9 L298.0,908.9 L299.0,908.8 L300.0,908.7 L301.0,908.6 L302.0,908.5 L303.0,908.4 L304.0,908.3 L305.0,908.2 L306.0,908.1 L307.0,907.9 L308.0,907.8 L309.0,907.6 L310.0,907.4 L311.0,907.3 L312.0,907.1 L313.0,906.8 L314.0,906.6 L315.0,906.4 L316.0,906.1 L317.0,905.9 L318.0,905.6 L319.0,905.3 L320.0,905.0 L321.0,904.6 L322.0,904.3 L323.0,904.0 L324.0,903.6 L325.0,903.3 L326.0,902.9 L327.0,902.5 L328.0,902.1 L329.0,901.7 L330.0,901.3 L331.0,900.9 L332.0,900.5 L333.0,900.2 L334.0,899.8 L335.0,899.4 L336.0,899.0 L337.0,898.6 L338.0,898.3 L339.0,898.0 L340.0,897.6 L341.0,897.3 L342.0,897.0 L343.0,896.8 L344.0,896.5 L345.0,896.3 L346.0,896.1 L347.0,896.0 L348.0,895.8 L349.0,895.7 L350.0,895.7 L351.0,895.6 L352.0,895.6 L353.0,895.6 L354.0,895.7 L355.0,895.9 L356.0,896.1 L357.0,896.3 L358.0,896.6 L359.0,897.0 L360.0,897.4 L361.0,897.8 L362.0,898.3 L363.0,898.7 L364.0,899.3 L365.0,899.8 L366.0,900.3 L367.0,900.9 L368.0,901.4 L369.0,902.0 L370.0,902.5 L371.0,903.0 L372.0,903.5 L373.0,904.0 L374.0,904.5 L375.0,904.9 L376.0,905.4 L377.0,905.8 L378.0,906.2 L379.0,906.5 L380.0,906.8 L381.0,907.1 L382.0,907.4 L383.0,907.6 L384.0,907.9 L385.0,908.1 L386.0,908.2 L387.0,908.4 L388.0,908.5 L389.0,908.7 L390.0,908.8 L391.0,908.9 L392.0,908.9 L393.0,909.0 L394.0,909.1 L395.0,909.1 L396.0,909.2 L397.0,909.2 L398.0,909.3 L399.0,909.3 L400.0,909.3 L401.0,909.3 L402.0,909.3 L403.0,909.3 L404.0,909.4 L405.0,909.4 L406.0,909.4 L407.0,909.4 L408.0,909.4 L409.0,909.4 L410.0,909.4 L411.0,909.4 L412.0,909.4 L413.0,909.4 L414.0,909.4 L415.0,909.4 L416.0,909.4 L417.0,909.4 L418.0,909.4 L419.0,909.4 L420.0,909.4 L421.0,909.4 L422.0,909.4 L423.0,909.4 L424.0,909.4 L425.0,909.4 L426.0,909.4 L427.0,909.4 L428.0,909.4 L429.0,909.4 L430.0,909.4 L431.0,909.4 L432.0,909.4 L433.0,909.4 L434.0,909.4 L435.0,909.4 L436.0,909.4 L437.0,909.4 L438.0,909.4 L439.0,909.4 L440.0,909.4 L441.0,909.4 L442.0,909.4 L443.0,909.4 L444.0,909.4 L445.0,909.4 L446.0,909.4 L447.0,909.4 L448.0,909.4 L449.0,909.4 L450.0,909.4 L451.0,909.4 L452.0,909.4 L453.0,909.4 L454.0,909.4 L455.0,909.4 L456.0,909.4 L457.0,909.4 L458.0,909.4 L459.0,909.4 L460.0,909.4 L461.0,909.4 L462.0,909.4 L463.0,909.4 L464.0,909.4 L465.0,909.4 L466.0,909.4 L467.0,909.4 L468.0,909.4 L469.0,909.4 L470.0,909.4 L471.0,909.4 L472.0,909.4 L473.0,909.4 L474.0,909.4 L475.0,909.4 L476.0,909.4 L477.0,909.4 L478.0,909.4 L479.0,909.4 L480.0,909.4 L481.0,909.4 L482.0,909.4 L483.0,909.4 L484.0,909.4 L485.0,909.4 L486.0,909.4 L487.0,909.4 L488.0,909.4 L489.0,909.4 L490.0,909.4 L491.0,909.4 L492.0,909.4 L493.0,909.4 L494.0,909.4 L495.0,909.4 L496.0,909.4 L497.0,909.4 L498.0,909.4 L499.0,909.4 L500.0,909.4 L501.0,909.4 L502.0,909.4 L503.0,909.4 L504.0,909.4 L505.0,909.4 L506.0,909.4 L507.0,909.4 L508.0,909.4 L509.0,909.4 L510.0,909.4 L511.0,909.4 L512.0,909.4 L513.0,909.4 L514.0,909.4 L515.0,909.4 L516.0,909.4 L517.0,909.4 L518.0,909.4 L519.0,909.4 L520.0,909.4 L521.0,909.4 L522.0,909.4 L523.0,909.4 L524.0,909.4 L525.0,909.4 L526.0,909.4 L527.0,909.4 L528.0,909.4 L529.0,909.4 L530.0,909.4 L531.0,909.4 L532.0,909.4 L533.0,909.4 L534.0,909.4 L535.0,909.4 L536.0,909.4 L537.0,909.4 L538.0,909.4 L539.0,909.4 L540.0,909.4 L541.0,909.4 L542.0,909.4 L543.0,909.4 L544.0,909.4 L545.0,909.4 L546.0,909.4 L547.0,909.4 L548.0,909.4 L549.0,909.4 L550.0,909.4 L551.0,909.4 L552.0,909.4 L553.0,909.4 L554.0,909.4 L555.0,909.4 L556.0,909.4 L557.0,909.4 L558.0,909.4 L559.0,909.4 L560.0,909.4 L561.0,909.4 L562.0,909.4 L563.0,909.4 L564.0,909.4 L565.0,909.4 L566.0,909.4 L567.0,909.4 L568.0,909.4 L569.0,909.4 L570.0,909.4 L571.0,909.4 L572.0,909.4 L573.0,909.4 L574.0,909.4 L575.0,909.4 L576.0,909.4 L577.0,909.4 L578.0,909.4 L579.0,909.4 L580.0,909.4 L581.0,909.4 L582.0,909.4 L583.0,909.4 L584.0,909.4 L585.0,909.4 L586.0,909.4 L587.0,909.4 L588.0,909.4 L589.0,909.4 L590.0,909.4 L591.0,909.4 L592.0,909.4 L593.0,909.4 L594.0,909.4 L595.0,909.4 L596.0,909.4 L597.0,909.4 L598.0,909.4 L599.0,909.4 L600.0,909.4 L601.0,909.4 L602.0,909.4 L603.0,909.4 L604.0,909.4 L605.0,909.4 L606.0,909.4 L607.0,909.4 L608.0,909.4 L609.0,909.4 L610.0,909.4 L611.0,909.4 L612.0,909.4 L613.0,909.4 L614.0,909.4 L615.0,909.4 L616.0,909.4 L617.0,909.4 L618.0,909.4 L619.0,909.4 L620.0,909.4 L621.0,909.4 L622.0,909.4 L623.0,909.4 L624.0,909.4 L625.0,909.4 L626.0,909.4 L627.0,909.4 L628.0,909.4 L629.0,909.4 L630.0,909.4 L630.5,909.4" fill="none" stroke="#1f77b4" stroke-width="5.45" stroke-linejoin="round" stroke-linecap="square"/>
<path d="M174.0,909.4 L175.0,909.4 L176.0,909.4 L177.0,909.4 L178.0,909.4 L179.0,909.4 L180.0,909.4 L181.0,909.4 L182.0,909.4 L183.0,909.4 L184.0,909.4 L185.0,909.4 L186.0,909.4 L187.0,909.4 L188.0,909.4 L189.0,909.4 L190.0,909.4 L191.0,909.4 L192.0,909.4 L193.0,909.4 L194.0,909.4 L195.0,909.4 L196.0,909.4 L197.0,909.4 L198.0,909.4 L199.0,909.4 L200.0,909.4 L201.0,909.4 L202.0,909.4 L203.0,909.4 L204.0,909.4 L205.0,909.4 L206.0,909.4 L207.0,909.4 L208.0,909.4 L209.0,909.4 L210.0,909.4 L211.0,909.4 L212.0,909.4 L213.0,909.4 L214.0,909.4 L215.0,909.4 L216.0,909.4 L217.0,909.4 L218.0,909.4 L219.0,909.4 L220.0,909.4 L221.0,909.4 L222.0,909.4 L223.0,909.4 L224.0,909.4 L225.0,909.4 L226.0,909.4 L227.0,909.4 L228.0,909.4 L229.0,909.4 L230.0,909.4 L231.0,909.4 L232.0,909.4 L233.0,909.4 L234.0,909.4 L235.0,909.4 L236.0,909.4 L237.0,909.4 L238.0,909.4 L239.0,909.4 L240.0,909.4 L241.0,909.4 L242.0,909.4 L243.0,909.4 L244.0,909.4 L245.0,909.4 L246.0,909.4 L247.0,909.4 L248.0,909.4 L249.0,909.4 L250.0,909.4 L251.0,909.4 L252.0,909.4 L253.0,909.4 L254.0,909.4 L255.0,909.4 L256.0,909.4 L257.0,909.4 L258.0,909.4 L259.0,909.4 L260.0,909.4 L261.0,909.4 L262.0,909.4 L263.0,909.4 L264.0,909.4 L265.0,909.4 L266.0,909.4 L267.0,909.4 L268.0,909.4 L269.0,909.4 L270.0,909.4 L271.0,909.4 L272.0,909.4 L273.0,909.4 L274.0,909.4 L275.0,909.4 L276.0,909.4 L277.0,909.4 L278.0,909.4 L279.0,909.4 L280.0,909.4 L281.0,909.4 L282.0,909.4 L283.0,909.4 L284.0,909.4 L285.0,909.4 L286.0,909.4 L287.0,909.4 L288.0,909.4 L289.0,909.4 L290.0,909.4 L291.0,909.4 L292.0,909.4 L293.0,909.4 L294.0,909.4 L295.0,909.4 L296.0,909.4 L297.0,909.4 L298.0,909.4 L299.0,909.4 L300.0,909.4 L301.0,909.4 L302.0,909.4 L303.0,909.4 L304.0,909.4 L305.0,909.4 L306.0,909.4 L307.0,909.4 L308.0,909.4 L309.0,909.4 L310.0,909.4 L311.0,909.4 L312.0,909.4 L313.0,909.4 L314.0,909.4 L315.0,909.4 L316.0,909.4 L317.0,909.4 L318.0,909.4 L319.0,909.4 L320.0,909.4 L321.0,909.4 L322.0,909.4 L323.0,909.4 L324.0,909.4 L325.0,909.4 L326.0,909.4 L327.0,909.4 L328.0,909.4 L329.0,909.4 L330.0,909.4 L331.0,909.4 L332.0,909.4 L333.0,909.4 L334.0,909.4 L335.0,909.4 L336.0,909.4 L337.0,909.4 L338.0,909.4 L339.0,909.4 L340.0,909.4 L341.0,909.4 L342.0,909.4 L343.0,909.4 L344.0,909.4 L345.0,909.4 L346.0,909.4 L347.0,909.4 L348.0,909.4 L349.0,909.4 L350.0,909.4 L351.0,909.4 L352.0,909.4 L353.0,909.4 L354.0,909.4 L355.0,909.4 L356.0,909.4 L357.0,909.4 L358.0,909.4 L359.0,909.4 L360.0,909.4 L361.0,909.4 L362.0,909.4 L363.0,909.4 L364.0,909.4 L365.0,909.4 L366.0,909.4 L367.0,909.4 L368.0,909.4 L369.0,909.4 L370.0,909.4 L371.0,909.4 L372.0,909.4 L373.0,909.4 L374.0,909.4 L375.0,909.4 L376.0,909.4 L377.0,909.4 L378.0,909.4 L379.0,909.4 L380.0,909.4 L381.0,909.4 L382.0,909.4 L383.0,909.4 L384.0,909.4 L385.0,909.4 L386.0,909.4 L387.0,909.4 L388.0,909.4 L389.0,909.4 L390.0,909.4 L391.0,909.4 L392.0,909.4 L393.0,909.4 L394.0,909.4 L395.0,909.4 L396.0,909.4 L397.0,909.4 L398.0,909.4 L399.0,909.4 L400.0,909.4 L401.0,909.4 L402.0,909.4 L403.0,909.4 L404.0,909.4 L405.0,909.4 L406.0,909.4 L407.0,909.4 L408.0,909.4 L409.0,909.4 L410.0,909.4 L411.0,909.4 L412.0,909.4 L413.0,909.4 L414.0,909.4 L415.0,909.4 L416.0,909.4 L417.0,909.4 L418.0,909.4 L419.0,909.4 L420.0,909.4 L421.0,909.4 L422.0,909.4 L423.0,909.4 L424.0,909.4 L425.0,909.4 L426.0,909.4 L427.0,909.4 L428.0,909.4 L429.0,909.4 L430.0,909.4 L431.0,909.4 L432.0,909.4 L433.0,909.4 L434.0,909.4 L435.0,909.4 L436.0,909.4 L437.0,909.4 L438.0,909.4 L439.0,909.4 L440.0,909.4 L441.0,909.4 L442.0,909.4 L443.0,909.4 L444.0,909.4 L445.0,909.4 L446.0,909.4 L447.0,909.4 L448.0,909.4 L449.0,909.4 L450.0,909.3 L451.0,909.3 L452.0,909.3 L453.0,909.3 L454.0,909.3 L455.0,909.3 L456.0,909.3 L457.0,909.3 L458.0,909.3 L459.0,909.2 L460.0,909.2 L461.0,909.2 L462.0,909.2 L463.0,909.1 L464.0,909.1 L465.0,909.1 L466.0,909.0 L467.0,909.0 L468.0,909.0 L469.0,908.9 L470.0,908.9 L471.0,908.8 L472.0,908.8 L473.0,908.7 L474.0,908.7 L475.0,908.6 L476.0,908.6 L477.0,908.5 L478.0,908.4 L479.0,908.4 L480.0,908.3 L481.0,908.2 L482.0,908.1 L483.0,908.1 L484.0,908.0 L485.0,907.9 L486.0,907.8 L487.0,907.7 L488.0,907.6 L489.0,907.6 L490.0,907.5 L491.0,907.4 L492.0,907.3 L493.0,907.2 L494.0,907.1 L495.0,907.1 L496.0,907.0 L497.0,906.9 L498.0,906.8 L499.0,906.8 L500.0,906.7 L501.0,906.7 L502.0,906.6 L503.0,906.6 L504.0,906.5 L505.0,906.5 L506.0,906.5 L507.0,906.4 L508.0,906.4 L509.0,906.4 L510.0,906.4 L511.0,906.4 L512.0,906.4 L513.0,906.4 L514.0,906.5 L515.0,906.5 L516.0,906.5 L517.0,906.6 L518.0,906.6 L519.0,906.7 L520.0,906.7 L521.0,906.8 L522.0,906.8 L523.0,906.9 L524.0,907.0 L525.0,907.1 L526.0,907.1 L527.0,907.2 L528.0,907.3 L529.0,907.4 L530.0,907.5 L531.0,907.6 L532.0,907.6 L533.0,907.7 L534.0,907.8 L535.0,907.9 L536.0,908.0 L537.0,908.1 L538.0,908.1 L539.0,908.2 L540.0,908.3 L541.0,908.4 L542.0,908.4 L543.0,908.5 L544.0,908.6 L545.0,908.6 L546.0,908.7 L547.0,908.7 L548.0,908.8 L549.0,908.8 L550.0,908.9 L551.0,908.9 L552.0,909.0 L553.0,909.0 L554.0,909.0 L555.0,909.1 L556.0,909.1 L557.0,909.1 L558.0,909.2 L559.0,909.2 L560.0,909.2 L561.0,909.2 L562.0,909.3 L563.0,909.3 L564.0,909.3 L565.0,909.3 L566.0,909.3 L567.0,909.3 L568.0,909.3 L569.0,909.3 L570.0,909.3 L571.0,909.4 L572.0,909.4 L573.0,909.4 L574.0,909.4 L575.0,909.4 L576.0,909.4 L577.0,909.4 L578.0,909.4 L579.0,909.4 L580.0,909.4 L581.0,909.4 L582.0,909.4 L583.0,909.4 L584.0,909.4 L585.0,909.4 L586.0,909.4 L587.0,909.4 L588.0,909.4 L589.0,909.4 L590.0,909.4 L591.0,909.4 L592.0,909.4 L593.0,909.4 L594.0,909.4 L595.0,909.4 L596.0,909.4 L597.0,909.4 L598.0,909.4 L599.0,909.4 L600.0,909.4 L601.0,909.4 L602.0,909.4 L603.0,909.4 L604.0,909.4 L605.0,909.4 L606.0,909.4 L607.0,909.4 L608.0,909.4 L609.0,909.4 L610.0,909.4 L611.0,909.4 L612.0,909.4 L613.0,909.4 L614.0,909.4 L615.0,909.4 L616.0,909.4 L617.0,909.4 L618.0,909.4 L619.0,909.4 L620.0,909.4 L621.0,909.4 L622.0,909.4 L623.0,909.4 L624.0,909.4 L625.0,909.4 L626.0,909.4 L627.0,909.4 L628.0,909.4 L629.0,909.4 L630.0,909.4 L630.5,909.4" fill="none" stroke="#ff7f0e" stroke-width="5.45" stroke-linejoin="round" stroke-linecap="square"/>
<path d="M174.0,909.4 L175.0,909.4 L176.0,909.4 L177.0,909.4 L178.0,909.4 L179.0,909.4 L180.0,909.4 L181.0,909.4 L182.0,909.4 L183.0,909.4 L184.0,909.4 L185.0,909.4 L186.0,909.4 L187.0,909.4 L188.0,909.4 L189.0,909.4 L190.0,909.4 L191.0,909.4 L192.0,909.4 L193.0,909.4 L194.0,909.4 L195.0,909.4 L196.0,909.4 L197.0,909.4 L198.0,909.4 L199.0,909.4 L200.0,909.4 L201.0,909.4 L202.0,909.4 L203.0,909.4 L204.0,909.4 L205.0,909.4 L206.0,909.4 L207.0,909.4 L208.0,909.4 L209.0,909.4 L210.0,909.4 L211.0,909.4 L212.0,909.4 L213.0,909.4 L214.0,909.4 L215.0,909.4 L216.0,909.4 L217.0,909.4 L218.0,909.4 L219.0,909.4 L220.0,909.4 L221.0,909.4 L222.0,909.4 L223.0,909.4 L224.0,909.4 L225.0,909.4 L226.0,909.4 L227.0,909.4 L228.0,909.4 L229.0,909.4 L230.0,909.4 L231.0,909.4 L232.0,909.4 L233.0,909.4 L234.0,909.4 L235.0,909.4 L236.0,909.4 L237.0,909.4 L238.0,909.4 L239.0,909.4 L240.0,909.4 L241.0,909.4 L242.0,909.4 L243.0,909.4 L244.0,909.4 L245.0,909.4 L246.0,909.4 L247.0,909.4 L248.0,909.4 L249.0,909.4 L250.0,909.4 L251.0,909.4 L252.0,909.4 L253.0,909.4 L254.0,909.4 L255.0,909.4 L256.0,909.4 L257.0,909.4 L258.0,909.4 L259.0,909.4 L260.0,909.4 L261.0,909.4 L262.0,909.4 L263.0,909.4 L264.0,909.4 L265.0,909.4 L266.0,909.4 L267.0,909.4 L268.0,909.4 L269.0,909.4 L270.0,909.4 L271.0,909.4 L272.0,909.4 L273.0,909.4 L274.0,909.4 L275.0,909.4 L276.0,909.4 L277.0,909.4 L278.0,909.4 L279.0,909.4 L280.0,909.4 L281.0,909.4 L282.0,909.4 L283.0,909.4 L284.0,909.4 L285.0,909.4 L286.0,909.4 L287.0,909.4 L288.0,909.4 L289.0,909.4 L290.0,909.4 L291.0,909.3 L292.0,909.3 L293.0,909.3 L294.0,909.3 L295.0,909.3 L296.0,909.3 L297.0,909.3 L298.0,909.3 L299.0,909.3 L300.0,909.3 L301.0,909.3 L302.0,909.3 L303.0,909.3 L304.0,909.3 L305.0,909.3 L306.0,909.3 L307.0,909.3 L308.0,909.3 L309.0,909.3 L310.0,909.3 L311.0,909.2 L312.0,909.2 L313.0,909.2 L314.0,909.2 L315.0,909.2 L316.0,909.2 L317.0,909.2 L318.0,909.2 L319.0,909.2 L320.0,909.2 L321.0,909.1 L322.0,909.1 L323.0,909.1 L324.0,909.1 L325.0,909.1 L326.0,909.1 L327.0,909.1 L328.0,909.0 L329.0,909.0 L330.0,909.0 L331.0,909.0 L332.0,909.0 L333.0,908.9 L334.0,908.9 L335.0,908.9 L336.0,908.9 L337.0,908.8 L338.0,908.8 L339.0,908.8 L340.0,908.8 L341.0,908.7 L342.0,908.7 L343.0,908.7 L344.0,908.6 L345.0,908.6 L346.0,908.5 L347.0,908.5 L348.0,908.5 L349.0,908.4 L350.0,908.4 L351.0,908.3 L352.0,908.3 L353.0,908.2 L354.0,908.1 L355.0,908.1 L356.0,908.0 L357.0,908.0 L358.0,907.9 L359.0,907.8 L360.0,907.8 L361.0,907.7 L362.0,907.6 L363.0,907.5 L364.0,907.4 L365.0,907.3 L366.0,907.2 L367.0,907.1 L368.0,907.0 L369.0,906.9 L370.0,906.8 L371.0,906.7 L372.0,906.6 L373.0,906.5 L374.0,906.3 L375.0,906.2 L376.0,906.1 L377.0,905.9 L378.0,905.8 L379.0,905.6 L380.0,905.5 L381.0,905.3 L382.0,905.1 L383.0,904.9 L384.0,904.8 L385.0,904.6 L386.0,904.4 L387.0,904.1 L388.0,903.9 L389.0,903.7 L390.0,903.5 L391.0,903.2 L392.0,903.0 L393.0,902.7 L394.0,902.5 L395.0,902.2 L396.0,901.9 L397.0,901.6 L398.0,901.3 L399.0,901.0 L400.0,900.6 L401.0,900.3 L402.0,900.0 L403.0,899.6 L404.0,899.2 L405.0,898.8 L406.0,898.4 L407.0,898.0 L408.0,897.6 L409.0,897.2 L410.0,896.7 L411.0,896.3 L412.0,895.8 L413.0,895.3 L414.0,894.8 L415.0,894.3 L416.0,893.8 L417.0,893.2 L418.0,892.7 L419.0,892.1 L420.0,891.5 L421.0,890.9 L422.0,890.3 L423.0,889.6 L424.0,889.0 L425.0,888.3 L426.0,887.6 L427.0,886.9 L428.0,886.2 L429.0,885.5 L430.0,884.7 L431.0,884.0 L432.0,883.2 L433.0,882.4 L434.0,881.6 L435.0,880.8 L436.0,879.9 L437.0,879.1 L438.0,878.2 L439.0,877.3 L440.0,876.4 L441.0,875.5 L442.0,874.6 L443.0,873.7 L444.0,872.8 L445.0,871.8 L446.0,870.8 L447.0,869.9 L448.0,868.9 L449.0,867.9 L450.0,867.0 L451.0,866.0 L452.0,865.0 L453.0,864.0 L454.0,863.0 L455.0,862.1 L456.0,861.1 L457.0,860.1 L458.0,859.2 L459.0,858.3 L460.0,857.4 L461.0,856.5 L462.0,855.7 L463.0,854.9 L464.0,854.1 L465.0,853.4 L466.0,852.8 L467.0,852.3 L468.0,851.9 L469.0,851.9 L470.0,852.0 L471.0,852.0 L472.0,852.2 L473.0,852.3 L474.0,852.6 L475.0,852.9 L476.0,853.3 L477.0,853.8 L478.0,854.4 L479.0,855.1 L480.0,855.9 L481.0,856.8 L482.0,857.8 L483.0,858.9 L484.0,860.2 L485.0,861.5 L486.0,862.9 L487.0,864.4 L488.0,866.0 L489.0,867.7 L490.0,869.5 L491.0,871.3 L492.0,873.1 L493.0,875.0 L494.0,876.9 L495.0,878.8 L496.0,880.8 L497.0,882.7 L498.0,884.5 L499.0,886.4 L500.0,888.2 L501.0,890.0 L502.0,891.6 L503.0,893.3 L504.0,894.8 L505.0,896.2 L506.0,897.6 L507.0,898.9 L508.0,900.1 L509.0,901.2 L510.0,902.2 L511.0,903.1 L512.0,903.9 L513.0,904.7 L514.0,905.3 L515.0,905.9 L516.0,906.5 L517.0,906.9 L518.0,907.3 L519.0,907.7 L520.0,908.0 L521.0,908.2 L522.0,908.4 L523.0,908.6 L524.0,908.8 L525.0,908.9 L526.0,909.0 L527.0,909.1 L528.0,909.1 L529.0,909.2 L530.0,909.2 L531.0,909.3 L532.0,909.3 L533.0,909.3 L534.0,909.3 L535.0,909.4 L536.0,909.4 L537.0,909.4 L538.0,909.4 L539.0,909.4 L540.0,909.4 L541.0,909.4 L542.0,909.4 L543.0,909.4 L544.0,909.4 L545.0,909.4 L546.0,909.4 L547.0,909.4 L548.0,909.4 L549.0,909.4 L550.0,909.4 L551.0,909.4 L552.0,909.4 L553.0,909.4 L554.0,909.4 L555.0,909.4 L556.0,909.4 L557.0,909.4 L558.0,909.4 L559.0,909.4 L560.0,909.4 L561.0,909.4 L562.0,909.4 L563.0,909.4 L564.0,909.4 L565.0,909.4 L566.0,909.4 L567.0,909.4 L568.0,909.4 L569.0,909.4 L570.0,909.4 L571.0,909.4 L572.0,909.4 L573.0,909.4 L574.0,909.4 L575.0,909.4 L576.0,909.4 L577.0,909.4 L578.0,909.4 L579.0,909.4 L580.0,909.4 L581.0,909.4 L582.0,909.4 L583.0,909.4 L584.0,909.4 L585.0,909.4 L586.0,909.4 L587.0,909.4 L588.0,909.4 L589.0,909.4 L590.0,909.4 L591.0,909.4 L592.0,909.4 L593.0,909.4 L594.0,909.4 L595.0,909.4 L596.0,909.4 L597.0,909.4 L598.0,909.4 L599.0,909.4 L600.0,909.4 L601.0,909.4 L602.0,909.4 L603.0,909.4 L604.0,909.4 L605.0,909.4 L606.0,909.4 L607.0,909.4 L608.0,909.4 L609.0,909.4 L610.0,909.4 L611.0,909.4 L612.0,909.4 L613.0,909.4 L614.0,909.4 L615.0,909.4 L616.0,909.4 L617.0,909.4 L618.0,909.4 L619.0,909.4 L620.0,909.4 L621.0,909.4 L622.0,909.4 L623.0,909.4 L624.0,909.4 L625.0,909.4 L626.0,909.4 L627.0,909.4 L628.0,909.4 L629.0,909.4 L630.0,909.4 L630.5,909.4" fill="none" stroke="#2ca02c" stroke-width="5.45" stroke-linejoin="round" stroke-linecap="square"/>
<path d="M174.0,909.4 L175.0,909.4 L176.0,909.4 L177.0,909.4 L178.0,909.4 L179.0,909.4 L180.0,909.4 L181.0,909.4 L182.0,909.4 L183.0,909.4 L184.0,909.4 L185.0,909.4 L186.0,909.4 L187.0,909.4 L188.0,909.4 L189.0,909.4 L190.0,909.4 L191.0,909.4 L192.0,909.4 L193.0,909.4 L194.0,909.4 L195.0,909.4 L196.0,909.4 L197.0,909.4 L198.0,909.4 L199.0,909.4 L200.0,909.4 L201.0,909.4 L202.0,909.4 L203.0,909.4 L204.0,909.4 L205.0,909.4 L206.0,909.4 L207.0,909.4 L208.0,909.4 L209.0,909.4 L210.0,909.4 L211.0,909.4 L212.0,909.4 L213.0,909.4 L214.0,909.4 L215.0,909.4 L216.0,909.4 L217.0,909.4 L218.0,909.4 L219.0,909.4 L220.0,909.4 L221.0,909.4 L222.0,909.4 L223.0,909.4 L224.0,909.4 L225.0,909.4 L226.0,909.4 L227.0,909.4 L228.0,909.4 L229.0,909.4 L230.0,909.4 L231.0,909.4 L232.0,909.4 L233.0,909.4 L234.0,909.4 L235.0,909.4 L236.0,909.4 L237.0,909.4 L238.0,909.4 L239.0,909.4 L240.0,909.4 L241.0,909.4 L242.0,909.4 L243.0,909.4 L244.0,909.4 L245.0,909.4 L246.0,909.4 L247.0,909.4 L248.0,909.4 L249.0,909.4 L250.0,909.4 L251.0,909.4 L252.0,909.4 L253.0,909.4 L254.0,909.4 L255.0,909.4 L256.0,909.4 L257.0,909.4 L258.0,909.4 L259.0,909.4 L260.0,909.4 L261.0,909.4 L262.0,909.4 L263.0,909.4 L264.0,909.4 L265.0,909.4 L266.0,909.4 L267.0,909.4 L268.0,909.4 L269.0,909.4 L270.0,909.4 L271.0,909.4 L272.0,909.4 L273.0,909.4 L274.0,909.4 L275.0,909.4 L276.0,909.4 L277.0,909.4 L278.0,909.4 L279.0,909.4 L280.0,909.4 L281.0,909.4 L282.0,909.4 L283.0,909.4 L284.0,909.4 L285.0,909.4 L286.0,909.4 L287.0,909.4 L288.0,909.4 L289.0,909.4 L290.0,909.4 L291.0,909.4 L292.0,909.4 L293.0,909.4 L294.0,909.4 L295.0,909.4 L296.0,909.4 L297.0,909.4 L298.0,909.4 L299.0,909.4 L300.0,909.4 L301.0,909.4 L302.0,909.4 L303.0,909.4 L304.0,909.4 L305.0,909.4 L306.0,909.4 L307.0,909.4 L308.0,909.4 L309.0,909.4 L310.0,909.4 L311.0,909.4 L312.0,909.4 L313.0,909.4 L314.0,909.4 L315.0,909.4 L316.0,909.4 L317.0,909.4 L318.0,909.4 L319.0,909.4 L320.0,909.4 L321.0,909.4 L322.0,909.4 L323.0,909.4 L324.0,909.4 L325.0,909.4 L326.0,909.4 L327.0,909.4 L328.0,909.4 L329.0,909.4 L330.0,909.4 L331.0,909.4 L332.0,909.4 L333.0,909.4 L334.0,909.4 L335.0,909.4 L336.0,909.4 L337.0,909.4 L338.0,909.4 L339.0,909.4 L340.0,909.4 L341.0,909.4 L342.0,909.4 L343.0,909.4 L344.0,909.4 L345.0,909.4 L346.0,909.4 L347.0,909.4 L348.0,909.4 L349.0,909.4 L350.0,909.4 L351.0,909.4 L352.0,909.4 L353.0,909.4 L354.0,909.4 L355.0,909.4 L356.0,909.4 L357.0,909.4 L358.0,909.4 L359.0,909.4 L360.0,909.4 L361.0,909.4 L362.0,909.4 L363.0,909.4 L364.0,909.4 L365.0,909.4 L366.0,909.4 L367.0,909.4 L368.0,909.4 L369.0,909.4 L370.0,909.4 L371.0,909.4 L372.0,909.4 L373.0,909.4 L374.0,909.4 L375.0,909.4 L376.0,909.4 L377.0,909.4 L378.0,909.4 L379.0,909.4 L380.0,909.4 L381.0,909.4 L382.0,909.4 L383.0,909.4 L384.0,909.4 L385.0,909.4 L386.0,909.4 L387.0,909.4 L388.0,909.4 L389.0,909.4 L390.0,909.4 L391.0,909.4 L392.0,909.4 L393.0,909.4 L394.0,909.4 L395.0,909.4 L396.0,909.4 L397.0,909.4 L398.0,909.4 L399.0,909.4 L400.0,909.4 L401.0,909.4 L402.0,909.4 L403.0,909.4 L404.0,909.4 L405.0,909.4 L406.0,909.4 L407.0,909.4 L408.0,909.4 L409.0,909.4 L410.0,909.4 L411.0,909.4 L412.0,909.4 L413.0,909.3 L414.0,909.3 L415.0,909.3 L416.0,909.3 L417.0,909.3 L418.0,909.3 L419.0,909.3 L420.0,909.3 L421.0,909.3 L422.0,909.3 L423.0,909.3 L424.0,909.3 L425.0,909.2 L426.0,909.2 L427.0,909.2 L428.0,909.2 L429.0,909.2 L430.0,909.1 L431.0,909.1 L432.0,909.1 L433.0,909.1 L434.0,909.0 L435.0,909.0 L436.0,909.0 L437.0,908.9 L438.0,908.9 L439.0,908.8 L440.0,908.8 L441.0,908.7 L442.0,908.7 L443.0,908.6 L444.0,908.6 L445.0,908.5 L446.0,908.4 L447.0,908.3 L448.0,908.2 L449.0,908.1 L450.0,908.0 L451.0,907.9 L452.0,907.8 L453.0,907.6 L454.0,907.5 L455.0,907.3 L456.0,907.1 L457.0,907.0 L458.0,906.8 L459.0,906.6 L460.0,906.3 L461.0,906.1 L462.0,905.8 L463.0,905.5 L464.0,905.2 L465.0,904.9 L466.0,904.5 L467.0,904.2 L468.0,903.8 L469.0,903.3 L470.0,902.9 L471.0,902.4 L472.0,901.9 L473.0,901.3 L474.0,900.7 L475.0,900.1 L476.0,899.4 L477.0,898.7 L478.0,897.9 L479.0,897.1 L480.0,896.2 L481.0,895.2 L482.0,894.3 L483.0,893.2 L484.0,892.1 L485.0,890.9 L486.0,889.6 L487.0,888.3 L488.0,886.9 L489.0,885.4 L490.0,883.8 L491.0,882.2 L492.0,880.4 L493.0,878.5 L494.0,876.6 L495.0,874.5 L496.0,872.3 L497.0,870.0 L498.0,867.6 L499.0,865.1 L500.0,862.4 L501.0,859.6 L502.0,856.6 L503.0,853.6 L504.0,850.3 L505.0,847.0 L506.0,843.4 L507.0,839.7 L508.0,835.9 L509.0,831.9 L510.0,827.7 L511.0,823.3 L512.0,818.8 L513.0,814.1 L514.0,809.2 L515.0,804.1 L516.0,798.9 L517.0,793.4 L518.0,787.8 L519.0,782.0 L520.0,776.0 L521.0,769.9 L522.0,763.5 L523.0,757.0 L524.0,750.3 L525.0,743.5 L526.0,736.5 L527.0,729.4 L528.0,722.1 L529.0,714.7 L530.0,707.1 L531.0,699.5 L532.0,691.8 L533.0,684.0 L534.0,676.1 L535.0,668.3 L536.0,660.4 L537.0,652.5 L538.0,644.7 L539.0,636.9 L540.0,629.3 L541.0,621.8 L542.0,614.6 L543.0,607.5 L544.0,600.8 L545.0,594.4 L546.0,588.5 L547.0,583.2 L548.0,578.5 L549.0,574.7 L550.0,572.2 L551.0,572.4 L552.0,574.5 L553.0,578.3 L554.0,583.7 L555.0,590.6 L556.0,599.0 L557.0,608.6 L558.0,619.4 L559.0,631.2 L560.0,643.9 L561.0,657.3 L562.0,671.2 L563.0,685.4 L564.0,699.9 L565.0,714.4 L566.0,728.8 L567.0,743.0 L568.0,756.9 L569.0,770.3 L570.0,783.1 L571.0,795.4 L572.0,806.9 L573.0,817.8 L574.0,827.9 L575.0,837.3 L576.0,845.9 L577.0,853.8 L578.0,860.9 L579.0,867.3 L580.0,873.1 L581.0,878.2 L582.0,882.7 L583.0,886.7 L584.0,890.2 L585.0,893.3 L586.0,895.9 L587.0,898.1 L588.0,900.1 L589.0,901.7 L590.0,903.1 L591.0,904.2 L592.0,905.2 L593.0,906.0 L594.0,906.7 L595.0,907.2 L596.0,907.7 L597.0,908.0 L598.0,908.3 L599.0,908.5 L600.0,908.7 L601.0,908.9 L602.0,909.0 L603.0,909.1 L604.0,909.2 L605.0,909.2 L606.0,909.3 L607.0,909.3 L608.0,909.3 L609.0,909.3 L610.0,909.4 L611.0,909.4 L612.0,909.4 L613.0,909.4 L614.0,909.4 L615.0,909.4 L616.0,909.4 L617.0,909.4 L618.0,909.4 L619.0,909.4 L620.0,909.4 L621.0,909.4 L622.0,909.4 L623.0,909.4 L624.0,909.4 L625.0,909.4 L626.0,909.4 L627.0,909.4 L628.0,909.4 L629.0,909.4 L630.0,909.4 L630.5,909.4" fill="none" stroke="#d62728" stroke-width="5.45" stroke-linejoin="round" stroke-linecap="square"/>
<path d="M174.0,909.4 L175.0,909.4 L176.0,909.4 L177.0,909.4 L178.0,909.4 L179.0,909.4 L180.0,909.4 L181.0,909.4 L182.0,909.4 L183.0,909.4 L184.0,909.4 L185.0,909.4 L186.0,909.4 L187.0,909.4 L188.0,909.4 L189.0,909.4 L190.0,909.4 L191.0,909.4 L192.0,909.4 L193.0,909.4 L194.0,909.4 L195.0,909.4 L196.0,909.4 L197.0,909.4 L198.0,909.4 L199.0,909.4 L200.0,909.4 L201.0,909.4 L202.0,909.4 L203.0,909.4 L204.0,909.4 L205.0,909.4 L206.0,909.4 L207.0,909.4 L208.0,909.4 L209.0,909.4 L210.0,909.4 L211.0,909.4 L212.0,909.4 L213.0,909.4 L214.0,909.4 L215.0,909.4 L216.0,909.4 L217.0,909.4 L218.0,909.4 L219.0,909.4 L220.0,909.4 L221.0,909.4 L222.0,909.4 L223.0,909.4 L224.0,909.4 L225.0,909.4 L226.0,909.4 L227.0,909.4 L228.0,909.4 L229.0,909.4 L230.0,909.4 L231.0,909.4 L232.0,909.4 L233.0,909.4 L234.0,909.4 L235.0,909.4 L236.0,909.4 L237.0,909.4 L238.0,909.4 L239.0,909.4 L240.0,909.4 L241.0,909.4 L242.0,909.4 L243.0,909.4 L244.0,909.4 L245.0,909.4 L246.0,909.4 L247.0,909.4 L248.0,909.4 L249.0,909.4 L250.0,909.4 L251.0,909.4 L252.0,909.4 L253.0,909.4 L254.0,909.4 L255.0,909.4 L256.0,909.4 L257.0,909.4 L258.0,909.4 L259.0,909.4 L260.0,909.4 L261.0,909.4 L262.0,909.4 L263.0,909.4 L264.0,909.4 L265.0,909.4 L266.0,909.4 L267.0,909.4 L268.0,909.4 L269.0,909.4 L270.0,909.4 L271.0,909.4 L272.0,909.4 L273.0,909.4 L274.0,909.4 L275.0,909.4 L276.0,909.4 L277.0,909.4 L278.0,909.4 L279.0,909.4 L280.0,909.4 L281.0,909.4 L282.0,909.4 L283.0,909.4 L284.0,909.4 L285.0,909.4 L286.0,909.4 L287.0,909.4 L288.0,909.4 L289.0,909.4 L290.0,909.4 L291.0,909.4 L292.0,909.4 L293.0,909.4 L294.0,909.4 L295.0,909.4 L296.0,909.4 L297.0,909.4 L298.0,909.4 L299.0,909.4 L300.0,909.4 L301.0,909.4 L302.0,909.4 L303.0,909.4 L304.0,909.4 L305.0,909.4 L306.0,909.4 L307.0,909.4 L308.0,909.4 L309.0,909.4 L310.0,909.4 L311.0,909.4 L312.0,909.4 L313.0,909.4 L314.0,909.4 L315.0,909.4 L316.0,909.4 L317.0,909.4 L318.0,909.4 L319.0,909.4 L320.0,909.4 L321.0,909.4 L322.0,909.4 L323.0,909.4 L324.0,909.4 L325.0,909.4 L326.0,909.4 L327.0,909.4 L328.0,909.4 L329.0,909.4 L330.0,909.4 L331.0,909.4 L332.0,909.4 L333.0,909.4 L334.0,909.4 L335.0,909.4 L336.0,909.4 L337.0,909.4 L338.0,909.4 L339.0,909.4 L340.0,909.4 L341.0,909.4 L342.0,909.4 L343.0,909.4 L344.0,909.4 L345.0,909.4 L346.0,909.4 L347.0,909.4 L348.0,909.4 L349.0,909.4 L350.0,909.4 L351.0,909.4 L352.0,909.4 L353.0,909.4 L354.0,909.4 L355.0,909.4 L356.0,909.4 L357.0,909.4 L358.0,909.4 L359.0,909.3 L360.0,909.3 L361.0,909.3 L362.0,909.3 L363.0,909.3 L364.0,909.3 L365.0,909.3 L366.0,909.3 L367.0,909.3 L368.0,909.3 L369.0,909.3 L370.0,909.3 L371.0,909.3 L372.0,909.3 L373.0,909.3 L374.0,909.3 L375.0,909.3 L376.0,909.3 L377.0,909.3 L378.0,909.3 L379.0,909.3 L380.0,909.3 L381.0,909.3 L382.0,909.3 L383.0,909.3 L384.0,909.3 L385.0,909.3 L386.0,909.3 L387.0,909.2 L388.0,909.2 L389.0,909.2 L390.0,909.2 L391.0,909.2 L392.0,909.2 L393.0,909.2 L394.0,909.2 L395.0,909.2 L396.0,909.2 L397.0,909.2 L398.0,909.2 L399.0,909.2 L400.0,909.1 L401.0,909.1 L402.0,909.1 L403.0,909.1 L404.0,909.1 L405.0,909.1 L406.0,909.1 L407.0,909.1 L408.0,909.1 L409.0,909.1 L410.0,909.0 L411.0,909.0 L412.0,909.0 L413.0,909.0 L414.0,909.0 L415.0,909.0 L416.0,909.0 L417.0,908.9 L418.0,908.9 L419.0,908.9 L420.0,908.9 L421.0,908.9 L422.0,908.8 L423.0,908.8 L424.0,908.8 L425.0,908.8 L426.0,908.8 L427.0,908.7 L428.0,908.7 L429.0,908.7 L430.0,908.7 L431.0,908.6 L432.0,908.6 L433.0,908.6 L434.0,908.6 L435.0,908.5 L436.0,908.5 L437.0,908.5 L438.0,908.4 L439.0,908.4 L440.0,908.4 L441.0,908.3 L442.0,908.3 L443.0,908.2 L444.0,908.2 L445.0,908.2 L446.0,908.1 L447.0,908.1 L448.0,908.0 L449.0,908.0 L450.0,907.9 L451.0,907.9 L452.0,907.8 L453.0,907.8 L454.0,907.7 L455.0,907.7 L456.0,907.6 L457.0,907.6 L458.0,907.5 L459.0,907.4 L460.0,907.4 L461.0,907.3 L462.0,907.2 L463.0,907.2 L464.0,907.1 L465.0,907.0 L466.0,907.0 L467.0,906.9 L468.0,906.8 L469.0,906.7 L470.0,906.6 L471.0,906.5 L472.0,906.5 L473.0,906.4 L474.0,906.3 L475.0,906.2 L476.0,906.1 L477.0,906.0 L478.0,905.9 L479.0,905.7 L480.0,905.6 L481.0,905.5 L482.0,905.4 L483.0,905.3 L484.0,905.2 L485.0,905.0 L486.0,904.9 L487.0,904.8 L488.0,904.6 L489.0,904.5 L490.0,904.3 L491.0,904.2 L492.0,904.0 L493.0,903.9 L494.0,903.7 L495.0,903.5 L496.0,903.4 L497.0,903.2 L498.0,903.0 L499.0,902.8 L500.0,902.7 L501.0,902.5 L502.0,902.3 L503.0,902.1 L504.0,901.9 L505.0,901.6 L506.0,901.4 L507.0,901.2 L508.0,901.0 L509.0,900.8 L510.0,900.5 L511.0,900.3 L512.0,900.0 L513.0,899.8 L514.0,899.5 L515.0,899.3 L516.0,899.0 L517.0,898.7 L518.0,898.4 L519.0,898.2 L520.0,897.9 L521.0,897.6 L522.0,897.3 L523.0,897.0 L524.0,896.6 L525.0,896.3 L526.0,896.0 L527.0,895.7 L528.0,895.3 L529.0,895.0 L530.0,894.6 L531.0,894.3 L532.0,893.9 L533.0,893.5 L534.0,893.1 L535.0,892.8 L536.0,892.4 L537.0,892.0 L538.0,891.6 L539.0,891.2 L540.0,890.7 L541.0,890.3 L542.0,889.9 L543.0,889.5 L544.0,889.0 L545.0,888.6 L546.0,888.1 L547.0,887.7 L548.0,887.2 L549.0,886.7 L550.0,886.2 L551.0,885.8 L552.0,885.3 L553.0,884.8 L554.0,884.3 L555.0,883.8 L556.0,883.3 L557.0,882.8 L558.0,882.3 L559.0,881.8 L560.0,881.2 L561.0,880.7 L562.0,880.2 L563.0,879.7 L564.0,879.1 L565.0,878.6 L566.0,878.1 L567.0,877.5 L568.0,877.0 L569.0,876.5 L570.0,875.9 L571.0,875.4 L572.0,874.9 L573.0,874.4 L574.0,873.8 L575.0,873.3 L576.0,872.8 L577.0,872.3 L578.0,871.8 L579.0,871.3 L580.0,870.9 L581.0,870.4 L582.0,869.9 L583.0,869.5 L584.0,869.1 L585.0,868.7 L586.0,868.4 L587.0,868.0 L588.0,867.8 L589.0,867.5 L590.0,867.5 L591.0,867.5 L592.0,867.5 L593.0,867.5 L594.0,867.5 L595.0,867.5 L596.0,867.5 L597.0,867.5 L598.0,867.6 L599.0,867.6 L600.0,867.7 L601.0,867.7 L602.0,867.8 L603.0,867.9 L604.0,868.0 L605.0,868.2 L606.0,868.3 L607.0,868.5 L608.0,868.7 L609.0,868.9 L610.0,869.1 L611.0,869.4 L612.0,869.7 L613.0,870.0 L614.0,870.4 L615.0,870.7 L616.0,871.1 L617.0,871.6 L618.0,872.0 L619.0,872.5 L620.0,873.1 L621.0,873.6 L622.0,874.2 L623.0,874.9 L624.0,875.5 L625.0,876.2 L626.0,876.9 L627.0,877.6 L628.0,878.4 L629.0,879.2 L630.0,880.0 L630.5,880.4" fill="none" stroke="#9467bd" stroke-width="5.45" stroke-linejoin="round" stroke-linecap="square"/>
<path d="M178.2,909.3a4.17,4.17 0 1,0 -8.34,0a4.17,4.17 0 1,0 8.34,0M180.4,909.3a4.17,4.17 0 1,0 -8.34,0a4.17,4.17 0 1,0 8.34,0M182.6,909.3a4.17,4.17 0 1,0 -8.34,0a4.17,4.17 0 1,0 8.34,0M184.8,909.3a4.17,4.17 0 1,0 -8.34,0a4.17,4.17 0 1,0 8.34,0M187.0,909.3a4.17,4.17 0 1,0 -8.34,0a4.17,4.17 0 1,0 8.34,0M189.2,909.3a4.17,4.17 0 1,0 -8.34,0a4.17,4.17 0 1,0 8.34,0M191.4,909.3a4.17,4.17 0 1,0 -8.34,0a4.17,4.17 0 1,0 8.34,0M193.6,909.2a4.17,4.17 0 1,0 -8.34,0a4.17,4.17 0 1,0 8.34,0M195.8,909.2a4.17,4.17 0 1,0 -8.34,0a4.17,4.17 0 1,0 8.34,0M198.0,909.2a4.17,4.17 0 1,0 -8.34,0a4.17,4.17 0 1,0 8.34,0M200.2,909.2a4.17,4.17 0 1,0 -8.34,0a4.17,4.17 0 1,0 8.34,0M202.4,909.2a4.17,4.17 0 1,0 -8.34,0a4.17,4.17 0 1,0 8.34,0M204.6,909.2a4.17,4.17 0 1,0 -8.34,0a4.17,4.17 0 1,0 8.34,0M206.8,909.2a4.17,4.17 0 1,0 -8.34,0a4.17,4.17 0 1,0 8.34,0M209.0,909.2a4.17,4.17 0 1,0 -8.34,0a4.17,4.17 0 1,0 8.34,0M211.2,909.2a4.17,4.17 0 1,0 -8.34,0a4.17,4.17 0 1,0 8.34,0M213.4,909.2a4.17,4.17 0 1,0 -8.34,0a4.17,4.17 0 1,0 8.34,0M215.6,909.1a4.17,4.17 0 1,0 -8.34,0a4.17,4.17 0 1,0 8.34,0M217.8,909.1a4.17,4.17 0 1,0 -8.34,0a4.17,4.17 0 1,0 8.34,0M220.0,909.1a4.17,4.17 0 1,0 -8.34,0a4.17,4.17 0 1,0 8.34,0M222.2,909.1a4.17,4.17 0 1,0 -8.34,0a4.17,4.17 0 1,0 8.34,0M224.4,909.1a4.17,4.17 0 1,0 -8.34,0a4.17,4.17 0 1,0 8.34,0M226.6,909.1a4.17,4.17 0 1,0 -8.34,0a4.17,4.17 0 1,0 8.34,0M228.8,909.1a4.17,4.17 0 1,0 -8.34,0a4.17,4.17 0 1,0 8.34,0M231.0,909.1a4.17,4.17 0 1,0 -8.34,0a4.17,4.17 0 1,0 8.34,0M233.2,909.0a4.17,4.17 0 1,0 -8.34,0a4.17,4.17 0 1,0 8.34,0M235.4,909.0a4.17,4.17 0 1,0 -8.34,0a4.17,4.17 0 1,0 8.34,0M237.6,909.0a4.17,4.17 0 1,0 -8.34,0a4.17,4.17 0 1,0 8.34,0M239.8,909.0a4.17,4.17 0 1,0 -8.34,0a4.17,4.17 0 1,0 8.34,0M241.9,909.0a4.17,4.17 0 1,0 -8.34,0a4.17,4.17 0 1,0 8.34,0M244.1,909.0a4.17,4.17 0 1,0 -8.34,0a4.17,4.17 0 1,0 8.34,0M246.3,908.9a4.17,4.17 0 1,0 -8.34,0a4.17,4.17 0 1,0 8.34,0M248.5,908.9a4.17,4.17 0 1,0 -8.34,0a4.17,4.17 0 1,0 8.34,0M250.7,908.9a4.17,4.17 0 1,0 -8.34,0a4.17,4.17 0 1,0 8.34,0M252.9,908.9a4.17,4.17 0 1,0 -8.34,0a4.17,4.17 0 1,0 8.34,0M255.1,908.9a4.17,4.17 0 1,0 -8.34,0a4.17,4.17 0 1,0 8.34,0M257.3,908.9a4.17,4.17 0 1,0 -8.34,0a4.17,4.17 0 1,0 8.34,0M259.5,908.8a4.17,4.17 0 1,0 -8.34,0a4.17,4.17 0 1,0 8.34,0M261.7,908.8a4.17,4.17 0 1,0 -8.34,0a4.17,4.17 0 1,0 8.34,0M263.9,908.8a4.17,4.17 0 1,0 -8.34,0a4.17,4.17 0 1,0 8.34,0M266.1,908.8a4.17,4.17 0 1,0 -8.34,0a4.17,4.17 0 1,0 8.34,0M268.3,908.8a4.17,4.17 0 1,0 -8.34,0a4.17,4.17 0 1,0 8.34,0M270.5,908.7a4.17,4.17 0 1,0 -8.34,0a4.17,4.17 0 1,0 8.34,0M272.7,908.7a4.17,4.17 0 1,0 -8.34,0a4.17,4.17 0 1,0 8.34,0M274.9,908.7a4.17,4.17 0 1,0 -8.34,0a4.17,4.17 0 1,0 8.34,0M277.1,908.7a4.17,4.17 0 1,0 -8.34,0a4.17,4.17 0 1,0 8.34,0M279.3,908.7a4.17,4.17 0 1,0 -8.34,0a4.17,4.17 0 1,0 8.34,0M281.5,908.6a4.17,4.17 0 1,0 -8.34,0a4.17,4.17 0 1,0 8.34,0M283.7,908.6a4.17,4.17 0 1,0 -8.34,0a4.17,4.17 0 1,0 8.34,0M285.9,908.6a4.17,4.17 0 1,0 -8.34,0a4.17,4.17 0 1,0 8.34,0M288.1,908.6a4.17,4.17 0 1,0 -8.34,0a4.17,4.17 0 1,0 8.34,0M290.3,908.5a4.17,4.17 0 1,0 -8.34,0a4.17,4.17 0 1,0 8.34,0M292.5,908.5a4.17,4.17 0 1,0 -8.34,0a4.17,4.17 0 1,0 8.34,0M294.7,908.5a4.17,4.17 0 1,0 -8.34,0a4.17,4.17 0 1,0 8.34,0M296.9,908.5a4.17,4.17 0 1,0 -8.34,0a4.17,4.17 0 1,0 8.34,0M299.1,908.4a4.17,4.17 0 1,0 -8.34,0a4.17,4.17 0 1,0 8.34,0M301.3,908.4a4.17,4.17 0 1,0 -8.34,0a4.17,4.17 0 1,0 8.34,0M303.5,908.3a4.17,4.17 0 1,0 -8.34,0a4.17,4.17 0 1,0 8.34,0M305.7,908.1a4.17,4.17 0 1,0 -8.34,0a4.17,4.17 0 1,0 8.34,0M307.9,907.9a4.17,4.17 0 1,0 -8.34,0a4.17,4.17 0 1,0 8.34,0M310.1,907.5a4.17,4.17 0 1,0 -8.34,0a4.17,4.17 0 1,0 8.34,0M312.3,907.1a4.17,4.17 0 1,0 -8.34,0a4.17,4.17 0 1,0 8.34,0M314.5,906.6a4.17,4.17 0 1,0 -8.34,0a4.17,4.17 0 1,0 8.34,0M316.7,906.0a4.17,4.17 0 1,0 -8.34,0a4.17,4.17 0 1,0 8.34,0M318.9,905.3a4.17,4.17 0 1,0 -8.34,0a4.17,4.17 0 1,0 8.34,0M321.1,904.6a4.17,4.17 0 1,0 -8.34,0a4.17,4.17 0 1,0 8.34,0M323.3,903.9a4.17,4.17 0 1,0 -8.34,0a4.17,4.17 0 1,0 8.34,0M325.5,903.1a4.17,4.17 0 1,0 -8.34,0a4.17,4.17 0 1,0 8.34,0M327.7,902.3a4.17,4.17 0 1,0 -8.34,0a4.17,4.17 0 1,0 8.34,0M329.9,901.5a4.17,4.17 0 1,0 -8.34,0a4.17,4.17 0 1,0 8.34,0M332.1,900.7a4.17,4.17 0 1,0 -8.34,0a4.17,4.17 0 1,0 8.34,0M334.3,900.0a4.17,4.17 0 1,0 -8.34,0a4.17,4.17 0 1,0 8.34,0M336.5,899.2a4.17,4.17 0 1,0 -8.34,0a4.17,4.17 0 1,0 8.34,0M338.7,898.5a4.17,4.17 0 1,0 -8.34,0a4.17,4.17 0 1,0 8.34,0M340.9,897.9a4.17,4.17 0 1,0 -8.34,0a4.17,4.17 0 1,0 8.34,0M343.1,897.3a4.17,4.17 0 1,0 -8.34,0a4.17,4.17 0 1,0 8.34,0M345.3,896.8a4.17,4.17 0 1,0 -8.34,0a4.17,4.17 0 1,0 8.34,0M347.5,896.4a4.17,4.17 0 1,0 -8.34,0a4.17,4.17 0 1,0 8.34,0M349.7,896.1a4.17,4.17 0 1,0 -8.34,0a4.17,4.17 0 1,0 8.34,0M351.9,895.9a4.17,4.17 0 1,0 -8.34,0a4.17,4.17 0 1,0 8.34,0M354.1,895.8a4.17,4.17 0 1,0 -8.34,0a4.17,4.17 0 1,0 8.34,0M356.3,895.9a4.17,4.17 0 1,0 -8.34,0a4.17,4.17 0 1,0 8.34,0M358.5,896.0a4.17,4.17 0 1,0 -8.34,0a4.17,4.17 0 1,0 8.34,0M360.7,896.3a4.17,4.17 0 1,0 -8.34,0a4.17,4.17 0 1,0 8.34,0M362.9,896.7a4.17,4.17 0 1,0 -8.34,0a4.17,4.17 0 1,0 8.34,0M365.1,897.2a4.17,4.17 0 1,0 -8.34,0a4.17,4.17 0 1,0 8.34,0M367.3,897.7a4.17,4.17 0 1,0 -8.34,0a4.17,4.17 0 1,0 8.34,0M369.5,898.3a4.17,4.17 0 1,0 -8.34,0a4.17,4.17 0 1,0 8.34,0M371.7,898.9a4.17,4.17 0 1,0 -8.34,0a4.17,4.17 0 1,0 8.34,0M373.9,899.5a4.17,4.17 0 1,0 -8.34,0a4.17,4.17 0 1,0 8.34,0M376.1,900.1a4.17,4.17 0 1,0 -8.34,0a4.17,4.17 0 1,0 8.34,0M378.3,900.6a4.17,4.17 0 1,0 -8.34,0a4.17,4.17 0 1,0 8.34,0M380.5,901.2a4.17,4.17 0 1,0 -8.34,0a4.17,4.17 0 1,0 8.34,0M382.7,901.6a4.17,4.17 0 1,0 -8.34,0a4.17,4.17 0 1,0 8.34,0M384.9,901.9a4.17,4.17 0 1,0 -8.34,0a4.17,4.17 0 1,0 8.34,0M387.1,902.1a4.17,4.17 0 1,0 -8.34,0a4.17,4.17 0 1,0 8.34,0M389.3,902.1a4.17,4.17 0 1,0 -8.34,0a4.17,4.17 0 1,0 8.34,0M391.5,902.0a4.17,4.17 0 1,0 -8.34,0a4.17,4.17 0 1,0 8.34,0M393.7,901.5a4.17,4.17 0 1,0 -8.34,0a4.17,4.17 0 1,0 8.34,0M395.9,900.9a4.17,4.17 0 1,0 -8.34,0a4.17,4.17 0 1,0 8.34,0M398.1,900.1a4.17,4.17 0 1,0 -8.34,0a4.17,4.17 0 1,0 8.34,0M400.3,899.1a4.17,4.17 0 1,0 -8.34,0a4.17,4.17 0 1,0 8.34,0M402.5,898.1a4.17,4.17 0 1,0 -8.34,0a4.17,4.17 0 1,0 8.34,0M404.7,897.0a4.17,4.17 0 1,0 -8.34,0a4.17,4.17 0 1,0 8.34,0M406.9,895.9a4.17,4.17 0 1,0 -8.34,0a4.17,4.17 0 1,0 8.34,0M409.1,894.8a4.17,4.17 0 1,0 -8.34,0a4.17,4.17 0 1,0 8.34,0M411.3,893.6a4.17,4.17 0 1,0 -8.34,0a4.17,4.17 0 1,0 8.34,0M413.5,892.4a4.17,4.17 0 1,0 -8.34,0a4.17,4.17 0 1,0 8.34,0M415.7,891.2a4.17,4.17 0 1,0 -8.34,0a4.17,4.17 0 1,0 8.34,0M417.9,889.9a4.17,4.17 0 1,0 -8.34,0a4.17,4.17 0 1,0 8.34,0M420.1,888.5a4.17,4.17 0 1,0 -8.34,0a4.17,4.17 0 1,0 8.34,0M422.3,887.1a4.17,4.17 0 1,0 -8.34,0a4.17,4.17 0 1,0 8.34,0M424.5,885.6a4.17,4.17 0 1,0 -8.34,0a4.17,4.17 0 1,0 8.34,0M426.7,884.1a4.17,4.17 0 1,0 -8.34,0a4.17,4.17 0 1,0 8.34,0M428.9,882.5a4.17,4.17 0 1,0 -8.34,0a4.17,4.17 0 1,0 8.34,0M431.1,880.7a4.17,4.17 0 1,0 -8.34,0a4.17,4.17 0 1,0 8.34,0M433.3,878.9a4.17,4.17 0 1,0 -8.34,0a4.17,4.17 0 1,0 8.34,0M435.5,877.0a4.17,4.17 0 1,0 -8.34,0a4.17,4.17 0 1,0 8.34,0M437.7,874.9a4.17,4.17 0 1,0 -8.34,0a4.17,4.17 0 1,0 8.34,0M439.9,872.8a4.17,4.17 0 1,0 -8.34,0a4.17,4.17 0 1,0 8.34,0M442.1,870.6a4.17,4.17 0 1,0 -8.34,0a4.17,4.17 0 1,0 8.34,0M444.3,868.2a4.17,4.17 0 1,0 -8.34,0a4.17,4.17 0 1,0 8.34,0M446.5,865.8a4.17,4.17 0 1,0 -8.34,0a4.17,4.17 0 1,0 8.34,0M448.7,863.3a4.17,4.17 0 1,0 -8.34,0a4.17,4.17 0 1,0 8.34,0M450.9,860.8a4.17,4.17 0 1,0 -8.34,0a4.17,4.17 0 1,0 8.34,0M453.1,858.2a4.17,4.17 0 1,0 -8.34,0a4.17,4.17 0 1,0 8.34,0M455.3,855.6a4.17,4.17 0 1,0 -8.34,0a4.17,4.17 0 1,0 8.34,0M457.5,853.0a4.17,4.17 0 1,0 -8.34,0a4.17,4.17 0 1,0 8.34,0M459.7,850.5a4.17,4.17 0 1,0 -8.34,0a4.17,4.17 0 1,0 8.34,0M461.9,848.1a4.17,4.17 0 1,0 -8.34,0a4.17,4.17 0 1,0 8.34,0M464.1,846.0a4.17,4.17 0 1,0 -8.34,0a4.17,4.17 0 1,0 8.34,0M466.3,844.2a4.17,4.17 0 1,0 -8.34,0a4.17,4.17 0 1,0 8.34,0M468.5,842.6a4.17,4.17 0 1,0 -8.34,0a4.17,4.17 0 1,0 8.34,0M470.7,841.3a4.17,4.17 0 1,0 -8.34,0a4.17,4.17 0 1,0 8.34,0M472.9,840.2a4.17,4.17 0 1,0 -8.34,0a4.17,4.17 0 1,0 8.34,0M475.1,839.4a4.17,4.17 0 1,0 -8.34,0a4.17,4.17 0 1,0 8.34,0M477.3,838.8a4.17,4.17 0 1,0 -8.34,0a4.17,4.17 0 1,0 8.34,0M479.5,838.4a4.17,4.17 0 1,0 -8.34,0a4.17,4.17 0 1,0 8.34,0M481.7,838.1a4.17,4.17 0 1,0 -8.34,0a4.17,4.17 0 1,0 8.34,0M483.9,837.9a4.17,4.17 0 1,0 -8.34,0a4.17,4.17 0 1,0 8.34,0M486.1,837.9a4.17,4.17 0 1,0 -8.34,0a4.17,4.17 0 1,0 8.34,0M488.3,837.9a4.17,4.17 0 1,0 -8.34,0a4.17,4.17 0 1,0 8.34,0M490.5,838.2a4.17,4.17 0 1,0 -8.34,0a4.17,4.17 0 1,0 8.34,0M492.7,838.5a4.17,4.17 0 1,0 -8.34,0a4.17,4.17 0 1,0 8.34,0M494.9,838.5a4.17,4.17 0 1,0 -8.34,0a4.17,4.17 0 1,0 8.34,0M497.1,837.8a4.17,4.17 0 1,0 -8.34,0a4.17,4.17 0 1,0 8.34,0M499.3,836.6a4.17,4.17 0 1,0 -8.34,0a4.17,4.17 0 1,0 8.34,0M501.5,834.6a4.17,4.17 0 1,0 -8.34,0a4.17,4.17 0 1,0 8.34,0M503.7,831.9a4.17,4.17 0 1,0 -8.34,0a4.17,4.17 0 1,0 8.34,0M505.9,828.5a4.17,4.17 0 1,0 -8.34,0a4.17,4.17 0 1,0 8.34,0M508.1,824.4a4.17,4.17 0 1,0 -8.34,0a4.17,4.17 0 1,0 8.34,0M510.3,819.6a4.17,4.17 0 1,0 -8.34,0a4.17,4.17 0 1,0 8.34,0M512.5,814.2a4.17,4.17 0 1,0 -8.34,0a4.17,4.17 0 1,0 8.34,0M514.7,807.8a4.17,4.17 0 1,0 -8.34,0a4.17,4.17 0 1,0 8.34,0M516.9,799.6a4.17,4.17 0 1,0 -8.34,0a4.17,4.17 0 1,0 8.34,0M519.1,789.4a4.17,4.17 0 1,0 -8.34,0a4.17,4.17 0 1,0 8.34,0M521.3,775.5a4.17,4.17 0 1,0 -8.34,0a4.17,4.17 0 1,0 8.34,0M523.5,759.9a4.17,4.17 0 1,0 -8.34,0a4.17,4.17 0 1,0 8.34,0M525.7,741.9a4.17,4.17 0 1,0 -8.34,0a4.17,4.17 0 1,0 8.34,0M527.9,723.4a4.17,4.17 0 1,0 -8.34,0a4.17,4.17 0 1,0 8.34,0M530.1,706.3a4.17,4.17 0 1,0 -8.34,0a4.17,4.17 0 1,0 8.34,0M532.3,689.9a4.17,4.17 0 1,0 -8.34,0a4.17,4.17 0 1,0 8.34,0M534.5,675.2a4.17,4.17 0 1,0 -8.34,0a4.17,4.17 0 1,0 8.34,0M536.7,660.6a4.17,4.17 0 1,0 -8.34,0a4.17,4.17 0 1,0 8.34,0M538.9,643.9a4.17,4.17 0 1,0 -8.34,0a4.17,4.17 0 1,0 8.34,0M541.1,622.7a4.17,4.17 0 1,0 -8.34,0a4.17,4.17 0 1,0 8.34,0M543.3,600.4a4.17,4.17 0 1,0 -8.34,0a4.17,4.17 0 1,0 8.34,0M545.5,579.6a4.17,4.17 0 1,0 -8.34,0a4.17,4.17 0 1,0 8.34,0M547.7,563.8a4.17,4.17 0 1,0 -8.34,0a4.17,4.17 0 1,0 8.34,0M549.9,554.8a4.17,4.17 0 1,0 -8.34,0a4.17,4.17 0 1,0 8.34,0M552.1,548.5a4.17,4.17 0 1,0 -8.34,0a4.17,4.17 0 1,0 8.34,0M554.3,546.0a4.17,4.17 0 1,0 -8.34,0a4.17,4.17 0 1,0 8.34,0M556.4,549.9a4.17,4.17 0 1,0 -8.34,0a4.17,4.17 0 1,0 8.34,0M558.6,556.6a4.17,4.17 0 1,0 -8.34,0a4.17,4.17 0 1,0 8.34,0M560.8,564.7a4.17,4.17 0 1,0 -8.34,0a4.17,4.17 0 1,0 8.34,0M563.0,576.5a4.17,4.17 0 1,0 -8.34,0a4.17,4.17 0 1,0 8.34,0M565.2,593.7a4.17,4.17 0 1,0 -8.34,0a4.17,4.17 0 1,0 8.34,0M567.4,617.2a4.17,4.17 0 1,0 -8.34,0a4.17,4.17 0 1,0 8.34,0M569.6,642.8a4.17,4.17 0 1,0 -8.34,0a4.17,4.17 0 1,0 8.34,0M571.8,679.7a4.17,4.17 0 1,0 -8.34,0a4.17,4.17 0 1,0 8.34,0M574.0,708.8a4.17,4.17 0 1,0 -8.34,0a4.17,4.17 0 1,0 8.34,0M576.2,735.7a4.17,4.17 0 1,0 -8.34,0a4.17,4.17 0 1,0 8.34,0M578.4,767.2a4.17,4.17 0 1,0 -8.34,0a4.17,4.17 0 1,0 8.34,0M580.6,791.5a4.17,4.17 0 1,0 -8.34,0a4.17,4.17 0 1,0 8.34,0M582.8,816.7a4.17,4.17 0 1,0 -8.34,0a4.17,4.17 0 1,0 8.34,0M585.0,831.1a4.17,4.17 0 1,0 -8.34,0a4.17,4.17 0 1,0 8.34,0M587.2,842.3a4.17,4.17 0 1,0 -8.34,0a4.17,4.17 0 1,0 8.34,0M589.4,851.8a4.17,4.17 0 1,0 -8.34,0a4.17,4.17 0 1,0 8.34,0M591.6,857.7a4.17,4.17 0 1,0 -8.34,0a4.17,4.17 0 1,0 8.34,0M593.8,861.0a4.17,4.17 0 1,0 -8.34,0a4.17,4.17 0 1,0 8.34,0M596.0,862.7a4.17,4.17 0 1,0 -8.34,0a4.17,4.17 0 1,0 8.34,0M598.2,863.2a4.17,4.17 0 1,0 -8.34,0a4.17,4.17 0 1,0 8.34,0M600.4,863.1a4.17,4.17 0 1,0 -8.34,0a4.17,4.17 0 1,0 8.34,0M602.6,863.2a4.17,4.17 0 1,0 -8.34,0a4.17,4.17 0 1,0 8.34,0M604.8,863.3a4.17,4.17 0 1,0 -8.34,0a4.17,4.17 0 1,0 8.34,0M607.0,863.3a4.17,4.17 0 1,0 -8.34,0a4.17,4.17 0 1,0 8.34,0M609.2,863.4a4.17,4.17 0 1,0 -8.34,0a4.17,4.17 0 1,0 8.34,0M611.4,863.6a4.17,4.17 0 1,0 -8.34,0a4.17,4.17 0 1,0 8.34,0M613.6,863.8a4.17,4.17 0 1,0 -8.34,0a4.17,4.17 0 1,0 8.34,0M615.8,864.2a4.17,4.17 0 1,0 -8.34,0a4.17,4.17 0 1,0 8.34,0M618.0,864.6a4.17,4.17 0 1,0 -8.34,0a4.17,4.17 0 1,0 8.34,0M620.2,865.2a4.17,4.17 0 1,0 -8.34,0a4.17,4.17 0 1,0 8.34,0M622.4,865.9a4.17,4.17 0 1,0 -8.34,0a4.17,4.17 0 1,0 8.34,0M624.6,866.7a4.17,4.17 0 1,0 -8.34,0a4.17,4.17 0 1,0 8.34,0M626.8,867.8a4.17,4.17 0 1,0 -8.34,0a4.17,4.17 0 1,0 8.34,0M629.0,869.1a4.17,4.17 0 1,0 -8.34,0a4.17,4.17 0 1,0 8.34,0M631.2,870.4a4.17,4.17 0 1,0 -8.34,0a4.17,4.17 0 1,0 8.34,0M633.4,871.6a4.17,4.17 0 1,0 -8.34,0a4.17,4.17 0 1,0 8.34,0" fill="none" stroke="#0000ff" stroke-width="4.17"/>
<path d="M174.0,909.3 L175.0,909.3 L176.0,909.3 L177.0,909.3 L178.0,909.3 L179.0,909.3 L180.0,909.3 L181.0,909.3 L182.0,909.3 L183.0,909.3 L184.0,909.3 L185.0,909.3 L186.0,909.3 L187.0,909.3 L188.0,909.3 L189.0,909.2 L190.0,909.2 L191.0,909.2 L192.0,909.2 L193.0,909.2 L194.0,909.2 L195.0,909.2 L196.0,909.2 L197.0,909.2 L198.0,909.2 L199.0,909.2 L200.0,909.2 L201.0,909.2 L202.0,909.2 L203.0,909.2 L204.0,909.2 L205.0,909.2 L206.0,909.2 L207.0,909.2 L208.0,909.2 L209.0,909.2 L210.0,909.2 L211.0,909.1 L212.0,909.1 L213.0,909.1 L214.0,909.1 L215.0,909.1 L216.0,909.1 L217.0,909.1 L218.0,909.1 L219.0,909.1 L220.0,909.1 L221.0,909.1 L222.0,909.1 L223.0,909.1 L224.0,909.1 L225.0,909.1 L226.0,909.1 L227.0,909.1 L228.0,909.1 L229.0,909.0 L230.0,909.0 L231.0,909.0 L232.0,909.0 L233.0,909.0 L234.0,909.0 L235.0,909.0 L236.0,909.0 L237.0,909.0 L238.0,909.0 L239.0,909.0 L240.0,909.0 L241.0,909.0 L242.0,909.0 L243.0,908.9 L244.0,908.9 L245.0,908.9 L246.0,908.9 L247.0,908.9 L248.0,908.9 L249.0,908.9 L250.0,908.9 L251.0,908.9 L252.0,908.9 L253.0,908.9 L254.0,908.9 L255.0,908.9 L256.0,908.8 L257.0,908.8 L258.0,908.8 L259.0,908.8 L260.0,908.8 L261.0,908.8 L262.0,908.8 L263.0,908.8 L264.0,908.8 L265.0,908.8 L266.0,908.8 L267.0,908.7 L268.0,908.7 L269.0,908.7 L270.0,908.7 L271.0,908.7 L272.0,908.7 L273.0,908.7 L274.0,908.7 L275.0,908.7 L276.0,908.7 L277.0,908.7 L278.0,908.6 L279.0,908.6 L280.0,908.6 L281.0,908.6 L282.0,908.6 L283.0,908.6 L284.0,908.6 L285.0,908.6 L286.0,908.6 L287.0,908.5 L288.0,908.5 L289.0,908.5 L290.0,908.5 L291.0,908.5 L292.0,908.5 L293.0,908.5 L294.0,908.5 L295.0,908.4 L296.0,908.4 L297.0,908.4 L298.0,908.4 L299.0,908.3 L300.0,908.3 L301.0,908.2 L302.0,908.2 L303.0,908.1 L304.0,908.0 L305.0,907.8 L306.0,907.7 L307.0,907.5 L308.0,907.4 L309.0,907.2 L310.0,906.9 L311.0,906.7 L312.0,906.5 L313.0,906.2 L314.0,905.9 L315.0,905.6 L316.0,905.3 L317.0,905.0 L318.0,904.7 L319.0,904.3 L320.0,904.0 L321.0,903.7 L322.0,903.3 L323.0,903.0 L324.0,902.6 L325.0,902.2 L326.0,901.9 L327.0,901.5 L328.0,901.2 L329.0,900.8 L330.0,900.5 L331.0,900.1 L332.0,899.8 L333.0,899.4 L334.0,899.1 L335.0,898.8 L336.0,898.5 L337.0,898.2 L338.0,897.9 L339.0,897.6 L340.0,897.4 L341.0,897.1 L342.0,896.9 L343.0,896.7 L344.0,896.5 L345.0,896.4 L346.0,896.2 L347.0,896.1 L348.0,896.0 L349.0,895.9 L350.0,895.9 L351.0,895.8 L352.0,895.8 L353.0,895.8 L354.0,895.9 L355.0,896.0 L356.0,896.1 L357.0,896.2 L358.0,896.3 L359.0,896.5 L360.0,896.7 L361.0,896.9 L362.0,897.1 L363.0,897.3 L364.0,897.6 L365.0,897.8 L366.0,898.1 L367.0,898.3 L368.0,898.6 L369.0,898.9 L370.0,899.2 L371.0,899.4 L372.0,899.7 L373.0,900.0 L374.0,900.2 L375.0,900.5 L376.0,900.7 L377.0,901.0 L378.0,901.2 L379.0,901.4 L380.0,901.6 L381.0,901.7 L382.0,901.9 L383.0,902.0 L384.0,902.1 L385.0,902.1 L386.0,902.1 L387.0,902.1 L388.0,902.1 L389.0,901.9 L390.0,901.8 L391.0,901.6 L392.0,901.3 L393.0,901.0 L394.0,900.7 L395.0,900.3 L396.0,899.9 L397.0,899.4 L398.0,899.0 L399.0,898.5 L400.0,898.0 L401.0,897.5 L402.0,897.1 L403.0,896.6 L404.0,896.1 L405.0,895.6 L406.0,895.0 L407.0,894.5 L408.0,894.0 L409.0,893.5 L410.0,893.0 L411.0,892.4 L412.0,891.8 L413.0,891.3 L414.0,890.7 L415.0,890.1 L416.0,889.5 L417.0,888.9 L418.0,888.3 L419.0,887.6 L420.0,887.0 L421.0,886.3 L422.0,885.6 L423.0,884.9 L424.0,884.2 L425.0,883.5 L426.0,882.8 L427.0,882.0 L428.0,881.2 L429.0,880.4 L430.0,879.6 L431.0,878.8 L432.0,877.9 L433.0,877.0 L434.0,876.1 L435.0,875.2 L436.0,874.2 L437.0,873.2 L438.0,872.2 L439.0,871.2 L440.0,870.2 L441.0,869.2 L442.0,868.1 L443.0,867.0 L444.0,865.9 L445.0,864.8 L446.0,863.7 L447.0,862.5 L448.0,861.4 L449.0,860.2 L450.0,859.0 L451.0,857.9 L452.0,856.7 L453.0,855.5 L454.0,854.3 L455.0,853.1 L456.0,852.0 L457.0,850.8 L458.0,849.7 L459.0,848.7 L460.0,847.7 L461.0,846.7 L462.0,845.8 L463.0,845.0 L464.0,844.2 L465.0,843.4 L466.0,842.8 L467.0,842.1 L468.0,841.5 L469.0,841.0 L470.0,840.5 L471.0,840.0 L472.0,839.6 L473.0,839.3 L474.0,839.0 L475.0,838.8 L476.0,838.6 L477.0,838.4 L478.0,838.3 L479.0,838.1 L480.0,838.0 L481.0,838.0 L482.0,837.9 L483.0,837.9 L484.0,837.9 L485.0,837.9 L486.0,837.9 L487.0,838.0 L488.0,838.2 L489.0,838.4 L490.0,838.5 L491.0,838.6 L492.0,838.6 L493.0,838.5 L494.0,838.2 L495.0,837.8 L496.0,837.3 L497.0,836.6 L498.0,835.8 L499.0,834.9 L500.0,833.8 L501.0,832.6 L502.0,831.2 L503.0,829.6 L504.0,827.8 L505.0,825.9 L506.0,823.8 L507.0,821.6 L508.0,819.3 L509.0,816.8 L510.0,814.1 L511.0,811.2 L512.0,808.0 L513.0,804.4 L514.0,800.4 L515.0,796.1 L516.0,791.1 L517.0,785.1 L518.0,778.4 L519.0,771.2 L520.0,763.8 L521.0,756.1 L522.0,747.5 L523.0,738.6 L524.0,729.7 L525.0,721.3 L526.0,713.1 L527.0,705.1 L528.0,697.2 L529.0,689.7 L530.0,682.5 L531.0,675.7 L532.0,668.9 L533.0,661.9 L534.0,654.5 L535.0,646.5 L536.0,637.4 L537.0,627.0 L538.0,616.5 L539.0,606.0 L540.0,595.2 L541.0,585.3 L542.0,577.1 L543.0,569.6 L544.0,563.6 L545.0,559.6 L546.0,556.3 L547.0,553.5 L548.0,551.2 L549.0,549.8 L550.0,549.4 L551.0,550.3 L552.0,552.1 L553.0,554.6 L554.0,557.6 L555.0,560.7 L556.0,564.2 L557.0,568.5 L558.0,573.8 L559.0,579.9 L560.0,587.5 L561.0,597.6 L562.0,608.9 L563.0,620.1 L564.0,631.7 L565.0,644.8 L566.0,661.6 L567.0,680.3 L568.0,696.1 L569.0,708.0 L570.0,719.1 L571.0,732.7 L572.0,748.8 L573.0,763.4 L574.0,775.6 L575.0,786.9 L576.0,798.6 L577.0,811.4 L578.0,820.8 L579.0,827.4 L580.0,833.2 L581.0,838.4 L582.0,843.7 L583.0,848.7 L584.0,852.8 L585.0,856.2 L586.0,858.9 L587.0,861.1 L588.0,862.8 L589.0,864.1 L590.0,865.1 L591.0,865.9 L592.0,866.4 L593.0,866.8 L594.0,867.0 L595.0,867.2 L596.0,867.4 L597.0,867.5 L598.0,867.6 L599.0,867.6 L600.0,867.7 L601.0,867.8 L602.0,867.9 L603.0,868.1 L604.0,868.2 L605.0,868.3 L606.0,868.5 L607.0,868.7 L608.0,868.9 L609.0,869.1 L610.0,869.4 L611.0,869.7 L612.0,869.9 L613.0,870.3 L614.0,870.6 L615.0,871.0 L616.0,871.4 L617.0,871.8 L618.0,872.3 L619.0,872.8 L620.0,873.4 L621.0,874.0 L622.0,874.6 L623.0,875.3 L624.0,875.9 L625.0,876.6 L626.0,877.2 L627.0,877.9 L628.0,878.5 L629.0,879.0 L630.0,879.5 L630.5,879.8" fill="none" stroke="#000" stroke-width="5.45" stroke-linejoin="round" stroke-linecap="square"/>
</g>
<rect x="121.7" y="529.8" width="898.9" height="397.6" fill="none" stroke="#000" stroke-width="3.33"/>
<line x1="161.60" y1="927.40" x2="161.60" y2="941.10" stroke="#000" stroke-width="3.33"/>
<line x1="381.53" y1="927.40" x2="381.53" y2="941.10" stroke="#000" stroke-width="3.33"/>
<line x1="601.46" y1="927.40" x2="601.46" y2="941.10" stroke="#000" stroke-width="3.33"/>
<line x1="821.39" y1="927.40" x2="821.39" y2="941.10" stroke="#000" stroke-width="3.33"/>
<clipPath id="clipc"><rect x="121.7" y="1007.3" width="898.9" height="397.5"/></clipPath>
<g clip-path="url(#clipc)">
<path d="M176.0,1386.7 L177.0,1386.7 L178.0,1386.7 L179.0,1386.7 L180.0,1386.7 L181.0,1386.7 L182.0,1386.7 L183.0,1386.7 L184.0,1386.7 L185.0,1386.7 L186.0,1386.7 L187.0,1386.7 L188.0,1386.7 L189.0,1386.7 L190.0,1386.7 L191.0,1386.7 L192.0,1386.7 L193.0,1386.7 L194.0,1386.7 L195.0,1386.7 L196.0,1386.7 L197.0,1386.7 L198.0,1386.7 L199.0,1386.7 L200.0,1386.7 L201.0,1386.7 L202.0,1386.7 L203.0,1386.7 L204.0,1386.7 L205.0,1386.7 L206.0,1386.7 L207.0,1386.7 L208.0,1386.7 L209.0,1386.7 L210.0,1386.7 L211.0,1386.7 L212.0,1386.7 L213.0,1386.7 L214.0,1386.7 L215.0,1386.7 L216.0,1386.7 L217.0,1386.7 L218.0,1386.7 L219.0,1386.7 L220.0,1386.7 L221.0,1386.7 L222.0,1386.7 L223.0,1386.7 L224.0,1386.7 L225.0,1386.7 L226.0,1386.7 L227.0,1386.7 L228.0,1386.7 L229.0,1386.7 L230.0,1386.7 L231.0,1386.7 L232.0,1386.7 L233.0,1386.7 L234.0,1386.7 L235.0,1386.7 L236.0,1386.7 L237.0,1386.7 L238.0,1386.7 L239.0,1386.7 L240.0,1386.7 L241.0,1386.7 L242.0,1386.7 L243.0,1386.7 L244.0,1386.7 L245.0,1386.7 L246.0,1386.7 L247.0,1386.7 L248.0,1386.7 L249.0,1386.7 L250.0,1386.7 L251.0,1386.7 L252.0,1386.7 L253.0,1386.7 L254.0,1386.6 L255.0,1386.6 L256.0,1386.6 L257.0,1386.6 L258.0,1386.6 L259.0,1386.6 L260.0,1386.6 L261.0,1386.6 L262.0,1386.6 L263.0,1386.6 L264.0,1386.6 L265.0,1386.6 L266.0,1386.6 L267.0,1386.6 L268.0,1386.6 L269.0,1386.6 L270.0,1386.6 L271.0,1386.6 L272.0,1386.5 L273.0,1386.5 L274.0,1386.5 L275.0,1386.5 L276.0,1386.5 L277.0,1386.5 L278.0,1386.5 L279.0,1386.5 L280.0,1386.5 L281.0,1386.4 L282.0,1386.4 L283.0,1386.4 L284.0,1386.4 L285.0,1386.4 L286.0,1386.4 L287.0,1386.3 L288.0,1386.3 L289.0,1386.3 L290.0,1386.3 L291.0,1386.2 L292.0,1386.2 L293.0,1386.2 L294.0,1386.2 L295.0,1386.1 L296.0,1386.1 L297.0,1386.1 L298.0,1386.0 L299.0,1386.0 L300.0,1386.0 L301.0,1385.9 L302.0,1385.9 L303.0,1385.8 L304.0,1385.8 L305.0,1385.7 L306.0,1385.7 L307.0,1385.6 L308.0,1385.5 L309.0,1385.5 L310.0,1385.4 L311.0,1385.4 L312.0,1385.3 L313.0,1385.2 L314.0,1385.1 L315.0,1385.0 L316.0,1384.9 L317.0,1384.9 L318.0,1384.8 L319.0,1384.7 L320.0,1384.5 L321.0,1384.4 L322.0,1384.3 L323.0,1384.2 L324.0,1384.1 L325.0,1383.9 L326.0,1383.8 L327.0,1383.6 L328.0,1383.5 L329.0,1383.3 L330.0,1383.2 L331.0,1383.0 L332.0,1382.8 L333.0,1382.6 L334.0,1382.4 L335.0,1382.2 L336.0,1382.0 L337.0,1381.7 L338.0,1381.5 L339.0,1381.2 L340.0,1381.0 L341.0,1380.7 L342.0,1380.4 L343.0,1380.1 L344.0,1379.8 L345.0,1379.5 L346.0,1379.1 L347.0,1378.8 L348.0,1378.4 L349.0,1378.0 L350.0,1377.6 L351.0,1377.2 L352.0,1376.7 L353.0,1376.3 L354.0,1375.8 L355.0,1375.3 L356.0,1374.8 L357.0,1374.3 L358.0,1373.7 L359.0,1373.2 L360.0,1372.6 L361.0,1371.9 L362.0,1371.3 L363.0,1370.6 L364.0,1369.9 L365.0,1369.2 L366.0,1368.5 L367.0,1367.7 L368.0,1366.9 L369.0,1366.1 L370.0,1365.2 L371.0,1364.3 L372.0,1363.4 L373.0,1362.4 L374.0,1361.4 L375.0,1360.4 L376.0,1359.3 L377.0,1358.2 L378.0,1357.1 L379.0,1355.9 L380.0,1354.7 L381.0,1353.5 L382.0,1352.2 L383.0,1350.8 L384.0,1349.4 L385.0,1348.0 L386.0,1346.5 L387.0,1345.0 L388.0,1343.5 L389.0,1341.9 L390.0,1340.2 L391.0,1338.5 L392.0,1336.7 L393.0,1334.9 L394.0,1333.0 L395.0,1331.1 L396.0,1329.2 L397.0,1327.1 L398.0,1325.0 L399.0,1322.9 L400.0,1320.7 L401.0,1318.4 L402.0,1316.1 L403.0,1313.7 L404.0,1311.3 L405.0,1308.8 L406.0,1306.2 L407.0,1303.6 L408.0,1300.9 L409.0,1298.2 L410.0,1295.4 L411.0,1292.5 L412.0,1289.6 L413.0,1286.6 L414.0,1283.5 L415.0,1280.3 L416.0,1277.1 L417.0,1273.9 L418.0,1270.6 L419.0,1267.2 L420.0,1263.7 L421.0,1260.2 L422.0,1256.6 L423.0,1253.0 L424.0,1249.3 L425.0,1245.5 L426.0,1241.7 L427.0,1237.8 L428.0,1233.8 L429.0,1229.8 L430.0,1225.8 L431.0,1221.7 L432.0,1217.5 L433.0,1213.3 L434.0,1209.1 L435.0,1204.8 L436.0,1200.5 L437.0,1196.1 L438.0,1191.7 L439.0,1187.2 L440.0,1182.7 L441.0,1178.2 L442.0,1173.7 L443.0,1169.2 L444.0,1164.6 L445.0,1160.0 L446.0,1155.4 L447.0,1150.8 L448.0,1146.3 L449.0,1141.7 L450.0,1137.1 L451.0,1132.6 L452.0,1128.0 L453.0,1123.5 L454.0,1119.1 L455.0,1114.6 L456.0,1110.3 L457.0,1105.9 L458.0,1101.7 L459.0,1097.5 L460.0,1093.4 L461.0,1089.4 L462.0,1085.5 L463.0,1081.6 L464.0,1078.0 L465.0,1074.4 L466.0,1071.0 L467.0,1067.7 L468.0,1064.6 L469.0,1061.7 L470.0,1059.0 L471.0,1056.6 L472.0,1054.3 L473.0,1052.4 L474.0,1050.8 L475.0,1049.6 L476.0,1049.0 L477.0,1049.1 L478.0,1049.6 L479.0,1050.5 L480.0,1051.8 L481.0,1053.5 L482.0,1055.7 L483.0,1058.4 L484.0,1061.6 L485.0,1065.2 L486.0,1069.3 L487.0,1073.8 L488.0,1078.9 L489.0,1084.3 L490.0,1090.2 L491.0,1096.4 L492.0,1103.1 L493.0,1110.0 L494.0,1117.4 L495.0,1125.0 L496.0,1132.8 L497.0,1140.9 L498.0,1149.2 L499.0,1157.6 L500.0,1166.2 L501.0,1174.9 L502.0,1183.6 L503.0,1192.4 L504.0,1201.1 L505.0,1209.8 L506.0,1218.5 L507.0,1227.1 L508.0,1235.5 L509.0,1243.8 L510.0,1251.9 L511.0,1259.8 L512.0,1267.5 L513.0,1275.0 L514.0,1282.2 L515.0,1289.2 L516.0,1295.9 L517.0,1302.4 L518.0,1308.5 L519.0,1314.4 L520.0,1319.9 L521.0,1325.2 L522.0,1330.2 L523.0,1334.9 L524.0,1339.3 L525.0,1343.4 L526.0,1347.3 L527.0,1350.9 L528.0,1354.2 L529.0,1357.3 L530.0,1360.2 L531.0,1362.8 L532.0,1365.3 L533.0,1367.5 L534.0,1369.5 L535.0,1371.4 L536.0,1373.1 L537.0,1374.6 L538.0,1376.0 L539.0,1377.2 L540.0,1378.4 L541.0,1379.4 L542.0,1380.3 L543.0,1381.1 L544.0,1381.8 L545.0,1382.4 L546.0,1383.0 L547.0,1383.5 L548.0,1383.9 L549.0,1384.3 L550.0,1384.6 L551.0,1384.9 L552.0,1385.2 L553.0,1385.4 L554.0,1385.6 L555.0,1385.8 L556.0,1385.9 L557.0,1386.0 L558.0,1386.1 L559.0,1386.2 L560.0,1386.3 L561.0,1386.4 L562.0,1386.4 L563.0,1386.5 L564.0,1386.5 L565.0,1386.5 L566.0,1386.6 L567.0,1386.6 L568.0,1386.6 L569.0,1386.6 L570.0,1386.6 L571.0,1386.7 L572.0,1386.7 L573.0,1386.7 L574.0,1386.7 L575.0,1386.7 L576.0,1386.7 L577.0,1386.7 L578.0,1386.7 L579.0,1386.7 L580.0,1386.7 L581.0,1386.7 L582.0,1386.7 L583.0,1386.7 L584.0,1386.7 L585.0,1386.7 L586.0,1386.7 L587.0,1386.7 L588.0,1386.7 L589.0,1386.7 L590.0,1386.7 L591.0,1386.7 L592.0,1386.7 L593.0,1386.7 L594.0,1386.7 L595.0,1386.7 L596.0,1386.7 L597.0,1386.7 L598.0,1386.7 L599.0,1386.7 L600.0,1386.7 L601.0,1386.7 L602.0,1386.7 L603.0,1386.7 L604.0,1386.7 L605.0,1386.7 L606.0,1386.7 L607.0,1386.7 L608.0,1386.7 L609.0,1386.7 L610.0,1386.7 L611.0,1386.7 L612.0,1386.7 L613.0,1386.7 L614.0,1386.7 L615.0,1386.7 L616.0,1386.7 L617.0,1386.7 L618.0,1386.7 L619.0,1386.7 L620.0,1386.7 L621.0,1386.7 L622.0,1386.7 L623.0,1386.7 L624.0,1386.7 L625.0,1386.7 L626.0,1386.7 L627.0,1386.7 L628.0,1386.7 L629.0,1386.7 L630.0,1386.7 L631.0,1386.7 L632.0,1386.7 L633.0,1386.7 L634.0,1386.7 L635.0,1386.7 L636.0,1386.7 L637.0,1386.7 L638.0,1386.7 L639.0,1386.7 L640.0,1386.7 L641.0,1386.7 L642.0,1386.7 L643.0,1386.7 L644.0,1386.7 L645.0,1386.7 L646.0,1386.7 L647.0,1386.7 L648.0,1386.7 L649.0,1386.7 L650.0,1386.7 L651.0,1386.7 L652.0,1386.7 L653.0,1386.7 L654.0,1386.7 L655.0,1386.7 L656.0,1386.7 L657.0,1386.7 L658.0,1386.7 L659.0,1386.7 L660.0,1386.7 L661.0,1386.7 L662.0,1386.7 L663.0,1386.7 L664.0,1386.7 L665.0,1386.7 L666.0,1386.7 L667.0,1386.7 L668.0,1386.7 L669.0,1386.7 L670.0,1386.7 L671.0,1386.7 L672.0,1386.7 L673.0,1386.7 L674.0,1386.7 L675.0,1386.7 L676.0,1386.7 L677.0,1386.7 L678.0,1386.7 L679.0,1386.7 L680.0,1386.7 L681.0,1386.7 L682.0,1386.7 L683.0,1386.7 L684.0,1386.7 L685.0,1386.7 L686.0,1386.7 L687.0,1386.7 L688.0,1386.7 L689.0,1386.7 L690.0,1386.7 L691.0,1386.7 L692.0,1386.7 L693.0,1386.7 L694.0,1386.7 L695.0,1386.7 L696.0,1386.7 L697.0,1386.7 L698.0,1386.7 L699.0,1386.7 L700.0,1386.7 L701.0,1386.7 L702.0,1386.7 L703.0,1386.7 L704.0,1386.7 L705.0,1386.7 L706.0,1386.7 L707.0,1386.7 L708.0,1386.7 L709.0,1386.7 L710.0,1386.7 L711.0,1386.7 L712.0,1386.7 L713.0,1386.7 L714.0,1386.7 L715.0,1386.7 L716.0,1386.7 L717.0,1386.7 L718.0,1386.7 L719.0,1386.7 L720.0,1386.7 L721.0,1386.7 L722.0,1386.7 L723.0,1386.7 L724.0,1386.7 L725.0,1386.7 L726.0,1386.7 L727.0,1386.7 L728.0,1386.7 L729.0,1386.7 L730.0,1386.7 L731.0,1386.7 L732.0,1386.7 L733.0,1386.7 L734.0,1386.7 L735.0,1386.7 L736.0,1386.7 L737.0,1386.7 L738.0,1386.7 L739.0,1386.7 L740.0,1386.7 L741.0,1386.7 L742.0,1386.7 L743.0,1386.7 L744.0,1386.7 L745.0,1386.7 L746.0,1386.7 L747.0,1386.7 L748.0,1386.7 L749.0,1386.7 L750.0,1386.7 L751.0,1386.7 L752.0,1386.7 L753.0,1386.7 L754.0,1386.7 L755.0,1386.7 L756.0,1386.7 L757.0,1386.7 L758.0,1386.7 L759.0,1386.7 L760.0,1386.7 L761.0,1386.7 L762.0,1386.7 L763.0,1386.7 L764.0,1386.7 L765.0,1386.7 L766.0,1386.7 L767.0,1386.7 L768.0,1386.7 L769.0,1386.7 L770.0,1386.7 L771.0,1386.7 L772.0,1386.7 L773.0,1386.7 L774.0,1386.7 L775.0,1386.7 L776.0,1386.7 L777.0,1386.7 L778.0,1386.7 L779.0,1386.7 L780.0,1386.7 L781.0,1386.7 L782.0,1386.7 L783.0,1386.7 L784.0,1386.7 L785.0,1386.7 L786.0,1386.7 L787.0,1386.7 L788.0,1386.7 L789.0,1386.7 L790.0,1386.7 L791.0,1386.7 L792.0,1386.7 L793.0,1386.7 L794.0,1386.7 L795.0,1386.7 L796.0,1386.7 L797.0,1386.7 L798.0,1386.7 L799.0,1386.7 L800.0,1386.7 L801.0,1386.7 L802.0,1386.7 L803.0,1386.7 L804.0,1386.7 L805.0,1386.7 L806.0,1386.7 L807.0,1386.7 L808.0,1386.7 L809.0,1386.7 L810.0,1386.7 L811.0,1386.7 L812.0,1386.7 L813.0,1386.7 L814.0,1386.7 L815.0,1386.7 L816.0,1386.7 L817.0,1386.7 L818.0,1386.7 L819.0,1386.7 L820.0,1386.7 L821.0,1386.7 L822.0,1386.7 L823.0,1386.7 L824.0,1386.7 L825.0,1386.7 L826.0,1386.7 L827.0,1386.7 L828.0,1386.7 L829.0,1386.7 L830.0,1386.7 L831.0,1386.7 L832.0,1386.7 L833.0,1386.7 L834.0,1386.7 L835.0,1386.7 L836.0,1386.7 L837.0,1386.7 L838.0,1386.7 L839.0,1386.7 L840.0,1386.7 L841.0,1386.7 L842.0,1386.7 L843.0,1386.7 L844.0,1386.7 L845.0,1386.7 L846.0,1386.7 L847.0,1386.7 L848.0,1386.7 L849.0,1386.7 L850.0,1386.7 L851.0,1386.7 L852.0,1386.7 L853.0,1386.7 L854.0,1386.7 L855.0,1386.7 L856.0,1386.7 L857.0,1386.7 L858.0,1386.7 L859.0,1386.7 L860.0,1386.7 L861.0,1386.7 L862.0,1386.7 L863.0,1386.7 L864.0,1386.7 L865.0,1386.7 L866.0,1386.7 L867.0,1386.7 L868.0,1386.7 L869.0,1386.7 L870.0,1386.7 L871.0,1386.7 L872.0,1386.7 L873.0,1386.7 L874.0,1386.7 L875.0,1386.7 L876.0,1386.7 L877.0,1386.7 L878.0,1386.7 L879.0,1386.7 L880.0,1386.7 L881.0,1386.7 L882.0,1386.7 L883.0,1386.7 L884.0,1386.7 L885.0,1386.7 L886.0,1386.7 L887.0,1386.7 L888.0,1386.7 L889.0,1386.7 L890.0,1386.7 L891.0,1386.7 L892.0,1386.7 L893.0,1386.7 L894.0,1386.7 L895.0,1386.7 L896.0,1386.7 L897.0,1386.7 L898.0,1386.7 L899.0,1386.7 L900.0,1386.7 L901.0,1386.7 L902.0,1386.7 L903.0,1386.7 L904.0,1386.7 L905.0,1386.7 L906.0,1386.7 L907.0,1386.7 L908.0,1386.7 L909.0,1386.7 L910.0,1386.7 L911.0,1386.7 L912.0,1386.7 L913.0,1386.7 L914.0,1386.7 L915.0,1386.7 L916.0,1386.7 L917.0,1386.7 L918.0,1386.7 L919.0,1386.7 L920.0,1386.7 L921.0,1386.7 L922.0,1386.7 L923.0,1386.7 L924.0,1386.7 L925.0,1386.7 L926.0,1386.7 L927.0,1386.7 L928.0,1386.7 L929.0,1386.7 L930.0,1386.7 L931.0,1386.7 L932.0,1386.7 L933.0,1386.7 L934.0,1386.7 L935.0,1386.7 L936.0,1386.7 L937.0,1386.7 L938.0,1386.7 L939.0,1386.7 L940.0,1386.7 L941.0,1386.7 L942.0,1386.7 L943.0,1386.7 L944.0,1386.7 L945.0,1386.7 L946.0,1386.7 L947.0,1386.7 L948.0,1386.7 L949.0,1386.7 L950.0,1386.7 L951.0,1386.7 L952.0,1386.7 L953.0,1386.7 L954.0,1386.7 L955.0,1386.7 L956.0,1386.7 L957.0,1386.7 L958.0,1386.7 L959.0,1386.7 L960.0,1386.7 L961.0,1386.7 L962.0,1386.7 L963.0,1386.7 L964.0,1386.7 L965.0,1386.7 L966.0,1386.7 L967.0,1386.7 L968.0,1386.7 L969.0,1386.7 L970.0,1386.7 L971.0,1386.7 L972.0,1386.7 L973.0,1386.7 L974.0,1386.7 L975.0,1386.7 L976.0,1386.7 L977.0,1386.7 L978.0,1386.7 L979.0,1386.7 L979.7,1386.7 L979.7,1386.7 L176.0,1386.7 Z" fill="#d3d3d3" stroke="none"/>
<path d="M176.0,1386.7 L177.0,1386.7 L178.0,1386.7 L179.0,1386.7 L180.0,1386.7 L181.0,1386.7 L182.0,1386.7 L183.0,1386.7 L184.0,1386.7 L185.0,1386.7 L186.0,1386.7 L187.0,1386.7 L188.0,1386.7 L189.0,1386.7 L190.0,1386.7 L191.0,1386.7 L192.0,1386.7 L193.0,1386.7 L194.0,1386.7 L195.0,1386.7 L196.0,1386.7 L197.0,1386.7 L198.0,1386.7 L199.0,1386.7 L200.0,1386.7 L201.0,1386.7 L202.0,1386.7 L203.0,1386.7 L204.0,1386.7 L205.0,1386.7 L206.0,1386.7 L207.0,1386.7 L208.0,1386.7 L209.0,1386.7 L210.0,1386.7 L211.0,1386.7 L212.0,1386.7 L213.0,1386.7 L214.0,1386.7 L215.0,1386.7 L216.0,1386.7 L217.0,1386.7 L218.0,1386.7 L219.0,1386.7 L220.0,1386.7 L221.0,1386.7 L222.0,1386.7 L223.0,1386.7 L224.0,1386.7 L225.0,1386.7 L226.0,1386.7 L227.0,1386.7 L228.0,1386.7 L229.0,1386.7 L230.0,1386.7 L231.0,1386.7 L232.0,1386.7 L233.0,1386.7 L234.0,1386.7 L235.0,1386.7 L236.0,1386.7 L237.0,1386.7 L238.0,1386.7 L239.0,1386.7 L240.0,1386.7 L241.0,1386.7 L242.0,1386.7 L243.0,1386.7 L244.0,1386.7 L245.0,1386.7 L246.0,1386.7 L247.0,1386.7 L248.0,1386.7 L249.0,1386.7 L250.0,1386.7 L251.0,1386.7 L252.0,1386.7 L253.0,1386.7 L254.0,1386.7 L255.0,1386.7 L256.0,1386.7 L257.0,1386.7 L258.0,1386.7 L259.0,1386.7 L260.0,1386.7 L261.0,1386.7 L262.0,1386.7 L263.0,1386.7 L264.0,1386.7 L265.0,1386.7 L266.0,1386.7 L267.0,1386.7 L268.0,1386.7 L269.0,1386.7 L270.0,1386.7 L271.0,1386.7 L272.0,1386.7 L273.0,1386.7 L274.0,1386.7 L275.0,1386.7 L276.0,1386.7 L277.0,1386.7 L278.0,1386.7 L279.0,1386.7 L280.0,1386.7 L281.0,1386.7 L282.0,1386.7 L283.0,1386.7 L284.0,1386.7 L285.0,1386.7 L286.0,1386.7 L287.0,1386.7 L288.0,1386.7 L289.0,1386.7 L290.0,1386.7 L291.0,1386.7 L292.0,1386.7 L293.0,1386.7 L294.0,1386.7 L295.0,1386.7 L296.0,1386.7 L297.0,1386.7 L298.0,1386.7 L299.0,1386.7 L300.0,1386.7 L301.0,1386.7 L302.0,1386.7 L303.0,1386.7 L304.0,1386.7 L305.0,1386.7 L306.0,1386.7 L307.0,1386.7 L308.0,1386.7 L309.0,1386.7 L310.0,1386.7 L311.0,1386.7 L312.0,1386.7 L313.0,1386.7 L314.0,1386.7 L315.0,1386.7 L316.0,1386.7 L317.0,1386.7 L318.0,1386.7 L319.0,1386.7 L320.0,1386.7 L321.0,1386.7 L322.0,1386.7 L323.0,1386.7 L324.0,1386.7 L325.0,1386.7 L326.0,1386.7 L327.0,1386.7 L328.0,1386.7 L329.0,1386.7 L330.0,1386.7 L331.0,1386.7 L332.0,1386.7 L333.0,1386.7 L334.0,1386.7 L335.0,1386.7 L336.0,1386.7 L337.0,1386.7 L338.0,1386.7 L339.0,1386.7 L340.0,1386.7 L341.0,1386.7 L342.0,1386.7 L343.0,1386.7 L344.0,1386.7 L345.0,1386.7 L346.0,1386.7 L347.0,1386.7 L348.0,1386.7 L349.0,1386.7 L350.0,1386.7 L351.0,1386.7 L352.0,1386.7 L353.0,1386.7 L354.0,1386.7 L355.0,1386.7 L356.0,1386.7 L357.0,1386.7 L358.0,1386.7 L359.0,1386.7 L360.0,1386.6 L361.0,1386.6 L362.0,1386.6 L363.0,1386.6 L364.0,1386.6 L365.0,1386.6 L366.0,1386.6 L367.0,1386.6 L368.0,1386.6 L369.0,1386.6 L370.0,1386.6 L371.0,1386.6 L372.0,1386.6 L373.0,1386.6 L374.0,1386.6 L375.0,1386.6 L376.0,1386.6 L377.0,1386.6 L378.0,1386.6 L379.0,1386.6 L380.0,1386.6 L381.0,1386.6 L382.0,1386.6 L383.0,1386.6 L384.0,1386.6 L385.0,1386.6 L386.0,1386.6 L387.0,1386.5 L388.0,1386.5 L389.0,1386.5 L390.0,1386.5 L391.0,1386.5 L392.0,1386.5 L393.0,1386.5 L394.0,1386.5 L395.0,1386.5 L396.0,1386.5 L397.0,1386.5 L398.0,1386.5 L399.0,1386.5 L400.0,1386.4 L401.0,1386.4 L402.0,1386.4 L403.0,1386.4 L404.0,1386.4 L405.0,1386.4 L406.0,1386.4 L407.0,1386.4 L408.0,1386.4 L409.0,1386.3 L410.0,1386.3 L411.0,1386.3 L412.0,1386.3 L413.0,1386.3 L414.0,1386.3 L415.0,1386.3 L416.0,1386.2 L417.0,1386.2 L418.0,1386.2 L419.0,1386.2 L420.0,1386.2 L421.0,1386.2 L422.0,1386.1 L423.0,1386.1 L424.0,1386.1 L425.0,1386.1 L426.0,1386.0 L427.0,1386.0 L428.0,1386.0 L429.0,1386.0 L430.0,1386.0 L431.0,1385.9 L432.0,1385.9 L433.0,1385.9 L434.0,1385.8 L435.0,1385.8 L436.0,1385.8 L437.0,1385.7 L438.0,1385.7 L439.0,1385.7 L440.0,1385.6 L441.0,1385.6 L442.0,1385.6 L443.0,1385.5 L444.0,1385.5 L445.0,1385.4 L446.0,1385.4 L447.0,1385.4 L448.0,1385.3 L449.0,1385.3 L450.0,1385.2 L451.0,1385.2 L452.0,1385.1 L453.0,1385.1 L454.0,1385.0 L455.0,1384.9 L456.0,1384.9 L457.0,1384.8 L458.0,1384.8 L459.0,1384.7 L460.0,1384.6 L461.0,1384.6 L462.0,1384.5 L463.0,1384.4 L464.0,1384.3 L465.0,1384.3 L466.0,1384.2 L467.0,1384.1 L468.0,1384.0 L469.0,1383.9 L470.0,1383.8 L471.0,1383.8 L472.0,1383.7 L473.0,1383.6 L474.0,1383.5 L475.0,1383.4 L476.0,1383.3 L477.0,1383.1 L478.0,1383.0 L479.0,1382.9 L480.0,1382.8 L481.0,1382.7 L482.0,1382.6 L483.0,1382.4 L484.0,1382.3 L485.0,1382.2 L486.0,1382.0 L487.0,1381.9 L488.0,1381.7 L489.0,1381.6 L490.0,1381.4 L491.0,1381.3 L492.0,1381.1 L493.0,1380.9 L494.0,1380.8 L495.0,1380.6 L496.0,1380.4 L497.0,1380.2 L498.0,1380.0 L499.0,1379.9 L500.0,1379.7 L501.0,1379.4 L502.0,1379.2 L503.0,1379.0 L504.0,1378.8 L505.0,1378.6 L506.0,1378.4 L507.0,1378.1 L508.0,1377.9 L509.0,1377.6 L510.0,1377.4 L511.0,1377.1 L512.0,1376.8 L513.0,1376.6 L514.0,1376.3 L515.0,1376.0 L516.0,1375.7 L517.0,1375.4 L518.0,1375.1 L519.0,1374.8 L520.0,1374.5 L521.0,1374.2 L522.0,1373.8 L523.0,1373.5 L524.0,1373.1 L525.0,1372.8 L526.0,1372.4 L527.0,1372.0 L528.0,1371.7 L529.0,1371.3 L530.0,1370.9 L531.0,1370.5 L532.0,1370.1 L533.0,1369.6 L534.0,1369.2 L535.0,1368.8 L536.0,1368.3 L537.0,1367.9 L538.0,1367.4 L539.0,1366.9 L540.0,1366.5 L541.0,1366.0 L542.0,1365.5 L543.0,1364.9 L544.0,1364.4 L545.0,1363.9 L546.0,1363.3 L547.0,1362.8 L548.0,1362.2 L549.0,1361.7 L550.0,1361.1 L551.0,1360.5 L552.0,1359.9 L553.0,1359.3 L554.0,1358.7 L555.0,1358.0 L556.0,1357.4 L557.0,1356.7 L558.0,1356.1 L559.0,1355.4 L560.0,1354.7 L561.0,1354.0 L562.0,1353.3 L563.0,1352.6 L564.0,1351.8 L565.0,1351.1 L566.0,1350.3 L567.0,1349.6 L568.0,1348.8 L569.0,1348.0 L570.0,1347.2 L571.0,1346.4 L572.0,1345.6 L573.0,1344.8 L574.0,1343.9 L575.0,1343.1 L576.0,1342.2 L577.0,1341.3 L578.0,1340.4 L579.0,1339.5 L580.0,1338.6 L581.0,1337.7 L582.0,1336.8 L583.0,1335.9 L584.0,1334.9 L585.0,1334.0 L586.0,1333.0 L587.0,1332.0 L588.0,1331.0 L589.0,1330.0 L590.0,1329.0 L591.0,1328.0 L592.0,1327.0 L593.0,1326.0 L594.0,1324.9 L595.0,1323.9 L596.0,1322.8 L597.0,1321.8 L598.0,1320.7 L599.0,1319.6 L600.0,1318.6 L601.0,1317.5 L602.0,1316.4 L603.0,1315.3 L604.0,1314.2 L605.0,1313.1 L606.0,1312.0 L607.0,1310.9 L608.0,1309.7 L609.0,1308.6 L610.0,1307.5 L611.0,1306.4 L612.0,1305.2 L613.0,1304.1 L614.0,1303.0 L615.0,1301.8 L616.0,1300.7 L617.0,1299.6 L618.0,1298.5 L619.0,1297.3 L620.0,1296.2 L621.0,1295.1 L622.0,1294.0 L623.0,1292.9 L624.0,1291.8 L625.0,1290.7 L626.0,1289.6 L627.0,1288.6 L628.0,1287.5 L629.0,1286.4 L630.0,1285.4 L631.0,1284.4 L632.0,1283.4 L633.0,1282.4 L634.0,1281.4 L635.0,1280.4 L636.0,1279.4 L637.0,1278.5 L638.0,1277.6 L639.0,1276.7 L640.0,1275.8 L641.0,1275.0 L642.0,1274.2 L643.0,1273.4 L644.0,1272.6 L645.0,1271.9 L646.0,1271.2 L647.0,1270.6 L648.0,1269.9 L649.0,1269.4 L650.0,1268.8 L651.0,1268.3 L652.0,1267.9 L653.0,1267.6 L654.0,1267.3 L655.0,1267.1 L656.0,1267.0 L657.0,1267.0 L658.0,1267.0 L659.0,1267.1 L660.0,1267.2 L661.0,1267.4 L662.0,1267.5 L663.0,1267.8 L664.0,1268.1 L665.0,1268.5 L666.0,1268.9 L667.0,1269.4 L668.0,1269.9 L669.0,1270.6 L670.0,1271.3 L671.0,1272.1 L672.0,1272.9 L673.0,1273.9 L674.0,1274.9 L675.0,1276.0 L676.0,1277.2 L677.0,1278.4 L678.0,1279.8 L679.0,1281.2 L680.0,1282.7 L681.0,1284.2 L682.0,1285.9 L683.0,1287.6 L684.0,1289.4 L685.0,1291.2 L686.0,1293.1 L687.0,1295.1 L688.0,1297.1 L689.0,1299.2 L690.0,1301.3 L691.0,1303.5 L692.0,1305.7 L693.0,1308.0 L694.0,1310.2 L695.0,1312.5 L696.0,1314.8 L697.0,1317.2 L698.0,1319.5 L699.0,1321.8 L700.0,1324.2 L701.0,1326.5 L702.0,1328.9 L703.0,1331.2 L704.0,1333.5 L705.0,1335.7 L706.0,1338.0 L707.0,1340.2 L708.0,1342.4 L709.0,1344.5 L710.0,1346.6 L711.0,1348.6 L712.0,1350.6 L713.0,1352.5 L714.0,1354.4 L715.0,1356.2 L716.0,1358.0 L717.0,1359.7 L718.0,1361.4 L719.0,1363.0 L720.0,1364.5 L721.0,1365.9 L722.0,1367.3 L723.0,1368.6 L724.0,1369.9 L725.0,1371.1 L726.0,1372.3 L727.0,1373.3 L728.0,1374.4 L729.0,1375.3 L730.0,1376.2 L731.0,1377.1 L732.0,1377.9 L733.0,1378.6 L734.0,1379.3 L735.0,1380.0 L736.0,1380.6 L737.0,1381.1 L738.0,1381.6 L739.0,1382.1 L740.0,1382.6 L741.0,1383.0 L742.0,1383.3 L743.0,1383.7 L744.0,1384.0 L745.0,1384.3 L746.0,1384.5 L747.0,1384.8 L748.0,1385.0 L749.0,1385.2 L750.0,1385.3 L751.0,1385.5 L752.0,1385.6 L753.0,1385.8 L754.0,1385.9 L755.0,1386.0 L756.0,1386.1 L757.0,1386.2 L758.0,1386.2 L759.0,1386.3 L760.0,1386.3 L761.0,1386.4 L762.0,1386.4 L763.0,1386.5 L764.0,1386.5 L765.0,1386.5 L766.0,1386.6 L767.0,1386.6 L768.0,1386.6 L769.0,1386.6 L770.0,1386.6 L771.0,1386.6 L772.0,1386.6 L773.0,1386.7 L774.0,1386.7 L775.0,1386.7 L776.0,1386.7 L777.0,1386.7 L778.0,1386.7 L779.0,1386.7 L780.0,1386.7 L781.0,1386.7 L782.0,1386.7 L783.0,1386.7 L784.0,1386.7 L785.0,1386.7 L786.0,1386.7 L787.0,1386.7 L788.0,1386.7 L789.0,1386.7 L790.0,1386.7 L791.0,1386.7 L792.0,1386.7 L793.0,1386.7 L794.0,1386.7 L795.0,1386.7 L796.0,1386.7 L797.0,1386.7 L798.0,1386.7 L799.0,1386.7 L800.0,1386.7 L801.0,1386.7 L802.0,1386.7 L803.0,1386.7 L804.0,1386.7 L805.0,1386.7 L806.0,1386.7 L807.0,1386.7 L808.0,1386.7 L809.0,1386.7 L810.0,1386.7 L811.0,1386.7 L812.0,1386.7 L813.0,1386.7 L814.0,1386.7 L815.0,1386.7 L816.0,1386.7 L817.0,1386.7 L818.0,1386.7 L819.0,1386.7 L820.0,1386.7 L821.0,1386.7 L822.0,1386.7 L823.0,1386.7 L824.0,1386.7 L825.0,1386.7 L826.0,1386.7 L827.0,1386.7 L828.0,1386.7 L829.0,1386.7 L830.0,1386.7 L831.0,1386.7 L832.0,1386.7 L833.0,1386.7 L834.0,1386.7 L835.0,1386.7 L836.0,1386.7 L837.0,1386.7 L838.0,1386.7 L839.0,1386.7 L840.0,1386.7 L841.0,1386.7 L842.0,1386.7 L843.0,1386.7 L844.0,1386.7 L845.0,1386.7 L846.0,1386.7 L847.0,1386.7 L848.0,1386.7 L849.0,1386.7 L850.0,1386.7 L851.0,1386.7 L852.0,1386.7 L853.0,1386.7 L854.0,1386.7 L855.0,1386.7 L856.0,1386.7 L857.0,1386.7 L858.0,1386.7 L859.0,1386.7 L860.0,1386.7 L861.0,1386.7 L862.0,1386.7 L863.0,1386.7 L864.0,1386.7 L865.0,1386.7 L866.0,1386.7 L867.0,1386.7 L868.0,1386.7 L869.0,1386.7 L870.0,1386.7 L871.0,1386.7 L872.0,1386.7 L873.0,1386.7 L874.0,1386.7 L875.0,1386.7 L876.0,1386.7 L877.0,1386.7 L878.0,1386.7 L879.0,1386.7 L880.0,1386.7 L881.0,1386.7 L882.0,1386.7 L883.0,1386.7 L884.0,1386.7 L885.0,1386.7 L886.0,1386.7 L887.0,1386.7 L888.0,1386.7 L889.0,1386.7 L890.0,1386.7 L891.0,1386.7 L892.0,1386.7 L893.0,1386.7 L894.0,1386.7 L895.0,1386.7 L896.0,1386.7 L897.0,1386.7 L898.0,1386.7 L899.0,1386.7 L900.0,1386.7 L901.0,1386.7 L902.0,1386.7 L903.0,1386.7 L904.0,1386.7 L905.0,1386.7 L906.0,1386.7 L907.0,1386.7 L908.0,1386.7 L909.0,1386.7 L910.0,1386.7 L911.0,1386.7 L912.0,1386.7 L913.0,1386.7 L914.0,1386.7 L915.0,1386.7 L916.0,1386.7 L917.0,1386.7 L918.0,1386.7 L919.0,1386.7 L920.0,1386.7 L921.0,1386.7 L922.0,1386.7 L923.0,1386.7 L924.0,1386.7 L925.0,1386.7 L926.0,1386.7 L927.0,1386.7 L928.0,1386.7 L929.0,1386.7 L930.0,1386.7 L931.0,1386.7 L932.0,1386.7 L933.0,1386.7 L934.0,1386.7 L935.0,1386.7 L936.0,1386.7 L937.0,1386.7 L938.0,1386.7 L939.0,1386.7 L940.0,1386.7 L941.0,1386.7 L942.0,1386.7 L943.0,1386.7 L944.0,1386.7 L945.0,1386.7 L946.0,1386.7 L947.0,1386.7 L948.0,1386.7 L949.0,1386.7 L950.0,1386.7 L951.0,1386.7 L952.0,1386.7 L953.0,1386.7 L954.0,1386.7 L955.0,1386.7 L956.0,1386.7 L957.0,1386.7 L958.0,1386.7 L959.0,1386.7 L960.0,1386.7 L961.0,1386.7 L962.0,1386.7 L963.0,1386.7 L964.0,1386.7 L965.0,1386.7 L966.0,1386.7 L967.0,1386.7 L968.0,1386.7 L969.0,1386.7 L970.0,1386.7 L971.0,1386.7 L972.0,1386.7 L973.0,1386.7 L974.0,1386.7 L975.0,1386.7 L976.0,1386.7 L977.0,1386.7 L978.0,1386.7 L979.0,1386.7 L979.7,1386.7 L979.7,1386.7 L176.0,1386.7 Z" fill="#d3d3d3" stroke="none"/>
<path d="M176.0,1386.7 L177.0,1386.7 L178.0,1386.7 L179.0,1386.7 L180.0,1386.7 L181.0,1386.7 L182.0,1386.7 L183.0,1386.7 L184.0,1386.7 L185.0,1386.7 L186.0,1386.7 L187.0,1386.7 L188.0,1386.7 L189.0,1386.7 L190.0,1386.7 L191.0,1386.7 L192.0,1386.7 L193.0,1386.7 L194.0,1386.7 L195.0,1386.7 L196.0,1386.7 L197.0,1386.7 L198.0,1386.7 L199.0,1386.7 L200.0,1386.7 L201.0,1386.7 L202.0,1386.7 L203.0,1386.7 L204.0,1386.7 L205.0,1386.7 L206.0,1386.7 L207.0,1386.7 L208.0,1386.7 L209.0,1386.7 L210.0,1386.7 L211.0,1386.7 L212.0,1386.7 L213.0,1386.7 L214.0,1386.7 L215.0,1386.7 L216.0,1386.7 L217.0,1386.7 L218.0,1386.7 L219.0,1386.7 L220.0,1386.7 L221.0,1386.7 L222.0,1386.7 L223.0,1386.7 L224.0,1386.7 L225.0,1386.7 L226.0,1386.7 L227.0,1386.7 L228.0,1386.7 L229.0,1386.7 L230.0,1386.7 L231.0,1386.7 L232.0,1386.7 L233.0,1386.7 L234.0,1386.7 L235.0,1386.7 L236.0,1386.7 L237.0,1386.7 L238.0,1386.7 L239.0,1386.7 L240.0,1386.7 L241.0,1386.7 L242.0,1386.7 L243.0,1386.7 L244.0,1386.7 L245.0,1386.7 L246.0,1386.7 L247.0,1386.7 L248.0,1386.7 L249.0,1386.7 L250.0,1386.7 L251.0,1386.7 L252.0,1386.7 L253.0,1386.7 L254.0,1386.7 L255.0,1386.7 L256.0,1386.7 L257.0,1386.7 L258.0,1386.7 L259.0,1386.7 L260.0,1386.7 L261.0,1386.7 L262.0,1386.7 L263.0,1386.7 L264.0,1386.7 L265.0,1386.7 L266.0,1386.7 L267.0,1386.7 L268.0,1386.7 L269.0,1386.7 L270.0,1386.7 L271.0,1386.7 L272.0,1386.7 L273.0,1386.7 L274.0,1386.7 L275.0,1386.7 L276.0,1386.7 L277.0,1386.7 L278.0,1386.7 L279.0,1386.7 L280.0,1386.7 L281.0,1386.7 L282.0,1386.7 L283.0,1386.7 L284.0,1386.7 L285.0,1386.7 L286.0,1386.7 L287.0,1386.7 L288.0,1386.7 L289.0,1386.7 L290.0,1386.7 L291.0,1386.7 L292.0,1386.7 L293.0,1386.7 L294.0,1386.7 L295.0,1386.7 L296.0,1386.7 L297.0,1386.7 L298.0,1386.7 L299.0,1386.7 L300.0,1386.7 L301.0,1386.7 L302.0,1386.7 L303.0,1386.7 L304.0,1386.7 L305.0,1386.7 L306.0,1386.7 L307.0,1386.7 L308.0,1386.7 L309.0,1386.7 L310.0,1386.7 L311.0,1386.7 L312.0,1386.7 L313.0,1386.7 L314.0,1386.7 L315.0,1386.7 L316.0,1386.7 L317.0,1386.7 L318.0,1386.7 L319.0,1386.7 L320.0,1386.7 L321.0,1386.7 L322.0,1386.7 L323.0,1386.7 L324.0,1386.7 L325.0,1386.7 L326.0,1386.7 L327.0,1386.7 L328.0,1386.7 L329.0,1386.7 L330.0,1386.7 L331.0,1386.7 L332.0,1386.7 L333.0,1386.7 L334.0,1386.7 L335.0,1386.7 L336.0,1386.7 L337.0,1386.7 L338.0,1386.7 L339.0,1386.7 L340.0,1386.7 L341.0,1386.7 L342.0,1386.7 L343.0,1386.7 L344.0,1386.7 L345.0,1386.7 L346.0,1386.7 L347.0,1386.7 L348.0,1386.7 L349.0,1386.7 L350.0,1386.7 L351.0,1386.7 L352.0,1386.7 L353.0,1386.7 L354.0,1386.7 L355.0,1386.7 L356.0,1386.7 L357.0,1386.7 L358.0,1386.7 L359.0,1386.7 L360.0,1386.7 L361.0,1386.7 L362.0,1386.7 L363.0,1386.7 L364.0,1386.7 L365.0,1386.7 L366.0,1386.7 L367.0,1386.7 L368.0,1386.7 L369.0,1386.7 L370.0,1386.7 L371.0,1386.7 L372.0,1386.7 L373.0,1386.7 L374.0,1386.7 L375.0,1386.7 L376.0,1386.7 L377.0,1386.7 L378.0,1386.7 L379.0,1386.7 L380.0,1386.7 L381.0,1386.7 L382.0,1386.7 L383.0,1386.7 L384.0,1386.7 L385.0,1386.7 L386.0,1386.7 L387.0,1386.7 L388.0,1386.7 L389.0,1386.7 L390.0,1386.7 L391.0,1386.7 L392.0,1386.7 L393.0,1386.7 L394.0,1386.7 L395.0,1386.7 L396.0,1386.7 L397.0,1386.7 L398.0,1386.7 L399.0,1386.7 L400.0,1386.7 L401.0,1386.7 L402.0,1386.7 L403.0,1386.7 L404.0,1386.7 L405.0,1386.7 L406.0,1386.7 L407.0,1386.7 L408.0,1386.7 L409.0,1386.7 L410.0,1386.7 L411.0,1386.7 L412.0,1386.7 L413.0,1386.7 L414.0,1386.7 L415.0,1386.7 L416.0,1386.7 L417.0,1386.7 L418.0,1386.7 L419.0,1386.7 L420.0,1386.7 L421.0,1386.7 L422.0,1386.7 L423.0,1386.7 L424.0,1386.7 L425.0,1386.7 L426.0,1386.7 L427.0,1386.7 L428.0,1386.7 L429.0,1386.7 L430.0,1386.7 L431.0,1386.7 L432.0,1386.7 L433.0,1386.7 L434.0,1386.7 L435.0,1386.7 L436.0,1386.7 L437.0,1386.7 L438.0,1386.7 L439.0,1386.7 L440.0,1386.7 L441.0,1386.7 L442.0,1386.7 L443.0,1386.7 L444.0,1386.7 L445.0,1386.7 L446.0,1386.7 L447.0,1386.7 L448.0,1386.7 L449.0,1386.7 L450.0,1386.7 L451.0,1386.7 L452.0,1386.7 L453.0,1386.7 L454.0,1386.7 L455.0,1386.7 L456.0,1386.7 L457.0,1386.7 L458.0,1386.7 L459.0,1386.7 L460.0,1386.7 L461.0,1386.7 L462.0,1386.7 L463.0,1386.7 L464.0,1386.7 L465.0,1386.7 L466.0,1386.7 L467.0,1386.7 L468.0,1386.7 L469.0,1386.7 L470.0,1386.7 L471.0,1386.7 L472.0,1386.7 L473.0,1386.7 L474.0,1386.7 L475.0,1386.7 L476.0,1386.7 L477.0,1386.7 L478.0,1386.7 L479.0,1386.7 L480.0,1386.7 L481.0,1386.7 L482.0,1386.7 L483.0,1386.7 L484.0,1386.7 L485.0,1386.7 L486.0,1386.7 L487.0,1386.7 L488.0,1386.7 L489.0,1386.7 L490.0,1386.7 L491.0,1386.7 L492.0,1386.7 L493.0,1386.7 L494.0,1386.7 L495.0,1386.7 L496.0,1386.7 L497.0,1386.7 L498.0,1386.7 L499.0,1386.7 L500.0,1386.7 L501.0,1386.7 L502.0,1386.7 L503.0,1386.7 L504.0,1386.7 L505.0,1386.7 L506.0,1386.7 L507.0,1386.7 L508.0,1386.7 L509.0,1386.7 L510.0,1386.7 L511.0,1386.7 L512.0,1386.7 L513.0,1386.7 L514.0,1386.7 L515.0,1386.7 L516.0,1386.7 L517.0,1386.7 L518.0,1386.7 L519.0,1386.7 L520.0,1386.7 L521.0,1386.7 L522.0,1386.7 L523.0,1386.7 L524.0,1386.7 L525.0,1386.7 L526.0,1386.7 L527.0,1386.7 L528.0,1386.7 L529.0,1386.7 L530.0,1386.7 L531.0,1386.7 L532.0,1386.7 L533.0,1386.7 L534.0,1386.7 L535.0,1386.7 L536.0,1386.7 L537.0,1386.7 L538.0,1386.7 L539.0,1386.7 L540.0,1386.7 L541.0,1386.7 L542.0,1386.7 L543.0,1386.7 L544.0,1386.7 L545.0,1386.7 L546.0,1386.7 L547.0,1386.7 L548.0,1386.7 L549.0,1386.7 L550.0,1386.7 L551.0,1386.7 L552.0,1386.7 L553.0,1386.7 L554.0,1386.7 L555.0,1386.7 L556.0,1386.7 L557.0,1386.7 L558.0,1386.7 L559.0,1386.7 L560.0,1386.7 L561.0,1386.7 L562.0,1386.7 L563.0,1386.7 L564.0,1386.7 L565.0,1386.7 L566.0,1386.7 L567.0,1386.7 L568.0,1386.7 L569.0,1386.7 L570.0,1386.7 L571.0,1386.7 L572.0,1386.7 L573.0,1386.7 L574.0,1386.7 L575.0,1386.7 L576.0,1386.7 L577.0,1386.7 L578.0,1386.7 L579.0,1386.7 L580.0,1386.7 L581.0,1386.7 L582.0,1386.7 L583.0,1386.7 L584.0,1386.7 L585.0,1386.7 L586.0,1386.7 L587.0,1386.7 L588.0,1386.7 L589.0,1386.7 L590.0,1386.7 L591.0,1386.7 L592.0,1386.7 L593.0,1386.7 L594.0,1386.7 L595.0,1386.7 L596.0,1386.7 L597.0,1386.7 L598.0,1386.7 L599.0,1386.7 L600.0,1386.7 L601.0,1386.7 L602.0,1386.7 L603.0,1386.7 L604.0,1386.7 L605.0,1386.7 L606.0,1386.7 L607.0,1386.7 L608.0,1386.7 L609.0,1386.7 L610.0,1386.7 L611.0,1386.7 L612.0,1386.7 L613.0,1386.7 L614.0,1386.7 L615.0,1386.7 L616.0,1386.7 L617.0,1386.7 L618.0,1386.7 L619.0,1386.7 L620.0,1386.7 L621.0,1386.7 L622.0,1386.7 L623.0,1386.7 L624.0,1386.7 L625.0,1386.7 L626.0,1386.7 L627.0,1386.7 L628.0,1386.7 L629.0,1386.7 L630.0,1386.7 L631.0,1386.7 L632.0,1386.7 L633.0,1386.7 L634.0,1386.7 L635.0,1386.7 L636.0,1386.7 L637.0,1386.7 L638.0,1386.7 L639.0,1386.7 L640.0,1386.7 L641.0,1386.7 L642.0,1386.7 L643.0,1386.7 L644.0,1386.7 L645.0,1386.7 L646.0,1386.7 L647.0,1386.7 L648.0,1386.7 L649.0,1386.7 L650.0,1386.7 L651.0,1386.7 L652.0,1386.7 L653.0,1386.7 L654.0,1386.7 L655.0,1386.7 L656.0,1386.7 L657.0,1386.7 L658.0,1386.7 L659.0,1386.7 L660.0,1386.7 L661.0,1386.7 L662.0,1386.7 L663.0,1386.7 L664.0,1386.7 L665.0,1386.7 L666.0,1386.7 L667.0,1386.7 L668.0,1386.7 L669.0,1386.7 L670.0,1386.7 L671.0,1386.7 L672.0,1386.7 L673.0,1386.7 L674.0,1386.7 L675.0,1386.7 L676.0,1386.7 L677.0,1386.7 L678.0,1386.7 L679.0,1386.7 L680.0,1386.7 L681.0,1386.7 L682.0,1386.7 L683.0,1386.7 L684.0,1386.7 L685.0,1386.7 L686.0,1386.7 L687.0,1386.7 L688.0,1386.7 L689.0,1386.7 L690.0,1386.7 L691.0,1386.7 L692.0,1386.7 L693.0,1386.7 L694.0,1386.7 L695.0,1386.7 L696.0,1386.7 L697.0,1386.7 L698.0,1386.7 L699.0,1386.7 L700.0,1386.7 L701.0,1386.7 L702.0,1386.7 L703.0,1386.7 L704.0,1386.7 L705.0,1386.7 L706.0,1386.7 L707.0,1386.7 L708.0,1386.7 L709.0,1386.7 L710.0,1386.7 L711.0,1386.7 L712.0,1386.7 L713.0,1386.7 L714.0,1386.7 L715.0,1386.7 L716.0,1386.7 L717.0,1386.7 L718.0,1386.7 L719.0,1386.7 L720.0,1386.7 L721.0,1386.7 L722.0,1386.7 L723.0,1386.7 L724.0,1386.7 L725.0,1386.7 L726.0,1386.7 L727.0,1386.7 L728.0,1386.7 L729.0,1386.7 L730.0,1386.7 L731.0,1386.7 L732.0,1386.7 L733.0,1386.7 L734.0,1386.7 L735.0,1386.7 L736.0,1386.7 L737.0,1386.7 L738.0,1386.7 L739.0,1386.7 L740.0,1386.7 L741.0,1386.7 L742.0,1386.7 L743.0,1386.7 L744.0,1386.7 L745.0,1386.7 L746.0,1386.7 L747.0,1386.7 L748.0,1386.7 L749.0,1386.7 L750.0,1386.7 L751.0,1386.7 L752.0,1386.7 L753.0,1386.7 L754.0,1386.7 L755.0,1386.7 L756.0,1386.7 L757.0,1386.7 L758.0,1386.7 L759.0,1386.7 L760.0,1386.7 L761.0,1386.7 L762.0,1386.7 L763.0,1386.7 L764.0,1386.7 L765.0,1386.7 L766.0,1386.7 L767.0,1386.7 L768.0,1386.7 L769.0,1386.7 L770.0,1386.7 L771.0,1386.7 L772.0,1386.7 L773.0,1386.7 L774.0,1386.7 L775.0,1386.7 L776.0,1386.7 L777.0,1386.7 L778.0,1386.7 L779.0,1386.7 L780.0,1386.7 L781.0,1386.7 L782.0,1386.7 L783.0,1386.7 L784.0,1386.7 L785.0,1386.7 L786.0,1386.7 L787.0,1386.7 L788.0,1386.7 L789.0,1386.7 L790.0,1386.7 L791.0,1386.7 L792.0,1386.7 L793.0,1386.7 L794.0,1386.7 L795.0,1386.7 L796.0,1386.7 L797.0,1386.7 L798.0,1386.7 L799.0,1386.7 L800.0,1386.7 L801.0,1386.7 L802.0,1386.7 L803.0,1386.7 L804.0,1386.7 L805.0,1386.7 L806.0,1386.7 L807.0,1386.7 L808.0,1386.7 L809.0,1386.7 L810.0,1386.7 L811.0,1386.7 L812.0,1386.7 L813.0,1386.7 L814.0,1386.7 L815.0,1386.7 L816.0,1386.7 L817.0,1386.7 L818.0,1386.7 L819.0,1386.7 L820.0,1386.7 L821.0,1386.7 L822.0,1386.7 L823.0,1386.7 L824.0,1386.7 L825.0,1386.7 L826.0,1386.7 L827.0,1386.7 L828.0,1386.7 L829.0,1386.7 L830.0,1386.7 L831.0,1386.7 L832.0,1386.7 L833.0,1386.7 L834.0,1386.7 L835.0,1386.7 L836.0,1386.7 L837.0,1386.7 L838.0,1386.7 L839.0,1386.7 L840.0,1386.7 L841.0,1386.7 L842.0,1386.7 L843.0,1386.7 L844.0,1386.7 L845.0,1386.7 L846.0,1386.7 L847.0,1386.7 L848.0,1386.7 L849.0,1386.7 L850.0,1386.7 L851.0,1386.7 L852.0,1386.7 L853.0,1386.7 L854.0,1386.7 L855.0,1386.7 L856.0,1386.7 L857.0,1386.7 L858.0,1386.7 L859.0,1386.7 L860.0,1386.7 L861.0,1386.7 L862.0,1386.7 L863.0,1386.7 L864.0,1386.7 L865.0,1386.7 L866.0,1386.7 L867.0,1386.7 L868.0,1386.7 L869.0,1386.7 L870.0,1386.7 L871.0,1386.7 L872.0,1386.7 L873.0,1386.7 L874.0,1386.7 L875.0,1386.7 L876.0,1386.7 L877.0,1386.7 L878.0,1386.7 L879.0,1386.7 L880.0,1386.7 L881.0,1386.7 L882.0,1386.7 L883.0,1386.7 L884.0,1386.7 L885.0,1386.7 L886.0,1386.7 L887.0,1386.7 L888.0,1386.7 L889.0,1386.7 L890.0,1386.7 L891.0,1386.7 L892.0,1386.7 L893.0,1386.7 L894.0,1386.7 L895.0,1386.7 L896.0,1386.7 L897.0,1386.7 L898.0,1386.7 L899.0,1386.7 L900.0,1386.7 L901.0,1386.7 L902.0,1386.7 L903.0,1386.7 L904.0,1386.7 L905.0,1386.7 L906.0,1386.7 L907.0,1386.7 L908.0,1386.7 L909.0,1386.7 L910.0,1386.7 L911.0,1386.7 L912.0,1386.7 L913.0,1386.7 L914.0,1386.7 L915.0,1386.7 L916.0,1386.7 L917.0,1386.7 L918.0,1386.7 L919.0,1386.7 L920.0,1386.7 L921.0,1386.7 L922.0,1386.7 L923.0,1386.7 L924.0,1386.7 L925.0,1386.7 L926.0,1386.7 L927.0,1386.7 L928.0,1386.7 L929.0,1386.7 L930.0,1386.7 L931.0,1386.7 L932.0,1386.7 L933.0,1386.7 L934.0,1386.7 L935.0,1386.7 L936.0,1386.7 L937.0,1386.7 L938.0,1386.7 L939.0,1386.7 L940.0,1386.7 L941.0,1386.7 L942.0,1386.7 L943.0,1386.7 L944.0,1386.7 L945.0,1386.7 L946.0,1386.7 L947.0,1386.7 L948.0,1386.7 L949.0,1386.7 L950.0,1386.7 L951.0,1386.7 L952.0,1386.7 L953.0,1386.7 L954.0,1386.7 L955.0,1386.7 L956.0,1386.7 L957.0,1386.7 L958.0,1386.7 L959.0,1386.7 L960.0,1386.7 L961.0,1386.7 L962.0,1386.7 L963.0,1386.7 L964.0,1386.7 L965.0,1386.7 L966.0,1386.7 L967.0,1386.7 L968.0,1386.7 L969.0,1386.7 L970.0,1386.7 L971.0,1386.7 L972.0,1386.7 L973.0,1386.7 L974.0,1386.7 L975.0,1386.7 L976.0,1386.7 L977.0,1386.7 L978.0,1386.7 L979.0,1386.7 L979.7,1386.7" fill="none" stroke="#1f77b4" stroke-width="5.45" stroke-linejoin="round" stroke-linecap="square"/>
<path d="M176.0,1386.7 L177.0,1386.7 L178.0,1386.7 L179.0,1386.7 L180.0,1386.7 L181.0,1386.7 L182.0,1386.7 L183.0,1386.7 L184.0,1386.7 L185.0,1386.7 L186.0,1386.7 L187.0,1386.7 L188.0,1386.7 L189.0,1386.7 L190.0,1386.7 L191.0,1386.7 L192.0,1386.7 L193.0,1386.7 L194.0,1386.7 L195.0,1386.7 L196.0,1386.7 L197.0,1386.7 L198.0,1386.7 L199.0,1386.7 L200.0,1386.7 L201.0,1386.7 L202.0,1386.7 L203.0,1386.7 L204.0,1386.7 L205.0,1386.7 L206.0,1386.7 L207.0,1386.7 L208.0,1386.7 L209.0,1386.7 L210.0,1386.7 L211.0,1386.7 L212.0,1386.7 L213.0,1386.7 L214.0,1386.7 L215.0,1386.7 L216.0,1386.7 L217.0,1386.7 L218.0,1386.7 L219.0,1386.7 L220.0,1386.7 L221.0,1386.7 L222.0,1386.7 L223.0,1386.7 L224.0,1386.7 L225.0,1386.7 L226.0,1386.7 L227.0,1386.7 L228.0,1386.7 L229.0,1386.7 L230.0,1386.7 L231.0,1386.7 L232.0,1386.7 L233.0,1386.7 L234.0,1386.7 L235.0,1386.7 L236.0,1386.7 L237.0,1386.7 L238.0,1386.7 L239.0,1386.7 L240.0,1386.7 L241.0,1386.7 L242.0,1386.7 L243.0,1386.7 L244.0,1386.7 L245.0,1386.7 L246.0,1386.7 L247.0,1386.7 L248.0,1386.7 L249.0,1386.7 L250.0,1386.7 L251.0,1386.7 L252.0,1386.7 L253.0,1386.7 L254.0,1386.7 L255.0,1386.7 L256.0,1386.7 L257.0,1386.7 L258.0,1386.7 L259.0,1386.7 L260.0,1386.7 L261.0,1386.7 L262.0,1386.7 L263.0,1386.7 L264.0,1386.7 L265.0,1386.7 L266.0,1386.7 L267.0,1386.7 L268.0,1386.7 L269.0,1386.7 L270.0,1386.7 L271.0,1386.7 L272.0,1386.7 L273.0,1386.7 L274.0,1386.7 L275.0,1386.7 L276.0,1386.7 L277.0,1386.7 L278.0,1386.7 L279.0,1386.7 L280.0,1386.7 L281.0,1386.7 L282.0,1386.7 L283.0,1386.7 L284.0,1386.7 L285.0,1386.6 L286.0,1386.6 L287.0,1386.6 L288.0,1386.6 L289.0,1386.6 L290.0,1386.6 L291.0,1386.6 L292.0,1386.6 L293.0,1386.6 L294.0,1386.6 L295.0,1386.6 L296.0,1386.5 L297.0,1386.5 L298.0,1386.5 L299.0,1386.5 L300.0,1386.5 L301.0,1386.4 L302.0,1386.4 L303.0,1386.4 L304.0,1386.4 L305.0,1386.3 L306.0,1386.3 L307.0,1386.3 L308.0,1386.2 L309.0,1386.2 L310.0,1386.1 L311.0,1386.1 L312.0,1386.0 L313.0,1386.0 L314.0,1385.9 L315.0,1385.9 L316.0,1385.8 L317.0,1385.7 L318.0,1385.7 L319.0,1385.6 L320.0,1385.5 L321.0,1385.4 L322.0,1385.3 L323.0,1385.3 L324.0,1385.2 L325.0,1385.1 L326.0,1384.9 L327.0,1384.8 L328.0,1384.7 L329.0,1384.6 L330.0,1384.5 L331.0,1384.3 L332.0,1384.2 L333.0,1384.0 L334.0,1383.9 L335.0,1383.7 L336.0,1383.6 L337.0,1383.4 L338.0,1383.2 L339.0,1383.0 L340.0,1382.8 L341.0,1382.6 L342.0,1382.4 L343.0,1382.2 L344.0,1382.0 L345.0,1381.8 L346.0,1381.6 L347.0,1381.4 L348.0,1381.2 L349.0,1381.0 L350.0,1380.7 L351.0,1380.5 L352.0,1380.3 L353.0,1380.0 L354.0,1379.8 L355.0,1379.6 L356.0,1379.3 L357.0,1379.1 L358.0,1378.8 L359.0,1378.6 L360.0,1378.4 L361.0,1378.1 L362.0,1377.9 L363.0,1377.7 L364.0,1377.5 L365.0,1377.3 L366.0,1377.0 L367.0,1376.8 L368.0,1376.6 L369.0,1376.5 L370.0,1376.3 L371.0,1376.1 L372.0,1375.9 L373.0,1375.8 L374.0,1375.6 L375.0,1375.5 L376.0,1375.3 L377.0,1375.2 L378.0,1375.1 L379.0,1375.0 L380.0,1374.9 L381.0,1374.9 L382.0,1374.8 L383.0,1374.8 L384.0,1374.7 L385.0,1374.7 L386.0,1374.7 L387.0,1374.7 L388.0,1374.7 L389.0,1374.8 L390.0,1374.8 L391.0,1374.9 L392.0,1374.9 L393.0,1375.0 L394.0,1375.1 L395.0,1375.1 L396.0,1375.2 L397.0,1375.3 L398.0,1375.4 L399.0,1375.5 L400.0,1375.6 L401.0,1375.7 L402.0,1375.8 L403.0,1375.9 L404.0,1376.0 L405.0,1376.1 L406.0,1376.2 L407.0,1376.3 L408.0,1376.4 L409.0,1376.6 L410.0,1376.7 L411.0,1376.8 L412.0,1376.9 L413.0,1377.0 L414.0,1377.2 L415.0,1377.3 L416.0,1377.4 L417.0,1377.5 L418.0,1377.7 L419.0,1377.8 L420.0,1377.9 L421.0,1378.1 L422.0,1378.2 L423.0,1378.3 L424.0,1378.5 L425.0,1378.6 L426.0,1378.7 L427.0,1378.8 L428.0,1379.0 L429.0,1379.1 L430.0,1379.2 L431.0,1379.4 L432.0,1379.5 L433.0,1379.6 L434.0,1379.7 L435.0,1379.9 L436.0,1380.0 L437.0,1380.1 L438.0,1380.2 L439.0,1380.4 L440.0,1380.5 L441.0,1380.6 L442.0,1380.7 L443.0,1380.8 L444.0,1381.0 L445.0,1381.1 L446.0,1381.2 L447.0,1381.3 L448.0,1381.4 L449.0,1381.5 L450.0,1381.6 L451.0,1381.8 L452.0,1381.9 L453.0,1382.0 L454.0,1382.1 L455.0,1382.2 L456.0,1382.3 L457.0,1382.4 L458.0,1382.5 L459.0,1382.6 L460.0,1382.7 L461.0,1382.8 L462.0,1382.9 L463.0,1382.9 L464.0,1383.0 L465.0,1383.1 L466.0,1383.2 L467.0,1383.3 L468.0,1383.4 L469.0,1383.5 L470.0,1383.5 L471.0,1383.6 L472.0,1383.7 L473.0,1383.8 L474.0,1383.8 L475.0,1383.9 L476.0,1384.0 L477.0,1384.1 L478.0,1384.1 L479.0,1384.2 L480.0,1384.3 L481.0,1384.3 L482.0,1384.4 L483.0,1384.5 L484.0,1384.5 L485.0,1384.6 L486.0,1384.6 L487.0,1384.7 L488.0,1384.8 L489.0,1384.8 L490.0,1384.9 L491.0,1384.9 L492.0,1385.0 L493.0,1385.0 L494.0,1385.1 L495.0,1385.1 L496.0,1385.2 L497.0,1385.2 L498.0,1385.2 L499.0,1385.3 L500.0,1385.3 L501.0,1385.4 L502.0,1385.4 L503.0,1385.5 L504.0,1385.5 L505.0,1385.5 L506.0,1385.6 L507.0,1385.6 L508.0,1385.6 L509.0,1385.7 L510.0,1385.7 L511.0,1385.7 L512.0,1385.8 L513.0,1385.8 L514.0,1385.8 L515.0,1385.9 L516.0,1385.9 L517.0,1385.9 L518.0,1385.9 L519.0,1386.0 L520.0,1386.0 L521.0,1386.0 L522.0,1386.0 L523.0,1386.0 L524.0,1386.1 L525.0,1386.1 L526.0,1386.1 L527.0,1386.1 L528.0,1386.2 L529.0,1386.2 L530.0,1386.2 L531.0,1386.2 L532.0,1386.2 L533.0,1386.2 L534.0,1386.3 L535.0,1386.3 L536.0,1386.3 L537.0,1386.3 L538.0,1386.3 L539.0,1386.3 L540.0,1386.3 L541.0,1386.4 L542.0,1386.4 L543.0,1386.4 L544.0,1386.4 L545.0,1386.4 L546.0,1386.4 L547.0,1386.4 L548.0,1386.4 L549.0,1386.4 L550.0,1386.5 L551.0,1386.5 L552.0,1386.5 L553.0,1386.5 L554.0,1386.5 L555.0,1386.5 L556.0,1386.5 L557.0,1386.5 L558.0,1386.5 L559.0,1386.5 L560.0,1386.5 L561.0,1386.5 L562.0,1386.5 L563.0,1386.6 L564.0,1386.6 L565.0,1386.6 L566.0,1386.6 L567.0,1386.6 L568.0,1386.6 L569.0,1386.6 L570.0,1386.6 L571.0,1386.6 L572.0,1386.6 L573.0,1386.6 L574.0,1386.6 L575.0,1386.6 L576.0,1386.6 L577.0,1386.6 L578.0,1386.6 L579.0,1386.6 L580.0,1386.6 L581.0,1386.6 L582.0,1386.6 L583.0,1386.6 L584.0,1386.6 L585.0,1386.6 L586.0,1386.6 L587.0,1386.6 L588.0,1386.6 L589.0,1386.6 L590.0,1386.7 L591.0,1386.7 L592.0,1386.7 L593.0,1386.7 L594.0,1386.7 L595.0,1386.7 L596.0,1386.7 L597.0,1386.7 L598.0,1386.7 L599.0,1386.7 L600.0,1386.7 L601.0,1386.7 L602.0,1386.7 L603.0,1386.7 L604.0,1386.7 L605.0,1386.7 L606.0,1386.7 L607.0,1386.7 L608.0,1386.7 L609.0,1386.7 L610.0,1386.7 L611.0,1386.7 L612.0,1386.7 L613.0,1386.7 L614.0,1386.7 L615.0,1386.7 L616.0,1386.7 L617.0,1386.7 L618.0,1386.7 L619.0,1386.7 L620.0,1386.7 L621.0,1386.7 L622.0,1386.7 L623.0,1386.7 L624.0,1386.7 L625.0,1386.7 L626.0,1386.7 L627.0,1386.7 L628.0,1386.7 L629.0,1386.7 L630.0,1386.7 L631.0,1386.7 L632.0,1386.7 L633.0,1386.7 L634.0,1386.7 L635.0,1386.7 L636.0,1386.7 L637.0,1386.7 L638.0,1386.7 L639.0,1386.7 L640.0,1386.7 L641.0,1386.7 L642.0,1386.7 L643.0,1386.7 L644.0,1386.7 L645.0,1386.7 L646.0,1386.7 L647.0,1386.7 L648.0,1386.7 L649.0,1386.7 L650.0,1386.7 L651.0,1386.7 L652.0,1386.7 L653.0,1386.7 L654.0,1386.7 L655.0,1386.7 L656.0,1386.7 L657.0,1386.7 L658.0,1386.7 L659.0,1386.7 L660.0,1386.7 L661.0,1386.7 L662.0,1386.7 L663.0,1386.7 L664.0,1386.7 L665.0,1386.7 L666.0,1386.7 L667.0,1386.7 L668.0,1386.7 L669.0,1386.7 L670.0,1386.7 L671.0,1386.7 L672.0,1386.7 L673.0,1386.7 L674.0,1386.7 L675.0,1386.7 L676.0,1386.7 L677.0,1386.7 L678.0,1386.7 L679.0,1386.7 L680.0,1386.7 L681.0,1386.7 L682.0,1386.7 L683.0,1386.7 L684.0,1386.7 L685.0,1386.7 L686.0,1386.7 L687.0,1386.7 L688.0,1386.7 L689.0,1386.7 L690.0,1386.7 L691.0,1386.7 L692.0,1386.7 L693.0,1386.7 L694.0,1386.7 L695.0,1386.7 L696.0,1386.7 L697.0,1386.7 L698.0,1386.7 L699.0,1386.7 L700.0,1386.7 L701.0,1386.7 L702.0,1386.7 L703.0,1386.7 L704.0,1386.7 L705.0,1386.7 L706.0,1386.7 L707.0,1386.7 L708.0,1386.7 L709.0,1386.7 L710.0,1386.7 L711.0,1386.7 L712.0,1386.7 L713.0,1386.7 L714.0,1386.7 L715.0,1386.7 L716.0,1386.7 L717.0,1386.7 L718.0,1386.7 L719.0,1386.7 L720.0,1386.7 L721.0,1386.7 L722.0,1386.7 L723.0,1386.7 L724.0,1386.7 L725.0,1386.7 L726.0,1386.7 L727.0,1386.7 L728.0,1386.7 L729.0,1386.7 L730.0,1386.7 L731.0,1386.7 L732.0,1386.7 L733.0,1386.7 L734.0,1386.7 L735.0,1386.7 L736.0,1386.7 L737.0,1386.7 L738.0,1386.7 L739.0,1386.7 L740.0,1386.7 L741.0,1386.7 L742.0,1386.7 L743.0,1386.7 L744.0,1386.7 L745.0,1386.7 L746.0,1386.7 L747.0,1386.7 L748.0,1386.7 L749.0,1386.7 L750.0,1386.7 L751.0,1386.7 L752.0,1386.7 L753.0,1386.7 L754.0,1386.7 L755.0,1386.7 L756.0,1386.7 L757.0,1386.7 L758.0,1386.7 L759.0,1386.7 L760.0,1386.7 L761.0,1386.7 L762.0,1386.7 L763.0,1386.7 L764.0,1386.7 L765.0,1386.7 L766.0,1386.7 L767.0,1386.7 L768.0,1386.7 L769.0,1386.7 L770.0,1386.7 L771.0,1386.7 L772.0,1386.7 L773.0,1386.7 L774.0,1386.7 L775.0,1386.7 L776.0,1386.7 L777.0,1386.7 L778.0,1386.7 L779.0,1386.7 L780.0,1386.7 L781.0,1386.7 L782.0,1386.7 L783.0,1386.7 L784.0,1386.7 L785.0,1386.7 L786.0,1386.7 L787.0,1386.7 L788.0,1386.7 L789.0,1386.7 L790.0,1386.7 L791.0,1386.7 L792.0,1386.7 L793.0,1386.7 L794.0,1386.7 L795.0,1386.7 L796.0,1386.7 L797.0,1386.7 L798.0,1386.7 L799.0,1386.7 L800.0,1386.7 L801.0,1386.7 L802.0,1386.7 L803.0,1386.7 L804.0,1386.7 L805.0,1386.7 L806.0,1386.7 L807.0,1386.7 L808.0,1386.7 L809.0,1386.7 L810.0,1386.7 L811.0,1386.7 L812.0,1386.7 L813.0,1386.7 L814.0,1386.7 L815.0,1386.7 L816.0,1386.7 L817.0,1386.7 L818.0,1386.7 L819.0,1386.7 L820.0,1386.7 L821.0,1386.7 L822.0,1386.7 L823.0,1386.7 L824.0,1386.7 L825.0,1386.7 L826.0,1386.7 L827.0,1386.7 L828.0,1386.7 L829.0,1386.7 L830.0,1386.7 L831.0,1386.7 L832.0,1386.7 L833.0,1386.7 L834.0,1386.7 L835.0,1386.7 L836.0,1386.7 L837.0,1386.7 L838.0,1386.7 L839.0,1386.7 L840.0,1386.7 L841.0,1386.7 L842.0,1386.7 L843.0,1386.7 L844.0,1386.7 L845.0,1386.7 L846.0,1386.7 L847.0,1386.7 L848.0,1386.7 L849.0,1386.7 L850.0,1386.7 L851.0,1386.7 L852.0,1386.7 L853.0,1386.7 L854.0,1386.7 L855.0,1386.7 L856.0,1386.7 L857.0,1386.7 L858.0,1386.7 L859.0,1386.7 L860.0,1386.7 L861.0,1386.7 L862.0,1386.7 L863.0,1386.7 L864.0,1386.7 L865.0,1386.7 L866.0,1386.7 L867.0,1386.7 L868.0,1386.7 L869.0,1386.7 L870.0,1386.7 L871.0,1386.7 L872.0,1386.7 L873.0,1386.7 L874.0,1386.7 L875.0,1386.7 L876.0,1386.7 L877.0,1386.7 L878.0,1386.7 L879.0,1386.7 L880.0,1386.7 L881.0,1386.7 L882.0,1386.7 L883.0,1386.7 L884.0,1386.7 L885.0,1386.7 L886.0,1386.7 L887.0,1386.7 L888.0,1386.7 L889.0,1386.7 L890.0,1386.7 L891.0,1386.7 L892.0,1386.7 L893.0,1386.7 L894.0,1386.7 L895.0,1386.7 L896.0,1386.7 L897.0,1386.7 L898.0,1386.7 L899.0,1386.7 L900.0,1386.7 L901.0,1386.7 L902.0,1386.7 L903.0,1386.7 L904.0,1386.7 L905.0,1386.7 L906.0,1386.7 L907.0,1386.7 L908.0,1386.7 L909.0,1386.7 L910.0,1386.7 L911.0,1386.7 L912.0,1386.7 L913.0,1386.7 L914.0,1386.7 L915.0,1386.7 L916.0,1386.7 L917.0,1386.7 L918.0,1386.7 L919.0,1386.7 L920.0,1386.7 L921.0,1386.7 L922.0,1386.7 L923.0,1386.7 L924.0,1386.7 L925.0,1386.7 L926.0,1386.7 L927.0,1386.7 L928.0,1386.7 L929.0,1386.7 L930.0,1386.7 L931.0,1386.7 L932.0,1386.7 L933.0,1386.7 L934.0,1386.7 L935.0,1386.7 L936.0,1386.7 L937.0,1386.7 L938.0,1386.7 L939.0,1386.7 L940.0,1386.7 L941.0,1386.7 L942.0,1386.7 L943.0,1386.7 L944.0,1386.7 L945.0,1386.7 L946.0,1386.7 L947.0,1386.7 L948.0,1386.7 L949.0,1386.7 L950.0,1386.7 L951.0,1386.7 L952.0,1386.7 L953.0,1386.7 L954.0,1386.7 L955.0,1386.7 L956.0,1386.7 L957.0,1386.7 L958.0,1386.7 L959.0,1386.7 L960.0,1386.7 L961.0,1386.7 L962.0,1386.7 L963.0,1386.7 L964.0,1386.7 L965.0,1386.7 L966.0,1386.7 L967.0,1386.7 L968.0,1386.7 L969.0,1386.7 L970.0,1386.7 L971.0,1386.7 L972.0,1386.7 L973.0,1386.7 L974.0,1386.7 L975.0,1386.7 L976.0,1386.7 L977.0,1386.7 L978.0,1386.7 L979.0,1386.7 L979.7,1386.7" fill="none" stroke="#ff7f0e" stroke-width="5.45" stroke-linejoin="round" stroke-linecap="square"/>
<path d="M176.0,1386.7 L177.0,1386.7 L178.0,1386.7 L179.0,1386.7 L180.0,1386.7 L181.0,1386.7 L182.0,1386.7 L183.0,1386.7 L184.0,1386.7 L185.0,1386.7 L186.0,1386.7 L187.0,1386.7 L188.0,1386.7 L189.0,1386.7 L190.0,1386.7 L191.0,1386.7 L192.0,1386.7 L193.0,1386.7 L194.0,1386.7 L195.0,1386.7 L196.0,1386.7 L197.0,1386.7 L198.0,1386.7 L199.0,1386.7 L200.0,1386.7 L201.0,1386.7 L202.0,1386.7 L203.0,1386.7 L204.0,1386.7 L205.0,1386.7 L206.0,1386.7 L207.0,1386.7 L208.0,1386.7 L209.0,1386.7 L210.0,1386.7 L211.0,1386.7 L212.0,1386.7 L213.0,1386.7 L214.0,1386.7 L215.0,1386.7 L216.0,1386.7 L217.0,1386.7 L218.0,1386.7 L219.0,1386.7 L220.0,1386.7 L221.0,1386.7 L222.0,1386.7 L223.0,1386.7 L224.0,1386.7 L225.0,1386.7 L226.0,1386.7 L227.0,1386.7 L228.0,1386.7 L229.0,1386.7 L230.0,1386.7 L231.0,1386.7 L232.0,1386.7 L233.0,1386.7 L234.0,1386.7 L235.0,1386.7 L236.0,1386.7 L237.0,1386.7 L238.0,1386.7 L239.0,1386.7 L240.0,1386.7 L241.0,1386.7 L242.0,1386.7 L243.0,1386.7 L244.0,1386.7 L245.0,1386.7 L246.0,1386.7 L247.0,1386.7 L248.0,1386.7 L249.0,1386.7 L250.0,1386.7 L251.0,1386.7 L252.0,1386.7 L253.0,1386.7 L254.0,1386.6 L255.0,1386.6 L256.0,1386.6 L257.0,1386.6 L258.0,1386.6 L259.0,1386.6 L260.0,1386.6 L261.0,1386.6 L262.0,1386.6 L263.0,1386.6 L264.0,1386.6 L265.0,1386.6 L266.0,1386.6 L267.0,1386.6 L268.0,1386.6 L269.0,1386.6 L270.0,1386.6 L271.0,1386.6 L272.0,1386.5 L273.0,1386.5 L274.0,1386.5 L275.0,1386.5 L276.0,1386.5 L277.0,1386.5 L278.0,1386.5 L279.0,1386.5 L280.0,1386.5 L281.0,1386.4 L282.0,1386.4 L283.0,1386.4 L284.0,1386.4 L285.0,1386.4 L286.0,1386.4 L287.0,1386.3 L288.0,1386.3 L289.0,1386.3 L290.0,1386.3 L291.0,1386.2 L292.0,1386.2 L293.0,1386.2 L294.0,1386.2 L295.0,1386.1 L296.0,1386.1 L297.0,1386.1 L298.0,1386.0 L299.0,1386.0 L300.0,1386.0 L301.0,1385.9 L302.0,1385.9 L303.0,1385.8 L304.0,1385.8 L305.0,1385.7 L306.0,1385.7 L307.0,1385.6 L308.0,1385.5 L309.0,1385.5 L310.0,1385.4 L311.0,1385.4 L312.0,1385.3 L313.0,1385.2 L314.0,1385.1 L315.0,1385.0 L316.0,1384.9 L317.0,1384.9 L318.0,1384.8 L319.0,1384.7 L320.0,1384.5 L321.0,1384.4 L322.0,1384.3 L323.0,1384.2 L324.0,1384.1 L325.0,1383.9 L326.0,1383.8 L327.0,1383.6 L328.0,1383.5 L329.0,1383.3 L330.0,1383.2 L331.0,1383.0 L332.0,1382.8 L333.0,1382.6 L334.0,1382.4 L335.0,1382.2 L336.0,1382.0 L337.0,1381.7 L338.0,1381.5 L339.0,1381.2 L340.0,1381.0 L341.0,1380.7 L342.0,1380.4 L343.0,1380.1 L344.0,1379.8 L345.0,1379.5 L346.0,1379.1 L347.0,1378.8 L348.0,1378.4 L349.0,1378.0 L350.0,1377.6 L351.0,1377.2 L352.0,1376.7 L353.0,1376.3 L354.0,1375.8 L355.0,1375.3 L356.0,1374.8 L357.0,1374.3 L358.0,1373.7 L359.0,1373.2 L360.0,1372.6 L361.0,1371.9 L362.0,1371.3 L363.0,1370.6 L364.0,1369.9 L365.0,1369.2 L366.0,1368.5 L367.0,1367.7 L368.0,1366.9 L369.0,1366.1 L370.0,1365.2 L371.0,1364.3 L372.0,1363.4 L373.0,1362.4 L374.0,1361.4 L375.0,1360.4 L376.0,1359.3 L377.0,1358.2 L378.0,1357.1 L379.0,1355.9 L380.0,1354.7 L381.0,1353.5 L382.0,1352.2 L383.0,1350.8 L384.0,1349.4 L385.0,1348.0 L386.0,1346.5 L387.0,1345.0 L388.0,1343.5 L389.0,1341.9 L390.0,1340.2 L391.0,1338.5 L392.0,1336.7 L393.0,1334.9 L394.0,1333.0 L395.0,1331.1 L396.0,1329.2 L397.0,1327.1 L398.0,1325.0 L399.0,1322.9 L400.0,1320.7 L401.0,1318.4 L402.0,1316.1 L403.0,1313.7 L404.0,1311.3 L405.0,1308.8 L406.0,1306.2 L407.0,1303.6 L408.0,1300.9 L409.0,1298.2 L410.0,1295.4 L411.0,1292.5 L412.0,1289.6 L413.0,1286.6 L414.0,1283.5 L415.0,1280.3 L416.0,1277.1 L417.0,1273.9 L418.0,1270.6 L419.0,1267.2 L420.0,1263.7 L421.0,1260.2 L422.0,1256.6 L423.0,1253.0 L424.0,1249.3 L425.0,1245.5 L426.0,1241.7 L427.0,1237.8 L428.0,1233.8 L429.0,1229.8 L430.0,1225.8 L431.0,1221.7 L432.0,1217.5 L433.0,1213.3 L434.0,1209.1 L435.0,1204.8 L436.0,1200.5 L437.0,1196.1 L438.0,1191.7 L439.0,1187.2 L440.0,1182.7 L441.0,1178.2 L442.0,1173.7 L443.0,1169.2 L444.0,1164.6 L445.0,1160.0 L446.0,1155.4 L447.0,1150.8 L448.0,1146.3 L449.0,1141.7 L450.0,1137.1 L451.0,1132.6 L452.0,1128.0 L453.0,1123.5 L454.0,1119.1 L455.0,1114.6 L456.0,1110.3 L457.0,1105.9 L458.0,1101.7 L459.0,1097.5 L460.0,1093.4 L461.0,1089.4 L462.0,1085.5 L463.0,1081.6 L464.0,1078.0 L465.0,1074.4 L466.0,1071.0 L467.0,1067.7 L468.0,1064.6 L469.0,1061.7 L470.0,1059.0 L471.0,1056.6 L472.0,1054.3 L473.0,1052.4 L474.0,1050.8 L475.0,1049.6 L476.0,1049.0 L477.0,1049.1 L478.0,1049.6 L479.0,1050.5 L480.0,1051.8 L481.0,1053.5 L482.0,1055.7 L483.0,1058.4 L484.0,1061.6 L485.0,1065.2 L486.0,1069.3 L487.0,1073.8 L488.0,1078.9 L489.0,1084.3 L490.0,1090.2 L491.0,1096.4 L492.0,1103.1 L493.0,1110.0 L494.0,1117.4 L495.0,1125.0 L496.0,1132.8 L497.0,1140.9 L498.0,1149.2 L499.0,1157.6 L500.0,1166.2 L501.0,1174.9 L502.0,1183.6 L503.0,1192.4 L504.0,1201.1 L505.0,1209.8 L506.0,1218.5 L507.0,1227.1 L508.0,1235.5 L509.0,1243.8 L510.0,1251.9 L511.0,1259.8 L512.0,1267.5 L513.0,1275.0 L514.0,1282.2 L515.0,1289.2 L516.0,1295.9 L517.0,1302.4 L518.0,1308.5 L519.0,1314.4 L520.0,1319.9 L521.0,1325.2 L522.0,1330.2 L523.0,1334.9 L524.0,1339.3 L525.0,1343.4 L526.0,1347.3 L527.0,1350.9 L528.0,1354.2 L529.0,1357.3 L530.0,1360.2 L531.0,1362.8 L532.0,1365.3 L533.0,1367.5 L534.0,1369.5 L535.0,1371.4 L536.0,1373.1 L537.0,1374.6 L538.0,1376.0 L539.0,1377.2 L540.0,1378.4 L541.0,1379.4 L542.0,1380.3 L543.0,1381.1 L544.0,1381.8 L545.0,1382.4 L546.0,1383.0 L547.0,1383.5 L548.0,1383.9 L549.0,1384.3 L550.0,1384.6 L551.0,1384.9 L552.0,1385.2 L553.0,1385.4 L554.0,1385.6 L555.0,1385.8 L556.0,1385.9 L557.0,1386.0 L558.0,1386.1 L559.0,1386.2 L560.0,1386.3 L561.0,1386.4 L562.0,1386.4 L563.0,1386.5 L564.0,1386.5 L565.0,1386.5 L566.0,1386.6 L567.0,1386.6 L568.0,1386.6 L569.0,1386.6 L570.0,1386.6 L571.0,1386.7 L572.0,1386.7 L573.0,1386.7 L574.0,1386.7 L575.0,1386.7 L576.0,1386.7 L577.0,1386.7 L578.0,1386.7 L579.0,1386.7 L580.0,1386.7 L581.0,1386.7 L582.0,1386.7 L583.0,1386.7 L584.0,1386.7 L585.0,1386.7 L586.0,1386.7 L587.0,1386.7 L588.0,1386.7 L589.0,1386.7 L590.0,1386.7 L591.0,1386.7 L592.0,1386.7 L593.0,1386.7 L594.0,1386.7 L595.0,1386.7 L596.0,1386.7 L597.0,1386.7 L598.0,1386.7 L599.0,1386.7 L600.0,1386.7 L601.0,1386.7 L602.0,1386.7 L603.0,1386.7 L604.0,1386.7 L605.0,1386.7 L606.0,1386.7 L607.0,1386.7 L608.0,1386.7 L609.0,1386.7 L610.0,1386.7 L611.0,1386.7 L612.0,1386.7 L613.0,1386.7 L614.0,1386.7 L615.0,1386.7 L616.0,1386.7 L617.0,1386.7 L618.0,1386.7 L619.0,1386.7 L620.0,1386.7 L621.0,1386.7 L622.0,1386.7 L623.0,1386.7 L624.0,1386.7 L625.0,1386.7 L626.0,1386.7 L627.0,1386.7 L628.0,1386.7 L629.0,1386.7 L630.0,1386.7 L631.0,1386.7 L632.0,1386.7 L633.0,1386.7 L634.0,1386.7 L635.0,1386.7 L636.0,1386.7 L637.0,1386.7 L638.0,1386.7 L639.0,1386.7 L640.0,1386.7 L641.0,1386.7 L642.0,1386.7 L643.0,1386.7 L644.0,1386.7 L645.0,1386.7 L646.0,1386.7 L647.0,1386.7 L648.0,1386.7 L649.0,1386.7 L650.0,1386.7 L651.0,1386.7 L652.0,1386.7 L653.0,1386.7 L654.0,1386.7 L655.0,1386.7 L656.0,1386.7 L657.0,1386.7 L658.0,1386.7 L659.0,1386.7 L660.0,1386.7 L661.0,1386.7 L662.0,1386.7 L663.0,1386.7 L664.0,1386.7 L665.0,1386.7 L666.0,1386.7 L667.0,1386.7 L668.0,1386.7 L669.0,1386.7 L670.0,1386.7 L671.0,1386.7 L672.0,1386.7 L673.0,1386.7 L674.0,1386.7 L675.0,1386.7 L676.0,1386.7 L677.0,1386.7 L678.0,1386.7 L679.0,1386.7 L680.0,1386.7 L681.0,1386.7 L682.0,1386.7 L683.0,1386.7 L684.0,1386.7 L685.0,1386.7 L686.0,1386.7 L687.0,1386.7 L688.0,1386.7 L689.0,1386.7 L690.0,1386.7 L691.0,1386.7 L692.0,1386.7 L693.0,1386.7 L694.0,1386.7 L695.0,1386.7 L696.0,1386.7 L697.0,1386.7 L698.0,1386.7 L699.0,1386.7 L700.0,1386.7 L701.0,1386.7 L702.0,1386.7 L703.0,1386.7 L704.0,1386.7 L705.0,1386.7 L706.0,1386.7 L707.0,1386.7 L708.0,1386.7 L709.0,1386.7 L710.0,1386.7 L711.0,1386.7 L712.0,1386.7 L713.0,1386.7 L714.0,1386.7 L715.0,1386.7 L716.0,1386.7 L717.0,1386.7 L718.0,1386.7 L719.0,1386.7 L720.0,1386.7 L721.0,1386.7 L722.0,1386.7 L723.0,1386.7 L724.0,1386.7 L725.0,1386.7 L726.0,1386.7 L727.0,1386.7 L728.0,1386.7 L729.0,1386.7 L730.0,1386.7 L731.0,1386.7 L732.0,1386.7 L733.0,1386.7 L734.0,1386.7 L735.0,1386.7 L736.0,1386.7 L737.0,1386.7 L738.0,1386.7 L739.0,1386.7 L740.0,1386.7 L741.0,1386.7 L742.0,1386.7 L743.0,1386.7 L744.0,1386.7 L745.0,1386.7 L746.0,1386.7 L747.0,1386.7 L748.0,1386.7 L749.0,1386.7 L750.0,1386.7 L751.0,1386.7 L752.0,1386.7 L753.0,1386.7 L754.0,1386.7 L755.0,1386.7 L756.0,1386.7 L757.0,1386.7 L758.0,1386.7 L759.0,1386.7 L760.0,1386.7 L761.0,1386.7 L762.0,1386.7 L763.0,1386.7 L764.0,1386.7 L765.0,1386.7 L766.0,1386.7 L767.0,1386.7 L768.0,1386.7 L769.0,1386.7 L770.0,1386.7 L771.0,1386.7 L772.0,1386.7 L773.0,1386.7 L774.0,1386.7 L775.0,1386.7 L776.0,1386.7 L777.0,1386.7 L778.0,1386.7 L779.0,1386.7 L780.0,1386.7 L781.0,1386.7 L782.0,1386.7 L783.0,1386.7 L784.0,1386.7 L785.0,1386.7 L786.0,1386.7 L787.0,1386.7 L788.0,1386.7 L789.0,1386.7 L790.0,1386.7 L791.0,1386.7 L792.0,1386.7 L793.0,1386.7 L794.0,1386.7 L795.0,1386.7 L796.0,1386.7 L797.0,1386.7 L798.0,1386.7 L799.0,1386.7 L800.0,1386.7 L801.0,1386.7 L802.0,1386.7 L803.0,1386.7 L804.0,1386.7 L805.0,1386.7 L806.0,1386.7 L807.0,1386.7 L808.0,1386.7 L809.0,1386.7 L810.0,1386.7 L811.0,1386.7 L812.0,1386.7 L813.0,1386.7 L814.0,1386.7 L815.0,1386.7 L816.0,1386.7 L817.0,1386.7 L818.0,1386.7 L819.0,1386.7 L820.0,1386.7 L821.0,1386.7 L822.0,1386.7 L823.0,1386.7 L824.0,1386.7 L825.0,1386.7 L826.0,1386.7 L827.0,1386.7 L828.0,1386.7 L829.0,1386.7 L830.0,1386.7 L831.0,1386.7 L832.0,1386.7 L833.0,1386.7 L834.0,1386.7 L835.0,1386.7 L836.0,1386.7 L837.0,1386.7 L838.0,1386.7 L839.0,1386.7 L840.0,1386.7 L841.0,1386.7 L842.0,1386.7 L843.0,1386.7 L844.0,1386.7 L845.0,1386.7 L846.0,1386.7 L847.0,1386.7 L848.0,1386.7 L849.0,1386.7 L850.0,1386.7 L851.0,1386.7 L852.0,1386.7 L853.0,1386.7 L854.0,1386.7 L855.0,1386.7 L856.0,1386.7 L857.0,1386.7 L858.0,1386.7 L859.0,1386.7 L860.0,1386.7 L861.0,1386.7 L862.0,1386.7 L863.0,1386.7 L864.0,1386.7 L865.0,1386.7 L866.0,1386.7 L867.0,1386.7 L868.0,1386.7 L869.0,1386.7 L870.0,1386.7 L871.0,1386.7 L872.0,1386.7 L873.0,1386.7 L874.0,1386.7 L875.0,1386.7 L876.0,1386.7 L877.0,1386.7 L878.0,1386.7 L879.0,1386.7 L880.0,1386.7 L881.0,1386.7 L882.0,1386.7 L883.0,1386.7 L884.0,1386.7 L885.0,1386.7 L886.0,1386.7 L887.0,1386.7 L888.0,1386.7 L889.0,1386.7 L890.0,1386.7 L891.0,1386.7 L892.0,1386.7 L893.0,1386.7 L894.0,1386.7 L895.0,1386.7 L896.0,1386.7 L897.0,1386.7 L898.0,1386.7 L899.0,1386.7 L900.0,1386.7 L901.0,1386.7 L902.0,1386.7 L903.0,1386.7 L904.0,1386.7 L905.0,1386.7 L906.0,1386.7 L907.0,1386.7 L908.0,1386.7 L909.0,1386.7 L910.0,1386.7 L911.0,1386.7 L912.0,1386.7 L913.0,1386.7 L914.0,1386.7 L915.0,1386.7 L916.0,1386.7 L917.0,1386.7 L918.0,1386.7 L919.0,1386.7 L920.0,1386.7 L921.0,1386.7 L922.0,1386.7 L923.0,1386.7 L924.0,1386.7 L925.0,1386.7 L926.0,1386.7 L927.0,1386.7 L928.0,1386.7 L929.0,1386.7 L930.0,1386.7 L931.0,1386.7 L932.0,1386.7 L933.0,1386.7 L934.0,1386.7 L935.0,1386.7 L936.0,1386.7 L937.0,1386.7 L938.0,1386.7 L939.0,1386.7 L940.0,1386.7 L941.0,1386.7 L942.0,1386.7 L943.0,1386.7 L944.0,1386.7 L945.0,1386.7 L946.0,1386.7 L947.0,1386.7 L948.0,1386.7 L949.0,1386.7 L950.0,1386.7 L951.0,1386.7 L952.0,1386.7 L953.0,1386.7 L954.0,1386.7 L955.0,1386.7 L956.0,1386.7 L957.0,1386.7 L958.0,1386.7 L959.0,1386.7 L960.0,1386.7 L961.0,1386.7 L962.0,1386.7 L963.0,1386.7 L964.0,1386.7 L965.0,1386.7 L966.0,1386.7 L967.0,1386.7 L968.0,1386.7 L969.0,1386.7 L970.0,1386.7 L971.0,1386.7 L972.0,1386.7 L973.0,1386.7 L974.0,1386.7 L975.0,1386.7 L976.0,1386.7 L977.0,1386.7 L978.0,1386.7 L979.0,1386.7 L979.7,1386.7" fill="none" stroke="#2ca02c" stroke-width="5.45" stroke-linejoin="round" stroke-linecap="square"/>
<path d="M176.0,1386.6 L177.0,1386.6 L178.0,1386.6 L179.0,1386.6 L180.0,1386.6 L181.0,1386.6 L182.0,1386.6 L183.0,1386.6 L184.0,1386.6 L185.0,1386.6 L186.0,1386.6 L187.0,1386.6 L188.0,1386.6 L189.0,1386.6 L190.0,1386.6 L191.0,1386.6 L192.0,1386.6 L193.0,1386.6 L194.0,1386.6 L195.0,1386.6 L196.0,1386.6 L197.0,1386.6 L198.0,1386.6 L199.0,1386.6 L200.0,1386.6 L201.0,1386.6 L202.0,1386.6 L203.0,1386.5 L204.0,1386.5 L205.0,1386.5 L206.0,1386.5 L207.0,1386.5 L208.0,1386.5 L209.0,1386.5 L210.0,1386.5 L211.0,1386.5 L212.0,1386.5 L213.0,1386.5 L214.0,1386.5 L215.0,1386.5 L216.0,1386.5 L217.0,1386.5 L218.0,1386.5 L219.0,1386.5 L220.0,1386.5 L221.0,1386.5 L222.0,1386.5 L223.0,1386.5 L224.0,1386.5 L225.0,1386.5 L226.0,1386.5 L227.0,1386.5 L228.0,1386.5 L229.0,1386.5 L230.0,1386.5 L231.0,1386.5 L232.0,1386.5 L233.0,1386.5 L234.0,1386.5 L235.0,1386.5 L236.0,1386.5 L237.0,1386.4 L238.0,1386.4 L239.0,1386.4 L240.0,1386.4 L241.0,1386.4 L242.0,1386.4 L243.0,1386.4 L244.0,1386.4 L245.0,1386.4 L246.0,1386.4 L247.0,1386.4 L248.0,1386.4 L249.0,1386.4 L250.0,1386.4 L251.0,1386.4 L252.0,1386.4 L253.0,1386.4 L254.0,1386.4 L255.0,1386.4 L256.0,1386.4 L257.0,1386.4 L258.0,1386.4 L259.0,1386.3 L260.0,1386.3 L261.0,1386.3 L262.0,1386.3 L263.0,1386.3 L264.0,1386.3 L265.0,1386.3 L266.0,1386.3 L267.0,1386.3 L268.0,1386.3 L269.0,1386.3 L270.0,1386.3 L271.0,1386.3 L272.0,1386.3 L273.0,1386.3 L274.0,1386.3 L275.0,1386.3 L276.0,1386.2 L277.0,1386.2 L278.0,1386.2 L279.0,1386.2 L280.0,1386.2 L281.0,1386.2 L282.0,1386.2 L283.0,1386.2 L284.0,1386.2 L285.0,1386.2 L286.0,1386.2 L287.0,1386.2 L288.0,1386.2 L289.0,1386.1 L290.0,1386.1 L291.0,1386.1 L292.0,1386.1 L293.0,1386.1 L294.0,1386.1 L295.0,1386.1 L296.0,1386.1 L297.0,1386.1 L298.0,1386.1 L299.0,1386.1 L300.0,1386.0 L301.0,1386.0 L302.0,1386.0 L303.0,1386.0 L304.0,1386.0 L305.0,1386.0 L306.0,1386.0 L307.0,1386.0 L308.0,1386.0 L309.0,1386.0 L310.0,1385.9 L311.0,1385.9 L312.0,1385.9 L313.0,1385.9 L314.0,1385.9 L315.0,1385.9 L316.0,1385.9 L317.0,1385.9 L318.0,1385.8 L319.0,1385.8 L320.0,1385.8 L321.0,1385.8 L322.0,1385.8 L323.0,1385.8 L324.0,1385.8 L325.0,1385.7 L326.0,1385.7 L327.0,1385.7 L328.0,1385.7 L329.0,1385.7 L330.0,1385.7 L331.0,1385.7 L332.0,1385.6 L333.0,1385.6 L334.0,1385.6 L335.0,1385.6 L336.0,1385.6 L337.0,1385.6 L338.0,1385.5 L339.0,1385.5 L340.0,1385.5 L341.0,1385.5 L342.0,1385.5 L343.0,1385.4 L344.0,1385.4 L345.0,1385.4 L346.0,1385.4 L347.0,1385.4 L348.0,1385.4 L349.0,1385.3 L350.0,1385.3 L351.0,1385.3 L352.0,1385.3 L353.0,1385.2 L354.0,1385.2 L355.0,1385.2 L356.0,1385.2 L357.0,1385.2 L358.0,1385.1 L359.0,1385.1 L360.0,1385.1 L361.0,1385.1 L362.0,1385.0 L363.0,1385.0 L364.0,1385.0 L365.0,1385.0 L366.0,1384.9 L367.0,1384.9 L368.0,1384.9 L369.0,1384.8 L370.0,1384.8 L371.0,1384.8 L372.0,1384.8 L373.0,1384.7 L374.0,1384.7 L375.0,1384.7 L376.0,1384.6 L377.0,1384.6 L378.0,1384.6 L379.0,1384.5 L380.0,1384.5 L381.0,1384.5 L382.0,1384.4 L383.0,1384.4 L384.0,1384.4 L385.0,1384.3 L386.0,1384.3 L387.0,1384.3 L388.0,1384.2 L389.0,1384.2 L390.0,1384.2 L391.0,1384.1 L392.0,1384.1 L393.0,1384.0 L394.0,1384.0 L395.0,1383.9 L396.0,1383.9 L397.0,1383.9 L398.0,1383.8 L399.0,1383.8 L400.0,1383.7 L401.0,1383.7 L402.0,1383.6 L403.0,1383.6 L404.0,1383.5 L405.0,1383.5 L406.0,1383.5 L407.0,1383.4 L408.0,1383.4 L409.0,1383.3 L410.0,1383.2 L411.0,1383.2 L412.0,1383.1 L413.0,1383.1 L414.0,1383.0 L415.0,1383.0 L416.0,1382.9 L417.0,1382.9 L418.0,1382.8 L419.0,1382.7 L420.0,1382.7 L421.0,1382.6 L422.0,1382.6 L423.0,1382.5 L424.0,1382.4 L425.0,1382.4 L426.0,1382.3 L427.0,1382.2 L428.0,1382.2 L429.0,1382.1 L430.0,1382.0 L431.0,1382.0 L432.0,1381.9 L433.0,1381.8 L434.0,1381.7 L435.0,1381.7 L436.0,1381.6 L437.0,1381.5 L438.0,1381.4 L439.0,1381.3 L440.0,1381.3 L441.0,1381.2 L442.0,1381.1 L443.0,1381.0 L444.0,1380.9 L445.0,1380.8 L446.0,1380.7 L447.0,1380.7 L448.0,1380.6 L449.0,1380.5 L450.0,1380.4 L451.0,1380.3 L452.0,1380.2 L453.0,1380.1 L454.0,1380.0 L455.0,1379.9 L456.0,1379.8 L457.0,1379.7 L458.0,1379.6 L459.0,1379.5 L460.0,1379.3 L461.0,1379.2 L462.0,1379.1 L463.0,1379.0 L464.0,1378.9 L465.0,1378.8 L466.0,1378.6 L467.0,1378.5 L468.0,1378.4 L469.0,1378.3 L470.0,1378.1 L471.0,1378.0 L472.0,1377.9 L473.0,1377.7 L474.0,1377.6 L475.0,1377.5 L476.0,1377.3 L477.0,1377.2 L478.0,1377.0 L479.0,1376.9 L480.0,1376.7 L481.0,1376.6 L482.0,1376.4 L483.0,1376.3 L484.0,1376.1 L485.0,1376.0 L486.0,1375.8 L487.0,1375.6 L488.0,1375.5 L489.0,1375.3 L490.0,1375.1 L491.0,1374.9 L492.0,1374.8 L493.0,1374.6 L494.0,1374.4 L495.0,1374.2 L496.0,1374.0 L497.0,1373.8 L498.0,1373.6 L499.0,1373.4 L500.0,1373.2 L501.0,1373.0 L502.0,1372.8 L503.0,1372.6 L504.0,1372.4 L505.0,1372.2 L506.0,1371.9 L507.0,1371.7 L508.0,1371.5 L509.0,1371.2 L510.0,1371.0 L511.0,1370.8 L512.0,1370.5 L513.0,1370.3 L514.0,1370.0 L515.0,1369.8 L516.0,1369.5 L517.0,1369.3 L518.0,1369.0 L519.0,1368.7 L520.0,1368.4 L521.0,1368.2 L522.0,1367.9 L523.0,1367.6 L524.0,1367.3 L525.0,1367.0 L526.0,1366.7 L527.0,1366.4 L528.0,1366.1 L529.0,1365.8 L530.0,1365.5 L531.0,1365.1 L532.0,1364.8 L533.0,1364.5 L534.0,1364.1 L535.0,1363.8 L536.0,1363.4 L537.0,1363.1 L538.0,1362.7 L539.0,1362.4 L540.0,1362.0 L541.0,1361.6 L542.0,1361.2 L543.0,1360.8 L544.0,1360.5 L545.0,1360.1 L546.0,1359.6 L547.0,1359.2 L548.0,1358.8 L549.0,1358.4 L550.0,1358.0 L551.0,1358.0 L552.0,1358.0 L553.0,1358.0 L554.0,1358.1 L555.0,1358.1 L556.0,1358.2 L557.0,1358.2 L558.0,1358.3 L559.0,1358.4 L560.0,1358.6 L561.0,1358.7 L562.0,1358.9 L563.0,1359.1 L564.0,1359.3 L565.0,1359.6 L566.0,1359.9 L567.0,1360.2 L568.0,1360.5 L569.0,1360.9 L570.0,1361.2 L571.0,1361.6 L572.0,1362.1 L573.0,1362.5 L574.0,1363.0 L575.0,1363.5 L576.0,1364.0 L577.0,1364.6 L578.0,1365.1 L579.0,1365.7 L580.0,1366.3 L581.0,1366.9 L582.0,1367.5 L583.0,1368.1 L584.0,1368.8 L585.0,1369.4 L586.0,1370.1 L587.0,1370.7 L588.0,1371.4 L589.0,1372.0 L590.0,1372.7 L591.0,1373.3 L592.0,1374.0 L593.0,1374.6 L594.0,1375.2 L595.0,1375.8 L596.0,1376.4 L597.0,1377.0 L598.0,1377.6 L599.0,1378.2 L600.0,1378.7 L601.0,1379.2 L602.0,1379.7 L603.0,1380.2 L604.0,1380.7 L605.0,1381.1 L606.0,1381.5 L607.0,1381.9 L608.0,1382.3 L609.0,1382.7 L610.0,1383.0 L611.0,1383.3 L612.0,1383.6 L613.0,1383.9 L614.0,1384.1 L615.0,1384.4 L616.0,1384.6 L617.0,1384.8 L618.0,1385.0 L619.0,1385.2 L620.0,1385.3 L621.0,1385.5 L622.0,1385.6 L623.0,1385.7 L624.0,1385.9 L625.0,1386.0 L626.0,1386.0 L627.0,1386.1 L628.0,1386.2 L629.0,1386.3 L630.0,1386.3 L631.0,1386.4 L632.0,1386.4 L633.0,1386.4 L634.0,1386.5 L635.0,1386.5 L636.0,1386.5 L637.0,1386.6 L638.0,1386.6 L639.0,1386.6 L640.0,1386.6 L641.0,1386.6 L642.0,1386.6 L643.0,1386.7 L644.0,1386.7 L645.0,1386.7 L646.0,1386.7 L647.0,1386.7 L648.0,1386.7 L649.0,1386.7 L650.0,1386.7 L651.0,1386.7 L652.0,1386.7 L653.0,1386.7 L654.0,1386.7 L655.0,1386.7 L656.0,1386.7 L657.0,1386.7 L658.0,1386.7 L659.0,1386.7 L660.0,1386.7 L661.0,1386.7 L662.0,1386.7 L663.0,1386.7 L664.0,1386.7 L665.0,1386.7 L666.0,1386.7 L667.0,1386.7 L668.0,1386.7 L669.0,1386.7 L670.0,1386.7 L671.0,1386.7 L672.0,1386.7 L673.0,1386.7 L674.0,1386.7 L675.0,1386.7 L676.0,1386.7 L677.0,1386.7 L678.0,1386.7 L679.0,1386.7 L680.0,1386.7 L681.0,1386.7 L682.0,1386.7 L683.0,1386.7 L684.0,1386.7 L685.0,1386.7 L686.0,1386.7 L687.0,1386.7 L688.0,1386.7 L689.0,1386.7 L690.0,1386.7 L691.0,1386.7 L692.0,1386.7 L693.0,1386.7 L694.0,1386.7 L695.0,1386.7 L696.0,1386.7 L697.0,1386.7 L698.0,1386.7 L699.0,1386.7 L700.0,1386.7 L701.0,1386.7 L702.0,1386.7 L703.0,1386.7 L704.0,1386.7 L705.0,1386.7 L706.0,1386.7 L707.0,1386.7 L708.0,1386.7 L709.0,1386.7 L710.0,1386.7 L711.0,1386.7 L712.0,1386.7 L713.0,1386.7 L714.0,1386.7 L715.0,1386.7 L716.0,1386.7 L717.0,1386.7 L718.0,1386.7 L719.0,1386.7 L720.0,1386.7 L721.0,1386.7 L722.0,1386.7 L723.0,1386.7 L724.0,1386.7 L725.0,1386.7 L726.0,1386.7 L727.0,1386.7 L728.0,1386.7 L729.0,1386.7 L730.0,1386.7 L731.0,1386.7 L732.0,1386.7 L733.0,1386.7 L734.0,1386.7 L735.0,1386.7 L736.0,1386.7 L737.0,1386.7 L738.0,1386.7 L739.0,1386.7 L740.0,1386.7 L741.0,1386.7 L742.0,1386.7 L743.0,1386.7 L744.0,1386.7 L745.0,1386.7 L746.0,1386.7 L747.0,1386.7 L748.0,1386.7 L749.0,1386.7 L750.0,1386.7 L751.0,1386.7 L752.0,1386.7 L753.0,1386.7 L754.0,1386.7 L755.0,1386.7 L756.0,1386.7 L757.0,1386.7 L758.0,1386.7 L759.0,1386.7 L760.0,1386.7 L761.0,1386.7 L762.0,1386.7 L763.0,1386.7 L764.0,1386.7 L765.0,1386.7 L766.0,1386.7 L767.0,1386.7 L768.0,1386.7 L769.0,1386.7 L770.0,1386.7 L771.0,1386.7 L772.0,1386.7 L773.0,1386.7 L774.0,1386.7 L775.0,1386.7 L776.0,1386.7 L777.0,1386.7 L778.0,1386.7 L779.0,1386.7 L780.0,1386.7 L781.0,1386.7 L782.0,1386.7 L783.0,1386.7 L784.0,1386.7 L785.0,1386.7 L786.0,1386.7 L787.0,1386.7 L788.0,1386.7 L789.0,1386.7 L790.0,1386.7 L791.0,1386.7 L792.0,1386.7 L793.0,1386.7 L794.0,1386.7 L795.0,1386.7 L796.0,1386.7 L797.0,1386.7 L798.0,1386.7 L799.0,1386.7 L800.0,1386.7 L801.0,1386.7 L802.0,1386.7 L803.0,1386.7 L804.0,1386.7 L805.0,1386.7 L806.0,1386.7 L807.0,1386.7 L808.0,1386.7 L809.0,1386.7 L810.0,1386.7 L811.0,1386.7 L812.0,1386.7 L813.0,1386.7 L814.0,1386.7 L815.0,1386.7 L816.0,1386.7 L817.0,1386.7 L818.0,1386.7 L819.0,1386.7 L820.0,1386.7 L821.0,1386.7 L822.0,1386.7 L823.0,1386.7 L824.0,1386.7 L825.0,1386.7 L826.0,1386.7 L827.0,1386.7 L828.0,1386.7 L829.0,1386.7 L830.0,1386.7 L831.0,1386.7 L832.0,1386.7 L833.0,1386.7 L834.0,1386.7 L835.0,1386.7 L836.0,1386.7 L837.0,1386.7 L838.0,1386.7 L839.0,1386.7 L840.0,1386.7 L841.0,1386.7 L842.0,1386.7 L843.0,1386.7 L844.0,1386.7 L845.0,1386.7 L846.0,1386.7 L847.0,1386.7 L848.0,1386.7 L849.0,1386.7 L850.0,1386.7 L851.0,1386.7 L852.0,1386.7 L853.0,1386.7 L854.0,1386.7 L855.0,1386.7 L856.0,1386.7 L857.0,1386.7 L858.0,1386.7 L859.0,1386.7 L860.0,1386.7 L861.0,1386.7 L862.0,1386.7 L863.0,1386.7 L864.0,1386.7 L865.0,1386.7 L866.0,1386.7 L867.0,1386.7 L868.0,1386.7 L869.0,1386.7 L870.0,1386.7 L871.0,1386.7 L872.0,1386.7 L873.0,1386.7 L874.0,1386.7 L875.0,1386.7 L876.0,1386.7 L877.0,1386.7 L878.0,1386.7 L879.0,1386.7 L880.0,1386.7 L881.0,1386.7 L882.0,1386.7 L883.0,1386.7 L884.0,1386.7 L885.0,1386.7 L886.0,1386.7 L887.0,1386.7 L888.0,1386.7 L889.0,1386.7 L890.0,1386.7 L891.0,1386.7 L892.0,1386.7 L893.0,1386.7 L894.0,1386.7 L895.0,1386.7 L896.0,1386.7 L897.0,1386.7 L898.0,1386.7 L899.0,1386.7 L900.0,1386.7 L901.0,1386.7 L902.0,1386.7 L903.0,1386.7 L904.0,1386.7 L905.0,1386.7 L906.0,1386.7 L907.0,1386.7 L908.0,1386.7 L909.0,1386.7 L910.0,1386.7 L911.0,1386.7 L912.0,1386.7 L913.0,1386.7 L914.0,1386.7 L915.0,1386.7 L916.0,1386.7 L917.0,1386.7 L918.0,1386.7 L919.0,1386.7 L920.0,1386.7 L921.0,1386.7 L922.0,1386.7 L923.0,1386.7 L924.0,1386.7 L925.0,1386.7 L926.0,1386.7 L927.0,1386.7 L928.0,1386.7 L929.0,1386.7 L930.0,1386.7 L931.0,1386.7 L932.0,1386.7 L933.0,1386.7 L934.0,1386.7 L935.0,1386.7 L936.0,1386.7 L937.0,1386.7 L938.0,1386.7 L939.0,1386.7 L940.0,1386.7 L941.0,1386.7 L942.0,1386.7 L943.0,1386.7 L944.0,1386.7 L945.0,1386.7 L946.0,1386.7 L947.0,1386.7 L948.0,1386.7 L949.0,1386.7 L950.0,1386.7 L951.0,1386.7 L952.0,1386.7 L953.0,1386.7 L954.0,1386.7 L955.0,1386.7 L956.0,1386.7 L957.0,1386.7 L958.0,1386.7 L959.0,1386.7 L960.0,1386.7 L961.0,1386.7 L962.0,1386.7 L963.0,1386.7 L964.0,1386.7 L965.0,1386.7 L966.0,1386.7 L967.0,1386.7 L968.0,1386.7 L969.0,1386.7 L970.0,1386.7 L971.0,1386.7 L972.0,1386.7 L973.0,1386.7 L974.0,1386.7 L975.0,1386.7 L976.0,1386.7 L977.0,1386.7 L978.0,1386.7 L979.0,1386.7 L979.7,1386.7" fill="none" stroke="#d62728" stroke-width="5.45" stroke-linejoin="round" stroke-linecap="square"/>
<path d="M176.0,1386.7 L177.0,1386.7 L178.0,1386.7 L179.0,1386.7 L180.0,1386.7 L181.0,1386.7 L182.0,1386.7 L183.0,1386.7 L184.0,1386.7 L185.0,1386.7 L186.0,1386.7 L187.0,1386.7 L188.0,1386.7 L189.0,1386.7 L190.0,1386.7 L191.0,1386.7 L192.0,1386.7 L193.0,1386.7 L194.0,1386.7 L195.0,1386.7 L196.0,1386.7 L197.0,1386.7 L198.0,1386.7 L199.0,1386.7 L200.0,1386.7 L201.0,1386.7 L202.0,1386.7 L203.0,1386.7 L204.0,1386.7 L205.0,1386.7 L206.0,1386.7 L207.0,1386.7 L208.0,1386.7 L209.0,1386.7 L210.0,1386.7 L211.0,1386.7 L212.0,1386.7 L213.0,1386.7 L214.0,1386.7 L215.0,1386.7 L216.0,1386.7 L217.0,1386.7 L218.0,1386.7 L219.0,1386.7 L220.0,1386.7 L221.0,1386.7 L222.0,1386.7 L223.0,1386.7 L224.0,1386.7 L225.0,1386.7 L226.0,1386.7 L227.0,1386.7 L228.0,1386.7 L229.0,1386.7 L230.0,1386.7 L231.0,1386.7 L232.0,1386.7 L233.0,1386.7 L234.0,1386.7 L235.0,1386.7 L236.0,1386.7 L237.0,1386.7 L238.0,1386.7 L239.0,1386.7 L240.0,1386.7 L241.0,1386.7 L242.0,1386.7 L243.0,1386.7 L244.0,1386.7 L245.0,1386.7 L246.0,1386.7 L247.0,1386.7 L248.0,1386.7 L249.0,1386.7 L250.0,1386.7 L251.0,1386.7 L252.0,1386.7 L253.0,1386.7 L254.0,1386.7 L255.0,1386.7 L256.0,1386.7 L257.0,1386.7 L258.0,1386.7 L259.0,1386.7 L260.0,1386.7 L261.0,1386.7 L262.0,1386.7 L263.0,1386.7 L264.0,1386.7 L265.0,1386.7 L266.0,1386.7 L267.0,1386.7 L268.0,1386.7 L269.0,1386.7 L270.0,1386.7 L271.0,1386.7 L272.0,1386.7 L273.0,1386.7 L274.0,1386.7 L275.0,1386.7 L276.0,1386.7 L277.0,1386.7 L278.0,1386.7 L279.0,1386.7 L280.0,1386.7 L281.0,1386.7 L282.0,1386.7 L283.0,1386.7 L284.0,1386.7 L285.0,1386.7 L286.0,1386.7 L287.0,1386.7 L288.0,1386.7 L289.0,1386.7 L290.0,1386.7 L291.0,1386.7 L292.0,1386.7 L293.0,1386.7 L294.0,1386.7 L295.0,1386.7 L296.0,1386.7 L297.0,1386.7 L298.0,1386.7 L299.0,1386.7 L300.0,1386.7 L301.0,1386.7 L302.0,1386.7 L303.0,1386.7 L304.0,1386.7 L305.0,1386.7 L306.0,1386.7 L307.0,1386.7 L308.0,1386.7 L309.0,1386.7 L310.0,1386.7 L311.0,1386.7 L312.0,1386.7 L313.0,1386.7 L314.0,1386.7 L315.0,1386.7 L316.0,1386.7 L317.0,1386.7 L318.0,1386.7 L319.0,1386.7 L320.0,1386.7 L321.0,1386.7 L322.0,1386.7 L323.0,1386.7 L324.0,1386.7 L325.0,1386.7 L326.0,1386.7 L327.0,1386.7 L328.0,1386.7 L329.0,1386.7 L330.0,1386.7 L331.0,1386.7 L332.0,1386.7 L333.0,1386.7 L334.0,1386.7 L335.0,1386.7 L336.0,1386.7 L337.0,1386.7 L338.0,1386.7 L339.0,1386.7 L340.0,1386.7 L341.0,1386.7 L342.0,1386.7 L343.0,1386.7 L344.0,1386.7 L345.0,1386.7 L346.0,1386.7 L347.0,1386.7 L348.0,1386.7 L349.0,1386.7 L350.0,1386.7 L351.0,1386.7 L352.0,1386.7 L353.0,1386.7 L354.0,1386.7 L355.0,1386.7 L356.0,1386.7 L357.0,1386.7 L358.0,1386.7 L359.0,1386.7 L360.0,1386.6 L361.0,1386.6 L362.0,1386.6 L363.0,1386.6 L364.0,1386.6 L365.0,1386.6 L366.0,1386.6 L367.0,1386.6 L368.0,1386.6 L369.0,1386.6 L370.0,1386.6 L371.0,1386.6 L372.0,1386.6 L373.0,1386.6 L374.0,1386.6 L375.0,1386.6 L376.0,1386.6 L377.0,1386.6 L378.0,1386.6 L379.0,1386.6 L380.0,1386.6 L381.0,1386.6 L382.0,1386.6 L383.0,1386.6 L384.0,1386.6 L385.0,1386.6 L386.0,1386.6 L387.0,1386.5 L388.0,1386.5 L389.0,1386.5 L390.0,1386.5 L391.0,1386.5 L392.0,1386.5 L393.0,1386.5 L394.0,1386.5 L395.0,1386.5 L396.0,1386.5 L397.0,1386.5 L398.0,1386.5 L399.0,1386.5 L400.0,1386.4 L401.0,1386.4 L402.0,1386.4 L403.0,1386.4 L404.0,1386.4 L405.0,1386.4 L406.0,1386.4 L407.0,1386.4 L408.0,1386.4 L409.0,1386.3 L410.0,1386.3 L411.0,1386.3 L412.0,1386.3 L413.0,1386.3 L414.0,1386.3 L415.0,1386.3 L416.0,1386.2 L417.0,1386.2 L418.0,1386.2 L419.0,1386.2 L420.0,1386.2 L421.0,1386.2 L422.0,1386.1 L423.0,1386.1 L424.0,1386.1 L425.0,1386.1 L426.0,1386.0 L427.0,1386.0 L428.0,1386.0 L429.0,1386.0 L430.0,1386.0 L431.0,1385.9 L432.0,1385.9 L433.0,1385.9 L434.0,1385.8 L435.0,1385.8 L436.0,1385.8 L437.0,1385.7 L438.0,1385.7 L439.0,1385.7 L440.0,1385.6 L441.0,1385.6 L442.0,1385.6 L443.0,1385.5 L444.0,1385.5 L445.0,1385.4 L446.0,1385.4 L447.0,1385.4 L448.0,1385.3 L449.0,1385.3 L450.0,1385.2 L451.0,1385.2 L452.0,1385.1 L453.0,1385.1 L454.0,1385.0 L455.0,1384.9 L456.0,1384.9 L457.0,1384.8 L458.0,1384.8 L459.0,1384.7 L460.0,1384.6 L461.0,1384.6 L462.0,1384.5 L463.0,1384.4 L464.0,1384.3 L465.0,1384.3 L466.0,1384.2 L467.0,1384.1 L468.0,1384.0 L469.0,1383.9 L470.0,1383.8 L471.0,1383.8 L472.0,1383.7 L473.0,1383.6 L474.0,1383.5 L475.0,1383.4 L476.0,1383.3 L477.0,1383.1 L478.0,1383.0 L479.0,1382.9 L480.0,1382.8 L481.0,1382.7 L482.0,1382.6 L483.0,1382.4 L484.0,1382.3 L485.0,1382.2 L486.0,1382.0 L487.0,1381.9 L488.0,1381.7 L489.0,1381.6 L490.0,1381.4 L491.0,1381.3 L492.0,1381.1 L493.0,1380.9 L494.0,1380.8 L495.0,1380.6 L496.0,1380.4 L497.0,1380.2 L498.0,1380.0 L499.0,1379.9 L500.0,1379.7 L501.0,1379.4 L502.0,1379.2 L503.0,1379.0 L504.0,1378.8 L505.0,1378.6 L506.0,1378.4 L507.0,1378.1 L508.0,1377.9 L509.0,1377.6 L510.0,1377.4 L511.0,1377.1 L512.0,1376.8 L513.0,1376.6 L514.0,1376.3 L515.0,1376.0 L516.0,1375.7 L517.0,1375.4 L518.0,1375.1 L519.0,1374.8 L520.0,1374.5 L521.0,1374.2 L522.0,1373.8 L523.0,1373.5 L524.0,1373.1 L525.0,1372.8 L526.0,1372.4 L527.0,1372.0 L528.0,1371.7 L529.0,1371.3 L530.0,1370.9 L531.0,1370.5 L532.0,1370.1 L533.0,1369.6 L534.0,1369.2 L535.0,1368.8 L536.0,1368.3 L537.0,1367.9 L538.0,1367.4 L539.0,1366.9 L540.0,1366.5 L541.0,1366.0 L542.0,1365.5 L543.0,1364.9 L544.0,1364.4 L545.0,1363.9 L546.0,1363.3 L547.0,1362.8 L548.0,1362.2 L549.0,1361.7 L550.0,1361.1 L551.0,1360.5 L552.0,1359.9 L553.0,1359.3 L554.0,1358.7 L555.0,1358.0 L556.0,1357.4 L557.0,1356.7 L558.0,1356.1 L559.0,1355.4 L560.0,1354.7 L561.0,1354.0 L562.0,1353.3 L563.0,1352.6 L564.0,1351.8 L565.0,1351.1 L566.0,1350.3 L567.0,1349.6 L568.0,1348.8 L569.0,1348.0 L570.0,1347.2 L571.0,1346.4 L572.0,1345.6 L573.0,1344.8 L574.0,1343.9 L575.0,1343.1 L576.0,1342.2 L577.0,1341.3 L578.0,1340.4 L579.0,1339.5 L580.0,1338.6 L581.0,1337.7 L582.0,1336.8 L583.0,1335.9 L584.0,1334.9 L585.0,1334.0 L586.0,1333.0 L587.0,1332.0 L588.0,1331.0 L589.0,1330.0 L590.0,1329.0 L591.0,1328.0 L592.0,1327.0 L593.0,1326.0 L594.0,1324.9 L595.0,1323.9 L596.0,1322.8 L597.0,1321.8 L598.0,1320.7 L599.0,1319.6 L600.0,1318.6 L601.0,1317.5 L602.0,1316.4 L603.0,1315.3 L604.0,1314.2 L605.0,1313.1 L606.0,1312.0 L607.0,1310.9 L608.0,1309.7 L609.0,1308.6 L610.0,1307.5 L611.0,1306.4 L612.0,1305.2 L613.0,1304.1 L614.0,1303.0 L615.0,1301.8 L616.0,1300.7 L617.0,1299.6 L618.0,1298.5 L619.0,1297.3 L620.0,1296.2 L621.0,1295.1 L622.0,1294.0 L623.0,1292.9 L624.0,1291.8 L625.0,1290.7 L626.0,1289.6 L627.0,1288.6 L628.0,1287.5 L629.0,1286.4 L630.0,1285.4 L631.0,1284.4 L632.0,1283.4 L633.0,1282.4 L634.0,1281.4 L635.0,1280.4 L636.0,1279.4 L637.0,1278.5 L638.0,1277.6 L639.0,1276.7 L640.0,1275.8 L641.0,1275.0 L642.0,1274.2 L643.0,1273.4 L644.0,1272.6 L645.0,1271.9 L646.0,1271.2 L647.0,1270.6 L648.0,1269.9 L649.0,1269.4 L650.0,1268.8 L651.0,1268.3 L652.0,1267.9 L653.0,1267.6 L654.0,1267.3 L655.0,1267.1 L656.0,1267.0 L657.0,1267.0 L658.0,1267.0 L659.0,1267.1 L660.0,1267.2 L661.0,1267.4 L662.0,1267.5 L663.0,1267.8 L664.0,1268.1 L665.0,1268.5 L666.0,1268.9 L667.0,1269.4 L668.0,1269.9 L669.0,1270.6 L670.0,1271.3 L671.0,1272.1 L672.0,1272.9 L673.0,1273.9 L674.0,1274.9 L675.0,1276.0 L676.0,1277.2 L677.0,1278.4 L678.0,1279.8 L679.0,1281.2 L680.0,1282.7 L681.0,1284.2 L682.0,1285.9 L683.0,1287.6 L684.0,1289.4 L685.0,1291.2 L686.0,1293.1 L687.0,1295.1 L688.0,1297.1 L689.0,1299.2 L690.0,1301.3 L691.0,1303.5 L692.0,1305.7 L693.0,1308.0 L694.0,1310.2 L695.0,1312.5 L696.0,1314.8 L697.0,1317.2 L698.0,1319.5 L699.0,1321.8 L700.0,1324.2 L701.0,1326.5 L702.0,1328.9 L703.0,1331.2 L704.0,1333.5 L705.0,1335.7 L706.0,1338.0 L707.0,1340.2 L708.0,1342.4 L709.0,1344.5 L710.0,1346.6 L711.0,1348.6 L712.0,1350.6 L713.0,1352.5 L714.0,1354.4 L715.0,1356.2 L716.0,1358.0 L717.0,1359.7 L718.0,1361.4 L719.0,1363.0 L720.0,1364.5 L721.0,1365.9 L722.0,1367.3 L723.0,1368.6 L724.0,1369.9 L725.0,1371.1 L726.0,1372.3 L727.0,1373.3 L728.0,1374.4 L729.0,1375.3 L730.0,1376.2 L731.0,1377.1 L732.0,1377.9 L733.0,1378.6 L734.0,1379.3 L735.0,1380.0 L736.0,1380.6 L737.0,1381.1 L738.0,1381.6 L739.0,1382.1 L740.0,1382.6 L741.0,1383.0 L742.0,1383.3 L743.0,1383.7 L744.0,1384.0 L745.0,1384.3 L746.0,1384.5 L747.0,1384.8 L748.0,1385.0 L749.0,1385.2 L750.0,1385.3 L751.0,1385.5 L752.0,1385.6 L753.0,1385.8 L754.0,1385.9 L755.0,1386.0 L756.0,1386.1 L757.0,1386.2 L758.0,1386.2 L759.0,1386.3 L760.0,1386.3 L761.0,1386.4 L762.0,1386.4 L763.0,1386.5 L764.0,1386.5 L765.0,1386.5 L766.0,1386.6 L767.0,1386.6 L768.0,1386.6 L769.0,1386.6 L770.0,1386.6 L771.0,1386.6 L772.0,1386.6 L773.0,1386.7 L774.0,1386.7 L775.0,1386.7 L776.0,1386.7 L777.0,1386.7 L778.0,1386.7 L779.0,1386.7 L780.0,1386.7 L781.0,1386.7 L782.0,1386.7 L783.0,1386.7 L784.0,1386.7 L785.0,1386.7 L786.0,1386.7 L787.0,1386.7 L788.0,1386.7 L789.0,1386.7 L790.0,1386.7 L791.0,1386.7 L792.0,1386.7 L793.0,1386.7 L794.0,1386.7 L795.0,1386.7 L796.0,1386.7 L797.0,1386.7 L798.0,1386.7 L799.0,1386.7 L800.0,1386.7 L801.0,1386.7 L802.0,1386.7 L803.0,1386.7 L804.0,1386.7 L805.0,1386.7 L806.0,1386.7 L807.0,1386.7 L808.0,1386.7 L809.0,1386.7 L810.0,1386.7 L811.0,1386.7 L812.0,1386.7 L813.0,1386.7 L814.0,1386.7 L815.0,1386.7 L816.0,1386.7 L817.0,1386.7 L818.0,1386.7 L819.0,1386.7 L820.0,1386.7 L821.0,1386.7 L822.0,1386.7 L823.0,1386.7 L824.0,1386.7 L825.0,1386.7 L826.0,1386.7 L827.0,1386.7 L828.0,1386.7 L829.0,1386.7 L830.0,1386.7 L831.0,1386.7 L832.0,1386.7 L833.0,1386.7 L834.0,1386.7 L835.0,1386.7 L836.0,1386.7 L837.0,1386.7 L838.0,1386.7 L839.0,1386.7 L840.0,1386.7 L841.0,1386.7 L842.0,1386.7 L843.0,1386.7 L844.0,1386.7 L845.0,1386.7 L846.0,1386.7 L847.0,1386.7 L848.0,1386.7 L849.0,1386.7 L850.0,1386.7 L851.0,1386.7 L852.0,1386.7 L853.0,1386.7 L854.0,1386.7 L855.0,1386.7 L856.0,1386.7 L857.0,1386.7 L858.0,1386.7 L859.0,1386.7 L860.0,1386.7 L861.0,1386.7 L862.0,1386.7 L863.0,1386.7 L864.0,1386.7 L865.0,1386.7 L866.0,1386.7 L867.0,1386.7 L868.0,1386.7 L869.0,1386.7 L870.0,1386.7 L871.0,1386.7 L872.0,1386.7 L873.0,1386.7 L874.0,1386.7 L875.0,1386.7 L876.0,1386.7 L877.0,1386.7 L878.0,1386.7 L879.0,1386.7 L880.0,1386.7 L881.0,1386.7 L882.0,1386.7 L883.0,1386.7 L884.0,1386.7 L885.0,1386.7 L886.0,1386.7 L887.0,1386.7 L888.0,1386.7 L889.0,1386.7 L890.0,1386.7 L891.0,1386.7 L892.0,1386.7 L893.0,1386.7 L894.0,1386.7 L895.0,1386.7 L896.0,1386.7 L897.0,1386.7 L898.0,1386.7 L899.0,1386.7 L900.0,1386.7 L901.0,1386.7 L902.0,1386.7 L903.0,1386.7 L904.0,1386.7 L905.0,1386.7 L906.0,1386.7 L907.0,1386.7 L908.0,1386.7 L909.0,1386.7 L910.0,1386.7 L911.0,1386.7 L912.0,1386.7 L913.0,1386.7 L914.0,1386.7 L915.0,1386.7 L916.0,1386.7 L917.0,1386.7 L918.0,1386.7 L919.0,1386.7 L920.0,1386.7 L921.0,1386.7 L922.0,1386.7 L923.0,1386.7 L924.0,1386.7 L925.0,1386.7 L926.0,1386.7 L927.0,1386.7 L928.0,1386.7 L929.0,1386.7 L930.0,1386.7 L931.0,1386.7 L932.0,1386.7 L933.0,1386.7 L934.0,1386.7 L935.0,1386.7 L936.0,1386.7 L937.0,1386.7 L938.0,1386.7 L939.0,1386.7 L940.0,1386.7 L941.0,1386.7 L942.0,1386.7 L943.0,1386.7 L944.0,1386.7 L945.0,1386.7 L946.0,1386.7 L947.0,1386.7 L948.0,1386.7 L949.0,1386.7 L950.0,1386.7 L951.0,1386.7 L952.0,1386.7 L953.0,1386.7 L954.0,1386.7 L955.0,1386.7 L956.0,1386.7 L957.0,1386.7 L958.0,1386.7 L959.0,1386.7 L960.0,1386.7 L961.0,1386.7 L962.0,1386.7 L963.0,1386.7 L964.0,1386.7 L965.0,1386.7 L966.0,1386.7 L967.0,1386.7 L968.0,1386.7 L969.0,1386.7 L970.0,1386.7 L971.0,1386.7 L972.0,1386.7 L973.0,1386.7 L974.0,1386.7 L975.0,1386.7 L976.0,1386.7 L977.0,1386.7 L978.0,1386.7 L979.0,1386.7 L979.7,1386.7" fill="none" stroke="#9467bd" stroke-width="5.45" stroke-linejoin="round" stroke-linecap="square"/>
<path d="M176.0,1386.7 L177.0,1386.7 L178.0,1386.7 L179.0,1386.7 L180.0,1386.7 L181.0,1386.7 L182.0,1386.7 L183.0,1386.7 L184.0,1386.7 L185.0,1386.7 L186.0,1386.7 L187.0,1386.7 L188.0,1386.7 L189.0,1386.7 L190.0,1386.7 L191.0,1386.7 L192.0,1386.7 L193.0,1386.7 L194.0,1386.7 L195.0,1386.7 L196.0,1386.7 L197.0,1386.7 L198.0,1386.7 L199.0,1386.7 L200.0,1386.7 L201.0,1386.7 L202.0,1386.7 L203.0,1386.7 L204.0,1386.7 L205.0,1386.7 L206.0,1386.7 L207.0,1386.7 L208.0,1386.7 L209.0,1386.7 L210.0,1386.7 L211.0,1386.7 L212.0,1386.7 L213.0,1386.7 L214.0,1386.7 L215.0,1386.7 L216.0,1386.7 L217.0,1386.7 L218.0,1386.7 L219.0,1386.7 L220.0,1386.7 L221.0,1386.7 L222.0,1386.7 L223.0,1386.7 L224.0,1386.7 L225.0,1386.7 L226.0,1386.7 L227.0,1386.7 L228.0,1386.7 L229.0,1386.7 L230.0,1386.7 L231.0,1386.7 L232.0,1386.7 L233.0,1386.7 L234.0,1386.7 L235.0,1386.7 L236.0,1386.7 L237.0,1386.7 L238.0,1386.7 L239.0,1386.7 L240.0,1386.7 L241.0,1386.7 L242.0,1386.7 L243.0,1386.7 L244.0,1386.7 L245.0,1386.7 L246.0,1386.7 L247.0,1386.7 L248.0,1386.7 L249.0,1386.7 L250.0,1386.7 L251.0,1386.7 L252.0,1386.7 L253.0,1386.7 L254.0,1386.7 L255.0,1386.7 L256.0,1386.7 L257.0,1386.7 L258.0,1386.7 L259.0,1386.7 L260.0,1386.7 L261.0,1386.7 L262.0,1386.7 L263.0,1386.7 L264.0,1386.7 L265.0,1386.7 L266.0,1386.7 L267.0,1386.7 L268.0,1386.7 L269.0,1386.7 L270.0,1386.7 L271.0,1386.7 L272.0,1386.7 L273.0,1386.7 L274.0,1386.7 L275.0,1386.7 L276.0,1386.7 L277.0,1386.7 L278.0,1386.7 L279.0,1386.7 L280.0,1386.7 L281.0,1386.7 L282.0,1386.7 L283.0,1386.7 L284.0,1386.7 L285.0,1386.7 L286.0,1386.7 L287.0,1386.7 L288.0,1386.7 L289.0,1386.7 L290.0,1386.7 L291.0,1386.7 L292.0,1386.7 L293.0,1386.7 L294.0,1386.7 L295.0,1386.7 L296.0,1386.7 L297.0,1386.7 L298.0,1386.7 L299.0,1386.7 L300.0,1386.7 L301.0,1386.7 L302.0,1386.7 L303.0,1386.7 L304.0,1386.7 L305.0,1386.7 L306.0,1386.7 L307.0,1386.7 L308.0,1386.7 L309.0,1386.7 L310.0,1386.7 L311.0,1386.7 L312.0,1386.7 L313.0,1386.7 L314.0,1386.7 L315.0,1386.7 L316.0,1386.7 L317.0,1386.7 L318.0,1386.7 L319.0,1386.7 L320.0,1386.7 L321.0,1386.7 L322.0,1386.7 L323.0,1386.7 L324.0,1386.7 L325.0,1386.7 L326.0,1386.7 L327.0,1386.7 L328.0,1386.7 L329.0,1386.7 L330.0,1386.7 L331.0,1386.7 L332.0,1386.7 L333.0,1386.7 L334.0,1386.7 L335.0,1386.7 L336.0,1386.7 L337.0,1386.7 L338.0,1386.7 L339.0,1386.7 L340.0,1386.7 L341.0,1386.7 L342.0,1386.7 L343.0,1386.7 L344.0,1386.7 L345.0,1386.7 L346.0,1386.7 L347.0,1386.7 L348.0,1386.7 L349.0,1386.7 L350.0,1386.7 L351.0,1386.7 L352.0,1386.7 L353.0,1386.7 L354.0,1386.7 L355.0,1386.7 L356.0,1386.7 L357.0,1386.7 L358.0,1386.6 L359.0,1386.6 L360.0,1386.6 L361.0,1386.6 L362.0,1386.6 L363.0,1386.6 L364.0,1386.6 L365.0,1386.6 L366.0,1386.6 L367.0,1386.6 L368.0,1386.6 L369.0,1386.6 L370.0,1386.6 L371.0,1386.6 L372.0,1386.6 L373.0,1386.6 L374.0,1386.6 L375.0,1386.6 L376.0,1386.6 L377.0,1386.6 L378.0,1386.6 L379.0,1386.6 L380.0,1386.6 L381.0,1386.6 L382.0,1386.6 L383.0,1386.6 L384.0,1386.6 L385.0,1386.6 L386.0,1386.6 L387.0,1386.6 L388.0,1386.6 L389.0,1386.6 L390.0,1386.6 L391.0,1386.6 L392.0,1386.6 L393.0,1386.6 L394.0,1386.6 L395.0,1386.6 L396.0,1386.6 L397.0,1386.6 L398.0,1386.6 L399.0,1386.6 L400.0,1386.6 L401.0,1386.6 L402.0,1386.5 L403.0,1386.5 L404.0,1386.5 L405.0,1386.5 L406.0,1386.5 L407.0,1386.5 L408.0,1386.5 L409.0,1386.5 L410.0,1386.5 L411.0,1386.5 L412.0,1386.5 L413.0,1386.5 L414.0,1386.5 L415.0,1386.5 L416.0,1386.5 L417.0,1386.5 L418.0,1386.5 L419.0,1386.5 L420.0,1386.5 L421.0,1386.5 L422.0,1386.5 L423.0,1386.4 L424.0,1386.4 L425.0,1386.4 L426.0,1386.4 L427.0,1386.4 L428.0,1386.4 L429.0,1386.4 L430.0,1386.4 L431.0,1386.4 L432.0,1386.4 L433.0,1386.4 L434.0,1386.4 L435.0,1386.4 L436.0,1386.4 L437.0,1386.3 L438.0,1386.3 L439.0,1386.3 L440.0,1386.3 L441.0,1386.3 L442.0,1386.3 L443.0,1386.3 L444.0,1386.3 L445.0,1386.3 L446.0,1386.3 L447.0,1386.2 L448.0,1386.2 L449.0,1386.2 L450.0,1386.2 L451.0,1386.2 L452.0,1386.2 L453.0,1386.2 L454.0,1386.2 L455.0,1386.2 L456.0,1386.1 L457.0,1386.1 L458.0,1386.1 L459.0,1386.1 L460.0,1386.1 L461.0,1386.1 L462.0,1386.1 L463.0,1386.1 L464.0,1386.0 L465.0,1386.0 L466.0,1386.0 L467.0,1386.0 L468.0,1386.0 L469.0,1386.0 L470.0,1385.9 L471.0,1385.9 L472.0,1385.9 L473.0,1385.9 L474.0,1385.9 L475.0,1385.9 L476.0,1385.8 L477.0,1385.8 L478.0,1385.8 L479.0,1385.8 L480.0,1385.8 L481.0,1385.7 L482.0,1385.7 L483.0,1385.7 L484.0,1385.7 L485.0,1385.6 L486.0,1385.6 L487.0,1385.6 L488.0,1385.6 L489.0,1385.5 L490.0,1385.5 L491.0,1385.5 L492.0,1385.5 L493.0,1385.4 L494.0,1385.4 L495.0,1385.4 L496.0,1385.4 L497.0,1385.3 L498.0,1385.3 L499.0,1385.3 L500.0,1385.2 L501.0,1385.2 L502.0,1385.2 L503.0,1385.1 L504.0,1385.1 L505.0,1385.1 L506.0,1385.0 L507.0,1385.0 L508.0,1385.0 L509.0,1384.9 L510.0,1384.9 L511.0,1384.9 L512.0,1384.8 L513.0,1384.8 L514.0,1384.7 L515.0,1384.7 L516.0,1384.7 L517.0,1384.6 L518.0,1384.6 L519.0,1384.5 L520.0,1384.5 L521.0,1384.4 L522.0,1384.4 L523.0,1384.3 L524.0,1384.3 L525.0,1384.2 L526.0,1384.2 L527.0,1384.1 L528.0,1384.1 L529.0,1384.0 L530.0,1384.0 L531.0,1383.9 L532.0,1383.9 L533.0,1383.8 L534.0,1383.8 L535.0,1383.7 L536.0,1383.6 L537.0,1383.6 L538.0,1383.5 L539.0,1383.5 L540.0,1383.4 L541.0,1383.3 L542.0,1383.3 L543.0,1383.2 L544.0,1383.1 L545.0,1383.1 L546.0,1383.0 L547.0,1382.9 L548.0,1382.8 L549.0,1382.8 L550.0,1382.7 L551.0,1382.6 L552.0,1382.5 L553.0,1382.5 L554.0,1382.4 L555.0,1382.3 L556.0,1382.2 L557.0,1382.1 L558.0,1382.0 L559.0,1382.0 L560.0,1381.9 L561.0,1381.8 L562.0,1381.7 L563.0,1381.6 L564.0,1381.5 L565.0,1381.4 L566.0,1381.3 L567.0,1381.2 L568.0,1381.1 L569.0,1381.0 L570.0,1380.9 L571.0,1380.8 L572.0,1380.7 L573.0,1380.6 L574.0,1380.5 L575.0,1380.3 L576.0,1380.2 L577.0,1380.1 L578.0,1380.0 L579.0,1379.9 L580.0,1379.8 L581.0,1379.6 L582.0,1379.5 L583.0,1379.4 L584.0,1379.3 L585.0,1379.1 L586.0,1379.0 L587.0,1378.9 L588.0,1378.7 L589.0,1378.6 L590.0,1378.4 L591.0,1378.3 L592.0,1378.2 L593.0,1378.0 L594.0,1377.9 L595.0,1377.7 L596.0,1377.6 L597.0,1377.4 L598.0,1377.3 L599.0,1377.1 L600.0,1376.9 L601.0,1376.8 L602.0,1376.6 L603.0,1376.4 L604.0,1376.3 L605.0,1376.1 L606.0,1375.9 L607.0,1375.8 L608.0,1375.6 L609.0,1375.4 L610.0,1375.2 L611.0,1375.0 L612.0,1374.8 L613.0,1374.7 L614.0,1374.5 L615.0,1374.3 L616.0,1374.1 L617.0,1373.9 L618.0,1373.7 L619.0,1373.5 L620.0,1373.3 L621.0,1373.1 L622.0,1372.9 L623.0,1372.7 L624.0,1372.4 L625.0,1372.2 L626.0,1372.0 L627.0,1371.8 L628.0,1371.6 L629.0,1371.3 L630.0,1371.1 L631.0,1370.9 L632.0,1370.7 L633.0,1370.4 L634.0,1370.2 L635.0,1370.0 L636.0,1369.7 L637.0,1369.5 L638.0,1369.2 L639.0,1369.0 L640.0,1368.7 L641.0,1368.5 L642.0,1368.2 L643.0,1368.0 L644.0,1367.7 L645.0,1367.5 L646.0,1367.2 L647.0,1366.9 L648.0,1366.7 L649.0,1366.4 L650.0,1366.1 L651.0,1365.9 L652.0,1365.6 L653.0,1365.3 L654.0,1365.1 L655.0,1364.8 L656.0,1364.5 L657.0,1364.2 L658.0,1363.9 L659.0,1363.6 L660.0,1363.4 L661.0,1363.1 L662.0,1362.8 L663.0,1362.5 L664.0,1362.2 L665.0,1361.9 L666.0,1361.6 L667.0,1361.3 L668.0,1361.0 L669.0,1360.7 L670.0,1360.5 L671.0,1360.2 L672.0,1359.9 L673.0,1359.6 L674.0,1359.3 L675.0,1359.0 L676.0,1358.7 L677.0,1358.4 L678.0,1358.1 L679.0,1357.8 L680.0,1357.5 L681.0,1357.2 L682.0,1356.9 L683.0,1356.6 L684.0,1356.3 L685.0,1356.0 L686.0,1355.7 L687.0,1355.4 L688.0,1355.1 L689.0,1354.8 L690.0,1354.5 L691.0,1354.3 L692.0,1354.0 L693.0,1353.7 L694.0,1353.4 L695.0,1353.2 L696.0,1352.9 L697.0,1352.6 L698.0,1352.4 L699.0,1352.1 L700.0,1351.8 L701.0,1351.6 L702.0,1351.4 L703.0,1351.1 L704.0,1350.9 L705.0,1350.7 L706.0,1350.5 L707.0,1350.3 L708.0,1350.1 L709.0,1349.9 L710.0,1349.7 L711.0,1349.6 L712.0,1349.4 L713.0,1349.3 L714.0,1349.2 L715.0,1349.2 L716.0,1349.2 L717.0,1349.3 L718.0,1349.3 L719.0,1349.4 L720.0,1349.5 L721.0,1349.7 L722.0,1349.8 L723.0,1350.0 L724.0,1350.2 L725.0,1350.4 L726.0,1350.7 L727.0,1350.9 L728.0,1351.2 L729.0,1351.5 L730.0,1351.8 L731.0,1352.2 L732.0,1352.5 L733.0,1352.9 L734.0,1353.3 L735.0,1353.7 L736.0,1354.1 L737.0,1354.5 L738.0,1355.0 L739.0,1355.5 L740.0,1356.0 L741.0,1356.4 L742.0,1357.0 L743.0,1357.5 L744.0,1358.0 L745.0,1358.5 L746.0,1359.1 L747.0,1359.6 L748.0,1360.2 L749.0,1360.7 L750.0,1361.3 L751.0,1361.9 L752.0,1362.5 L753.0,1363.0 L754.0,1363.6 L755.0,1364.2 L756.0,1364.8 L757.0,1365.3 L758.0,1365.9 L759.0,1366.5 L760.0,1367.1 L761.0,1367.6 L762.0,1368.2 L763.0,1368.8 L764.0,1369.3 L765.0,1369.9 L766.0,1370.4 L767.0,1370.9 L768.0,1371.5 L769.0,1372.0 L770.0,1372.5 L771.0,1373.0 L772.0,1373.5 L773.0,1374.0 L774.0,1374.5 L775.0,1374.9 L776.0,1375.4 L777.0,1375.8 L778.0,1376.3 L779.0,1376.7 L780.0,1377.1 L781.0,1377.5 L782.0,1377.9 L783.0,1378.3 L784.0,1378.7 L785.0,1379.0 L786.0,1379.4 L787.0,1379.7 L788.0,1380.0 L789.0,1380.3 L790.0,1380.6 L791.0,1380.9 L792.0,1381.2 L793.0,1381.5 L794.0,1381.8 L795.0,1382.0 L796.0,1382.3 L797.0,1382.5 L798.0,1382.7 L799.0,1382.9 L800.0,1383.1 L801.0,1383.3 L802.0,1383.5 L803.0,1383.7 L804.0,1383.9 L805.0,1384.0 L806.0,1384.2 L807.0,1384.3 L808.0,1384.5 L809.0,1384.6 L810.0,1384.7 L811.0,1384.9 L812.0,1385.0 L813.0,1385.1 L814.0,1385.2 L815.0,1385.3 L816.0,1385.4 L817.0,1385.5 L818.0,1385.5 L819.0,1385.6 L820.0,1385.7 L821.0,1385.8 L822.0,1385.8 L823.0,1385.9 L824.0,1385.9 L825.0,1386.0 L826.0,1386.0 L827.0,1386.1 L828.0,1386.1 L829.0,1386.2 L830.0,1386.2 L831.0,1386.3 L832.0,1386.3 L833.0,1386.3 L834.0,1386.3 L835.0,1386.4 L836.0,1386.4 L837.0,1386.4 L838.0,1386.4 L839.0,1386.5 L840.0,1386.5 L841.0,1386.5 L842.0,1386.5 L843.0,1386.5 L844.0,1386.5 L845.0,1386.6 L846.0,1386.6 L847.0,1386.6 L848.0,1386.6 L849.0,1386.6 L850.0,1386.6 L851.0,1386.6 L852.0,1386.6 L853.0,1386.6 L854.0,1386.6 L855.0,1386.6 L856.0,1386.6 L857.0,1386.7 L858.0,1386.7 L859.0,1386.7 L860.0,1386.7 L861.0,1386.7 L862.0,1386.7 L863.0,1386.7 L864.0,1386.7 L865.0,1386.7 L866.0,1386.7 L867.0,1386.7 L868.0,1386.7 L869.0,1386.7 L870.0,1386.7 L871.0,1386.7 L872.0,1386.7 L873.0,1386.7 L874.0,1386.7 L875.0,1386.7 L876.0,1386.7 L877.0,1386.7 L878.0,1386.7 L879.0,1386.7 L880.0,1386.7 L881.0,1386.7 L882.0,1386.7 L883.0,1386.7 L884.0,1386.7 L885.0,1386.7 L886.0,1386.7 L887.0,1386.7 L888.0,1386.7 L889.0,1386.7 L890.0,1386.7 L891.0,1386.7 L892.0,1386.7 L893.0,1386.7 L894.0,1386.7 L895.0,1386.7 L896.0,1386.7 L897.0,1386.7 L898.0,1386.7 L899.0,1386.7 L900.0,1386.7 L901.0,1386.7 L902.0,1386.7 L903.0,1386.7 L904.0,1386.7 L905.0,1386.7 L906.0,1386.7 L907.0,1386.7 L908.0,1386.7 L909.0,1386.7 L910.0,1386.7 L911.0,1386.7 L912.0,1386.7 L913.0,1386.7 L914.0,1386.7 L915.0,1386.7 L916.0,1386.7 L917.0,1386.7 L918.0,1386.7 L919.0,1386.7 L920.0,1386.7 L921.0,1386.7 L922.0,1386.7 L923.0,1386.7 L924.0,1386.7 L925.0,1386.7 L926.0,1386.7 L927.0,1386.7 L928.0,1386.7 L929.0,1386.7 L930.0,1386.7 L931.0,1386.7 L932.0,1386.7 L933.0,1386.7 L934.0,1386.7 L935.0,1386.7 L936.0,1386.7 L937.0,1386.7 L938.0,1386.7 L939.0,1386.7 L940.0,1386.7 L941.0,1386.7 L942.0,1386.7 L943.0,1386.7 L944.0,1386.7 L945.0,1386.7 L946.0,1386.7 L947.0,1386.7 L948.0,1386.7 L949.0,1386.7 L950.0,1386.7 L951.0,1386.7 L952.0,1386.7 L953.0,1386.7 L954.0,1386.7 L955.0,1386.7 L956.0,1386.7 L957.0,1386.7 L958.0,1386.7 L959.0,1386.7 L960.0,1386.7 L961.0,1386.7 L962.0,1386.7 L963.0,1386.7 L964.0,1386.7 L965.0,1386.7 L966.0,1386.7 L967.0,1386.7 L968.0,1386.7 L969.0,1386.7 L970.0,1386.7 L971.0,1386.7 L972.0,1386.7 L973.0,1386.7 L974.0,1386.7 L975.0,1386.7 L976.0,1386.7 L977.0,1386.7 L978.0,1386.7 L979.0,1386.7 L979.7,1386.7" fill="none" stroke="#8c564b" stroke-width="5.45" stroke-linejoin="round" stroke-linecap="square"/>
<path d="M180.2,1386.2a4.17,4.17 0 1,0 -8.34,0a4.17,4.17 0 1,0 8.34,0M182.4,1386.1a4.17,4.17 0 1,0 -8.34,0a4.17,4.17 0 1,0 8.34,0M184.6,1386.1a4.17,4.17 0 1,0 -8.34,0a4.17,4.17 0 1,0 8.34,0M186.8,1386.1a4.17,4.17 0 1,0 -8.34,0a4.17,4.17 0 1,0 8.34,0M189.0,1386.0a4.17,4.17 0 1,0 -8.34,0a4.17,4.17 0 1,0 8.34,0M191.2,1386.0a4.17,4.17 0 1,0 -8.34,0a4.17,4.17 0 1,0 8.34,0M193.4,1386.0a4.17,4.17 0 1,0 -8.34,0a4.17,4.17 0 1,0 8.34,0M195.6,1385.9a4.17,4.17 0 1,0 -8.34,0a4.17,4.17 0 1,0 8.34,0M197.8,1385.9a4.17,4.17 0 1,0 -8.34,0a4.17,4.17 0 1,0 8.34,0M200.0,1385.9a4.17,4.17 0 1,0 -8.34,0a4.17,4.17 0 1,0 8.34,0M202.2,1385.8a4.17,4.17 0 1,0 -8.34,0a4.17,4.17 0 1,0 8.34,0M204.4,1385.8a4.17,4.17 0 1,0 -8.34,0a4.17,4.17 0 1,0 8.34,0M206.6,1385.7a4.17,4.17 0 1,0 -8.34,0a4.17,4.17 0 1,0 8.34,0M208.8,1385.7a4.17,4.17 0 1,0 -8.34,0a4.17,4.17 0 1,0 8.34,0M211.0,1385.6a4.17,4.17 0 1,0 -8.34,0a4.17,4.17 0 1,0 8.34,0M213.2,1385.6a4.17,4.17 0 1,0 -8.34,0a4.17,4.17 0 1,0 8.34,0M215.4,1385.5a4.17,4.17 0 1,0 -8.34,0a4.17,4.17 0 1,0 8.34,0M217.6,1385.5a4.17,4.17 0 1,0 -8.34,0a4.17,4.17 0 1,0 8.34,0M219.8,1385.4a4.17,4.17 0 1,0 -8.34,0a4.17,4.17 0 1,0 8.34,0M222.0,1385.4a4.17,4.17 0 1,0 -8.34,0a4.17,4.17 0 1,0 8.34,0M224.2,1385.3a4.17,4.17 0 1,0 -8.34,0a4.17,4.17 0 1,0 8.34,0M226.4,1385.2a4.17,4.17 0 1,0 -8.34,0a4.17,4.17 0 1,0 8.34,0M228.6,1385.2a4.17,4.17 0 1,0 -8.34,0a4.17,4.17 0 1,0 8.34,0M230.8,1385.1a4.17,4.17 0 1,0 -8.34,0a4.17,4.17 0 1,0 8.34,0M233.0,1385.0a4.17,4.17 0 1,0 -8.34,0a4.17,4.17 0 1,0 8.34,0M235.2,1385.0a4.17,4.17 0 1,0 -8.34,0a4.17,4.17 0 1,0 8.34,0M237.4,1384.9a4.17,4.17 0 1,0 -8.34,0a4.17,4.17 0 1,0 8.34,0M239.6,1384.8a4.17,4.17 0 1,0 -8.34,0a4.17,4.17 0 1,0 8.34,0M241.8,1384.7a4.17,4.17 0 1,0 -8.34,0a4.17,4.17 0 1,0 8.34,0M243.9,1384.6a4.17,4.17 0 1,0 -8.34,0a4.17,4.17 0 1,0 8.34,0M246.1,1384.6a4.17,4.17 0 1,0 -8.34,0a4.17,4.17 0 1,0 8.34,0M248.3,1384.5a4.17,4.17 0 1,0 -8.34,0a4.17,4.17 0 1,0 8.34,0M250.5,1384.4a4.17,4.17 0 1,0 -8.34,0a4.17,4.17 0 1,0 8.34,0M252.7,1384.3a4.17,4.17 0 1,0 -8.34,0a4.17,4.17 0 1,0 8.34,0M254.9,1384.3a4.17,4.17 0 1,0 -8.34,0a4.17,4.17 0 1,0 8.34,0M257.1,1384.3a4.17,4.17 0 1,0 -8.34,0a4.17,4.17 0 1,0 8.34,0M259.3,1384.4a4.17,4.17 0 1,0 -8.34,0a4.17,4.17 0 1,0 8.34,0M261.5,1384.5a4.17,4.17 0 1,0 -8.34,0a4.17,4.17 0 1,0 8.34,0M263.7,1384.6a4.17,4.17 0 1,0 -8.34,0a4.17,4.17 0 1,0 8.34,0M265.9,1384.6a4.17,4.17 0 1,0 -8.34,0a4.17,4.17 0 1,0 8.34,0M268.1,1384.7a4.17,4.17 0 1,0 -8.34,0a4.17,4.17 0 1,0 8.34,0M270.3,1384.7a4.17,4.17 0 1,0 -8.34,0a4.17,4.17 0 1,0 8.34,0M272.5,1384.7a4.17,4.17 0 1,0 -8.34,0a4.17,4.17 0 1,0 8.34,0M274.7,1384.7a4.17,4.17 0 1,0 -8.34,0a4.17,4.17 0 1,0 8.34,0M276.9,1384.7a4.17,4.17 0 1,0 -8.34,0a4.17,4.17 0 1,0 8.34,0M279.1,1384.7a4.17,4.17 0 1,0 -8.34,0a4.17,4.17 0 1,0 8.34,0M281.3,1384.7a4.17,4.17 0 1,0 -8.34,0a4.17,4.17 0 1,0 8.34,0M283.5,1384.6a4.17,4.17 0 1,0 -8.34,0a4.17,4.17 0 1,0 8.34,0M285.7,1384.5a4.17,4.17 0 1,0 -8.34,0a4.17,4.17 0 1,0 8.34,0M287.9,1384.4a4.17,4.17 0 1,0 -8.34,0a4.17,4.17 0 1,0 8.34,0M290.1,1384.4a4.17,4.17 0 1,0 -8.34,0a4.17,4.17 0 1,0 8.34,0M292.3,1384.3a4.17,4.17 0 1,0 -8.34,0a4.17,4.17 0 1,0 8.34,0M294.5,1384.2a4.17,4.17 0 1,0 -8.34,0a4.17,4.17 0 1,0 8.34,0M296.7,1384.0a4.17,4.17 0 1,0 -8.34,0a4.17,4.17 0 1,0 8.34,0M298.9,1383.9a4.17,4.17 0 1,0 -8.34,0a4.17,4.17 0 1,0 8.34,0M301.1,1383.8a4.17,4.17 0 1,0 -8.34,0a4.17,4.17 0 1,0 8.34,0M303.3,1383.6a4.17,4.17 0 1,0 -8.34,0a4.17,4.17 0 1,0 8.34,0M305.5,1383.5a4.17,4.17 0 1,0 -8.34,0a4.17,4.17 0 1,0 8.34,0M307.7,1383.5a4.17,4.17 0 1,0 -8.34,0a4.17,4.17 0 1,0 8.34,0M309.9,1383.4a4.17,4.17 0 1,0 -8.34,0a4.17,4.17 0 1,0 8.34,0M312.1,1383.4a4.17,4.17 0 1,0 -8.34,0a4.17,4.17 0 1,0 8.34,0M314.3,1383.3a4.17,4.17 0 1,0 -8.34,0a4.17,4.17 0 1,0 8.34,0M316.5,1383.2a4.17,4.17 0 1,0 -8.34,0a4.17,4.17 0 1,0 8.34,0M318.7,1383.1a4.17,4.17 0 1,0 -8.34,0a4.17,4.17 0 1,0 8.34,0M320.9,1383.0a4.17,4.17 0 1,0 -8.34,0a4.17,4.17 0 1,0 8.34,0M323.1,1382.9a4.17,4.17 0 1,0 -8.34,0a4.17,4.17 0 1,0 8.34,0M325.3,1382.7a4.17,4.17 0 1,0 -8.34,0a4.17,4.17 0 1,0 8.34,0M327.5,1382.5a4.17,4.17 0 1,0 -8.34,0a4.17,4.17 0 1,0 8.34,0M329.7,1382.3a4.17,4.17 0 1,0 -8.34,0a4.17,4.17 0 1,0 8.34,0M331.9,1382.1a4.17,4.17 0 1,0 -8.34,0a4.17,4.17 0 1,0 8.34,0M334.1,1381.8a4.17,4.17 0 1,0 -8.34,0a4.17,4.17 0 1,0 8.34,0M336.3,1381.5a4.17,4.17 0 1,0 -8.34,0a4.17,4.17 0 1,0 8.34,0M338.5,1381.2a4.17,4.17 0 1,0 -8.34,0a4.17,4.17 0 1,0 8.34,0M340.7,1380.8a4.17,4.17 0 1,0 -8.34,0a4.17,4.17 0 1,0 8.34,0M342.9,1380.3a4.17,4.17 0 1,0 -8.34,0a4.17,4.17 0 1,0 8.34,0M345.1,1379.4a4.17,4.17 0 1,0 -8.34,0a4.17,4.17 0 1,0 8.34,0M347.3,1378.5a4.17,4.17 0 1,0 -8.34,0a4.17,4.17 0 1,0 8.34,0M349.5,1377.5a4.17,4.17 0 1,0 -8.34,0a4.17,4.17 0 1,0 8.34,0M351.7,1376.4a4.17,4.17 0 1,0 -8.34,0a4.17,4.17 0 1,0 8.34,0M353.9,1375.2a4.17,4.17 0 1,0 -8.34,0a4.17,4.17 0 1,0 8.34,0M356.1,1373.9a4.17,4.17 0 1,0 -8.34,0a4.17,4.17 0 1,0 8.34,0M358.3,1372.5a4.17,4.17 0 1,0 -8.34,0a4.17,4.17 0 1,0 8.34,0M360.5,1371.1a4.17,4.17 0 1,0 -8.34,0a4.17,4.17 0 1,0 8.34,0M362.7,1369.6a4.17,4.17 0 1,0 -8.34,0a4.17,4.17 0 1,0 8.34,0M364.9,1368.1a4.17,4.17 0 1,0 -8.34,0a4.17,4.17 0 1,0 8.34,0M367.1,1365.8a4.17,4.17 0 1,0 -8.34,0a4.17,4.17 0 1,0 8.34,0M369.3,1362.5a4.17,4.17 0 1,0 -8.34,0a4.17,4.17 0 1,0 8.34,0M371.5,1359.1a4.17,4.17 0 1,0 -8.34,0a4.17,4.17 0 1,0 8.34,0M373.7,1355.7a4.17,4.17 0 1,0 -8.34,0a4.17,4.17 0 1,0 8.34,0M375.9,1352.1a4.17,4.17 0 1,0 -8.34,0a4.17,4.17 0 1,0 8.34,0M378.1,1348.3a4.17,4.17 0 1,0 -8.34,0a4.17,4.17 0 1,0 8.34,0M380.3,1344.4a4.17,4.17 0 1,0 -8.34,0a4.17,4.17 0 1,0 8.34,0M382.5,1341.1a4.17,4.17 0 1,0 -8.34,0a4.17,4.17 0 1,0 8.34,0M384.7,1337.5a4.17,4.17 0 1,0 -8.34,0a4.17,4.17 0 1,0 8.34,0M386.9,1333.5a4.17,4.17 0 1,0 -8.34,0a4.17,4.17 0 1,0 8.34,0M389.1,1328.9a4.17,4.17 0 1,0 -8.34,0a4.17,4.17 0 1,0 8.34,0M391.3,1325.0a4.17,4.17 0 1,0 -8.34,0a4.17,4.17 0 1,0 8.34,0M393.5,1320.8a4.17,4.17 0 1,0 -8.34,0a4.17,4.17 0 1,0 8.34,0M395.7,1316.3a4.17,4.17 0 1,0 -8.34,0a4.17,4.17 0 1,0 8.34,0M397.9,1311.5a4.17,4.17 0 1,0 -8.34,0a4.17,4.17 0 1,0 8.34,0M400.1,1306.6a4.17,4.17 0 1,0 -8.34,0a4.17,4.17 0 1,0 8.34,0M402.3,1301.8a4.17,4.17 0 1,0 -8.34,0a4.17,4.17 0 1,0 8.34,0M404.5,1297.2a4.17,4.17 0 1,0 -8.34,0a4.17,4.17 0 1,0 8.34,0M406.7,1294.2a4.17,4.17 0 1,0 -8.34,0a4.17,4.17 0 1,0 8.34,0M408.9,1291.1a4.17,4.17 0 1,0 -8.34,0a4.17,4.17 0 1,0 8.34,0M411.1,1288.0a4.17,4.17 0 1,0 -8.34,0a4.17,4.17 0 1,0 8.34,0M413.3,1284.8a4.17,4.17 0 1,0 -8.34,0a4.17,4.17 0 1,0 8.34,0M415.5,1281.5a4.17,4.17 0 1,0 -8.34,0a4.17,4.17 0 1,0 8.34,0M417.7,1278.1a4.17,4.17 0 1,0 -8.34,0a4.17,4.17 0 1,0 8.34,0M419.9,1273.8a4.17,4.17 0 1,0 -8.34,0a4.17,4.17 0 1,0 8.34,0M422.1,1267.8a4.17,4.17 0 1,0 -8.34,0a4.17,4.17 0 1,0 8.34,0M424.3,1261.3a4.17,4.17 0 1,0 -8.34,0a4.17,4.17 0 1,0 8.34,0M426.5,1254.1a4.17,4.17 0 1,0 -8.34,0a4.17,4.17 0 1,0 8.34,0M428.7,1246.2a4.17,4.17 0 1,0 -8.34,0a4.17,4.17 0 1,0 8.34,0M430.9,1237.6a4.17,4.17 0 1,0 -8.34,0a4.17,4.17 0 1,0 8.34,0M433.1,1228.6a4.17,4.17 0 1,0 -8.34,0a4.17,4.17 0 1,0 8.34,0M435.3,1219.4a4.17,4.17 0 1,0 -8.34,0a4.17,4.17 0 1,0 8.34,0M437.5,1210.0a4.17,4.17 0 1,0 -8.34,0a4.17,4.17 0 1,0 8.34,0M439.7,1200.6a4.17,4.17 0 1,0 -8.34,0a4.17,4.17 0 1,0 8.34,0M441.9,1191.4a4.17,4.17 0 1,0 -8.34,0a4.17,4.17 0 1,0 8.34,0M444.1,1181.8a4.17,4.17 0 1,0 -8.34,0a4.17,4.17 0 1,0 8.34,0M446.3,1172.0a4.17,4.17 0 1,0 -8.34,0a4.17,4.17 0 1,0 8.34,0M448.5,1162.3a4.17,4.17 0 1,0 -8.34,0a4.17,4.17 0 1,0 8.34,0M450.7,1152.8a4.17,4.17 0 1,0 -8.34,0a4.17,4.17 0 1,0 8.34,0M452.9,1143.3a4.17,4.17 0 1,0 -8.34,0a4.17,4.17 0 1,0 8.34,0M455.1,1133.8a4.17,4.17 0 1,0 -8.34,0a4.17,4.17 0 1,0 8.34,0M457.3,1121.9a4.17,4.17 0 1,0 -8.34,0a4.17,4.17 0 1,0 8.34,0M459.5,1107.7a4.17,4.17 0 1,0 -8.34,0a4.17,4.17 0 1,0 8.34,0M461.7,1093.5a4.17,4.17 0 1,0 -8.34,0a4.17,4.17 0 1,0 8.34,0M463.9,1078.4a4.17,4.17 0 1,0 -8.34,0a4.17,4.17 0 1,0 8.34,0M466.1,1066.1a4.17,4.17 0 1,0 -8.34,0a4.17,4.17 0 1,0 8.34,0M468.3,1055.9a4.17,4.17 0 1,0 -8.34,0a4.17,4.17 0 1,0 8.34,0M470.5,1048.3a4.17,4.17 0 1,0 -8.34,0a4.17,4.17 0 1,0 8.34,0M472.7,1041.4a4.17,4.17 0 1,0 -8.34,0a4.17,4.17 0 1,0 8.34,0M474.9,1035.8a4.17,4.17 0 1,0 -8.34,0a4.17,4.17 0 1,0 8.34,0M477.1,1032.1a4.17,4.17 0 1,0 -8.34,0a4.17,4.17 0 1,0 8.34,0M479.3,1029.5a4.17,4.17 0 1,0 -8.34,0a4.17,4.17 0 1,0 8.34,0M481.5,1028.2a4.17,4.17 0 1,0 -8.34,0a4.17,4.17 0 1,0 8.34,0M483.7,1030.7a4.17,4.17 0 1,0 -8.34,0a4.17,4.17 0 1,0 8.34,0M485.9,1035.5a4.17,4.17 0 1,0 -8.34,0a4.17,4.17 0 1,0 8.34,0M488.1,1041.1a4.17,4.17 0 1,0 -8.34,0a4.17,4.17 0 1,0 8.34,0M490.3,1047.2a4.17,4.17 0 1,0 -8.34,0a4.17,4.17 0 1,0 8.34,0M492.5,1054.9a4.17,4.17 0 1,0 -8.34,0a4.17,4.17 0 1,0 8.34,0M494.7,1066.2a4.17,4.17 0 1,0 -8.34,0a4.17,4.17 0 1,0 8.34,0M496.9,1079.4a4.17,4.17 0 1,0 -8.34,0a4.17,4.17 0 1,0 8.34,0M499.1,1092.9a4.17,4.17 0 1,0 -8.34,0a4.17,4.17 0 1,0 8.34,0M501.3,1105.6a4.17,4.17 0 1,0 -8.34,0a4.17,4.17 0 1,0 8.34,0M503.5,1119.4a4.17,4.17 0 1,0 -8.34,0a4.17,4.17 0 1,0 8.34,0M505.7,1134.6a4.17,4.17 0 1,0 -8.34,0a4.17,4.17 0 1,0 8.34,0M507.9,1151.5a4.17,4.17 0 1,0 -8.34,0a4.17,4.17 0 1,0 8.34,0M510.1,1170.8a4.17,4.17 0 1,0 -8.34,0a4.17,4.17 0 1,0 8.34,0M512.3,1193.0a4.17,4.17 0 1,0 -8.34,0a4.17,4.17 0 1,0 8.34,0M514.5,1209.6a4.17,4.17 0 1,0 -8.34,0a4.17,4.17 0 1,0 8.34,0M516.7,1229.1a4.17,4.17 0 1,0 -8.34,0a4.17,4.17 0 1,0 8.34,0M518.9,1257.5a4.17,4.17 0 1,0 -8.34,0a4.17,4.17 0 1,0 8.34,0M521.1,1282.3a4.17,4.17 0 1,0 -8.34,0a4.17,4.17 0 1,0 8.34,0M523.3,1296.1a4.17,4.17 0 1,0 -8.34,0a4.17,4.17 0 1,0 8.34,0M525.5,1304.8a4.17,4.17 0 1,0 -8.34,0a4.17,4.17 0 1,0 8.34,0M527.7,1311.9a4.17,4.17 0 1,0 -8.34,0a4.17,4.17 0 1,0 8.34,0M529.9,1317.5a4.17,4.17 0 1,0 -8.34,0a4.17,4.17 0 1,0 8.34,0M532.1,1322.2a4.17,4.17 0 1,0 -8.34,0a4.17,4.17 0 1,0 8.34,0M534.3,1326.1a4.17,4.17 0 1,0 -8.34,0a4.17,4.17 0 1,0 8.34,0M536.5,1329.2a4.17,4.17 0 1,0 -8.34,0a4.17,4.17 0 1,0 8.34,0M538.7,1331.6a4.17,4.17 0 1,0 -8.34,0a4.17,4.17 0 1,0 8.34,0M540.9,1333.0a4.17,4.17 0 1,0 -8.34,0a4.17,4.17 0 1,0 8.34,0M543.1,1333.7a4.17,4.17 0 1,0 -8.34,0a4.17,4.17 0 1,0 8.34,0M545.3,1333.8a4.17,4.17 0 1,0 -8.34,0a4.17,4.17 0 1,0 8.34,0M547.5,1333.4a4.17,4.17 0 1,0 -8.34,0a4.17,4.17 0 1,0 8.34,0M549.7,1332.6a4.17,4.17 0 1,0 -8.34,0a4.17,4.17 0 1,0 8.34,0M551.9,1331.6a4.17,4.17 0 1,0 -8.34,0a4.17,4.17 0 1,0 8.34,0M554.1,1330.5a4.17,4.17 0 1,0 -8.34,0a4.17,4.17 0 1,0 8.34,0M556.3,1329.3a4.17,4.17 0 1,0 -8.34,0a4.17,4.17 0 1,0 8.34,0M558.4,1328.1a4.17,4.17 0 1,0 -8.34,0a4.17,4.17 0 1,0 8.34,0M560.6,1326.9a4.17,4.17 0 1,0 -8.34,0a4.17,4.17 0 1,0 8.34,0M562.8,1325.8a4.17,4.17 0 1,0 -8.34,0a4.17,4.17 0 1,0 8.34,0M565.0,1324.8a4.17,4.17 0 1,0 -8.34,0a4.17,4.17 0 1,0 8.34,0M567.2,1323.8a4.17,4.17 0 1,0 -8.34,0a4.17,4.17 0 1,0 8.34,0M569.4,1322.8a4.17,4.17 0 1,0 -8.34,0a4.17,4.17 0 1,0 8.34,0M571.6,1321.9a4.17,4.17 0 1,0 -8.34,0a4.17,4.17 0 1,0 8.34,0M573.8,1320.9a4.17,4.17 0 1,0 -8.34,0a4.17,4.17 0 1,0 8.34,0M576.0,1320.0a4.17,4.17 0 1,0 -8.34,0a4.17,4.17 0 1,0 8.34,0M578.2,1319.0a4.17,4.17 0 1,0 -8.34,0a4.17,4.17 0 1,0 8.34,0M580.4,1318.0a4.17,4.17 0 1,0 -8.34,0a4.17,4.17 0 1,0 8.34,0M582.6,1317.0a4.17,4.17 0 1,0 -8.34,0a4.17,4.17 0 1,0 8.34,0M584.8,1315.9a4.17,4.17 0 1,0 -8.34,0a4.17,4.17 0 1,0 8.34,0M587.0,1314.8a4.17,4.17 0 1,0 -8.34,0a4.17,4.17 0 1,0 8.34,0M589.2,1313.7a4.17,4.17 0 1,0 -8.34,0a4.17,4.17 0 1,0 8.34,0M591.4,1312.5a4.17,4.17 0 1,0 -8.34,0a4.17,4.17 0 1,0 8.34,0M593.6,1311.2a4.17,4.17 0 1,0 -8.34,0a4.17,4.17 0 1,0 8.34,0M595.8,1309.8a4.17,4.17 0 1,0 -8.34,0a4.17,4.17 0 1,0 8.34,0M598.0,1308.3a4.17,4.17 0 1,0 -8.34,0a4.17,4.17 0 1,0 8.34,0M600.2,1306.7a4.17,4.17 0 1,0 -8.34,0a4.17,4.17 0 1,0 8.34,0M602.4,1304.8a4.17,4.17 0 1,0 -8.34,0a4.17,4.17 0 1,0 8.34,0M604.6,1302.8a4.17,4.17 0 1,0 -8.34,0a4.17,4.17 0 1,0 8.34,0M606.8,1300.7a4.17,4.17 0 1,0 -8.34,0a4.17,4.17 0 1,0 8.34,0M609.0,1298.4a4.17,4.17 0 1,0 -8.34,0a4.17,4.17 0 1,0 8.34,0M611.2,1296.0a4.17,4.17 0 1,0 -8.34,0a4.17,4.17 0 1,0 8.34,0M613.4,1293.5a4.17,4.17 0 1,0 -8.34,0a4.17,4.17 0 1,0 8.34,0M615.6,1291.0a4.17,4.17 0 1,0 -8.34,0a4.17,4.17 0 1,0 8.34,0M617.8,1288.4a4.17,4.17 0 1,0 -8.34,0a4.17,4.17 0 1,0 8.34,0M620.0,1285.8a4.17,4.17 0 1,0 -8.34,0a4.17,4.17 0 1,0 8.34,0M622.2,1283.2a4.17,4.17 0 1,0 -8.34,0a4.17,4.17 0 1,0 8.34,0M624.4,1280.7a4.17,4.17 0 1,0 -8.34,0a4.17,4.17 0 1,0 8.34,0M626.6,1278.2a4.17,4.17 0 1,0 -8.34,0a4.17,4.17 0 1,0 8.34,0M628.8,1275.6a4.17,4.17 0 1,0 -8.34,0a4.17,4.17 0 1,0 8.34,0M631.0,1272.8a4.17,4.17 0 1,0 -8.34,0a4.17,4.17 0 1,0 8.34,0M633.2,1270.1a4.17,4.17 0 1,0 -8.34,0a4.17,4.17 0 1,0 8.34,0M635.4,1267.3a4.17,4.17 0 1,0 -8.34,0a4.17,4.17 0 1,0 8.34,0M637.6,1264.7a4.17,4.17 0 1,0 -8.34,0a4.17,4.17 0 1,0 8.34,0M639.8,1262.2a4.17,4.17 0 1,0 -8.34,0a4.17,4.17 0 1,0 8.34,0M642.0,1259.9a4.17,4.17 0 1,0 -8.34,0a4.17,4.17 0 1,0 8.34,0M644.2,1257.8a4.17,4.17 0 1,0 -8.34,0a4.17,4.17 0 1,0 8.34,0M646.4,1255.5a4.17,4.17 0 1,0 -8.34,0a4.17,4.17 0 1,0 8.34,0M648.6,1253.2a4.17,4.17 0 1,0 -8.34,0a4.17,4.17 0 1,0 8.34,0M650.8,1250.9a4.17,4.17 0 1,0 -8.34,0a4.17,4.17 0 1,0 8.34,0M653.0,1248.7a4.17,4.17 0 1,0 -8.34,0a4.17,4.17 0 1,0 8.34,0M655.2,1246.7a4.17,4.17 0 1,0 -8.34,0a4.17,4.17 0 1,0 8.34,0M657.4,1245.0a4.17,4.17 0 1,0 -8.34,0a4.17,4.17 0 1,0 8.34,0M659.6,1243.5a4.17,4.17 0 1,0 -8.34,0a4.17,4.17 0 1,0 8.34,0M661.8,1242.5a4.17,4.17 0 1,0 -8.34,0a4.17,4.17 0 1,0 8.34,0M664.0,1242.0a4.17,4.17 0 1,0 -8.34,0a4.17,4.17 0 1,0 8.34,0M666.2,1242.1a4.17,4.17 0 1,0 -8.34,0a4.17,4.17 0 1,0 8.34,0M668.4,1242.6a4.17,4.17 0 1,0 -8.34,0a4.17,4.17 0 1,0 8.34,0M670.6,1243.5a4.17,4.17 0 1,0 -8.34,0a4.17,4.17 0 1,0 8.34,0M672.8,1244.8a4.17,4.17 0 1,0 -8.34,0a4.17,4.17 0 1,0 8.34,0M675.0,1246.3a4.17,4.17 0 1,0 -8.34,0a4.17,4.17 0 1,0 8.34,0M677.2,1248.2a4.17,4.17 0 1,0 -8.34,0a4.17,4.17 0 1,0 8.34,0M679.4,1250.2a4.17,4.17 0 1,0 -8.34,0a4.17,4.17 0 1,0 8.34,0M681.6,1252.5a4.17,4.17 0 1,0 -8.34,0a4.17,4.17 0 1,0 8.34,0M683.8,1254.8a4.17,4.17 0 1,0 -8.34,0a4.17,4.17 0 1,0 8.34,0M686.0,1257.3a4.17,4.17 0 1,0 -8.34,0a4.17,4.17 0 1,0 8.34,0M688.2,1259.8a4.17,4.17 0 1,0 -8.34,0a4.17,4.17 0 1,0 8.34,0M690.4,1262.7a4.17,4.17 0 1,0 -8.34,0a4.17,4.17 0 1,0 8.34,0M692.6,1266.6a4.17,4.17 0 1,0 -8.34,0a4.17,4.17 0 1,0 8.34,0M694.8,1271.0a4.17,4.17 0 1,0 -8.34,0a4.17,4.17 0 1,0 8.34,0M697.0,1275.8a4.17,4.17 0 1,0 -8.34,0a4.17,4.17 0 1,0 8.34,0M699.2,1280.8a4.17,4.17 0 1,0 -8.34,0a4.17,4.17 0 1,0 8.34,0M701.4,1285.6a4.17,4.17 0 1,0 -8.34,0a4.17,4.17 0 1,0 8.34,0M703.6,1290.1a4.17,4.17 0 1,0 -8.34,0a4.17,4.17 0 1,0 8.34,0M705.8,1294.6a4.17,4.17 0 1,0 -8.34,0a4.17,4.17 0 1,0 8.34,0M708.0,1299.1a4.17,4.17 0 1,0 -8.34,0a4.17,4.17 0 1,0 8.34,0M710.2,1303.5a4.17,4.17 0 1,0 -8.34,0a4.17,4.17 0 1,0 8.34,0M712.4,1307.4a4.17,4.17 0 1,0 -8.34,0a4.17,4.17 0 1,0 8.34,0M714.6,1311.0a4.17,4.17 0 1,0 -8.34,0a4.17,4.17 0 1,0 8.34,0M716.8,1314.3a4.17,4.17 0 1,0 -8.34,0a4.17,4.17 0 1,0 8.34,0M719.0,1317.4a4.17,4.17 0 1,0 -8.34,0a4.17,4.17 0 1,0 8.34,0M721.2,1320.3a4.17,4.17 0 1,0 -8.34,0a4.17,4.17 0 1,0 8.34,0M723.4,1323.2a4.17,4.17 0 1,0 -8.34,0a4.17,4.17 0 1,0 8.34,0M725.6,1325.9a4.17,4.17 0 1,0 -8.34,0a4.17,4.17 0 1,0 8.34,0M727.8,1328.6a4.17,4.17 0 1,0 -8.34,0a4.17,4.17 0 1,0 8.34,0M730.0,1331.2a4.17,4.17 0 1,0 -8.34,0a4.17,4.17 0 1,0 8.34,0M732.2,1333.8a4.17,4.17 0 1,0 -8.34,0a4.17,4.17 0 1,0 8.34,0M734.4,1336.3a4.17,4.17 0 1,0 -8.34,0a4.17,4.17 0 1,0 8.34,0M736.6,1338.7a4.17,4.17 0 1,0 -8.34,0a4.17,4.17 0 1,0 8.34,0M738.8,1341.1a4.17,4.17 0 1,0 -8.34,0a4.17,4.17 0 1,0 8.34,0M741.0,1343.5a4.17,4.17 0 1,0 -8.34,0a4.17,4.17 0 1,0 8.34,0M743.2,1345.7a4.17,4.17 0 1,0 -8.34,0a4.17,4.17 0 1,0 8.34,0M745.4,1348.0a4.17,4.17 0 1,0 -8.34,0a4.17,4.17 0 1,0 8.34,0M747.6,1350.1a4.17,4.17 0 1,0 -8.34,0a4.17,4.17 0 1,0 8.34,0M749.8,1352.2a4.17,4.17 0 1,0 -8.34,0a4.17,4.17 0 1,0 8.34,0M752.0,1354.2a4.17,4.17 0 1,0 -8.34,0a4.17,4.17 0 1,0 8.34,0M754.2,1356.2a4.17,4.17 0 1,0 -8.34,0a4.17,4.17 0 1,0 8.34,0M756.4,1358.1a4.17,4.17 0 1,0 -8.34,0a4.17,4.17 0 1,0 8.34,0M758.6,1359.9a4.17,4.17 0 1,0 -8.34,0a4.17,4.17 0 1,0 8.34,0M760.8,1361.7a4.17,4.17 0 1,0 -8.34,0a4.17,4.17 0 1,0 8.34,0M763.0,1363.4a4.17,4.17 0 1,0 -8.34,0a4.17,4.17 0 1,0 8.34,0M765.2,1365.0a4.17,4.17 0 1,0 -8.34,0a4.17,4.17 0 1,0 8.34,0M767.4,1366.6a4.17,4.17 0 1,0 -8.34,0a4.17,4.17 0 1,0 8.34,0M769.6,1368.2a4.17,4.17 0 1,0 -8.34,0a4.17,4.17 0 1,0 8.34,0M771.8,1369.6a4.17,4.17 0 1,0 -8.34,0a4.17,4.17 0 1,0 8.34,0M774.0,1371.0a4.17,4.17 0 1,0 -8.34,0a4.17,4.17 0 1,0 8.34,0M776.2,1372.3a4.17,4.17 0 1,0 -8.34,0a4.17,4.17 0 1,0 8.34,0M778.4,1373.6a4.17,4.17 0 1,0 -8.34,0a4.17,4.17 0 1,0 8.34,0M780.6,1374.7a4.17,4.17 0 1,0 -8.34,0a4.17,4.17 0 1,0 8.34,0M782.8,1375.8a4.17,4.17 0 1,0 -8.34,0a4.17,4.17 0 1,0 8.34,0M785.0,1376.8a4.17,4.17 0 1,0 -8.34,0a4.17,4.17 0 1,0 8.34,0M787.2,1377.7a4.17,4.17 0 1,0 -8.34,0a4.17,4.17 0 1,0 8.34,0M789.4,1378.6a4.17,4.17 0 1,0 -8.34,0a4.17,4.17 0 1,0 8.34,0M791.6,1379.4a4.17,4.17 0 1,0 -8.34,0a4.17,4.17 0 1,0 8.34,0M793.8,1380.2a4.17,4.17 0 1,0 -8.34,0a4.17,4.17 0 1,0 8.34,0M796.0,1380.8a4.17,4.17 0 1,0 -8.34,0a4.17,4.17 0 1,0 8.34,0M798.2,1381.4a4.17,4.17 0 1,0 -8.34,0a4.17,4.17 0 1,0 8.34,0M800.4,1382.0a4.17,4.17 0 1,0 -8.34,0a4.17,4.17 0 1,0 8.34,0M802.6,1382.5a4.17,4.17 0 1,0 -8.34,0a4.17,4.17 0 1,0 8.34,0M804.8,1382.9a4.17,4.17 0 1,0 -8.34,0a4.17,4.17 0 1,0 8.34,0M807.0,1383.3a4.17,4.17 0 1,0 -8.34,0a4.17,4.17 0 1,0 8.34,0M809.2,1383.7a4.17,4.17 0 1,0 -8.34,0a4.17,4.17 0 1,0 8.34,0M811.4,1384.1a4.17,4.17 0 1,0 -8.34,0a4.17,4.17 0 1,0 8.34,0M813.6,1384.4a4.17,4.17 0 1,0 -8.34,0a4.17,4.17 0 1,0 8.34,0M815.8,1384.6a4.17,4.17 0 1,0 -8.34,0a4.17,4.17 0 1,0 8.34,0M818.0,1384.8a4.17,4.17 0 1,0 -8.34,0a4.17,4.17 0 1,0 8.34,0M820.2,1384.9a4.17,4.17 0 1,0 -8.34,0a4.17,4.17 0 1,0 8.34,0M822.4,1385.1a4.17,4.17 0 1,0 -8.34,0a4.17,4.17 0 1,0 8.34,0M824.6,1385.2a4.17,4.17 0 1,0 -8.34,0a4.17,4.17 0 1,0 8.34,0M826.8,1385.3a4.17,4.17 0 1,0 -8.34,0a4.17,4.17 0 1,0 8.34,0M829.0,1385.3a4.17,4.17 0 1,0 -8.34,0a4.17,4.17 0 1,0 8.34,0M831.2,1385.4a4.17,4.17 0 1,0 -8.34,0a4.17,4.17 0 1,0 8.34,0M833.4,1385.5a4.17,4.17 0 1,0 -8.34,0a4.17,4.17 0 1,0 8.34,0M835.6,1385.5a4.17,4.17 0 1,0 -8.34,0a4.17,4.17 0 1,0 8.34,0M837.8,1385.5a4.17,4.17 0 1,0 -8.34,0a4.17,4.17 0 1,0 8.34,0M840.0,1385.4a4.17,4.17 0 1,0 -8.34,0a4.17,4.17 0 1,0 8.34,0M842.2,1385.4a4.17,4.17 0 1,0 -8.34,0a4.17,4.17 0 1,0 8.34,0M844.4,1385.3a4.17,4.17 0 1,0 -8.34,0a4.17,4.17 0 1,0 8.34,0M846.6,1385.3a4.17,4.17 0 1,0 -8.34,0a4.17,4.17 0 1,0 8.34,0M848.8,1385.3a4.17,4.17 0 1,0 -8.34,0a4.17,4.17 0 1,0 8.34,0M851.0,1385.2a4.17,4.17 0 1,0 -8.34,0a4.17,4.17 0 1,0 8.34,0M853.2,1385.1a4.17,4.17 0 1,0 -8.34,0a4.17,4.17 0 1,0 8.34,0M855.4,1385.1a4.17,4.17 0 1,0 -8.34,0a4.17,4.17 0 1,0 8.34,0M857.6,1385.0a4.17,4.17 0 1,0 -8.34,0a4.17,4.17 0 1,0 8.34,0M859.8,1385.0a4.17,4.17 0 1,0 -8.34,0a4.17,4.17 0 1,0 8.34,0M862.0,1384.9a4.17,4.17 0 1,0 -8.34,0a4.17,4.17 0 1,0 8.34,0M864.2,1384.8a4.17,4.17 0 1,0 -8.34,0a4.17,4.17 0 1,0 8.34,0M866.4,1384.8a4.17,4.17 0 1,0 -8.34,0a4.17,4.17 0 1,0 8.34,0M868.6,1384.7a4.17,4.17 0 1,0 -8.34,0a4.17,4.17 0 1,0 8.34,0M870.8,1384.6a4.17,4.17 0 1,0 -8.34,0a4.17,4.17 0 1,0 8.34,0M872.9,1384.5a4.17,4.17 0 1,0 -8.34,0a4.17,4.17 0 1,0 8.34,0M875.1,1384.5a4.17,4.17 0 1,0 -8.34,0a4.17,4.17 0 1,0 8.34,0M877.3,1384.4a4.17,4.17 0 1,0 -8.34,0a4.17,4.17 0 1,0 8.34,0M879.5,1384.3a4.17,4.17 0 1,0 -8.34,0a4.17,4.17 0 1,0 8.34,0M881.7,1384.2a4.17,4.17 0 1,0 -8.34,0a4.17,4.17 0 1,0 8.34,0M883.9,1384.1a4.17,4.17 0 1,0 -8.34,0a4.17,4.17 0 1,0 8.34,0M886.1,1384.0a4.17,4.17 0 1,0 -8.34,0a4.17,4.17 0 1,0 8.34,0M888.3,1383.9a4.17,4.17 0 1,0 -8.34,0a4.17,4.17 0 1,0 8.34,0M890.5,1383.8a4.17,4.17 0 1,0 -8.34,0a4.17,4.17 0 1,0 8.34,0M892.7,1383.7a4.17,4.17 0 1,0 -8.34,0a4.17,4.17 0 1,0 8.34,0M894.9,1383.6a4.17,4.17 0 1,0 -8.34,0a4.17,4.17 0 1,0 8.34,0M897.1,1383.5a4.17,4.17 0 1,0 -8.34,0a4.17,4.17 0 1,0 8.34,0M899.3,1383.4a4.17,4.17 0 1,0 -8.34,0a4.17,4.17 0 1,0 8.34,0M901.5,1383.3a4.17,4.17 0 1,0 -8.34,0a4.17,4.17 0 1,0 8.34,0M903.7,1383.2a4.17,4.17 0 1,0 -8.34,0a4.17,4.17 0 1,0 8.34,0M905.9,1383.1a4.17,4.17 0 1,0 -8.34,0a4.17,4.17 0 1,0 8.34,0M908.1,1383.0a4.17,4.17 0 1,0 -8.34,0a4.17,4.17 0 1,0 8.34,0M910.3,1382.9a4.17,4.17 0 1,0 -8.34,0a4.17,4.17 0 1,0 8.34,0M912.5,1382.8a4.17,4.17 0 1,0 -8.34,0a4.17,4.17 0 1,0 8.34,0M914.7,1382.7a4.17,4.17 0 1,0 -8.34,0a4.17,4.17 0 1,0 8.34,0M916.9,1382.6a4.17,4.17 0 1,0 -8.34,0a4.17,4.17 0 1,0 8.34,0M919.1,1382.5a4.17,4.17 0 1,0 -8.34,0a4.17,4.17 0 1,0 8.34,0M921.3,1382.3a4.17,4.17 0 1,0 -8.34,0a4.17,4.17 0 1,0 8.34,0M923.5,1382.2a4.17,4.17 0 1,0 -8.34,0a4.17,4.17 0 1,0 8.34,0M925.7,1382.1a4.17,4.17 0 1,0 -8.34,0a4.17,4.17 0 1,0 8.34,0M927.9,1382.0a4.17,4.17 0 1,0 -8.34,0a4.17,4.17 0 1,0 8.34,0M930.1,1381.9a4.17,4.17 0 1,0 -8.34,0a4.17,4.17 0 1,0 8.34,0M932.3,1381.8a4.17,4.17 0 1,0 -8.34,0a4.17,4.17 0 1,0 8.34,0M934.5,1381.7a4.17,4.17 0 1,0 -8.34,0a4.17,4.17 0 1,0 8.34,0M936.7,1381.6a4.17,4.17 0 1,0 -8.34,0a4.17,4.17 0 1,0 8.34,0M938.9,1381.5a4.17,4.17 0 1,0 -8.34,0a4.17,4.17 0 1,0 8.34,0M941.1,1381.4a4.17,4.17 0 1,0 -8.34,0a4.17,4.17 0 1,0 8.34,0M943.3,1381.2a4.17,4.17 0 1,0 -8.34,0a4.17,4.17 0 1,0 8.34,0M945.5,1381.1a4.17,4.17 0 1,0 -8.34,0a4.17,4.17 0 1,0 8.34,0M947.7,1381.0a4.17,4.17 0 1,0 -8.34,0a4.17,4.17 0 1,0 8.34,0M949.9,1380.9a4.17,4.17 0 1,0 -8.34,0a4.17,4.17 0 1,0 8.34,0M952.1,1380.8a4.17,4.17 0 1,0 -8.34,0a4.17,4.17 0 1,0 8.34,0M954.3,1380.7a4.17,4.17 0 1,0 -8.34,0a4.17,4.17 0 1,0 8.34,0M956.5,1380.6a4.17,4.17 0 1,0 -8.34,0a4.17,4.17 0 1,0 8.34,0M958.7,1380.5a4.17,4.17 0 1,0 -8.34,0a4.17,4.17 0 1,0 8.34,0M960.9,1380.4a4.17,4.17 0 1,0 -8.34,0a4.17,4.17 0 1,0 8.34,0M963.1,1380.3a4.17,4.17 0 1,0 -8.34,0a4.17,4.17 0 1,0 8.34,0M965.3,1380.1a4.17,4.17 0 1,0 -8.34,0a4.17,4.17 0 1,0 8.34,0M967.5,1380.0a4.17,4.17 0 1,0 -8.34,0a4.17,4.17 0 1,0 8.34,0M969.7,1379.9a4.17,4.17 0 1,0 -8.34,0a4.17,4.17 0 1,0 8.34,0M971.9,1379.8a4.17,4.17 0 1,0 -8.34,0a4.17,4.17 0 1,0 8.34,0M974.1,1379.7a4.17,4.17 0 1,0 -8.34,0a4.17,4.17 0 1,0 8.34,0M976.3,1379.6a4.17,4.17 0 1,0 -8.34,0a4.17,4.17 0 1,0 8.34,0M978.5,1379.5a4.17,4.17 0 1,0 -8.34,0a4.17,4.17 0 1,0 8.34,0M980.7,1379.4a4.17,4.17 0 1,0 -8.34,0a4.17,4.17 0 1,0 8.34,0M982.9,1379.3a4.17,4.17 0 1,0 -8.34,0a4.17,4.17 0 1,0 8.34,0" fill="none" stroke="#0000ff" stroke-width="4.17"/>
<path d="M176.0,1386.2 L177.0,1386.1 L178.0,1386.1 L179.0,1386.1 L180.0,1386.1 L181.0,1386.1 L182.0,1386.1 L183.0,1386.1 L184.0,1386.1 L185.0,1386.0 L186.0,1386.0 L187.0,1386.0 L188.0,1386.0 L189.0,1386.0 L190.0,1386.0 L191.0,1385.9 L192.0,1385.9 L193.0,1385.9 L194.0,1385.9 L195.0,1385.9 L196.0,1385.9 L197.0,1385.8 L198.0,1385.8 L199.0,1385.8 L200.0,1385.8 L201.0,1385.8 L202.0,1385.7 L203.0,1385.7 L204.0,1385.7 L205.0,1385.7 L206.0,1385.6 L207.0,1385.6 L208.0,1385.6 L209.0,1385.6 L210.0,1385.6 L211.0,1385.5 L212.0,1385.5 L213.0,1385.5 L214.0,1385.5 L215.0,1385.4 L216.0,1385.4 L217.0,1385.4 L218.0,1385.3 L219.0,1385.3 L220.0,1385.3 L221.0,1385.3 L222.0,1385.2 L223.0,1385.2 L224.0,1385.2 L225.0,1385.1 L226.0,1385.1 L227.0,1385.1 L228.0,1385.1 L229.0,1385.0 L230.0,1385.0 L231.0,1385.0 L232.0,1384.9 L233.0,1384.9 L234.0,1384.9 L235.0,1384.8 L236.0,1384.8 L237.0,1384.7 L238.0,1384.7 L239.0,1384.7 L240.0,1384.6 L241.0,1384.6 L242.0,1384.6 L243.0,1384.5 L244.0,1384.5 L245.0,1384.4 L246.0,1384.4 L247.0,1384.4 L248.0,1384.3 L249.0,1384.3 L250.0,1384.2 L251.0,1384.2 L252.0,1384.1 L253.0,1384.1 L254.0,1384.1 L255.0,1384.0 L256.0,1384.0 L257.0,1383.9 L258.0,1383.9 L259.0,1383.8 L260.0,1383.8 L261.0,1383.7 L262.0,1383.7 L263.0,1383.6 L264.0,1383.6 L265.0,1383.5 L266.0,1383.4 L267.0,1383.4 L268.0,1383.3 L269.0,1383.2 L270.0,1383.1 L271.0,1383.1 L272.0,1383.0 L273.0,1382.9 L274.0,1382.8 L275.0,1382.7 L276.0,1382.6 L277.0,1382.5 L278.0,1382.4 L279.0,1382.3 L280.0,1382.2 L281.0,1382.1 L282.0,1381.9 L283.0,1381.8 L284.0,1381.7 L285.0,1381.6 L286.0,1381.4 L287.0,1381.3 L288.0,1381.2 L289.0,1381.0 L290.0,1380.9 L291.0,1380.8 L292.0,1380.6 L293.0,1380.5 L294.0,1380.3 L295.0,1380.2 L296.0,1380.0 L297.0,1379.9 L298.0,1379.7 L299.0,1379.6 L300.0,1379.4 L301.0,1379.3 L302.0,1379.1 L303.0,1378.9 L304.0,1378.8 L305.0,1378.6 L306.0,1378.4 L307.0,1378.3 L308.0,1378.1 L309.0,1377.9 L310.0,1377.8 L311.0,1377.6 L312.0,1377.4 L313.0,1377.2 L314.0,1377.0 L315.0,1376.9 L316.0,1376.7 L317.0,1376.5 L318.0,1376.3 L319.0,1376.1 L320.0,1375.9 L321.0,1375.6 L322.0,1375.4 L323.0,1375.2 L324.0,1375.0 L325.0,1374.7 L326.0,1374.5 L327.0,1374.2 L328.0,1373.9 L329.0,1373.7 L330.0,1373.4 L331.0,1373.1 L332.0,1372.8 L333.0,1372.5 L334.0,1372.2 L335.0,1371.9 L336.0,1371.5 L337.0,1371.2 L338.0,1370.8 L339.0,1370.4 L340.0,1370.0 L341.0,1369.6 L342.0,1369.1 L343.0,1368.7 L344.0,1368.2 L345.0,1367.7 L346.0,1367.1 L347.0,1366.6 L348.0,1366.0 L349.0,1365.5 L350.0,1364.9 L351.0,1364.2 L352.0,1363.6 L353.0,1363.0 L354.0,1362.3 L355.0,1361.6 L356.0,1361.0 L357.0,1360.3 L358.0,1359.6 L359.0,1358.9 L360.0,1358.2 L361.0,1357.4 L362.0,1356.7 L363.0,1356.0 L364.0,1355.2 L365.0,1354.4 L366.0,1353.6 L367.0,1352.8 L368.0,1352.0 L369.0,1351.2 L370.0,1350.3 L371.0,1349.4 L372.0,1348.5 L373.0,1347.6 L374.0,1346.6 L375.0,1345.6 L376.0,1344.6 L377.0,1343.5 L378.0,1342.4 L379.0,1341.3 L380.0,1340.1 L381.0,1338.9 L382.0,1337.6 L383.0,1336.3 L384.0,1334.9 L385.0,1333.4 L386.0,1331.9 L387.0,1330.4 L388.0,1328.7 L389.0,1327.0 L390.0,1325.2 L391.0,1323.4 L392.0,1321.4 L393.0,1319.5 L394.0,1317.4 L395.0,1315.3 L396.0,1313.1 L397.0,1310.9 L398.0,1308.7 L399.0,1306.5 L400.0,1304.3 L401.0,1302.1 L402.0,1299.9 L403.0,1297.7 L404.0,1295.5 L405.0,1293.3 L406.0,1291.1 L407.0,1288.8 L408.0,1286.6 L409.0,1284.3 L410.0,1281.9 L411.0,1279.5 L412.0,1277.0 L413.0,1274.4 L414.0,1271.8 L415.0,1269.1 L416.0,1266.3 L417.0,1263.4 L418.0,1260.4 L419.0,1257.2 L420.0,1253.9 L421.0,1250.4 L422.0,1246.7 L423.0,1243.0 L424.0,1239.1 L425.0,1235.2 L426.0,1231.1 L427.0,1227.0 L428.0,1222.9 L429.0,1218.7 L430.0,1214.5 L431.0,1210.3 L432.0,1206.1 L433.0,1201.9 L434.0,1197.7 L435.0,1193.6 L436.0,1189.3 L437.0,1185.0 L438.0,1180.7 L439.0,1176.3 L440.0,1171.9 L441.0,1167.6 L442.0,1163.2 L443.0,1158.9 L444.0,1154.7 L445.0,1150.4 L446.0,1146.1 L447.0,1141.9 L448.0,1137.6 L449.0,1133.4 L450.0,1129.1 L451.0,1124.8 L452.0,1120.5 L453.0,1116.2 L454.0,1111.9 L455.0,1107.6 L456.0,1103.3 L457.0,1099.0 L458.0,1094.7 L459.0,1090.4 L460.0,1085.9 L461.0,1081.1 L462.0,1076.3 L463.0,1071.5 L464.0,1067.0 L465.0,1062.7 L466.0,1059.0 L467.0,1055.9 L468.0,1053.3 L469.0,1050.8 L470.0,1048.2 L471.0,1045.9 L472.0,1043.8 L473.0,1042.0 L474.0,1040.6 L475.0,1039.7 L476.0,1039.4 L477.0,1039.7 L478.0,1040.7 L479.0,1042.1 L480.0,1044.0 L481.0,1046.2 L482.0,1048.7 L483.0,1051.3 L484.0,1054.0 L485.0,1056.9 L486.0,1060.4 L487.0,1064.6 L488.0,1069.4 L489.0,1074.5 L490.0,1079.9 L491.0,1085.4 L492.0,1090.8 L493.0,1096.3 L494.0,1102.0 L495.0,1108.0 L496.0,1114.3 L497.0,1120.8 L498.0,1127.5 L499.0,1134.6 L500.0,1142.2 L501.0,1150.0 L502.0,1157.7 L503.0,1165.3 L504.0,1173.0 L505.0,1180.7 L506.0,1188.1 L507.0,1195.0 L508.0,1201.0 L509.0,1206.2 L510.0,1211.2 L511.0,1216.7 L512.0,1223.2 L513.0,1231.3 L514.0,1240.2 L515.0,1249.1 L516.0,1257.2 L517.0,1265.0 L518.0,1272.8 L519.0,1280.0 L520.0,1286.5 L521.0,1291.3 L522.0,1295.7 L523.0,1299.9 L524.0,1303.7 L525.0,1307.2 L526.0,1310.4 L527.0,1313.3 L528.0,1315.8 L529.0,1318.2 L530.0,1320.4 L531.0,1322.4 L532.0,1324.3 L533.0,1326.0 L534.0,1327.5 L535.0,1328.9 L536.0,1330.1 L537.0,1331.1 L538.0,1332.0 L539.0,1332.7 L540.0,1333.2 L541.0,1333.6 L542.0,1333.8 L543.0,1333.8 L544.0,1333.8 L545.0,1333.6 L546.0,1333.4 L547.0,1333.1 L548.0,1332.7 L549.0,1332.3 L550.0,1331.8 L551.0,1331.3 L552.0,1330.8 L553.0,1330.3 L554.0,1329.7 L555.0,1329.1 L556.0,1328.6 L557.0,1328.0 L558.0,1327.5 L559.0,1327.0 L560.0,1326.4 L561.0,1325.9 L562.0,1325.4 L563.0,1325.0 L564.0,1324.5 L565.0,1324.0 L566.0,1323.6 L567.0,1323.1 L568.0,1322.7 L569.0,1322.2 L570.0,1321.8 L571.0,1321.4 L572.0,1320.9 L573.0,1320.5 L574.0,1320.0 L575.0,1319.6 L576.0,1319.2 L577.0,1318.7 L578.0,1318.2 L579.0,1317.8 L580.0,1317.3 L581.0,1316.8 L582.0,1316.3 L583.0,1315.9 L584.0,1315.3 L585.0,1314.8 L586.0,1314.3 L587.0,1313.8 L588.0,1313.2 L589.0,1312.6 L590.0,1312.1 L591.0,1311.4 L592.0,1310.8 L593.0,1310.2 L594.0,1309.5 L595.0,1308.8 L596.0,1308.1 L597.0,1307.4 L598.0,1306.6 L599.0,1305.8 L600.0,1304.9 L601.0,1304.0 L602.0,1303.1 L603.0,1302.1 L604.0,1301.1 L605.0,1300.1 L606.0,1299.0 L607.0,1298.0 L608.0,1296.8 L609.0,1295.7 L610.0,1294.6 L611.0,1293.4 L612.0,1292.2 L613.0,1291.0 L614.0,1289.9 L615.0,1288.7 L616.0,1287.5 L617.0,1286.3 L618.0,1285.1 L619.0,1283.9 L620.0,1282.7 L621.0,1281.6 L622.0,1280.4 L623.0,1279.3 L624.0,1278.1 L625.0,1276.9 L626.0,1275.6 L627.0,1274.4 L628.0,1273.1 L629.0,1271.8 L630.0,1270.5 L631.0,1269.2 L632.0,1268.0 L633.0,1266.7 L634.0,1265.5 L635.0,1264.3 L636.0,1263.1 L637.0,1262.0 L638.0,1260.9 L639.0,1259.9 L640.0,1258.9 L641.0,1257.9 L642.0,1256.9 L643.0,1255.8 L644.0,1254.8 L645.0,1253.7 L646.0,1252.6 L647.0,1251.6 L648.0,1250.5 L649.0,1249.5 L650.0,1248.5 L651.0,1247.6 L652.0,1246.7 L653.0,1245.8 L654.0,1245.0 L655.0,1244.3 L656.0,1243.7 L657.0,1243.2 L658.0,1242.7 L659.0,1242.4 L660.0,1242.1 L661.0,1242.0 L662.0,1242.0 L663.0,1242.1 L664.0,1242.3 L665.0,1242.6 L666.0,1243.0 L667.0,1243.5 L668.0,1244.0 L669.0,1244.6 L670.0,1245.3 L671.0,1246.0 L672.0,1246.8 L673.0,1247.7 L674.0,1248.6 L675.0,1249.5 L676.0,1250.5 L677.0,1251.6 L678.0,1252.6 L679.0,1253.7 L680.0,1254.8 L681.0,1256.0 L682.0,1257.1 L683.0,1258.3 L684.0,1259.4 L685.0,1260.6 L686.0,1262.0 L687.0,1263.6 L688.0,1265.3 L689.0,1267.2 L690.0,1269.3 L691.0,1271.4 L692.0,1273.6 L693.0,1275.9 L694.0,1278.2 L695.0,1280.5 L696.0,1282.7 L697.0,1285.0 L698.0,1287.1 L699.0,1289.2 L700.0,1291.2 L701.0,1293.3 L702.0,1295.4 L703.0,1297.4 L704.0,1299.5 L705.0,1301.5 L706.0,1303.4 L707.0,1305.3 L708.0,1307.0 L709.0,1308.7 L710.0,1310.3 L711.0,1311.9 L712.0,1313.4 L713.0,1314.8 L714.0,1316.2 L715.0,1317.6 L716.0,1319.0 L717.0,1320.3 L718.0,1321.6 L719.0,1322.9 L720.0,1324.1 L721.0,1325.4 L722.0,1326.6 L723.0,1327.8 L724.0,1329.1 L725.0,1330.2 L726.0,1331.4 L727.0,1332.6 L728.0,1333.7 L729.0,1334.9 L730.0,1336.0 L731.0,1337.1 L732.0,1338.3 L733.0,1339.4 L734.0,1340.4 L735.0,1341.5 L736.0,1342.6 L737.0,1343.6 L738.0,1344.7 L739.0,1345.7 L740.0,1346.7 L741.0,1347.7 L742.0,1348.7 L743.0,1349.7 L744.0,1350.7 L745.0,1351.6 L746.0,1352.5 L747.0,1353.5 L748.0,1354.4 L749.0,1355.3 L750.0,1356.2 L751.0,1357.0 L752.0,1357.9 L753.0,1358.7 L754.0,1359.6 L755.0,1360.4 L756.0,1361.2 L757.0,1362.0 L758.0,1362.8 L759.0,1363.5 L760.0,1364.3 L761.0,1365.0 L762.0,1365.8 L763.0,1366.5 L764.0,1367.2 L765.0,1367.9 L766.0,1368.6 L767.0,1369.2 L768.0,1369.9 L769.0,1370.5 L770.0,1371.2 L771.0,1371.8 L772.0,1372.3 L773.0,1372.9 L774.0,1373.4 L775.0,1374.0 L776.0,1374.5 L777.0,1375.0 L778.0,1375.5 L779.0,1376.0 L780.0,1376.4 L781.0,1376.9 L782.0,1377.3 L783.0,1377.7 L784.0,1378.1 L785.0,1378.5 L786.0,1378.9 L787.0,1379.3 L788.0,1379.6 L789.0,1380.0 L790.0,1380.3 L791.0,1380.6 L792.0,1380.9 L793.0,1381.2 L794.0,1381.4 L795.0,1381.7 L796.0,1381.9 L797.0,1382.1 L798.0,1382.4 L799.0,1382.6 L800.0,1382.8 L801.0,1383.0 L802.0,1383.2 L803.0,1383.4 L804.0,1383.5 L805.0,1383.7 L806.0,1383.9 L807.0,1384.0 L808.0,1384.2 L809.0,1384.3 L810.0,1384.4 L811.0,1384.5 L812.0,1384.6 L813.0,1384.7 L814.0,1384.8 L815.0,1384.9 L816.0,1384.9 L817.0,1385.0 L818.0,1385.1 L819.0,1385.1 L820.0,1385.2 L821.0,1385.2 L822.0,1385.2 L823.0,1385.3 L824.0,1385.3 L825.0,1385.4 L826.0,1385.4 L827.0,1385.4 L828.0,1385.5 L829.0,1385.5 L830.0,1385.5 L831.0,1385.6 L832.0,1385.6 L833.0,1385.6 L834.0,1385.7 L835.0,1385.7 L836.0,1385.7 L837.0,1385.8 L838.0,1385.8 L839.0,1385.8 L840.0,1385.9 L841.0,1385.9 L842.0,1385.9 L843.0,1385.9 L844.0,1386.0 L845.0,1386.0 L846.0,1386.0 L847.0,1386.0 L848.0,1386.1 L849.0,1386.1 L850.0,1386.1 L851.0,1386.1 L852.0,1386.2 L853.0,1386.2 L854.0,1386.2 L855.0,1386.2 L856.0,1386.3 L857.0,1386.3 L858.0,1386.3 L859.0,1386.3 L860.0,1386.3 L861.0,1386.3 L862.0,1386.4 L863.0,1386.4 L864.0,1386.4 L865.0,1386.4 L866.0,1386.4 L867.0,1386.4 L868.0,1386.5 L869.0,1386.5 L870.0,1386.5 L871.0,1386.5 L872.0,1386.5 L873.0,1386.5 L874.0,1386.5 L875.0,1386.6 L876.0,1386.6 L877.0,1386.6 L878.0,1386.6 L879.0,1386.6 L880.0,1386.6 L881.0,1386.6 L882.0,1386.6 L883.0,1386.6 L884.0,1386.6 L885.0,1386.6 L886.0,1386.7 L887.0,1386.7 L888.0,1386.7 L889.0,1386.7 L890.0,1386.7 L891.0,1386.7 L892.0,1386.7 L893.0,1386.7 L894.0,1386.7 L895.0,1386.7 L896.0,1386.7 L897.0,1386.7 L898.0,1386.7 L899.0,1386.7 L900.0,1386.7 L901.0,1386.7 L902.0,1386.7 L903.0,1386.7 L904.0,1386.7 L905.0,1386.7 L906.0,1386.7 L907.0,1386.7 L908.0,1386.7 L909.0,1386.7 L910.0,1386.7 L911.0,1386.7 L912.0,1386.7 L913.0,1386.7 L914.0,1386.7 L915.0,1386.7 L916.0,1386.7 L917.0,1386.7 L918.0,1386.7 L919.0,1386.7 L920.0,1386.7 L921.0,1386.7 L922.0,1386.7 L923.0,1386.7 L924.0,1386.7 L925.0,1386.7 L926.0,1386.7 L927.0,1386.7 L928.0,1386.7 L929.0,1386.7 L930.0,1386.7 L931.0,1386.7 L932.0,1386.7 L933.0,1386.7 L934.0,1386.7 L935.0,1386.7 L936.0,1386.7 L937.0,1386.7 L938.0,1386.7 L939.0,1386.7 L940.0,1386.7 L941.0,1386.7 L942.0,1386.7 L943.0,1386.7 L944.0,1386.7 L945.0,1386.7 L946.0,1386.7 L947.0,1386.7 L948.0,1386.7 L949.0,1386.7 L950.0,1386.7 L951.0,1386.7 L952.0,1386.7 L953.0,1386.7 L954.0,1386.7 L955.0,1386.7 L956.0,1386.7 L957.0,1386.7 L958.0,1386.7 L959.0,1386.7 L960.0,1386.7 L961.0,1386.7 L962.0,1386.7 L963.0,1386.7 L964.0,1386.7 L965.0,1386.7 L966.0,1386.7 L967.0,1386.7 L968.0,1386.7 L969.0,1386.7 L970.0,1386.7 L971.0,1386.7 L972.0,1386.7 L973.0,1386.7 L974.0,1386.7 L975.0,1386.7 L976.0,1386.7 L977.0,1386.7 L978.0,1386.7 L979.0,1386.7 L979.7,1386.7" fill="none" stroke="#000" stroke-width="5.45" stroke-linejoin="round" stroke-linecap="square"/>
</g>
<rect x="121.7" y="1007.3" width="898.9" height="397.5" fill="none" stroke="#000" stroke-width="3.33"/>
<line x1="161.60" y1="1404.80" x2="161.60" y2="1418.50" stroke="#000" stroke-width="3.33"/>
<line x1="381.53" y1="1404.80" x2="381.53" y2="1418.50" stroke="#000" stroke-width="3.33"/>
<line x1="601.46" y1="1404.80" x2="601.46" y2="1418.50" stroke="#000" stroke-width="3.33"/>
<line x1="821.39" y1="1404.80" x2="821.39" y2="1418.50" stroke="#000" stroke-width="3.33"/>
<line x1="108.00" y1="431.90" x2="121.70" y2="431.90" stroke="#000" stroke-width="3.33"/>
<text x="45.08" y="446.80" font-size="42.30" textLength="50.05" lengthAdjust="spacingAndGlyphs" fill="#000" >0.0</text>
<line x1="108.00" y1="303.10" x2="121.70" y2="303.10" stroke="#000" stroke-width="3.33"/>
<text x="45.09" y="318.30" font-size="42.30" textLength="49.56" lengthAdjust="spacingAndGlyphs" fill="#000" >0.5</text>
<line x1="108.00" y1="174.60" x2="121.70" y2="174.60" stroke="#000" stroke-width="3.33"/>
<text x="44.00" y="189.60" font-size="42.30" textLength="51.16" lengthAdjust="spacingAndGlyphs" fill="#000" >1.0</text>
<line x1="108.00" y1="909.40" x2="121.70" y2="909.40" stroke="#000" stroke-width="3.33"/>
<text x="74.20" y="923.90" font-size="42.30" textLength="21.00" lengthAdjust="spacingAndGlyphs" fill="#000" >0</text>
<line x1="108.00" y1="772.20" x2="121.70" y2="772.20" stroke="#000" stroke-width="3.33"/>
<text x="73.20" y="786.90" font-size="42.30" textLength="20.45" lengthAdjust="spacingAndGlyphs" fill="#000" >1</text>
<line x1="108.00" y1="634.90" x2="121.70" y2="634.90" stroke="#000" stroke-width="3.33"/>
<text x="73.40" y="649.30" font-size="42.30" textLength="22.70" lengthAdjust="spacingAndGlyphs" fill="#000" >2</text>
<line x1="108.00" y1="1386.70" x2="121.70" y2="1386.70" stroke="#000" stroke-width="3.33"/>
<text x="74.20" y="1401.00" font-size="42.30" textLength="21.00" lengthAdjust="spacingAndGlyphs" fill="#000" >0</text>
<line x1="108.00" y1="1297.75" x2="121.70" y2="1297.75" stroke="#000" stroke-width="3.33"/>
<text x="73.20" y="1312.40" font-size="42.30" textLength="20.45" lengthAdjust="spacingAndGlyphs" fill="#000" >1</text>
<line x1="108.00" y1="1208.80" x2="121.70" y2="1208.80" stroke="#000" stroke-width="3.33"/>
<text x="73.40" y="1223.20" font-size="42.30" textLength="22.70" lengthAdjust="spacingAndGlyphs" fill="#000" >2</text>
<line x1="108.00" y1="1119.85" x2="121.70" y2="1119.85" stroke="#000" stroke-width="3.33"/>
<text x="73.51" y="1134.30" font-size="42.30" textLength="21.79" lengthAdjust="spacingAndGlyphs" fill="#000" >3</text>
<line x1="108.00" y1="1030.90" x2="121.70" y2="1030.90" stroke="#000" stroke-width="3.33"/>
<text x="74.32" y="1044.90" font-size="42.30" textLength="19.90" lengthAdjust="spacingAndGlyphs" fill="#000" >4</text>
<text x="130.76" y="1460.10" font-size="42.30" textLength="60.78" lengthAdjust="spacingAndGlyphs" fill="#000" >300</text>
<text x="351.82" y="1460.10" font-size="42.30" textLength="59.69" lengthAdjust="spacingAndGlyphs" fill="#000" >400</text>
<text x="570.22" y="1460.10" font-size="42.30" textLength="61.33" lengthAdjust="spacingAndGlyphs" fill="#000" >500</text>
<text x="791.28" y="1460.10" font-size="42.30" textLength="59.94" lengthAdjust="spacingAndGlyphs" fill="#000" >600</text>
<text x="428.03" y="1515.10" font-size="42.30" textLength="285.83" lengthAdjust="spacingAndGlyphs" fill="#000" >Temperature (K)</text>
<g transform="translate(30.9,901.3) rotate(-90)"><text x="-0.82" y="0.00" font-size="42.30" textLength="336.73" lengthAdjust="spacingAndGlyphs" fill="#000" >TL signal (counts)</text></g>
<text x="123.79" y="46.80" font-size="48.10" textLength="27.87" lengthAdjust="spacingAndGlyphs" fill="#000" >×</text>
<text x="153.01" y="41.10" font-size="42.30" textLength="40.85" lengthAdjust="spacingAndGlyphs" fill="#000" >10</text>
<text x="191.32" y="25.90" font-size="31.72" textLength="17.00" lengthAdjust="spacingAndGlyphs" fill="#000" >5</text>
<text x="123.79" y="523.90" font-size="48.10" textLength="27.87" lengthAdjust="spacingAndGlyphs" fill="#000" >×</text>
<text x="153.01" y="518.20" font-size="42.30" textLength="40.85" lengthAdjust="spacingAndGlyphs" fill="#000" >10</text>
<text x="191.32" y="503.00" font-size="31.72" textLength="17.00" lengthAdjust="spacingAndGlyphs" fill="#000" >5</text>
<text x="123.79" y="1001.40" font-size="48.10" textLength="27.87" lengthAdjust="spacingAndGlyphs" fill="#000" >×</text>
<text x="153.01" y="995.70" font-size="42.30" textLength="40.85" lengthAdjust="spacingAndGlyphs" fill="#000" >10</text>
<text x="192.72" y="980.50" font-size="31.72" textLength="14.74" lengthAdjust="spacingAndGlyphs" fill="#000" >4</text>
<circle cx="279.9" cy="12.9" r="4.17" fill="none" stroke="#0000ff" stroke-width="4.17"/>
<text x="336.10" y="24.00" font-size="33.00" textLength="65.37" lengthAdjust="spacingAndGlyphs" fill="#000" >Data</text>
<line x1="461.2" y1="12.85" x2="529.7" y2="12.85" stroke="#000" stroke-width="5.45"/>
<text x="551.71" y="23.80" font-size="33.00" textLength="105.58" lengthAdjust="spacingAndGlyphs" fill="#000" >Total fit</text>
<rect x="718.3" y="0.5" width="66.7" height="25.3" fill="#d3d3d3"/>
<text x="805.29" y="23.70" font-size="33.00" textLength="88.10" lengthAdjust="spacingAndGlyphs" fill="#000" >Signal</text>
<text x="175.17" y="106.10" font-size="37.40" textLength="217.42" lengthAdjust="spacingAndGlyphs" fill="#000" >Peak number:</text>
<line x1="147.0" y1="143.10" x2="215.1" y2="143.10" stroke="#1f77b4" stroke-width="5.45"/>
<text x="235.45" y="154.60" font-size="33.80" textLength="17.90" lengthAdjust="spacingAndGlyphs" fill="#000" >1</text>
<line x1="147.0" y1="190.00" x2="215.1" y2="190.00" stroke="#ff7f0e" stroke-width="5.45"/>
<text x="236.29" y="201.50" font-size="33.80" textLength="17.21" lengthAdjust="spacingAndGlyphs" fill="#000" >2</text>
<line x1="147.0" y1="236.90" x2="215.1" y2="236.90" stroke="#2ca02c" stroke-width="5.45"/>
<text x="236.20" y="248.40" font-size="33.80" textLength="16.70" lengthAdjust="spacingAndGlyphs" fill="#000" >3</text>
<line x1="312.3" y1="143.10" x2="380.8" y2="143.10" stroke="#d62728" stroke-width="5.45"/>
<text x="402.18" y="154.60" font-size="33.80" textLength="15.92" lengthAdjust="spacingAndGlyphs" fill="#000" >4</text>
<line x1="312.3" y1="190.00" x2="380.8" y2="190.00" stroke="#9467bd" stroke-width="5.45"/>
<text x="400.67" y="201.50" font-size="33.80" textLength="18.37" lengthAdjust="spacingAndGlyphs" fill="#000" >5</text>
<text x="175.17" y="583.50" font-size="37.40" textLength="217.42" lengthAdjust="spacingAndGlyphs" fill="#000" >Peak number:</text>
<line x1="147.0" y1="620.50" x2="215.1" y2="620.50" stroke="#1f77b4" stroke-width="5.45"/>
<text x="235.45" y="632.00" font-size="33.80" textLength="17.90" lengthAdjust="spacingAndGlyphs" fill="#000" >1</text>
<line x1="147.0" y1="667.40" x2="215.1" y2="667.40" stroke="#ff7f0e" stroke-width="5.45"/>
<text x="236.29" y="678.90" font-size="33.80" textLength="17.21" lengthAdjust="spacingAndGlyphs" fill="#000" >2</text>
<line x1="147.0" y1="714.30" x2="215.1" y2="714.30" stroke="#2ca02c" stroke-width="5.45"/>
<text x="236.20" y="725.80" font-size="33.80" textLength="16.70" lengthAdjust="spacingAndGlyphs" fill="#000" >3</text>
<line x1="312.3" y1="620.50" x2="380.8" y2="620.50" stroke="#d62728" stroke-width="5.45"/>
<text x="402.18" y="632.00" font-size="33.80" textLength="15.92" lengthAdjust="spacingAndGlyphs" fill="#000" >4</text>
<line x1="312.3" y1="667.40" x2="380.8" y2="667.40" stroke="#9467bd" stroke-width="5.45"/>
<text x="400.67" y="678.90" font-size="33.80" textLength="18.37" lengthAdjust="spacingAndGlyphs" fill="#000" >5</text>
<text x="175.17" y="1061.10" font-size="37.40" textLength="217.42" lengthAdjust="spacingAndGlyphs" fill="#000" >Peak number:</text>
<line x1="147.0" y1="1098.10" x2="215.1" y2="1098.10" stroke="#1f77b4" stroke-width="5.45"/>
<text x="235.45" y="1109.60" font-size="33.80" textLength="17.90" lengthAdjust="spacingAndGlyphs" fill="#000" >1</text>
<line x1="147.0" y1="1145.00" x2="215.1" y2="1145.00" stroke="#ff7f0e" stroke-width="5.45"/>
<text x="236.29" y="1156.50" font-size="33.80" textLength="17.21" lengthAdjust="spacingAndGlyphs" fill="#000" >2</text>
<line x1="147.0" y1="1191.90" x2="215.1" y2="1191.90" stroke="#2ca02c" stroke-width="5.45"/>
<text x="236.20" y="1203.40" font-size="33.80" textLength="16.70" lengthAdjust="spacingAndGlyphs" fill="#000" >3</text>
<line x1="312.3" y1="1098.10" x2="380.8" y2="1098.10" stroke="#d62728" stroke-width="5.45"/>
<text x="402.18" y="1109.60" font-size="33.80" textLength="15.92" lengthAdjust="spacingAndGlyphs" fill="#000" >4</text>
<line x1="312.3" y1="1145.00" x2="380.8" y2="1145.00" stroke="#9467bd" stroke-width="5.45"/>
<text x="400.67" y="1156.50" font-size="33.80" textLength="18.37" lengthAdjust="spacingAndGlyphs" fill="#000" >5</text>
<line x1="312.3" y1="1191.90" x2="380.8" y2="1191.90" stroke="#8c564b" stroke-width="5.45"/>
<text x="401.31" y="1203.40" font-size="33.80" textLength="17.32" lengthAdjust="spacingAndGlyphs" fill="#000" >6</text>
<text x="694.82" y="152.30" font-size="36.20" textLength="201.87" lengthAdjust="spacingAndGlyphs" fill="#000" >(a) LiF:Mg,Ti</text>
<text x="670.67" y="629.40" font-size="36.20" textLength="249.71" lengthAdjust="spacingAndGlyphs" fill="#000" >(b) LiF:Mg,Cu,P</text>
<text x="702.40" y="1107.00" font-size="36.20" textLength="110.42" lengthAdjust="spacingAndGlyphs" fill="#000" >(c) CaF</text>
<text x="811.24" y="1112.70" font-size="26.93" textLength="16.59" lengthAdjust="spacingAndGlyphs" fill="#000" >2</text>
<text x="826.03" y="1107.00" font-size="36.20" textLength="62.56" lengthAdjust="spacingAndGlyphs" fill="#000" >:Tm</text>
</svg></body></html>
